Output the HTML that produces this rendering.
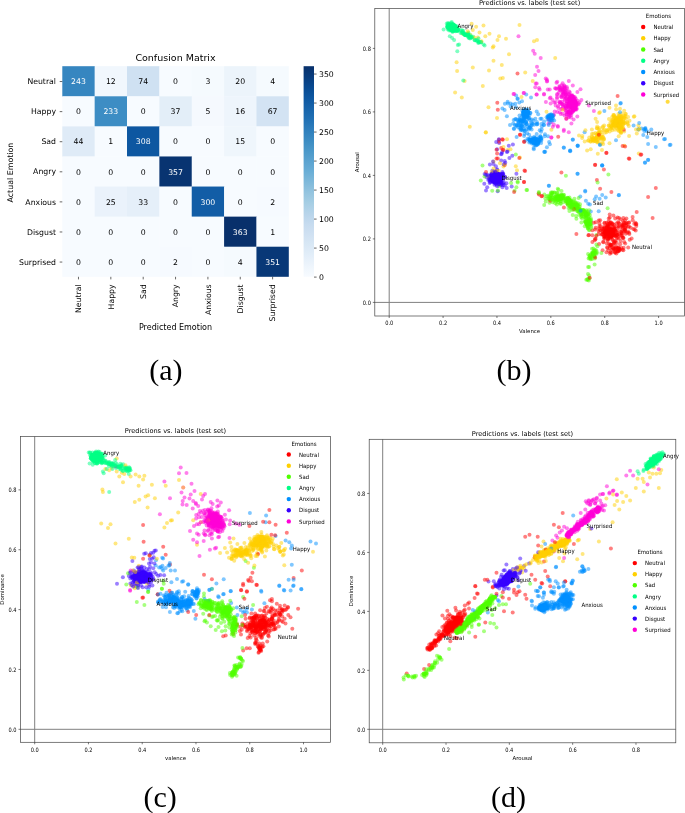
<!DOCTYPE html>
<html><head><meta charset="utf-8"><title>Figure</title>
<style>html,body{margin:0;padding:0;background:#fff}svg{display:block}text{font-family:"DejaVu Sans","Liberation Sans",sans-serif}.N{fill:#ff0000}.H{fill:#ffd000}.S{fill:#4fff00}.A{fill:#00ff86}.X{fill:#0090ff}.D{fill:#3700ff}.P{fill:#ff00d8}</style></head>
<body><svg width="685" height="813" viewBox="0 0 685 813">
<rect width="685" height="813" fill="#fff"/>
<rect x="62.30" y="66.20" width="32.66" height="30.39" fill="#3686c0"/>
<rect x="94.66" y="66.20" width="32.66" height="30.39" fill="#f1f7fd"/>
<rect x="127.01" y="66.20" width="32.66" height="30.39" fill="#cfe1f2"/>
<rect x="159.37" y="66.20" width="32.66" height="30.39" fill="#f7fbff"/>
<rect x="191.73" y="66.20" width="32.66" height="30.39" fill="#f5fafe"/>
<rect x="224.09" y="66.20" width="32.66" height="30.39" fill="#ecf4fb"/>
<rect x="256.44" y="66.20" width="32.36" height="30.39" fill="#f5fafe"/>
<rect x="62.30" y="96.29" width="32.66" height="30.39" fill="#f7fbff"/>
<rect x="94.66" y="96.29" width="32.66" height="30.39" fill="#3d8dc4"/>
<rect x="127.01" y="96.29" width="32.66" height="30.39" fill="#f7fbff"/>
<rect x="159.37" y="96.29" width="32.66" height="30.39" fill="#e3eef8"/>
<rect x="191.73" y="96.29" width="32.66" height="30.39" fill="#f5f9fe"/>
<rect x="224.09" y="96.29" width="32.66" height="30.39" fill="#eef5fc"/>
<rect x="256.44" y="96.29" width="32.36" height="30.39" fill="#d3e3f3"/>
<rect x="62.30" y="126.37" width="32.66" height="30.39" fill="#dfebf7"/>
<rect x="94.66" y="126.37" width="32.66" height="30.39" fill="#f7fbff"/>
<rect x="127.01" y="126.37" width="32.66" height="30.39" fill="#0d57a1"/>
<rect x="159.37" y="126.37" width="32.66" height="30.39" fill="#f7fbff"/>
<rect x="191.73" y="126.37" width="32.66" height="30.39" fill="#f7fbff"/>
<rect x="224.09" y="126.37" width="32.66" height="30.39" fill="#eff6fc"/>
<rect x="256.44" y="126.37" width="32.36" height="30.39" fill="#f7fbff"/>
<rect x="62.30" y="156.46" width="32.66" height="30.39" fill="#f7fbff"/>
<rect x="94.66" y="156.46" width="32.66" height="30.39" fill="#f7fbff"/>
<rect x="127.01" y="156.46" width="32.66" height="30.39" fill="#f7fbff"/>
<rect x="159.37" y="156.46" width="32.66" height="30.39" fill="#083471"/>
<rect x="191.73" y="156.46" width="32.66" height="30.39" fill="#f7fbff"/>
<rect x="224.09" y="156.46" width="32.66" height="30.39" fill="#f7fbff"/>
<rect x="256.44" y="156.46" width="32.36" height="30.39" fill="#f7fbff"/>
<rect x="62.30" y="186.54" width="32.66" height="30.39" fill="#f7fbff"/>
<rect x="94.66" y="186.54" width="32.66" height="30.39" fill="#eaf2fb"/>
<rect x="127.01" y="186.54" width="32.66" height="30.39" fill="#e5eff9"/>
<rect x="159.37" y="186.54" width="32.66" height="30.39" fill="#f7fbff"/>
<rect x="191.73" y="186.54" width="32.66" height="30.39" fill="#125da6"/>
<rect x="224.09" y="186.54" width="32.66" height="30.39" fill="#f7fbff"/>
<rect x="256.44" y="186.54" width="32.36" height="30.39" fill="#f6faff"/>
<rect x="62.30" y="216.63" width="32.66" height="30.39" fill="#f7fbff"/>
<rect x="94.66" y="216.63" width="32.66" height="30.39" fill="#f7fbff"/>
<rect x="127.01" y="216.63" width="32.66" height="30.39" fill="#f7fbff"/>
<rect x="159.37" y="216.63" width="32.66" height="30.39" fill="#f7fbff"/>
<rect x="191.73" y="216.63" width="32.66" height="30.39" fill="#f7fbff"/>
<rect x="224.09" y="216.63" width="32.66" height="30.39" fill="#08306b"/>
<rect x="256.44" y="216.63" width="32.36" height="30.39" fill="#f7fbff"/>
<rect x="62.30" y="246.71" width="32.66" height="30.09" fill="#f7fbff"/>
<rect x="94.66" y="246.71" width="32.66" height="30.09" fill="#f7fbff"/>
<rect x="127.01" y="246.71" width="32.66" height="30.09" fill="#f7fbff"/>
<rect x="159.37" y="246.71" width="32.66" height="30.09" fill="#f6faff"/>
<rect x="191.73" y="246.71" width="32.66" height="30.09" fill="#f7fbff"/>
<rect x="224.09" y="246.71" width="32.66" height="30.09" fill="#f5fafe"/>
<rect x="256.44" y="246.71" width="32.36" height="30.09" fill="#083877"/>
<text x="78.48" y="84.24" font-size="7.75" text-anchor="middle" fill="#fff">243</text>
<text x="110.84" y="84.24" font-size="7.75" text-anchor="middle" fill="#000">12</text>
<text x="143.19" y="84.24" font-size="7.75" text-anchor="middle" fill="#000">74</text>
<text x="175.55" y="84.24" font-size="7.75" text-anchor="middle" fill="#000">0</text>
<text x="207.91" y="84.24" font-size="7.75" text-anchor="middle" fill="#000">3</text>
<text x="240.26" y="84.24" font-size="7.75" text-anchor="middle" fill="#000">20</text>
<text x="272.62" y="84.24" font-size="7.75" text-anchor="middle" fill="#000">4</text>
<text x="78.48" y="114.33" font-size="7.75" text-anchor="middle" fill="#000">0</text>
<text x="110.84" y="114.33" font-size="7.75" text-anchor="middle" fill="#fff">233</text>
<text x="143.19" y="114.33" font-size="7.75" text-anchor="middle" fill="#000">0</text>
<text x="175.55" y="114.33" font-size="7.75" text-anchor="middle" fill="#000">37</text>
<text x="207.91" y="114.33" font-size="7.75" text-anchor="middle" fill="#000">5</text>
<text x="240.26" y="114.33" font-size="7.75" text-anchor="middle" fill="#000">16</text>
<text x="272.62" y="114.33" font-size="7.75" text-anchor="middle" fill="#000">67</text>
<text x="78.48" y="144.41" font-size="7.75" text-anchor="middle" fill="#000">44</text>
<text x="110.84" y="144.41" font-size="7.75" text-anchor="middle" fill="#000">1</text>
<text x="143.19" y="144.41" font-size="7.75" text-anchor="middle" fill="#fff">308</text>
<text x="175.55" y="144.41" font-size="7.75" text-anchor="middle" fill="#000">0</text>
<text x="207.91" y="144.41" font-size="7.75" text-anchor="middle" fill="#000">0</text>
<text x="240.26" y="144.41" font-size="7.75" text-anchor="middle" fill="#000">15</text>
<text x="272.62" y="144.41" font-size="7.75" text-anchor="middle" fill="#000">0</text>
<text x="78.48" y="174.50" font-size="7.75" text-anchor="middle" fill="#000">0</text>
<text x="110.84" y="174.50" font-size="7.75" text-anchor="middle" fill="#000">0</text>
<text x="143.19" y="174.50" font-size="7.75" text-anchor="middle" fill="#000">0</text>
<text x="175.55" y="174.50" font-size="7.75" text-anchor="middle" fill="#fff">357</text>
<text x="207.91" y="174.50" font-size="7.75" text-anchor="middle" fill="#000">0</text>
<text x="240.26" y="174.50" font-size="7.75" text-anchor="middle" fill="#000">0</text>
<text x="272.62" y="174.50" font-size="7.75" text-anchor="middle" fill="#000">0</text>
<text x="78.48" y="204.59" font-size="7.75" text-anchor="middle" fill="#000">0</text>
<text x="110.84" y="204.59" font-size="7.75" text-anchor="middle" fill="#000">25</text>
<text x="143.19" y="204.59" font-size="7.75" text-anchor="middle" fill="#000">33</text>
<text x="175.55" y="204.59" font-size="7.75" text-anchor="middle" fill="#000">0</text>
<text x="207.91" y="204.59" font-size="7.75" text-anchor="middle" fill="#fff">300</text>
<text x="240.26" y="204.59" font-size="7.75" text-anchor="middle" fill="#000">0</text>
<text x="272.62" y="204.59" font-size="7.75" text-anchor="middle" fill="#000">2</text>
<text x="78.48" y="234.67" font-size="7.75" text-anchor="middle" fill="#000">0</text>
<text x="110.84" y="234.67" font-size="7.75" text-anchor="middle" fill="#000">0</text>
<text x="143.19" y="234.67" font-size="7.75" text-anchor="middle" fill="#000">0</text>
<text x="175.55" y="234.67" font-size="7.75" text-anchor="middle" fill="#000">0</text>
<text x="207.91" y="234.67" font-size="7.75" text-anchor="middle" fill="#000">0</text>
<text x="240.26" y="234.67" font-size="7.75" text-anchor="middle" fill="#fff">363</text>
<text x="272.62" y="234.67" font-size="7.75" text-anchor="middle" fill="#000">1</text>
<text x="78.48" y="264.76" font-size="7.75" text-anchor="middle" fill="#000">0</text>
<text x="110.84" y="264.76" font-size="7.75" text-anchor="middle" fill="#000">0</text>
<text x="143.19" y="264.76" font-size="7.75" text-anchor="middle" fill="#000">0</text>
<text x="175.55" y="264.76" font-size="7.75" text-anchor="middle" fill="#000">2</text>
<text x="207.91" y="264.76" font-size="7.75" text-anchor="middle" fill="#000">0</text>
<text x="240.26" y="264.76" font-size="7.75" text-anchor="middle" fill="#000">4</text>
<text x="272.62" y="264.76" font-size="7.75" text-anchor="middle" fill="#fff">351</text>
<line x1="59.699999999999996" y1="81.54" x2="62.3" y2="81.54" stroke="#000" stroke-width="0.6"/>
<text x="56.0" y="84.19" font-size="7.75" text-anchor="end" fill="#000">Neutral</text>
<line x1="78.48" y1="276.8" x2="78.48" y2="279.40000000000003" stroke="#000" stroke-width="0.6"/>
<text x="81.28" y="284.40" font-size="7.75" text-anchor="end" fill="#000" transform="rotate(-90 81.28 284.40)">Neutral</text>
<line x1="59.699999999999996" y1="111.63" x2="62.3" y2="111.63" stroke="#000" stroke-width="0.6"/>
<text x="56.0" y="114.28" font-size="7.75" text-anchor="end" fill="#000">Happy</text>
<line x1="110.84" y1="276.8" x2="110.84" y2="279.40000000000003" stroke="#000" stroke-width="0.6"/>
<text x="113.64" y="284.40" font-size="7.75" text-anchor="end" fill="#000" transform="rotate(-90 113.64 284.40)">Happy</text>
<line x1="59.699999999999996" y1="141.71" x2="62.3" y2="141.71" stroke="#000" stroke-width="0.6"/>
<text x="56.0" y="144.36" font-size="7.75" text-anchor="end" fill="#000">Sad</text>
<line x1="143.19" y1="276.8" x2="143.19" y2="279.40000000000003" stroke="#000" stroke-width="0.6"/>
<text x="145.99" y="284.40" font-size="7.75" text-anchor="end" fill="#000" transform="rotate(-90 145.99 284.40)">Sad</text>
<line x1="59.699999999999996" y1="171.80" x2="62.3" y2="171.80" stroke="#000" stroke-width="0.6"/>
<text x="56.0" y="174.45" font-size="7.75" text-anchor="end" fill="#000">Angry</text>
<line x1="175.55" y1="276.8" x2="175.55" y2="279.40000000000003" stroke="#000" stroke-width="0.6"/>
<text x="178.35" y="284.40" font-size="7.75" text-anchor="end" fill="#000" transform="rotate(-90 178.35 284.40)">Angry</text>
<line x1="59.699999999999996" y1="201.89" x2="62.3" y2="201.89" stroke="#000" stroke-width="0.6"/>
<text x="56.0" y="204.54" font-size="7.75" text-anchor="end" fill="#000">Anxious</text>
<line x1="207.91" y1="276.8" x2="207.91" y2="279.40000000000003" stroke="#000" stroke-width="0.6"/>
<text x="210.71" y="284.40" font-size="7.75" text-anchor="end" fill="#000" transform="rotate(-90 210.71 284.40)">Anxious</text>
<line x1="59.699999999999996" y1="231.97" x2="62.3" y2="231.97" stroke="#000" stroke-width="0.6"/>
<text x="56.0" y="234.62" font-size="7.75" text-anchor="end" fill="#000">Disgust</text>
<line x1="240.26" y1="276.8" x2="240.26" y2="279.40000000000003" stroke="#000" stroke-width="0.6"/>
<text x="243.06" y="284.40" font-size="7.75" text-anchor="end" fill="#000" transform="rotate(-90 243.06 284.40)">Disgust</text>
<line x1="59.699999999999996" y1="262.06" x2="62.3" y2="262.06" stroke="#000" stroke-width="0.6"/>
<text x="56.0" y="264.71" font-size="7.75" text-anchor="end" fill="#000">Surprised</text>
<line x1="272.62" y1="276.8" x2="272.62" y2="279.40000000000003" stroke="#000" stroke-width="0.6"/>
<text x="275.42" y="284.40" font-size="7.75" text-anchor="end" fill="#000" transform="rotate(-90 275.42 284.40)">Surprised</text>
<text x="175.5" y="61" font-size="9.5" text-anchor="middle" fill="#000">Confusion Matrix</text>
<text x="175.5" y="330.2" font-size="8" text-anchor="middle" fill="#000">Predicted Emotion</text>
<text x="13.5" y="172.6" font-size="7.9" text-anchor="middle" fill="#000" transform="rotate(-90 13.5 172.6)">Actual Emotion</text>
<defs><linearGradient id="cb" x1="0" y1="1" x2="0" y2="0"><stop offset="0.0" stop-color="#f7fbff"/><stop offset="0.05" stop-color="#eef5fc"/><stop offset="0.1" stop-color="#e3eef9"/><stop offset="0.15" stop-color="#d9e8f5"/><stop offset="0.2" stop-color="#d0e1f2"/><stop offset="0.25" stop-color="#c6dbef"/><stop offset="0.3" stop-color="#b7d4ea"/><stop offset="0.35" stop-color="#a6cee4"/><stop offset="0.4" stop-color="#94c4df"/><stop offset="0.45" stop-color="#7fb9da"/><stop offset="0.5" stop-color="#6aaed6"/><stop offset="0.55" stop-color="#5ba3d0"/><stop offset="0.6" stop-color="#4a98c9"/><stop offset="0.65" stop-color="#3b8bc2"/><stop offset="0.7" stop-color="#2e7ebc"/><stop offset="0.75" stop-color="#2070b4"/><stop offset="0.8" stop-color="#1764ab"/><stop offset="0.85" stop-color="#0d57a1"/><stop offset="0.9" stop-color="#084a91"/><stop offset="0.95" stop-color="#083c7d"/><stop offset="1.0" stop-color="#08306b"/></linearGradient></defs>
<rect x="303.6" y="66.2" width="10.399999999999977" height="210.60000000000002" fill="url(#cb)"/>
<line x1="314.0" y1="277.10" x2="316.6" y2="277.10" stroke="#000" stroke-width="0.6"/>
<text x="319.0" y="280.30" font-size="7.75" text-anchor="start" fill="#000">0</text>
<line x1="314.0" y1="248.09" x2="316.6" y2="248.09" stroke="#000" stroke-width="0.6"/>
<text x="319.0" y="251.29" font-size="7.75" text-anchor="start" fill="#000">50</text>
<line x1="314.0" y1="219.08" x2="316.6" y2="219.08" stroke="#000" stroke-width="0.6"/>
<text x="319.0" y="222.28" font-size="7.75" text-anchor="start" fill="#000">100</text>
<line x1="314.0" y1="190.08" x2="316.6" y2="190.08" stroke="#000" stroke-width="0.6"/>
<text x="319.0" y="193.28" font-size="7.75" text-anchor="start" fill="#000">150</text>
<line x1="314.0" y1="161.07" x2="316.6" y2="161.07" stroke="#000" stroke-width="0.6"/>
<text x="319.0" y="164.27" font-size="7.75" text-anchor="start" fill="#000">200</text>
<line x1="314.0" y1="132.06" x2="316.6" y2="132.06" stroke="#000" stroke-width="0.6"/>
<text x="319.0" y="135.26" font-size="7.75" text-anchor="start" fill="#000">250</text>
<line x1="314.0" y1="103.05" x2="316.6" y2="103.05" stroke="#000" stroke-width="0.6"/>
<text x="319.0" y="106.25" font-size="7.75" text-anchor="start" fill="#000">300</text>
<line x1="314.0" y1="74.04" x2="316.6" y2="74.04" stroke="#000" stroke-width="0.6"/>
<text x="319.0" y="77.24" font-size="7.75" text-anchor="start" fill="#000">350</text>
<g fill-opacity=".5">
<circle class="A" cx="452.1" cy="27.4" r="2"/><circle class="A" cx="453.9" cy="25.3" r="2"/><circle class="P" cx="571.8" cy="104.9" r="2"/><circle class="S" cx="575.4" cy="209.2" r="2"/><circle class="N" cx="524.0" cy="182.0" r="2"/><circle class="N" cx="604.9" cy="233.3" r="2"/><circle class="P" cx="571.1" cy="96.6" r="2"/><circle class="A" cx="452.5" cy="27.8" r="2"/><circle class="D" cx="495.5" cy="178.6" r="2"/><circle class="P" cx="575.1" cy="101.1" r="2"/><circle class="H" cx="555.2" cy="57.9" r="2"/><circle class="H" cx="485.3" cy="36.2" r="2"/><circle class="H" cx="610.5" cy="122.2" r="2"/><circle class="H" cx="618.2" cy="123.1" r="2"/><circle class="S" cx="568.5" cy="202.4" r="2"/><circle class="H" cx="617.0" cy="126.4" r="2"/><circle class="A" cx="462.9" cy="32.7" r="2"/><circle class="D" cx="499.0" cy="174.9" r="2"/><circle class="P" cx="547.2" cy="81.1" r="2"/><circle class="H" cx="517.0" cy="170.3" r="2"/><circle class="P" cx="572.2" cy="99.0" r="2"/><circle class="H" cx="599.7" cy="137.7" r="2"/><circle class="X" cx="536.7" cy="111.4" r="2"/><circle class="S" cx="587.7" cy="225.1" r="2"/><circle class="S" cx="589.4" cy="257.7" r="2"/><circle class="S" cx="556.9" cy="197.6" r="2"/><circle class="A" cx="453.0" cy="25.5" r="2"/><circle class="X" cx="550.0" cy="116.4" r="2"/><circle class="X" cx="598.7" cy="211.2" r="2"/><circle class="H" cx="593.3" cy="138.5" r="2"/><circle class="N" cx="619.0" cy="218.0" r="2"/><circle class="N" cx="621.5" cy="232.0" r="2"/><circle class="A" cx="453.0" cy="24.6" r="2"/><circle class="A" cx="455.9" cy="27.9" r="2"/><circle class="H" cx="621.2" cy="118.2" r="2"/><circle class="N" cx="614.4" cy="243.3" r="2"/><circle class="N" cx="609.9" cy="237.9" r="2"/><circle class="X" cx="526.8" cy="114.5" r="2"/><circle class="D" cx="506.4" cy="183.3" r="2"/><circle class="X" cx="527.5" cy="109.5" r="2"/><circle class="D" cx="496.1" cy="177.7" r="2"/><circle class="S" cx="551.4" cy="198.0" r="2"/><circle class="A" cx="449.4" cy="27.0" r="2"/><circle class="D" cx="495.2" cy="179.3" r="2"/><circle class="D" cx="493.3" cy="175.5" r="2"/><circle class="P" cx="568.4" cy="93.9" r="2"/><circle class="P" cx="564.3" cy="97.2" r="2"/><circle class="A" cx="453.3" cy="26.6" r="2"/><circle class="A" cx="450.4" cy="27.4" r="2"/><circle class="X" cx="550.8" cy="118.2" r="2"/><circle class="P" cx="562.6" cy="92.6" r="2"/><circle class="D" cx="496.5" cy="175.0" r="2"/><circle class="A" cx="452.9" cy="29.4" r="2"/><circle class="H" cx="489.0" cy="70.4" r="2"/><circle class="H" cx="628.8" cy="126.1" r="2"/><circle class="N" cx="619.4" cy="248.7" r="2"/><circle class="S" cx="570.4" cy="202.7" r="2"/><circle class="S" cx="550.3" cy="197.6" r="2"/><circle class="X" cx="524.7" cy="123.0" r="2"/><circle class="D" cx="500.4" cy="182.2" r="2"/><circle class="S" cx="548.0" cy="195.7" r="2"/><circle class="N" cx="524.3" cy="141.7" r="2"/><circle class="A" cx="447.7" cy="25.1" r="2"/><circle class="D" cx="495.4" cy="175.7" r="2"/><circle class="A" cx="449.6" cy="27.6" r="2"/><circle class="A" cx="449.4" cy="27.7" r="2"/><circle class="S" cx="580.6" cy="209.4" r="2"/><circle class="N" cx="606.8" cy="243.5" r="2"/><circle class="N" cx="606.4" cy="152.8" r="2"/><circle class="H" cx="592.1" cy="139.9" r="2"/><circle class="D" cx="496.4" cy="179.9" r="2"/><circle class="X" cx="563.9" cy="147.8" r="2"/><circle class="A" cx="478.3" cy="43.1" r="2"/><circle class="S" cx="552.4" cy="192.3" r="2"/><circle class="N" cx="607.6" cy="240.8" r="2"/><circle class="P" cx="569.2" cy="98.4" r="2"/><circle class="X" cx="536.7" cy="123.8" r="2"/><circle class="S" cx="595.6" cy="253.8" r="2"/><circle class="H" cx="620.8" cy="132.0" r="2"/><circle class="A" cx="481.0" cy="42.5" r="2"/><circle class="S" cx="588.9" cy="226.9" r="2"/><circle class="A" cx="448.3" cy="26.2" r="2"/><circle class="S" cx="589.4" cy="224.1" r="2"/><circle class="H" cx="617.7" cy="125.7" r="2"/><circle class="N" cx="608.0" cy="239.5" r="2"/><circle class="S" cx="594.8" cy="256.8" r="2"/><circle class="N" cx="629.4" cy="234.1" r="2"/><circle class="D" cx="494.8" cy="177.7" r="2"/><circle class="S" cx="557.9" cy="199.9" r="2"/><circle class="D" cx="498.3" cy="179.2" r="2"/><circle class="D" cx="493.8" cy="174.5" r="2"/><circle class="N" cx="614.7" cy="248.8" r="2"/><circle class="P" cx="563.4" cy="94.1" r="2"/><circle class="D" cx="498.7" cy="175.4" r="2"/><circle class="X" cx="551.1" cy="116.8" r="2"/><circle class="S" cx="587.2" cy="279.4" r="2"/><circle class="P" cx="574.3" cy="104.5" r="2"/><circle class="D" cx="491.6" cy="175.0" r="2"/><circle class="D" cx="501.2" cy="160.4" r="2"/><circle class="D" cx="502.3" cy="176.3" r="2"/><circle class="S" cx="592.1" cy="252.8" r="2"/><circle class="X" cx="518.2" cy="121.9" r="2"/><circle class="S" cx="560.1" cy="203.6" r="2"/><circle class="N" cx="617.5" cy="217.5" r="2"/><circle class="P" cx="536.7" cy="83.6" r="2"/><circle class="D" cx="491.3" cy="175.2" r="2"/><circle class="D" cx="499.2" cy="183.9" r="2"/><circle class="H" cx="616.9" cy="121.9" r="2"/><circle class="A" cx="452.7" cy="27.6" r="2"/><circle class="H" cx="625.4" cy="116.1" r="2"/><circle class="A" cx="454.0" cy="26.8" r="2"/><circle class="S" cx="572.3" cy="204.2" r="2"/><circle class="P" cx="564.6" cy="89.2" r="2"/><circle class="X" cx="572.9" cy="139.6" r="2"/><circle class="A" cx="451.1" cy="30.6" r="2"/><circle class="D" cx="501.8" cy="178.7" r="2"/><circle class="A" cx="456.7" cy="29.0" r="2"/><circle class="S" cx="568.5" cy="207.9" r="2"/><circle class="N" cx="602.6" cy="250.2" r="2"/><circle class="S" cx="559.6" cy="197.1" r="2"/><circle class="X" cx="530.3" cy="128.3" r="2"/><circle class="D" cx="491.9" cy="174.3" r="2"/><circle class="A" cx="450.9" cy="26.8" r="2"/><circle class="P" cx="570.7" cy="104.5" r="2"/><circle class="X" cx="539.5" cy="141.5" r="2"/><circle class="D" cx="494.2" cy="171.2" r="2"/><circle class="A" cx="449.7" cy="26.2" r="2"/><circle class="H" cx="618.2" cy="117.2" r="2"/><circle class="N" cx="610.1" cy="233.3" r="2"/><circle class="P" cx="560.4" cy="102.3" r="2"/><circle class="X" cx="531.7" cy="140.2" r="2"/><circle class="P" cx="523.6" cy="93.1" r="2"/><circle class="P" cx="568.4" cy="112.0" r="2"/><circle class="H" cx="620.6" cy="121.6" r="2"/><circle class="P" cx="570.9" cy="104.9" r="2"/><circle class="X" cx="665.0" cy="139.0" r="2"/><circle class="N" cx="604.7" cy="236.8" r="2"/><circle class="S" cx="571.4" cy="201.7" r="2"/><circle class="S" cx="552.7" cy="193.1" r="2"/><circle class="X" cx="532.4" cy="142.5" r="2"/><circle class="S" cx="581.2" cy="217.2" r="2"/><circle class="H" cx="623.1" cy="124.4" r="2"/><circle class="D" cx="484.3" cy="183.7" r="2"/><circle class="X" cx="541.6" cy="118.7" r="2"/><circle class="A" cx="478.8" cy="42.6" r="2"/><circle class="P" cx="567.1" cy="112.6" r="2"/><circle class="X" cx="527.2" cy="112.4" r="2"/><circle class="N" cx="599.5" cy="226.2" r="2"/><circle class="P" cx="572.2" cy="112.5" r="2"/><circle class="S" cx="560.8" cy="195.8" r="2"/><circle class="H" cx="615.9" cy="127.9" r="2"/><circle class="H" cx="503.5" cy="166.6" r="2"/><circle class="P" cx="518.5" cy="36.2" r="2"/><circle class="H" cx="624.3" cy="145.8" r="2"/><circle class="N" cx="636.3" cy="226.1" r="2"/><circle class="A" cx="452.2" cy="26.0" r="2"/><circle class="X" cx="527.4" cy="126.5" r="2"/><circle class="P" cx="575.3" cy="109.1" r="2"/><circle class="N" cx="576.4" cy="234.1" r="2"/><circle class="X" cx="526.0" cy="117.3" r="2"/><circle class="D" cx="494.3" cy="175.9" r="2"/><circle class="N" cx="617.6" cy="96.1" r="2"/><circle class="X" cx="526.6" cy="114.4" r="2"/><circle class="X" cx="525.5" cy="112.9" r="2"/><circle class="N" cx="624.8" cy="230.2" r="2"/><circle class="A" cx="484.6" cy="45.4" r="2"/><circle class="H" cx="618.8" cy="118.9" r="2"/><circle class="H" cx="667.5" cy="101.8" r="2"/><circle class="S" cx="578.1" cy="205.8" r="2"/><circle class="N" cx="605.8" cy="236.1" r="2"/><circle class="X" cx="523.4" cy="120.8" r="2"/><circle class="S" cx="558.5" cy="196.5" r="2"/><circle class="S" cx="583.3" cy="210.3" r="2"/><circle class="N" cx="616.4" cy="253.4" r="2"/><circle class="P" cx="575.4" cy="108.6" r="2"/><circle class="D" cx="494.8" cy="175.3" r="2"/><circle class="S" cx="516.4" cy="187.2" r="2"/><circle class="N" cx="617.9" cy="230.5" r="2"/><circle class="D" cx="494.8" cy="173.9" r="2"/><circle class="N" cx="612.0" cy="246.7" r="2"/><circle class="H" cx="615.8" cy="119.4" r="2"/><circle class="P" cx="563.9" cy="129.8" r="2"/><circle class="A" cx="452.0" cy="25.7" r="2"/><circle class="A" cx="449.4" cy="26.9" r="2"/><circle class="S" cx="572.3" cy="210.0" r="2"/><circle class="X" cx="523.6" cy="119.1" r="2"/><circle class="A" cx="451.5" cy="28.6" r="2"/><circle class="X" cx="516.1" cy="118.9" r="2"/><circle class="H" cx="616.8" cy="124.6" r="2"/><circle class="A" cx="452.9" cy="26.1" r="2"/><circle class="A" cx="454.7" cy="26.6" r="2"/><circle class="N" cx="611.1" cy="228.9" r="2"/><circle class="H" cx="624.1" cy="131.6" r="2"/><circle class="X" cx="531.7" cy="139.9" r="2"/><circle class="D" cx="506.7" cy="188.1" r="2"/><circle class="X" cx="549.1" cy="142.0" r="2"/><circle class="P" cx="570.2" cy="98.4" r="2"/><circle class="S" cx="590.9" cy="220.6" r="2"/><circle class="D" cx="496.0" cy="180.6" r="2"/><circle class="S" cx="576.9" cy="207.8" r="2"/><circle class="H" cx="619.0" cy="115.7" r="2"/><circle class="H" cx="638.4" cy="125.5" r="2"/><circle class="X" cx="516.3" cy="125.9" r="2"/><circle class="H" cx="617.3" cy="122.3" r="2"/><circle class="H" cx="612.3" cy="128.1" r="2"/><circle class="D" cx="497.5" cy="173.9" r="2"/><circle class="S" cx="571.1" cy="200.4" r="2"/><circle class="A" cx="451.2" cy="25.2" r="2"/><circle class="X" cx="533.8" cy="149.3" r="2"/><circle class="D" cx="502.4" cy="187.2" r="2"/><circle class="N" cx="567.7" cy="203.7" r="2"/><circle class="N" cx="610.5" cy="244.6" r="2"/><circle class="S" cx="588.5" cy="213.9" r="2"/><circle class="N" cx="636.0" cy="224.2" r="2"/><circle class="A" cx="452.1" cy="27.6" r="2"/><circle class="D" cx="501.9" cy="178.2" r="2"/><circle class="D" cx="492.4" cy="176.5" r="2"/><circle class="X" cx="524.5" cy="112.3" r="2"/><circle class="A" cx="455.2" cy="27.3" r="2"/><circle class="D" cx="493.7" cy="179.3" r="2"/><circle class="P" cx="563.0" cy="106.8" r="2"/><circle class="P" cx="568.3" cy="112.0" r="2"/><circle class="S" cx="563.4" cy="202.2" r="2"/><circle class="X" cx="572.7" cy="139.8" r="2"/><circle class="S" cx="590.7" cy="218.3" r="2"/><circle class="H" cx="623.5" cy="122.1" r="2"/><circle class="A" cx="456.2" cy="30.4" r="2"/><circle class="P" cx="569.2" cy="112.1" r="2"/><circle class="A" cx="451.8" cy="27.4" r="2"/><circle class="S" cx="580.9" cy="214.2" r="2"/><circle class="P" cx="558.8" cy="88.8" r="2"/><circle class="X" cx="525.3" cy="113.2" r="2"/><circle class="N" cx="617.7" cy="251.6" r="2"/><circle class="P" cx="571.5" cy="112.3" r="2"/><circle class="D" cx="494.3" cy="177.5" r="2"/><circle class="X" cx="531.0" cy="122.8" r="2"/><circle class="X" cx="633.6" cy="125.5" r="2"/><circle class="A" cx="450.7" cy="28.8" r="2"/><circle class="P" cx="545.7" cy="78.6" r="2"/><circle class="A" cx="452.3" cy="30.3" r="2"/><circle class="S" cx="571.6" cy="207.1" r="2"/><circle class="S" cx="558.6" cy="195.5" r="2"/><circle class="A" cx="448.8" cy="27.8" r="2"/><circle class="H" cx="613.3" cy="115.1" r="2"/><circle class="A" cx="453.4" cy="27.9" r="2"/><circle class="P" cx="571.4" cy="95.5" r="2"/><circle class="D" cx="499.4" cy="178.6" r="2"/><circle class="X" cx="534.2" cy="136.8" r="2"/><circle class="N" cx="615.2" cy="218.6" r="2"/><circle class="P" cx="557.2" cy="81.8" r="2"/><circle class="S" cx="527.1" cy="190.1" r="2"/><circle class="A" cx="450.6" cy="28.0" r="2"/><circle class="X" cx="521.4" cy="128.6" r="2"/><circle class="H" cx="620.9" cy="127.5" r="2"/><circle class="P" cx="575.4" cy="102.6" r="2"/><circle class="A" cx="453.0" cy="29.7" r="2"/><circle class="D" cx="493.5" cy="164.0" r="2"/><circle class="D" cx="495.6" cy="176.1" r="2"/><circle class="D" cx="497.3" cy="176.2" r="2"/><circle class="D" cx="498.0" cy="179.0" r="2"/><circle class="A" cx="452.2" cy="27.2" r="2"/><circle class="S" cx="586.8" cy="213.8" r="2"/><circle class="N" cx="625.7" cy="233.7" r="2"/><circle class="P" cx="571.3" cy="105.3" r="2"/><circle class="P" cx="570.6" cy="113.6" r="2"/><circle class="S" cx="563.2" cy="198.6" r="2"/><circle class="N" cx="618.1" cy="247.7" r="2"/><circle class="A" cx="450.7" cy="25.9" r="2"/><circle class="S" cx="558.3" cy="202.2" r="2"/><circle class="D" cx="498.4" cy="180.9" r="2"/><circle class="N" cx="620.7" cy="219.2" r="2"/><circle class="D" cx="496.5" cy="181.5" r="2"/><circle class="X" cx="524.5" cy="134.0" r="2"/><circle class="S" cx="570.5" cy="202.8" r="2"/><circle class="S" cx="580.0" cy="209.7" r="2"/><circle class="N" cx="605.1" cy="233.8" r="2"/><circle class="S" cx="608.4" cy="174.5" r="2"/><circle class="H" cx="624.5" cy="118.2" r="2"/><circle class="N" cx="497.3" cy="102.8" r="2"/><circle class="P" cx="570.8" cy="102.9" r="2"/><circle class="S" cx="556.9" cy="193.0" r="2"/><circle class="P" cx="535.7" cy="83.6" r="2"/><circle class="S" cx="552.2" cy="196.9" r="2"/><circle class="X" cx="533.7" cy="141.6" r="2"/><circle class="N" cx="608.9" cy="234.5" r="2"/><circle class="H" cx="620.1" cy="125.6" r="2"/><circle class="D" cx="488.3" cy="180.0" r="2"/><circle class="P" cx="568.7" cy="104.6" r="2"/><circle class="D" cx="500.4" cy="175.9" r="2"/><circle class="H" cx="590.8" cy="141.5" r="2"/><circle class="N" cx="632.6" cy="217.0" r="2"/><circle class="X" cx="638.4" cy="129.3" r="2"/><circle class="D" cx="498.4" cy="182.7" r="2"/><circle class="A" cx="451.7" cy="21.9" r="2"/><circle class="D" cx="493.7" cy="179.0" r="2"/><circle class="S" cx="563.4" cy="198.0" r="2"/><circle class="S" cx="586.5" cy="210.2" r="2"/><circle class="S" cx="566.8" cy="199.9" r="2"/><circle class="D" cx="496.5" cy="176.3" r="2"/><circle class="P" cx="550.5" cy="97.6" r="2"/><circle class="A" cx="456.6" cy="28.0" r="2"/><circle class="N" cx="613.4" cy="215.5" r="2"/><circle class="D" cx="498.1" cy="176.6" r="2"/><circle class="H" cx="597.4" cy="136.0" r="2"/><circle class="A" cx="451.8" cy="30.0" r="2"/><circle class="P" cx="572.1" cy="104.3" r="2"/><circle class="D" cx="495.3" cy="180.7" r="2"/><circle class="X" cx="529.4" cy="139.4" r="2"/><circle class="N" cx="497.8" cy="158.5" r="2"/><circle class="S" cx="551.4" cy="195.2" r="2"/><circle class="S" cx="567.9" cy="201.2" r="2"/><circle class="N" cx="611.3" cy="230.6" r="2"/><circle class="A" cx="457.2" cy="30.1" r="2"/><circle class="N" cx="624.9" cy="220.2" r="2"/><circle class="S" cx="558.4" cy="189.7" r="2"/><circle class="A" cx="455.4" cy="30.1" r="2"/><circle class="S" cx="596.4" cy="234.9" r="2"/><circle class="S" cx="549.9" cy="199.2" r="2"/><circle class="P" cx="558.0" cy="106.3" r="2"/><circle class="N" cx="607.8" cy="233.6" r="2"/><circle class="D" cx="497.0" cy="169.2" r="2"/><circle class="D" cx="492.7" cy="180.9" r="2"/><circle class="S" cx="559.2" cy="198.8" r="2"/><circle class="D" cx="497.4" cy="180.4" r="2"/><circle class="D" cx="499.0" cy="176.4" r="2"/><circle class="D" cx="494.5" cy="181.3" r="2"/><circle class="P" cx="573.1" cy="98.2" r="2"/><circle class="D" cx="494.2" cy="178.3" r="2"/><circle class="S" cx="580.9" cy="210.5" r="2"/><circle class="S" cx="494.4" cy="178.3" r="2"/><circle class="D" cx="496.0" cy="175.1" r="2"/><circle class="P" cx="573.7" cy="105.9" r="2"/><circle class="P" cx="572.8" cy="106.2" r="2"/><circle class="N" cx="615.1" cy="252.4" r="2"/><circle class="H" cx="619.2" cy="127.4" r="2"/><circle class="D" cx="499.9" cy="180.3" r="2"/><circle class="P" cx="569.8" cy="92.5" r="2"/><circle class="P" cx="570.5" cy="105.1" r="2"/><circle class="X" cx="604.4" cy="111.1" r="2"/><circle class="P" cx="568.3" cy="99.9" r="2"/><circle class="X" cx="530.6" cy="137.4" r="2"/><circle class="A" cx="465.0" cy="34.7" r="2"/><circle class="X" cx="524.0" cy="115.4" r="2"/><circle class="S" cx="563.3" cy="194.7" r="2"/><circle class="S" cx="582.2" cy="218.5" r="2"/><circle class="N" cx="617.5" cy="248.9" r="2"/><circle class="N" cx="623.8" cy="129.8" r="2"/><circle class="D" cx="492.0" cy="179.7" r="2"/><circle class="N" cx="607.5" cy="231.0" r="2"/><circle class="D" cx="497.3" cy="178.6" r="2"/><circle class="H" cx="620.8" cy="120.8" r="2"/><circle class="A" cx="447.6" cy="26.4" r="2"/><circle class="X" cx="544.7" cy="136.2" r="2"/><circle class="X" cx="528.0" cy="112.1" r="2"/><circle class="H" cx="619.8" cy="120.0" r="2"/><circle class="A" cx="474.6" cy="40.2" r="2"/><circle class="H" cx="618.5" cy="120.6" r="2"/><circle class="X" cx="524.5" cy="117.3" r="2"/><circle class="P" cx="574.6" cy="103.9" r="2"/><circle class="P" cx="570.4" cy="105.5" r="2"/><circle class="P" cx="570.7" cy="105.6" r="2"/><circle class="N" cx="592.3" cy="235.2" r="2"/><circle class="N" cx="612.4" cy="238.9" r="2"/><circle class="X" cx="519.5" cy="115.5" r="2"/><circle class="N" cx="615.1" cy="241.5" r="2"/><circle class="S" cx="577.1" cy="206.9" r="2"/><circle class="X" cx="531.6" cy="129.4" r="2"/><circle class="D" cx="491.3" cy="174.8" r="2"/><circle class="D" cx="498.5" cy="177.8" r="2"/><circle class="A" cx="449.8" cy="25.5" r="2"/><circle class="P" cx="567.4" cy="97.1" r="2"/><circle class="D" cx="492.4" cy="170.8" r="2"/><circle class="H" cx="624.2" cy="110.8" r="2"/><circle class="X" cx="529.9" cy="140.0" r="2"/><circle class="S" cx="566.4" cy="199.3" r="2"/><circle class="A" cx="449.8" cy="25.0" r="2"/><circle class="S" cx="585.9" cy="217.1" r="2"/><circle class="X" cx="534.3" cy="144.7" r="2"/><circle class="X" cx="602.1" cy="165.5" r="2"/><circle class="H" cx="598.4" cy="133.5" r="2"/><circle class="P" cx="571.6" cy="96.1" r="2"/><circle class="N" cx="610.0" cy="228.7" r="2"/><circle class="P" cx="571.3" cy="97.0" r="2"/><circle class="H" cx="600.7" cy="136.2" r="2"/><circle class="D" cx="503.2" cy="185.3" r="2"/><circle class="A" cx="468.6" cy="37.8" r="2"/><circle class="S" cx="595.3" cy="252.7" r="2"/><circle class="S" cx="567.4" cy="197.8" r="2"/><circle class="D" cx="495.2" cy="175.2" r="2"/><circle class="X" cx="647.3" cy="137.1" r="2"/><circle class="X" cx="638.4" cy="129.5" r="2"/><circle class="H" cx="613.7" cy="123.8" r="2"/><circle class="A" cx="465.6" cy="35.1" r="2"/><circle class="N" cx="607.5" cy="225.4" r="2"/><circle class="X" cx="541.3" cy="140.4" r="2"/><circle class="N" cx="504.7" cy="165.0" r="2"/><circle class="A" cx="452.5" cy="31.9" r="2"/><circle class="H" cx="619.7" cy="129.1" r="2"/><circle class="A" cx="450.6" cy="25.2" r="2"/><circle class="X" cx="518.1" cy="127.6" r="2"/><circle class="X" cx="585.2" cy="191.4" r="2"/><circle class="D" cx="495.2" cy="180.5" r="2"/><circle class="P" cx="588.9" cy="105.6" r="2"/><circle class="P" cx="545.9" cy="101.9" r="2"/><circle class="X" cx="506.9" cy="116.3" r="2"/><circle class="P" cx="555.1" cy="88.2" r="2"/><circle class="X" cx="577.7" cy="145.9" r="2"/><circle class="D" cx="498.1" cy="176.7" r="2"/><circle class="S" cx="577.9" cy="203.2" r="2"/><circle class="P" cx="567.4" cy="99.3" r="2"/><circle class="P" cx="574.4" cy="101.3" r="2"/><circle class="P" cx="565.7" cy="94.8" r="2"/><circle class="X" cx="523.7" cy="117.8" r="2"/><circle class="N" cx="595.1" cy="164.8" r="2"/><circle class="D" cx="489.9" cy="176.7" r="2"/><circle class="X" cx="541.1" cy="131.8" r="2"/><circle class="X" cx="527.1" cy="115.7" r="2"/><circle class="P" cx="544.0" cy="93.9" r="2"/><circle class="A" cx="450.5" cy="27.2" r="2"/><circle class="P" cx="572.6" cy="96.4" r="2"/><circle class="H" cx="628.1" cy="117.0" r="2"/><circle class="D" cx="491.7" cy="176.3" r="2"/><circle class="A" cx="451.5" cy="28.3" r="2"/><circle class="N" cx="605.9" cy="232.8" r="2"/><circle class="N" cx="612.5" cy="223.6" r="2"/><circle class="P" cx="562.7" cy="92.7" r="2"/><circle class="A" cx="454.1" cy="25.3" r="2"/><circle class="S" cx="588.3" cy="227.1" r="2"/><circle class="H" cx="510.5" cy="149.3" r="2"/><circle class="N" cx="609.1" cy="244.1" r="2"/><circle class="N" cx="608.8" cy="234.5" r="2"/><circle class="D" cx="503.7" cy="182.4" r="2"/><circle class="X" cx="641.6" cy="128.6" r="2"/><circle class="H" cx="615.3" cy="116.7" r="2"/><circle class="X" cx="537.9" cy="139.5" r="2"/><circle class="P" cx="572.4" cy="95.3" r="2"/><circle class="N" cx="611.8" cy="224.8" r="2"/><circle class="D" cx="497.6" cy="179.6" r="2"/><circle class="H" cx="470.3" cy="34.9" r="2"/><circle class="D" cx="494.6" cy="179.1" r="2"/><circle class="P" cx="563.7" cy="93.5" r="2"/><circle class="S" cx="559.2" cy="198.8" r="2"/><circle class="P" cx="575.9" cy="102.2" r="2"/><circle class="H" cx="476.1" cy="26.7" r="2"/><circle class="H" cx="615.1" cy="120.0" r="2"/><circle class="X" cx="514.1" cy="128.7" r="2"/><circle class="A" cx="451.4" cy="30.0" r="2"/><circle class="N" cx="517.5" cy="73.6" r="2"/><circle class="D" cx="496.2" cy="180.5" r="2"/><circle class="N" cx="609.8" cy="217.5" r="2"/><circle class="P" cx="559.8" cy="87.8" r="2"/><circle class="H" cx="519.9" cy="157.4" r="2"/><circle class="X" cx="533.6" cy="140.4" r="2"/><circle class="X" cx="543.7" cy="124.7" r="2"/><circle class="P" cx="570.5" cy="112.7" r="2"/><circle class="H" cx="488.4" cy="176.7" r="2"/><circle class="S" cx="575.9" cy="202.8" r="2"/><circle class="S" cx="548.9" cy="199.0" r="2"/><circle class="S" cx="588.0" cy="222.0" r="2"/><circle class="P" cx="572.9" cy="103.5" r="2"/><circle class="X" cx="534.7" cy="139.8" r="2"/><circle class="D" cx="503.7" cy="164.3" r="2"/><circle class="H" cx="624.5" cy="123.3" r="2"/><circle class="S" cx="559.9" cy="197.6" r="2"/><circle class="D" cx="492.4" cy="178.6" r="2"/><circle class="X" cx="522.8" cy="114.5" r="2"/><circle class="N" cx="605.5" cy="230.7" r="2"/><circle class="D" cx="498.8" cy="178.3" r="2"/><circle class="X" cx="537.8" cy="142.1" r="2"/><circle class="N" cx="604.9" cy="237.0" r="2"/><circle class="H" cx="589.3" cy="137.4" r="2"/><circle class="X" cx="538.2" cy="142.6" r="2"/><circle class="H" cx="493.5" cy="60.7" r="2"/><circle class="D" cx="494.2" cy="178.1" r="2"/><circle class="H" cx="601.9" cy="134.7" r="2"/><circle class="P" cx="574.0" cy="99.8" r="2"/><circle class="N" cx="608.6" cy="231.0" r="2"/><circle class="N" cx="602.9" cy="234.2" r="2"/><circle class="D" cx="497.5" cy="177.3" r="2"/><circle class="S" cx="558.6" cy="198.7" r="2"/><circle class="D" cx="490.3" cy="181.6" r="2"/><circle class="N" cx="603.3" cy="241.8" r="2"/><circle class="S" cx="561.5" cy="191.0" r="2"/><circle class="P" cx="571.9" cy="108.2" r="2"/><circle class="S" cx="553.9" cy="199.7" r="2"/><circle class="N" cx="595.1" cy="165.0" r="2"/><circle class="P" cx="560.2" cy="89.9" r="2"/><circle class="S" cx="575.6" cy="208.1" r="2"/><circle class="H" cx="616.7" cy="123.0" r="2"/><circle class="D" cx="494.6" cy="182.1" r="2"/><circle class="X" cx="522.2" cy="119.4" r="2"/><circle class="A" cx="460.6" cy="33.0" r="2"/><circle class="N" cx="612.9" cy="234.9" r="2"/><circle class="A" cx="454.2" cy="29.3" r="2"/><circle class="D" cx="496.8" cy="180.7" r="2"/><circle class="H" cx="607.2" cy="130.8" r="2"/><circle class="S" cx="544.2" cy="205.0" r="2"/><circle class="N" cx="615.9" cy="248.4" r="2"/><circle class="N" cx="604.4" cy="236.2" r="2"/><circle class="S" cx="595.1" cy="250.1" r="2"/><circle class="S" cx="584.8" cy="226.3" r="2"/><circle class="X" cx="535.0" cy="141.0" r="2"/><circle class="X" cx="523.4" cy="112.2" r="2"/><circle class="X" cx="533.6" cy="140.0" r="2"/><circle class="D" cx="496.0" cy="175.3" r="2"/><circle class="A" cx="454.5" cy="29.8" r="2"/><circle class="N" cx="616.8" cy="235.2" r="2"/><circle class="N" cx="604.7" cy="232.5" r="2"/><circle class="D" cx="493.7" cy="177.6" r="2"/><circle class="A" cx="454.9" cy="27.4" r="2"/><circle class="X" cx="552.8" cy="118.6" r="2"/><circle class="A" cx="457.4" cy="30.4" r="2"/><circle class="X" cx="537.6" cy="140.9" r="2"/><circle class="X" cx="533.9" cy="141.9" r="2"/><circle class="P" cx="559.9" cy="104.1" r="2"/><circle class="P" cx="571.4" cy="109.0" r="2"/><circle class="S" cx="559.2" cy="199.6" r="2"/><circle class="S" cx="585.4" cy="212.3" r="2"/><circle class="S" cx="561.1" cy="195.8" r="2"/><circle class="D" cx="495.5" cy="178.4" r="2"/><circle class="X" cx="525.0" cy="113.8" r="2"/><circle class="D" cx="501.1" cy="184.7" r="2"/><circle class="A" cx="453.5" cy="25.7" r="2"/><circle class="D" cx="497.7" cy="176.7" r="2"/><circle class="D" cx="498.7" cy="181.7" r="2"/><circle class="P" cx="572.8" cy="104.0" r="2"/><circle class="N" cx="599.5" cy="229.9" r="2"/><circle class="A" cx="453.0" cy="24.1" r="2"/><circle class="A" cx="452.9" cy="27.9" r="2"/><circle class="P" cx="572.2" cy="105.6" r="2"/><circle class="P" cx="571.7" cy="102.7" r="2"/><circle class="H" cx="462.8" cy="33.7" r="2"/><circle class="A" cx="470.0" cy="38.5" r="2"/><circle class="H" cx="594.2" cy="137.7" r="2"/><circle class="A" cx="449.7" cy="24.6" r="2"/><circle class="X" cx="549.0" cy="185.7" r="2"/><circle class="N" cx="606.7" cy="232.5" r="2"/><circle class="X" cx="651.3" cy="129.5" r="2"/><circle class="H" cx="633.8" cy="116.8" r="2"/><circle class="X" cx="590.8" cy="211.5" r="2"/><circle class="H" cx="618.6" cy="118.4" r="2"/><circle class="P" cx="572.1" cy="97.7" r="2"/><circle class="X" cx="526.2" cy="124.1" r="2"/><circle class="S" cx="571.4" cy="206.2" r="2"/><circle class="X" cx="530.2" cy="141.3" r="2"/><circle class="P" cx="566.4" cy="103.3" r="2"/><circle class="S" cx="585.4" cy="215.6" r="2"/><circle class="S" cx="517.7" cy="182.5" r="2"/><circle class="X" cx="522.8" cy="121.6" r="2"/><circle class="D" cx="498.6" cy="175.8" r="2"/><circle class="P" cx="577.6" cy="100.7" r="2"/><circle class="P" cx="575.0" cy="103.7" r="2"/><circle class="S" cx="574.1" cy="205.2" r="2"/><circle class="A" cx="447.9" cy="29.4" r="2"/><circle class="P" cx="573.3" cy="96.8" r="2"/><circle class="D" cx="494.2" cy="178.4" r="2"/><circle class="X" cx="519.3" cy="125.3" r="2"/><circle class="S" cx="588.1" cy="224.0" r="2"/><circle class="D" cx="496.5" cy="182.2" r="2"/><circle class="N" cx="566.4" cy="118.6" r="2"/><circle class="S" cx="561.8" cy="198.1" r="2"/><circle class="H" cx="600.5" cy="138.6" r="2"/><circle class="D" cx="491.6" cy="180.6" r="2"/><circle class="P" cx="559.6" cy="86.1" r="2"/><circle class="H" cx="618.7" cy="136.3" r="2"/><circle class="X" cx="523.8" cy="111.4" r="2"/><circle class="A" cx="451.3" cy="27.4" r="2"/><circle class="D" cx="500.6" cy="175.5" r="2"/><circle class="N" cx="613.3" cy="248.2" r="2"/><circle class="S" cx="570.3" cy="206.7" r="2"/><circle class="D" cx="496.7" cy="184.8" r="2"/><circle class="S" cx="594.0" cy="256.1" r="2"/><circle class="X" cx="517.2" cy="119.9" r="2"/><circle class="P" cx="573.1" cy="110.3" r="2"/><circle class="X" cx="553.5" cy="115.6" r="2"/><circle class="D" cx="493.5" cy="179.8" r="2"/><circle class="S" cx="585.1" cy="221.0" r="2"/><circle class="P" cx="562.6" cy="83.3" r="2"/><circle class="A" cx="451.4" cy="22.9" r="2"/><circle class="H" cx="606.7" cy="130.3" r="2"/><circle class="S" cx="502.9" cy="176.7" r="2"/><circle class="H" cx="614.8" cy="117.4" r="2"/><circle class="D" cx="495.5" cy="177.9" r="2"/><circle class="A" cx="455.4" cy="29.2" r="2"/><circle class="X" cx="570.2" cy="151.2" r="2"/><circle class="A" cx="453.4" cy="27.1" r="2"/><circle class="A" cx="450.9" cy="25.6" r="2"/><circle class="X" cx="519.7" cy="120.3" r="2"/><circle class="X" cx="520.9" cy="130.2" r="2"/><circle class="N" cx="606.5" cy="233.2" r="2"/><circle class="H" cx="598.5" cy="141.8" r="2"/><circle class="N" cx="606.7" cy="227.6" r="2"/><circle class="D" cx="496.4" cy="179.6" r="2"/><circle class="X" cx="540.4" cy="118.7" r="2"/><circle class="D" cx="498.8" cy="174.0" r="2"/><circle class="X" cx="550.3" cy="118.1" r="2"/><circle class="N" cx="608.1" cy="238.7" r="2"/><circle class="S" cx="556.5" cy="197.5" r="2"/><circle class="A" cx="451.2" cy="28.1" r="2"/><circle class="X" cx="523.6" cy="114.2" r="2"/><circle class="S" cx="583.9" cy="211.1" r="2"/><circle class="D" cx="494.7" cy="179.5" r="2"/><circle class="N" cx="622.1" cy="233.5" r="2"/><circle class="X" cx="541.4" cy="138.6" r="2"/><circle class="D" cx="494.6" cy="180.3" r="2"/><circle class="D" cx="495.4" cy="176.6" r="2"/><circle class="S" cx="588.8" cy="230.0" r="2"/><circle class="P" cx="569.3" cy="112.9" r="2"/><circle class="H" cx="621.4" cy="118.6" r="2"/><circle class="X" cx="518.9" cy="121.7" r="2"/><circle class="N" cx="603.0" cy="232.2" r="2"/><circle class="A" cx="453.0" cy="26.9" r="2"/><circle class="D" cx="493.4" cy="180.2" r="2"/><circle class="X" cx="520.1" cy="128.0" r="2"/><circle class="P" cx="575.4" cy="108.3" r="2"/><circle class="A" cx="454.5" cy="28.7" r="2"/><circle class="H" cx="618.8" cy="122.9" r="2"/><circle class="P" cx="567.1" cy="103.9" r="2"/><circle class="H" cx="618.4" cy="120.3" r="2"/><circle class="A" cx="450.8" cy="27.5" r="2"/><circle class="P" cx="573.1" cy="100.7" r="2"/><circle class="P" cx="574.7" cy="107.5" r="2"/><circle class="S" cx="559.3" cy="199.0" r="2"/><circle class="D" cx="496.9" cy="179.0" r="2"/><circle class="X" cx="551.2" cy="114.3" r="2"/><circle class="P" cx="566.6" cy="93.9" r="2"/><circle class="A" cx="449.3" cy="26.2" r="2"/><circle class="S" cx="588.8" cy="216.8" r="2"/><circle class="P" cx="573.2" cy="105.5" r="2"/><circle class="N" cx="612.5" cy="230.9" r="2"/><circle class="N" cx="595.3" cy="238.5" r="2"/><circle class="S" cx="578.5" cy="206.2" r="2"/><circle class="A" cx="453.1" cy="26.9" r="2"/><circle class="S" cx="592.4" cy="255.8" r="2"/><circle class="H" cx="618.1" cy="126.1" r="2"/><circle class="H" cx="617.9" cy="121.8" r="2"/><circle class="H" cx="599.5" cy="128.0" r="2"/><circle class="P" cx="563.5" cy="92.1" r="2"/><circle class="D" cx="495.3" cy="183.5" r="2"/><circle class="A" cx="452.6" cy="28.4" r="2"/><circle class="S" cx="572.4" cy="206.9" r="2"/><circle class="N" cx="648.1" cy="196.9" r="2"/><circle class="D" cx="496.9" cy="175.0" r="2"/><circle class="X" cx="539.7" cy="130.3" r="2"/><circle class="P" cx="564.6" cy="98.9" r="2"/><circle class="X" cx="531.0" cy="97.4" r="2"/><circle class="H" cx="623.2" cy="119.5" r="2"/><circle class="N" cx="612.8" cy="233.6" r="2"/><circle class="H" cx="597.1" cy="137.0" r="2"/><circle class="H" cx="546.5" cy="111.8" r="2"/><circle class="H" cx="621.0" cy="116.7" r="2"/><circle class="D" cx="489.7" cy="179.9" r="2"/><circle class="A" cx="455.4" cy="28.5" r="2"/><circle class="X" cx="527.8" cy="112.7" r="2"/><circle class="A" cx="451.7" cy="27.8" r="2"/><circle class="D" cx="498.9" cy="176.1" r="2"/><circle class="A" cx="463.7" cy="33.8" r="2"/><circle class="H" cx="617.6" cy="124.1" r="2"/><circle class="A" cx="450.4" cy="29.9" r="2"/><circle class="P" cx="569.0" cy="110.9" r="2"/><circle class="D" cx="501.7" cy="153.8" r="2"/><circle class="N" cx="623.9" cy="224.5" r="2"/><circle class="S" cx="569.7" cy="202.6" r="2"/><circle class="P" cx="551.4" cy="122.3" r="2"/><circle class="P" cx="575.5" cy="108.7" r="2"/><circle class="N" cx="629.1" cy="232.7" r="2"/><circle class="H" cx="614.5" cy="121.0" r="2"/><circle class="X" cx="577.6" cy="145.7" r="2"/><circle class="A" cx="452.0" cy="26.2" r="2"/><circle class="S" cx="593.9" cy="256.3" r="2"/><circle class="D" cx="500.3" cy="174.3" r="2"/><circle class="S" cx="586.9" cy="214.9" r="2"/><circle class="A" cx="447.2" cy="25.9" r="2"/><circle class="N" cx="616.8" cy="237.8" r="2"/><circle class="D" cx="496.6" cy="176.9" r="2"/><circle class="A" cx="453.6" cy="30.6" r="2"/><circle class="A" cx="455.1" cy="28.6" r="2"/><circle class="H" cx="472.8" cy="30.0" r="2"/><circle class="D" cx="491.8" cy="179.6" r="2"/><circle class="X" cx="526.3" cy="123.3" r="2"/><circle class="X" cx="645.4" cy="128.1" r="2"/><circle class="D" cx="494.2" cy="173.6" r="2"/><circle class="X" cx="524.7" cy="131.1" r="2"/><circle class="N" cx="611.3" cy="236.7" r="2"/><circle class="P" cx="564.1" cy="85.6" r="2"/><circle class="S" cx="550.2" cy="195.2" r="2"/><circle class="A" cx="448.8" cy="28.3" r="2"/><circle class="A" cx="463.1" cy="30.8" r="2"/><circle class="D" cx="493.2" cy="176.1" r="2"/><circle class="N" cx="610.6" cy="236.0" r="2"/><circle class="X" cx="527.4" cy="111.0" r="2"/><circle class="H" cx="599.1" cy="113.1" r="2"/><circle class="N" cx="603.6" cy="228.5" r="2"/><circle class="A" cx="450.7" cy="26.5" r="2"/><circle class="X" cx="529.3" cy="140.4" r="2"/><circle class="P" cx="569.9" cy="103.3" r="2"/><circle class="X" cx="647.0" cy="131.3" r="2"/><circle class="H" cx="464.6" cy="81.1" r="2"/><circle class="N" cx="622.8" cy="226.4" r="2"/><circle class="N" cx="605.2" cy="231.9" r="2"/><circle class="N" cx="612.2" cy="223.9" r="2"/><circle class="S" cx="576.1" cy="204.4" r="2"/><circle class="A" cx="452.6" cy="27.6" r="2"/><circle class="X" cx="528.2" cy="111.7" r="2"/><circle class="A" cx="452.7" cy="27.6" r="2"/><circle class="S" cx="560.7" cy="197.1" r="2"/><circle class="P" cx="573.4" cy="111.2" r="2"/><circle class="A" cx="452.3" cy="27.9" r="2"/><circle class="A" cx="451.4" cy="27.6" r="2"/><circle class="H" cx="534.0" cy="41.2" r="2"/><circle class="N" cx="625.9" cy="223.5" r="2"/><circle class="P" cx="572.1" cy="99.5" r="2"/><circle class="P" cx="574.6" cy="101.4" r="2"/><circle class="D" cx="492.8" cy="177.9" r="2"/><circle class="S" cx="587.9" cy="228.5" r="2"/><circle class="N" cx="622.2" cy="225.2" r="2"/><circle class="A" cx="457.9" cy="31.0" r="2"/><circle class="S" cx="588.0" cy="219.8" r="2"/><circle class="A" cx="454.4" cy="28.3" r="2"/><circle class="X" cx="600.1" cy="144.8" r="2"/><circle class="H" cx="604.0" cy="139.4" r="2"/><circle class="N" cx="607.5" cy="247.9" r="2"/><circle class="X" cx="515.2" cy="119.3" r="2"/><circle class="S" cx="544.3" cy="194.5" r="2"/><circle class="A" cx="451.8" cy="27.6" r="2"/><circle class="N" cx="625.1" cy="146.5" r="2"/><circle class="P" cx="573.8" cy="109.1" r="2"/><circle class="S" cx="590.3" cy="257.0" r="2"/><circle class="A" cx="459.1" cy="44.4" r="2"/><circle class="S" cx="575.9" cy="205.7" r="2"/><circle class="X" cx="527.9" cy="113.4" r="2"/><circle class="N" cx="610.2" cy="230.1" r="2"/><circle class="D" cx="501.0" cy="181.0" r="2"/><circle class="P" cx="571.1" cy="99.9" r="2"/><circle class="P" cx="569.7" cy="105.3" r="2"/><circle class="X" cx="620.4" cy="103.4" r="2"/><circle class="A" cx="453.6" cy="27.8" r="2"/><circle class="N" cx="613.6" cy="249.4" r="2"/><circle class="N" cx="615.2" cy="230.3" r="2"/><circle class="X" cx="618.9" cy="194.9" r="2"/><circle class="N" cx="611.5" cy="237.1" r="2"/><circle class="D" cx="493.7" cy="180.7" r="2"/><circle class="D" cx="511.7" cy="186.6" r="2"/><circle class="H" cx="597.2" cy="128.2" r="2"/><circle class="D" cx="493.7" cy="176.0" r="2"/><circle class="S" cx="588.1" cy="267.1" r="2"/><circle class="H" cx="636.0" cy="129.5" r="2"/><circle class="P" cx="575.7" cy="106.7" r="2"/><circle class="X" cx="534.5" cy="140.4" r="2"/><circle class="S" cx="587.8" cy="228.0" r="2"/><circle class="N" cx="615.4" cy="235.9" r="2"/><circle class="X" cx="530.3" cy="113.1" r="2"/><circle class="H" cx="612.1" cy="117.1" r="2"/><circle class="N" cx="612.3" cy="230.6" r="2"/><circle class="A" cx="452.4" cy="24.3" r="2"/><circle class="D" cx="484.6" cy="174.0" r="2"/><circle class="N" cx="634.3" cy="223.7" r="2"/><circle class="S" cx="588.2" cy="220.9" r="2"/><circle class="X" cx="548.8" cy="116.6" r="2"/><circle class="P" cx="575.8" cy="98.8" r="2"/><circle class="N" cx="613.0" cy="229.7" r="2"/><circle class="D" cx="498.1" cy="176.3" r="2"/><circle class="A" cx="455.2" cy="26.9" r="2"/><circle class="P" cx="571.4" cy="123.6" r="2"/><circle class="A" cx="455.2" cy="26.7" r="2"/><circle class="A" cx="452.3" cy="28.2" r="2"/><circle class="H" cx="624.2" cy="117.4" r="2"/><circle class="X" cx="533.1" cy="139.1" r="2"/><circle class="S" cx="590.6" cy="222.1" r="2"/><circle class="N" cx="635.7" cy="230.5" r="2"/><circle class="P" cx="575.6" cy="104.1" r="2"/><circle class="X" cx="580.3" cy="196.6" r="2"/><circle class="S" cx="554.8" cy="197.0" r="2"/><circle class="X" cx="521.2" cy="125.9" r="2"/><circle class="D" cx="501.1" cy="183.4" r="2"/><circle class="X" cx="548.8" cy="117.2" r="2"/><circle class="H" cx="609.8" cy="127.9" r="2"/><circle class="P" cx="575.7" cy="106.1" r="2"/><circle class="H" cx="492.8" cy="47.4" r="2"/><circle class="H" cx="493.5" cy="46.2" r="2"/><circle class="X" cx="644.3" cy="130.9" r="2"/><circle class="D" cx="492.0" cy="175.9" r="2"/><circle class="N" cx="635.5" cy="222.8" r="2"/><circle class="X" cx="527.1" cy="117.1" r="2"/><circle class="H" cx="625.8" cy="114.0" r="2"/><circle class="P" cx="571.4" cy="99.5" r="2"/><circle class="S" cx="558.6" cy="196.6" r="2"/><circle class="D" cx="492.5" cy="180.1" r="2"/><circle class="S" cx="584.5" cy="217.1" r="2"/><circle class="N" cx="629.4" cy="158.7" r="2"/><circle class="N" cx="519.9" cy="134.7" r="2"/><circle class="A" cx="452.7" cy="27.4" r="2"/><circle class="D" cx="491.9" cy="180.8" r="2"/><circle class="H" cx="613.5" cy="124.0" r="2"/><circle class="A" cx="478.1" cy="41.0" r="2"/><circle class="S" cx="576.7" cy="207.2" r="2"/><circle class="N" cx="636.4" cy="223.9" r="2"/><circle class="P" cx="567.8" cy="105.4" r="2"/><circle class="X" cx="548.3" cy="117.3" r="2"/><circle class="P" cx="572.9" cy="103.8" r="2"/><circle class="P" cx="568.3" cy="103.0" r="2"/><circle class="P" cx="560.0" cy="90.3" r="2"/><circle class="X" cx="524.3" cy="116.2" r="2"/><circle class="A" cx="454.3" cy="26.7" r="2"/><circle class="D" cx="489.3" cy="179.3" r="2"/><circle class="P" cx="566.6" cy="101.2" r="2"/><circle class="X" cx="552.0" cy="116.1" r="2"/><circle class="A" cx="452.3" cy="27.9" r="2"/><circle class="N" cx="608.3" cy="250.6" r="2"/><circle class="P" cx="579.6" cy="102.3" r="2"/><circle class="P" cx="568.0" cy="106.4" r="2"/><circle class="A" cx="454.5" cy="29.8" r="2"/><circle class="X" cx="531.8" cy="119.5" r="2"/><circle class="D" cx="502.6" cy="173.6" r="2"/><circle class="X" cx="527.6" cy="138.7" r="2"/><circle class="D" cx="493.7" cy="176.6" r="2"/><circle class="X" cx="523.9" cy="111.1" r="2"/><circle class="N" cx="610.9" cy="222.6" r="2"/><circle class="X" cx="529.6" cy="127.6" r="2"/><circle class="H" cx="620.6" cy="121.4" r="2"/><circle class="P" cx="557.9" cy="126.7" r="2"/><circle class="S" cx="585.6" cy="221.2" r="2"/><circle class="D" cx="501.0" cy="174.3" r="2"/><circle class="S" cx="558.0" cy="198.4" r="2"/><circle class="P" cx="570.5" cy="112.7" r="2"/><circle class="A" cx="446.8" cy="23.6" r="2"/><circle class="X" cx="548.0" cy="117.2" r="2"/><circle class="N" cx="624.2" cy="231.6" r="2"/><circle class="H" cx="627.1" cy="122.1" r="2"/><circle class="S" cx="556.7" cy="194.9" r="2"/><circle class="X" cx="537.7" cy="123.9" r="2"/><circle class="S" cx="572.7" cy="214.9" r="2"/><circle class="A" cx="453.1" cy="27.6" r="2"/><circle class="D" cx="497.8" cy="178.6" r="2"/><circle class="N" cx="608.6" cy="221.6" r="2"/><circle class="H" cx="472.8" cy="67.4" r="2"/><circle class="D" cx="495.1" cy="175.9" r="2"/><circle class="H" cx="482.8" cy="85.9" r="2"/><circle class="X" cx="513.2" cy="123.6" r="2"/><circle class="P" cx="572.4" cy="99.8" r="2"/><circle class="A" cx="453.9" cy="26.6" r="2"/><circle class="P" cx="573.2" cy="102.5" r="2"/><circle class="H" cx="602.9" cy="136.9" r="2"/><circle class="N" cx="628.2" cy="247.4" r="2"/><circle class="H" cx="620.0" cy="108.7" r="2"/><circle class="H" cx="519.5" cy="25.0" r="2"/><circle class="N" cx="612.0" cy="235.9" r="2"/><circle class="A" cx="450.1" cy="25.8" r="2"/><circle class="A" cx="451.7" cy="27.7" r="2"/><circle class="S" cx="589.5" cy="278.3" r="2"/><circle class="H" cx="599.4" cy="132.6" r="2"/><circle class="A" cx="450.4" cy="25.7" r="2"/><circle class="N" cx="605.2" cy="230.0" r="2"/><circle class="P" cx="554.2" cy="102.6" r="2"/><circle class="P" cx="574.7" cy="102.9" r="2"/><circle class="A" cx="475.2" cy="39.9" r="2"/><circle class="A" cx="458.5" cy="29.4" r="2"/><circle class="N" cx="541.5" cy="196.2" r="2"/><circle class="S" cx="545.7" cy="201.4" r="2"/><circle class="N" cx="607.9" cy="235.7" r="2"/><circle class="A" cx="448.7" cy="25.2" r="2"/><circle class="H" cx="619.0" cy="127.1" r="2"/><circle class="X" cx="533.6" cy="141.8" r="2"/><circle class="N" cx="613.0" cy="230.8" r="2"/><circle class="S" cx="594.6" cy="250.4" r="2"/><circle class="H" cx="469.8" cy="126.8" r="2"/><circle class="N" cx="608.8" cy="238.1" r="2"/><circle class="H" cx="609.5" cy="107.8" r="2"/><circle class="S" cx="561.4" cy="198.8" r="2"/><circle class="X" cx="519.3" cy="102.5" r="2"/><circle class="A" cx="457.8" cy="44.9" r="2"/><circle class="S" cx="555.6" cy="196.3" r="2"/><circle class="A" cx="456.4" cy="28.6" r="2"/><circle class="H" cx="500.3" cy="78.6" r="2"/><circle class="A" cx="455.8" cy="26.3" r="2"/><circle class="H" cx="621.1" cy="125.1" r="2"/><circle class="X" cx="547.6" cy="119.7" r="2"/><circle class="S" cx="581.9" cy="215.9" r="2"/><circle class="S" cx="568.9" cy="199.1" r="2"/><circle class="X" cx="527.2" cy="113.0" r="2"/><circle class="P" cx="572.0" cy="99.1" r="2"/><circle class="N" cx="611.6" cy="230.4" r="2"/><circle class="X" cx="535.3" cy="142.0" r="2"/><circle class="X" cx="599.6" cy="198.7" r="2"/><circle class="A" cx="453.5" cy="25.1" r="2"/><circle class="N" cx="606.7" cy="226.9" r="2"/><circle class="H" cx="616.9" cy="120.8" r="2"/><circle class="N" cx="503.5" cy="149.9" r="2"/><circle class="P" cx="569.3" cy="104.3" r="2"/><circle class="N" cx="599.4" cy="223.4" r="2"/><circle class="X" cx="523.0" cy="115.8" r="2"/><circle class="A" cx="454.9" cy="28.4" r="2"/><circle class="H" cx="595.5" cy="138.5" r="2"/><circle class="P" cx="566.2" cy="103.5" r="2"/><circle class="S" cx="587.6" cy="215.4" r="2"/><circle class="H" cx="617.3" cy="119.8" r="2"/><circle class="P" cx="573.0" cy="109.4" r="2"/><circle class="P" cx="575.0" cy="106.3" r="2"/><circle class="X" cx="551.8" cy="116.3" r="2"/><circle class="S" cx="570.0" cy="207.2" r="2"/><circle class="D" cx="493.7" cy="176.4" r="2"/><circle class="H" cx="493.6" cy="161.5" r="2"/><circle class="A" cx="450.9" cy="29.7" r="2"/><circle class="D" cx="497.4" cy="176.5" r="2"/><circle class="H" cx="613.3" cy="124.9" r="2"/><circle class="P" cx="561.7" cy="103.6" r="2"/><circle class="A" cx="472.0" cy="37.6" r="2"/><circle class="H" cx="617.6" cy="123.4" r="2"/><circle class="S" cx="592.3" cy="252.7" r="2"/><circle class="P" cx="561.1" cy="108.9" r="2"/><circle class="X" cx="537.9" cy="144.6" r="2"/><circle class="H" cx="598.4" cy="132.7" r="2"/><circle class="P" cx="567.3" cy="100.9" r="2"/><circle class="S" cx="590.5" cy="254.8" r="2"/><circle class="A" cx="453.7" cy="30.2" r="2"/><circle class="H" cx="619.9" cy="119.3" r="2"/><circle class="A" cx="451.3" cy="27.0" r="2"/><circle class="N" cx="604.0" cy="238.2" r="2"/><circle class="P" cx="574.2" cy="100.5" r="2"/><circle class="S" cx="589.1" cy="210.3" r="2"/><circle class="H" cx="596.9" cy="128.3" r="2"/><circle class="S" cx="549.5" cy="202.7" r="2"/><circle class="X" cx="523.7" cy="129.0" r="2"/><circle class="X" cx="520.3" cy="125.0" r="2"/><circle class="P" cx="573.6" cy="110.3" r="2"/><circle class="H" cx="618.7" cy="124.2" r="2"/><circle class="H" cx="621.3" cy="117.2" r="2"/><circle class="A" cx="470.6" cy="35.3" r="2"/><circle class="P" cx="565.5" cy="94.4" r="2"/><circle class="S" cx="585.3" cy="214.2" r="2"/><circle class="P" cx="535.3" cy="87.3" r="2"/><circle class="D" cx="494.4" cy="182.6" r="2"/><circle class="P" cx="561.7" cy="89.0" r="2"/><circle class="A" cx="455.8" cy="28.7" r="2"/><circle class="X" cx="518.4" cy="123.4" r="2"/><circle class="N" cx="615.8" cy="247.5" r="2"/><circle class="S" cx="577.2" cy="209.3" r="2"/><circle class="D" cx="496.2" cy="174.8" r="2"/><circle class="H" cx="600.7" cy="137.5" r="2"/><circle class="A" cx="473.2" cy="36.7" r="2"/><circle class="N" cx="629.7" cy="239.7" r="2"/><circle class="A" cx="450.3" cy="29.2" r="2"/><circle class="A" cx="454.0" cy="26.5" r="2"/><circle class="H" cx="611.8" cy="126.6" r="2"/><circle class="D" cx="490.6" cy="176.1" r="2"/><circle class="A" cx="461.7" cy="32.9" r="2"/><circle class="S" cx="570.7" cy="201.5" r="2"/><circle class="D" cx="500.2" cy="176.3" r="2"/><circle class="X" cx="639.2" cy="123.1" r="2"/><circle class="P" cx="571.9" cy="98.4" r="2"/><circle class="D" cx="494.5" cy="182.0" r="2"/><circle class="H" cx="582.1" cy="138.0" r="2"/><circle class="D" cx="498.8" cy="174.9" r="2"/><circle class="N" cx="550.2" cy="200.7" r="2"/><circle class="S" cx="586.8" cy="214.8" r="2"/><circle class="A" cx="454.3" cy="28.7" r="2"/><circle class="X" cx="548.6" cy="115.2" r="2"/><circle class="X" cx="533.4" cy="120.5" r="2"/><circle class="H" cx="611.1" cy="128.7" r="2"/><circle class="D" cx="499.2" cy="143.1" r="2"/><circle class="P" cx="568.5" cy="117.2" r="2"/><circle class="X" cx="530.5" cy="141.7" r="2"/><circle class="N" cx="610.4" cy="230.0" r="2"/><circle class="D" cx="498.6" cy="179.1" r="2"/><circle class="D" cx="495.2" cy="176.3" r="2"/><circle class="S" cx="593.9" cy="251.0" r="2"/><circle class="P" cx="565.5" cy="110.5" r="2"/><circle class="A" cx="452.9" cy="27.3" r="2"/><circle class="D" cx="494.8" cy="179.3" r="2"/><circle class="H" cx="616.0" cy="105.4" r="2"/><circle class="D" cx="501.2" cy="176.4" r="2"/><circle class="N" cx="605.8" cy="234.1" r="2"/><circle class="N" cx="618.1" cy="222.1" r="2"/><circle class="S" cx="585.8" cy="214.7" r="2"/><circle class="A" cx="447.6" cy="26.9" r="2"/><circle class="S" cx="572.0" cy="206.2" r="2"/><circle class="H" cx="596.8" cy="139.8" r="2"/><circle class="X" cx="510.6" cy="106.4" r="2"/><circle class="D" cx="497.1" cy="175.8" r="2"/><circle class="P" cx="577.3" cy="116.5" r="2"/><circle class="X" cx="515.9" cy="107.2" r="2"/><circle class="H" cx="499.0" cy="36.2" r="2"/><circle class="A" cx="454.0" cy="27.8" r="2"/><circle class="H" cx="591.7" cy="136.5" r="2"/><circle class="S" cx="570.9" cy="200.3" r="2"/><circle class="X" cx="536.5" cy="139.1" r="2"/><circle class="N" cx="495.4" cy="172.6" r="2"/><circle class="D" cx="500.7" cy="181.8" r="2"/><circle class="P" cx="571.3" cy="100.4" r="2"/><circle class="S" cx="577.4" cy="211.2" r="2"/><circle class="H" cx="615.7" cy="126.4" r="2"/><circle class="A" cx="456.8" cy="28.1" r="2"/><circle class="P" cx="547.8" cy="89.6" r="2"/><circle class="A" cx="450.4" cy="26.9" r="2"/><circle class="H" cx="593.2" cy="141.4" r="2"/><circle class="X" cx="504.6" cy="109.9" r="2"/><circle class="N" cx="623.0" cy="237.9" r="2"/><circle class="H" cx="616.1" cy="109.2" r="2"/><circle class="X" cx="526.2" cy="121.9" r="2"/><circle class="A" cx="453.1" cy="26.0" r="2"/><circle class="S" cx="565.9" cy="175.7" r="2"/><circle class="S" cx="552.0" cy="193.6" r="2"/><circle class="S" cx="587.8" cy="222.8" r="2"/><circle class="A" cx="450.5" cy="25.0" r="2"/><circle class="H" cx="621.5" cy="128.5" r="2"/><circle class="H" cx="597.5" cy="142.1" r="2"/><circle class="X" cx="549.5" cy="117.4" r="2"/><circle class="P" cx="554.0" cy="114.7" r="2"/><circle class="X" cx="533.5" cy="143.2" r="2"/><circle class="X" cx="524.8" cy="116.1" r="2"/><circle class="A" cx="467.9" cy="36.4" r="2"/><circle class="P" cx="554.7" cy="111.6" r="2"/><circle class="S" cx="588.6" cy="220.8" r="2"/><circle class="X" cx="527.4" cy="114.3" r="2"/><circle class="N" cx="613.3" cy="233.2" r="2"/><circle class="X" cx="531.5" cy="125.4" r="2"/><circle class="A" cx="450.4" cy="25.8" r="2"/><circle class="S" cx="568.0" cy="201.3" r="2"/><circle class="H" cx="551.4" cy="129.8" r="2"/><circle class="N" cx="598.7" cy="220.5" r="2"/><circle class="A" cx="450.5" cy="28.6" r="2"/><circle class="S" cx="582.7" cy="212.6" r="2"/><circle class="X" cx="588.2" cy="203.7" r="2"/><circle class="H" cx="623.3" cy="121.7" r="2"/><circle class="S" cx="583.6" cy="210.1" r="2"/><circle class="X" cx="535.4" cy="143.1" r="2"/><circle class="S" cx="561.0" cy="199.5" r="2"/><circle class="H" cx="600.9" cy="144.1" r="2"/><circle class="N" cx="611.7" cy="233.8" r="2"/><circle class="D" cx="498.8" cy="182.1" r="2"/><circle class="H" cx="624.4" cy="116.1" r="2"/><circle class="N" cx="598.8" cy="231.5" r="2"/><circle class="A" cx="447.8" cy="27.1" r="2"/><circle class="N" cx="618.7" cy="247.6" r="2"/><circle class="X" cx="544.1" cy="124.9" r="2"/><circle class="P" cx="537.0" cy="66.7" r="2"/><circle class="X" cx="552.2" cy="116.6" r="2"/><circle class="S" cx="578.6" cy="198.1" r="2"/><circle class="H" cx="615.3" cy="123.1" r="2"/><circle class="S" cx="587.1" cy="224.7" r="2"/><circle class="P" cx="562.2" cy="108.6" r="2"/><circle class="X" cx="577.7" cy="145.5" r="2"/><circle class="H" cx="477.8" cy="37.4" r="2"/><circle class="P" cx="569.8" cy="101.2" r="2"/><circle class="D" cx="503.0" cy="183.2" r="2"/><circle class="P" cx="568.3" cy="112.6" r="2"/><circle class="N" cx="501.2" cy="148.1" r="2"/><circle class="D" cx="494.3" cy="176.9" r="2"/><circle class="N" cx="538.6" cy="193.6" r="2"/><circle class="N" cx="615.0" cy="252.4" r="2"/><circle class="P" cx="567.6" cy="106.4" r="2"/><circle class="P" cx="572.5" cy="108.6" r="2"/><circle class="P" cx="555.7" cy="105.5" r="2"/><circle class="A" cx="454.2" cy="28.4" r="2"/><circle class="X" cx="530.1" cy="139.5" r="2"/><circle class="N" cx="595.2" cy="229.5" r="2"/><circle class="A" cx="450.0" cy="26.8" r="2"/><circle class="S" cx="552.7" cy="202.3" r="2"/><circle class="A" cx="455.0" cy="28.0" r="2"/><circle class="N" cx="502.8" cy="139.8" r="2"/><circle class="H" cx="596.3" cy="138.6" r="2"/><circle class="D" cx="497.3" cy="175.2" r="2"/><circle class="A" cx="463.5" cy="34.0" r="2"/><circle class="S" cx="574.7" cy="201.4" r="2"/><circle class="H" cx="599.4" cy="131.5" r="2"/><circle class="D" cx="499.5" cy="181.9" r="2"/><circle class="D" cx="489.8" cy="178.6" r="2"/><circle class="H" cx="497.0" cy="118.1" r="2"/><circle class="S" cx="594.8" cy="258.5" r="2"/><circle class="D" cx="492.9" cy="176.3" r="2"/><circle class="N" cx="631.6" cy="238.4" r="2"/><circle class="N" cx="619.0" cy="226.3" r="2"/><circle class="P" cx="564.7" cy="87.2" r="2"/><circle class="N" cx="539.0" cy="194.4" r="2"/><circle class="X" cx="529.6" cy="125.4" r="2"/><circle class="N" cx="608.7" cy="233.0" r="2"/><circle class="D" cx="495.9" cy="166.2" r="2"/><circle class="X" cx="550.6" cy="119.7" r="2"/><circle class="A" cx="461.8" cy="31.7" r="2"/><circle class="A" cx="458.0" cy="28.9" r="2"/><circle class="H" cx="509.0" cy="54.2" r="2"/><circle class="H" cx="591.9" cy="129.5" r="2"/><circle class="N" cx="619.0" cy="250.5" r="2"/><circle class="D" cx="497.6" cy="178.1" r="2"/><circle class="P" cx="566.2" cy="108.2" r="2"/><circle class="D" cx="505.1" cy="177.3" r="2"/><circle class="A" cx="478.5" cy="38.4" r="2"/><circle class="X" cx="521.5" cy="129.4" r="2"/><circle class="N" cx="605.5" cy="231.4" r="2"/><circle class="A" cx="451.7" cy="29.4" r="2"/><circle class="P" cx="538.5" cy="71.1" r="2"/><circle class="P" cx="570.1" cy="104.2" r="2"/><circle class="N" cx="524.0" cy="182.0" r="2"/><circle class="S" cx="587.9" cy="279.8" r="2"/><circle class="N" cx="623.8" cy="222.7" r="2"/><circle class="N" cx="609.5" cy="235.1" r="2"/><circle class="N" cx="600.1" cy="188.7" r="2"/><circle class="P" cx="571.0" cy="101.2" r="2"/><circle class="X" cx="524.1" cy="114.5" r="2"/><circle class="S" cx="585.9" cy="222.5" r="2"/><circle class="D" cx="492.7" cy="180.5" r="2"/><circle class="A" cx="452.5" cy="27.8" r="2"/><circle class="N" cx="497.8" cy="109.8" r="2"/><circle class="N" cx="612.6" cy="233.6" r="2"/><circle class="N" cx="563.9" cy="207.4" r="2"/><circle class="X" cx="645.1" cy="162.5" r="2"/><circle class="H" cx="485.8" cy="132.6" r="2"/><circle class="S" cx="556.3" cy="201.4" r="2"/><circle class="P" cx="580.5" cy="89.2" r="2"/><circle class="H" cx="598.9" cy="138.5" r="2"/><circle class="S" cx="557.6" cy="193.0" r="2"/><circle class="H" cx="506.0" cy="38.7" r="2"/><circle class="D" cx="498.5" cy="176.1" r="2"/><circle class="D" cx="495.0" cy="175.0" r="2"/><circle class="N" cx="621.9" cy="226.3" r="2"/><circle class="S" cx="582.8" cy="210.0" r="2"/><circle class="D" cx="494.5" cy="179.3" r="2"/><circle class="H" cx="620.8" cy="121.9" r="2"/><circle class="X" cx="548.0" cy="136.2" r="2"/><circle class="S" cx="556.9" cy="204.6" r="2"/><circle class="P" cx="573.9" cy="106.0" r="2"/><circle class="X" cx="523.8" cy="119.3" r="2"/><circle class="P" cx="569.5" cy="104.1" r="2"/><circle class="S" cx="566.7" cy="203.0" r="2"/><circle class="X" cx="644.0" cy="129.2" r="2"/><circle class="P" cx="570.3" cy="98.2" r="2"/><circle class="N" cx="625.2" cy="231.2" r="2"/><circle class="H" cx="609.5" cy="143.2" r="2"/><circle class="X" cx="540.4" cy="136.2" r="2"/><circle class="D" cx="493.2" cy="176.2" r="2"/><circle class="X" cx="521.1" cy="120.3" r="2"/><circle class="P" cx="539.0" cy="87.9" r="2"/><circle class="S" cx="568.4" cy="199.4" r="2"/><circle class="D" cx="494.2" cy="178.3" r="2"/><circle class="X" cx="526.1" cy="112.5" r="2"/><circle class="S" cx="581.1" cy="214.3" r="2"/><circle class="P" cx="570.9" cy="100.4" r="2"/><circle class="X" cx="516.4" cy="125.0" r="2"/><circle class="S" cx="589.8" cy="230.0" r="2"/><circle class="P" cx="564.8" cy="100.5" r="2"/><circle class="D" cx="495.4" cy="177.3" r="2"/><circle class="H" cx="620.9" cy="133.2" r="2"/><circle class="S" cx="567.7" cy="204.4" r="2"/><circle class="D" cx="498.8" cy="174.5" r="2"/><circle class="S" cx="561.2" cy="198.3" r="2"/><circle class="P" cx="566.2" cy="94.1" r="2"/><circle class="D" cx="512.9" cy="144.6" r="2"/><circle class="N" cx="596.9" cy="180.0" r="2"/><circle class="N" cx="619.6" cy="223.8" r="2"/><circle class="S" cx="574.1" cy="205.5" r="2"/><circle class="S" cx="557.8" cy="200.3" r="2"/><circle class="A" cx="452.9" cy="25.2" r="2"/><circle class="X" cx="538.2" cy="141.5" r="2"/><circle class="A" cx="452.1" cy="27.5" r="2"/><circle class="H" cx="611.1" cy="125.9" r="2"/><circle class="X" cx="532.7" cy="140.6" r="2"/><circle class="A" cx="456.9" cy="26.3" r="2"/><circle class="A" cx="448.7" cy="29.0" r="2"/><circle class="N" cx="524.5" cy="170.5" r="2"/><circle class="H" cx="618.4" cy="113.9" r="2"/><circle class="S" cx="515.8" cy="154.5" r="2"/><circle class="D" cx="489.6" cy="182.9" r="2"/><circle class="H" cx="483.5" cy="25.5" r="2"/><circle class="X" cx="538.2" cy="114.3" r="2"/><circle class="P" cx="549.9" cy="98.2" r="2"/><circle class="S" cx="597.6" cy="182.5" r="2"/><circle class="H" cx="616.0" cy="122.2" r="2"/><circle class="A" cx="465.3" cy="35.3" r="2"/><circle class="X" cx="525.2" cy="115.3" r="2"/><circle class="P" cx="569.2" cy="107.5" r="2"/><circle class="N" cx="614.5" cy="230.4" r="2"/><circle class="P" cx="544.0" cy="94.4" r="2"/><circle class="D" cx="495.7" cy="179.9" r="2"/><circle class="A" cx="470.4" cy="37.0" r="2"/><circle class="S" cx="565.6" cy="200.5" r="2"/><circle class="S" cx="511.1" cy="183.1" r="2"/><circle class="H" cx="504.7" cy="164.5" r="2"/><circle class="H" cx="613.9" cy="115.4" r="2"/><circle class="N" cx="606.7" cy="222.8" r="2"/><circle class="N" cx="628.8" cy="158.5" r="2"/><circle class="A" cx="452.0" cy="24.2" r="2"/><circle class="P" cx="574.7" cy="100.4" r="2"/><circle class="H" cx="597.2" cy="142.5" r="2"/><circle class="P" cx="568.8" cy="132.3" r="2"/><circle class="H" cx="489.5" cy="33.7" r="2"/><circle class="X" cx="524.8" cy="130.5" r="2"/><circle class="X" cx="521.8" cy="125.5" r="2"/><circle class="X" cx="602.3" cy="165.3" r="2"/><circle class="N" cx="601.0" cy="230.4" r="2"/><circle class="N" cx="593.7" cy="222.7" r="2"/><circle class="A" cx="454.6" cy="29.0" r="2"/><circle class="X" cx="516.1" cy="95.5" r="2"/><circle class="P" cx="564.7" cy="86.3" r="2"/><circle class="D" cx="492.8" cy="176.3" r="2"/><circle class="A" cx="453.7" cy="28.6" r="2"/><circle class="S" cx="579.0" cy="209.3" r="2"/><circle class="A" cx="463.7" cy="32.8" r="2"/><circle class="S" cx="557.3" cy="196.4" r="2"/><circle class="N" cx="609.8" cy="235.6" r="2"/><circle class="H" cx="614.3" cy="125.2" r="2"/><circle class="A" cx="452.7" cy="26.9" r="2"/><circle class="D" cx="494.7" cy="176.2" r="2"/><circle class="P" cx="575.9" cy="102.5" r="2"/><circle class="D" cx="492.4" cy="174.8" r="2"/><circle class="S" cx="558.6" cy="196.4" r="2"/><circle class="N" cx="625.2" cy="243.4" r="2"/><circle class="A" cx="457.9" cy="30.4" r="2"/><circle class="S" cx="561.2" cy="194.7" r="2"/><circle class="N" cx="613.0" cy="227.1" r="2"/><circle class="H" cx="620.9" cy="131.0" r="2"/><circle class="D" cx="504.7" cy="185.3" r="2"/><circle class="S" cx="589.8" cy="224.8" r="2"/><circle class="D" cx="487.7" cy="175.6" r="2"/><circle class="X" cx="504.9" cy="103.7" r="2"/><circle class="S" cx="492.2" cy="190.7" r="2"/><circle class="A" cx="479.1" cy="41.9" r="2"/><circle class="N" cx="609.8" cy="223.1" r="2"/><circle class="P" cx="566.8" cy="87.0" r="2"/><circle class="H" cx="622.0" cy="113.6" r="2"/><circle class="D" cx="500.8" cy="185.0" r="2"/><circle class="N" cx="621.4" cy="248.1" r="2"/><circle class="D" cx="497.4" cy="180.6" r="2"/><circle class="D" cx="491.6" cy="175.9" r="2"/><circle class="S" cx="589.1" cy="275.5" r="2"/><circle class="S" cx="566.8" cy="198.4" r="2"/><circle class="X" cx="540.6" cy="138.1" r="2"/><circle class="P" cx="570.1" cy="104.4" r="2"/><circle class="H" cx="619.1" cy="128.6" r="2"/><circle class="S" cx="517.6" cy="181.4" r="2"/><circle class="A" cx="452.4" cy="28.7" r="2"/><circle class="A" cx="448.3" cy="27.6" r="2"/><circle class="H" cx="613.6" cy="116.4" r="2"/><circle class="H" cx="613.9" cy="122.1" r="2"/><circle class="S" cx="549.3" cy="196.8" r="2"/><circle class="D" cx="500.9" cy="179.4" r="2"/><circle class="N" cx="633.4" cy="229.0" r="2"/><circle class="P" cx="565.0" cy="109.6" r="2"/><circle class="N" cx="620.0" cy="249.7" r="2"/><circle class="P" cx="560.7" cy="114.0" r="2"/><circle class="D" cx="497.7" cy="191.3" r="2"/><circle class="H" cx="597.1" cy="121.9" r="2"/><circle class="A" cx="451.1" cy="27.0" r="2"/><circle class="A" cx="454.9" cy="30.2" r="2"/><circle class="X" cx="526.3" cy="120.2" r="2"/><circle class="S" cx="592.8" cy="254.0" r="2"/><circle class="X" cx="620.0" cy="112.3" r="2"/><circle class="P" cx="571.4" cy="103.1" r="2"/><circle class="A" cx="448.9" cy="26.9" r="2"/><circle class="X" cx="538.7" cy="140.5" r="2"/><circle class="N" cx="604.5" cy="228.8" r="2"/><circle class="A" cx="451.4" cy="25.9" r="2"/><circle class="S" cx="561.4" cy="194.9" r="2"/><circle class="S" cx="590.1" cy="224.0" r="2"/><circle class="H" cx="639.6" cy="128.5" r="2"/><circle class="N" cx="622.8" cy="237.4" r="2"/><circle class="D" cx="502.2" cy="152.1" r="2"/><circle class="H" cx="593.6" cy="139.7" r="2"/><circle class="X" cx="577.4" cy="173.7" r="2"/><circle class="H" cx="638.8" cy="129.8" r="2"/><circle class="A" cx="452.3" cy="26.5" r="2"/><circle class="X" cx="524.2" cy="119.8" r="2"/><circle class="S" cx="596.4" cy="244.4" r="2"/><circle class="N" cx="605.1" cy="238.6" r="2"/><circle class="P" cx="569.5" cy="116.5" r="2"/><circle class="X" cx="533.0" cy="141.4" r="2"/><circle class="D" cx="499.1" cy="183.2" r="2"/><circle class="N" cx="615.2" cy="249.6" r="2"/><circle class="A" cx="450.0" cy="26.7" r="2"/><circle class="X" cx="524.4" cy="109.2" r="2"/><circle class="S" cx="514.6" cy="190.7" r="2"/><circle class="D" cx="497.6" cy="175.1" r="2"/><circle class="S" cx="560.4" cy="197.1" r="2"/><circle class="X" cx="523.0" cy="112.3" r="2"/><circle class="N" cx="610.0" cy="246.1" r="2"/><circle class="S" cx="539.0" cy="192.9" r="2"/><circle class="N" cx="619.3" cy="249.2" r="2"/><circle class="D" cx="498.0" cy="179.3" r="2"/><circle class="N" cx="608.1" cy="224.2" r="2"/><circle class="X" cx="648.1" cy="159.7" r="2"/><circle class="S" cx="579.3" cy="208.4" r="2"/><circle class="H" cx="618.4" cy="129.5" r="2"/><circle class="D" cx="495.3" cy="178.4" r="2"/><circle class="X" cx="541.7" cy="129.5" r="2"/><circle class="D" cx="495.2" cy="178.9" r="2"/><circle class="P" cx="559.5" cy="101.8" r="2"/><circle class="X" cx="534.7" cy="141.0" r="2"/><circle class="S" cx="586.1" cy="212.2" r="2"/><circle class="H" cx="597.9" cy="134.4" r="2"/><circle class="A" cx="449.0" cy="27.5" r="2"/><circle class="N" cx="622.6" cy="249.8" r="2"/><circle class="N" cx="611.8" cy="249.7" r="2"/><circle class="P" cx="569.9" cy="102.5" r="2"/><circle class="D" cx="503.2" cy="173.7" r="2"/><circle class="N" cx="603.3" cy="242.2" r="2"/><circle class="D" cx="486.6" cy="177.3" r="2"/><circle class="N" cx="623.1" cy="221.3" r="2"/><circle class="A" cx="448.5" cy="25.2" r="2"/><circle class="N" cx="595.8" cy="222.3" r="2"/><circle class="P" cx="574.0" cy="100.7" r="2"/><circle class="P" cx="557.1" cy="97.3" r="2"/><circle class="N" cx="616.9" cy="234.4" r="2"/><circle class="D" cx="495.7" cy="181.1" r="2"/><circle class="X" cx="534.8" cy="139.4" r="2"/><circle class="A" cx="452.4" cy="26.9" r="2"/><circle class="A" cx="453.1" cy="25.8" r="2"/><circle class="P" cx="572.4" cy="107.6" r="2"/><circle class="H" cx="634.4" cy="116.2" r="2"/><circle class="P" cx="575.6" cy="101.3" r="2"/><circle class="H" cx="603.1" cy="130.5" r="2"/><circle class="X" cx="532.8" cy="141.2" r="2"/><circle class="S" cx="551.4" cy="195.6" r="2"/><circle class="S" cx="589.4" cy="255.8" r="2"/><circle class="D" cx="493.6" cy="179.5" r="2"/><circle class="N" cx="608.6" cy="236.7" r="2"/><circle class="X" cx="515.3" cy="103.8" r="2"/><circle class="S" cx="568.0" cy="205.1" r="2"/><circle class="X" cx="536.3" cy="145.2" r="2"/><circle class="H" cx="588.5" cy="140.2" r="2"/><circle class="P" cx="555.6" cy="102.2" r="2"/><circle class="D" cx="496.7" cy="176.8" r="2"/><circle class="S" cx="554.5" cy="192.5" r="2"/><circle class="D" cx="497.2" cy="182.6" r="2"/><circle class="P" cx="562.6" cy="104.7" r="2"/><circle class="X" cx="533.1" cy="142.4" r="2"/><circle class="H" cx="501.8" cy="64.9" r="2"/><circle class="N" cx="610.9" cy="235.4" r="2"/><circle class="X" cx="545.0" cy="134.3" r="2"/><circle class="H" cx="598.9" cy="135.7" r="2"/><circle class="H" cx="614.7" cy="123.0" r="2"/><circle class="D" cx="499.2" cy="180.3" r="2"/><circle class="N" cx="621.0" cy="232.0" r="2"/><circle class="H" cx="616.0" cy="122.2" r="2"/><circle class="P" cx="574.9" cy="97.9" r="2"/><circle class="S" cx="596.6" cy="253.8" r="2"/><circle class="H" cx="507.6" cy="149.9" r="2"/><circle class="X" cx="570.2" cy="150.5" r="2"/><circle class="H" cx="629.1" cy="136.0" r="2"/><circle class="H" cx="638.8" cy="153.6" r="2"/><circle class="S" cx="588.3" cy="278.7" r="2"/><circle class="H" cx="474.1" cy="37.4" r="2"/><circle class="A" cx="469.6" cy="36.2" r="2"/><circle class="P" cx="575.1" cy="101.9" r="2"/><circle class="D" cx="493.5" cy="179.7" r="2"/><circle class="P" cx="566.6" cy="114.6" r="2"/><circle class="S" cx="557.2" cy="197.3" r="2"/><circle class="D" cx="500.0" cy="178.6" r="2"/><circle class="D" cx="501.0" cy="175.4" r="2"/><circle class="D" cx="498.3" cy="174.1" r="2"/><circle class="S" cx="551.2" cy="199.0" r="2"/><circle class="S" cx="587.4" cy="221.3" r="2"/><circle class="N" cx="595.1" cy="257.4" r="2"/><circle class="X" cx="527.2" cy="133.2" r="2"/><circle class="D" cx="504.7" cy="160.9" r="2"/><circle class="S" cx="596.3" cy="250.5" r="2"/><circle class="A" cx="453.1" cy="27.1" r="2"/><circle class="H" cx="604.0" cy="138.5" r="2"/><circle class="H" cx="667.8" cy="101.7" r="2"/><circle class="A" cx="452.3" cy="30.1" r="2"/><circle class="A" cx="453.0" cy="25.9" r="2"/><circle class="S" cx="482.5" cy="165.6" r="2"/><circle class="P" cx="570.5" cy="99.6" r="2"/><circle class="D" cx="497.2" cy="174.8" r="2"/><circle class="X" cx="533.6" cy="148.0" r="2"/><circle class="S" cx="563.1" cy="198.1" r="2"/><circle class="N" cx="595.7" cy="227.8" r="2"/><circle class="H" cx="614.8" cy="123.1" r="2"/><circle class="H" cx="613.3" cy="124.3" r="2"/><circle class="P" cx="572.8" cy="99.2" r="2"/><circle class="H" cx="608.8" cy="125.4" r="2"/><circle class="P" cx="570.0" cy="97.5" r="2"/><circle class="X" cx="534.2" cy="141.3" r="2"/><circle class="P" cx="574.0" cy="105.6" r="2"/><circle class="S" cx="557.2" cy="197.4" r="2"/><circle class="D" cx="498.6" cy="174.1" r="2"/><circle class="A" cx="452.8" cy="27.7" r="2"/><circle class="H" cx="619.9" cy="122.5" r="2"/><circle class="X" cx="670.5" cy="144.8" r="2"/><circle class="H" cx="617.0" cy="117.7" r="2"/><circle class="H" cx="609.0" cy="119.1" r="2"/><circle class="X" cx="669.7" cy="145.1" r="2"/><circle class="A" cx="468.0" cy="34.1" r="2"/><circle class="S" cx="563.2" cy="195.9" r="2"/><circle class="S" cx="557.9" cy="197.4" r="2"/><circle class="P" cx="575.9" cy="106.3" r="2"/><circle class="X" cx="536.4" cy="143.0" r="2"/><circle class="X" cx="520.5" cy="120.2" r="2"/><circle class="H" cx="622.1" cy="127.5" r="2"/><circle class="D" cx="495.7" cy="182.5" r="2"/><circle class="P" cx="559.8" cy="112.2" r="2"/><circle class="A" cx="450.2" cy="27.0" r="2"/><circle class="S" cx="566.2" cy="201.2" r="2"/><circle class="N" cx="614.3" cy="229.2" r="2"/><circle class="D" cx="496.9" cy="176.9" r="2"/><circle class="P" cx="570.2" cy="99.4" r="2"/><circle class="N" cx="609.8" cy="234.6" r="2"/><circle class="D" cx="495.3" cy="175.2" r="2"/><circle class="S" cx="588.8" cy="280.5" r="2"/><circle class="A" cx="470.4" cy="37.7" r="2"/><circle class="S" cx="588.6" cy="258.5" r="2"/><circle class="N" cx="620.6" cy="241.0" r="2"/><circle class="S" cx="587.3" cy="224.3" r="2"/><circle class="N" cx="601.4" cy="234.6" r="2"/><circle class="X" cx="522.1" cy="122.1" r="2"/><circle class="A" cx="476.7" cy="40.1" r="2"/><circle class="N" cx="609.1" cy="234.1" r="2"/><circle class="H" cx="537.0" cy="39.9" r="2"/><circle class="N" cx="620.2" cy="235.2" r="2"/><circle class="P" cx="559.8" cy="102.5" r="2"/><circle class="H" cx="614.0" cy="114.9" r="2"/><circle class="N" cx="589.7" cy="277.8" r="2"/><circle class="N" cx="608.5" cy="226.8" r="2"/><circle class="X" cx="525.2" cy="140.8" r="2"/><circle class="H" cx="587.1" cy="150.4" r="2"/><circle class="S" cx="573.4" cy="204.4" r="2"/><circle class="N" cx="594.7" cy="240.2" r="2"/><circle class="P" cx="548.4" cy="123.8" r="2"/><circle class="H" cx="515.8" cy="166.2" r="2"/><circle class="N" cx="603.9" cy="169.5" r="2"/><circle class="D" cx="495.8" cy="179.4" r="2"/><circle class="N" cx="610.8" cy="245.1" r="2"/><circle class="P" cx="574.4" cy="104.7" r="2"/><circle class="D" cx="495.2" cy="178.7" r="2"/><circle class="N" cx="525.1" cy="170.9" r="2"/><circle class="A" cx="451.8" cy="29.9" r="2"/><circle class="A" cx="481.2" cy="42.1" r="2"/><circle class="H" cx="617.7" cy="123.4" r="2"/><circle class="P" cx="562.6" cy="88.9" r="2"/><circle class="N" cx="623.4" cy="250.2" r="2"/><circle class="H" cx="525.2" cy="72.4" r="2"/><circle class="D" cx="487.0" cy="174.5" r="2"/><circle class="P" cx="566.2" cy="112.1" r="2"/><circle class="D" cx="486.0" cy="190.5" r="2"/><circle class="D" cx="498.4" cy="179.2" r="2"/><circle class="S" cx="590.2" cy="222.0" r="2"/><circle class="D" cx="501.0" cy="154.2" r="2"/><circle class="S" cx="582.4" cy="214.6" r="2"/><circle class="X" cx="535.3" cy="143.5" r="2"/><circle class="H" cx="604.2" cy="125.4" r="2"/><circle class="X" cx="550.5" cy="117.9" r="2"/><circle class="D" cx="505.3" cy="162.7" r="2"/><circle class="X" cx="550.8" cy="114.9" r="2"/><circle class="P" cx="562.1" cy="101.8" r="2"/><circle class="N" cx="616.1" cy="246.5" r="2"/><circle class="A" cx="452.4" cy="29.3" r="2"/><circle class="S" cx="569.5" cy="197.5" r="2"/><circle class="A" cx="450.1" cy="27.6" r="2"/><circle class="P" cx="573.6" cy="119.5" r="2"/><circle class="N" cx="606.2" cy="231.6" r="2"/><circle class="D" cx="498.1" cy="174.1" r="2"/><circle class="A" cx="454.8" cy="30.2" r="2"/><circle class="P" cx="570.3" cy="106.8" r="2"/><circle class="X" cx="529.3" cy="115.2" r="2"/><circle class="H" cx="592.4" cy="139.5" r="2"/><circle class="X" cx="648.1" cy="144.0" r="2"/><circle class="H" cx="626.0" cy="118.7" r="2"/><circle class="N" cx="609.6" cy="223.9" r="2"/><circle class="A" cx="454.8" cy="27.1" r="2"/><circle class="S" cx="562.5" cy="196.1" r="2"/><circle class="X" cx="507.6" cy="101.7" r="2"/><circle class="X" cx="585.2" cy="190.7" r="2"/><circle class="H" cx="471.6" cy="23.7" r="2"/><circle class="A" cx="451.7" cy="25.5" r="2"/><circle class="N" cx="628.7" cy="222.7" r="2"/><circle class="N" cx="626.9" cy="223.1" r="2"/><circle class="X" cx="551.3" cy="116.1" r="2"/><circle class="H" cx="603.2" cy="144.1" r="2"/><circle class="S" cx="579.3" cy="209.6" r="2"/><circle class="X" cx="522.3" cy="110.7" r="2"/><circle class="X" cx="524.1" cy="136.0" r="2"/><circle class="H" cx="615.2" cy="123.8" r="2"/><circle class="N" cx="514.1" cy="191.9" r="2"/><circle class="P" cx="577.4" cy="92.0" r="2"/><circle class="N" cx="486.0" cy="172.0" r="2"/><circle class="D" cx="503.1" cy="175.1" r="2"/><circle class="X" cx="538.3" cy="143.3" r="2"/><circle class="X" cx="599.9" cy="144.8" r="2"/><circle class="S" cx="586.4" cy="214.4" r="2"/><circle class="D" cx="499.3" cy="177.4" r="2"/><circle class="H" cx="591.9" cy="134.1" r="2"/><circle class="S" cx="497.9" cy="190.5" r="2"/><circle class="A" cx="448.8" cy="24.9" r="2"/><circle class="N" cx="610.6" cy="233.0" r="2"/><circle class="P" cx="566.5" cy="90.6" r="2"/><circle class="D" cx="493.6" cy="176.1" r="2"/><circle class="S" cx="574.9" cy="207.2" r="2"/><circle class="S" cx="587.7" cy="224.6" r="2"/><circle class="A" cx="463.3" cy="80.4" r="2"/><circle class="H" cx="621.6" cy="125.6" r="2"/><circle class="S" cx="583.0" cy="210.4" r="2"/><circle class="N" cx="600.7" cy="226.3" r="2"/><circle class="S" cx="557.1" cy="199.3" r="2"/><circle class="D" cx="504.5" cy="176.4" r="2"/><circle class="S" cx="570.0" cy="202.9" r="2"/><circle class="H" cx="606.5" cy="132.3" r="2"/><circle class="X" cx="534.5" cy="139.2" r="2"/><circle class="D" cx="508.8" cy="145.8" r="2"/><circle class="D" cx="498.1" cy="182.1" r="2"/><circle class="A" cx="475.0" cy="40.0" r="2"/><circle class="P" cx="575.6" cy="105.1" r="2"/><circle class="P" cx="561.1" cy="95.8" r="2"/><circle class="S" cx="560.9" cy="203.7" r="2"/><circle class="S" cx="498.9" cy="186.1" r="2"/><circle class="A" cx="452.8" cy="25.6" r="2"/><circle class="X" cx="530.4" cy="113.1" r="2"/><circle class="S" cx="574.7" cy="207.2" r="2"/><circle class="N" cx="611.1" cy="228.5" r="2"/><circle class="P" cx="566.4" cy="97.7" r="2"/><circle class="H" cx="603.2" cy="139.8" r="2"/><circle class="X" cx="522.7" cy="113.3" r="2"/><circle class="P" cx="578.4" cy="104.5" r="2"/><circle class="S" cx="569.3" cy="199.6" r="2"/><circle class="H" cx="612.3" cy="119.7" r="2"/><circle class="X" cx="537.7" cy="141.7" r="2"/><circle class="S" cx="569.2" cy="203.6" r="2"/><circle class="D" cx="497.1" cy="169.9" r="2"/><circle class="S" cx="586.1" cy="213.6" r="2"/><circle class="D" cx="496.1" cy="179.2" r="2"/><circle class="D" cx="499.8" cy="178.9" r="2"/><circle class="P" cx="552.8" cy="126.7" r="2"/><circle class="A" cx="452.8" cy="26.3" r="2"/><circle class="H" cx="612.0" cy="121.9" r="2"/><circle class="X" cx="549.6" cy="116.6" r="2"/><circle class="H" cx="619.3" cy="117.5" r="2"/><circle class="N" cx="609.9" cy="253.8" r="2"/><circle class="N" cx="609.9" cy="225.5" r="2"/><circle class="S" cx="593.7" cy="253.6" r="2"/><circle class="S" cx="572.1" cy="204.8" r="2"/><circle class="N" cx="608.0" cy="229.3" r="2"/><circle class="H" cx="582.3" cy="135.9" r="2"/><circle class="S" cx="585.2" cy="217.2" r="2"/><circle class="X" cx="536.7" cy="134.0" r="2"/><circle class="S" cx="585.1" cy="222.1" r="2"/><circle class="N" cx="592.4" cy="230.3" r="2"/><circle class="N" cx="602.8" cy="231.2" r="2"/><circle class="N" cx="652.6" cy="217.9" r="2"/><circle class="X" cx="541.1" cy="143.0" r="2"/><circle class="H" cx="584.7" cy="141.4" r="2"/><circle class="N" cx="617.1" cy="232.5" r="2"/><circle class="D" cx="492.5" cy="172.4" r="2"/><circle class="X" cx="539.9" cy="139.6" r="2"/><circle class="H" cx="498.7" cy="170.8" r="2"/><circle class="S" cx="607.6" cy="208.2" r="2"/><circle class="X" cx="536.8" cy="142.3" r="2"/><circle class="A" cx="455.8" cy="30.1" r="2"/><circle class="N" cx="558.2" cy="136.8" r="2"/><circle class="A" cx="453.8" cy="30.4" r="2"/><circle class="H" cx="618.2" cy="130.6" r="2"/><circle class="H" cx="612.8" cy="125.3" r="2"/><circle class="S" cx="596.9" cy="252.3" r="2"/><circle class="H" cx="604.8" cy="132.7" r="2"/><circle class="S" cx="484.5" cy="176.6" r="2"/><circle class="H" cx="602.2" cy="142.6" r="2"/><circle class="A" cx="467.9" cy="33.4" r="2"/><circle class="D" cx="496.3" cy="175.4" r="2"/><circle class="A" cx="456.0" cy="28.2" r="2"/><circle class="N" cx="606.4" cy="153.0" r="2"/><circle class="D" cx="498.4" cy="177.4" r="2"/><circle class="D" cx="497.8" cy="178.1" r="2"/><circle class="X" cx="520.4" cy="129.1" r="2"/><circle class="S" cx="555.5" cy="200.1" r="2"/><circle class="A" cx="448.4" cy="26.0" r="2"/><circle class="X" cx="522.5" cy="126.3" r="2"/><circle class="N" cx="561.4" cy="172.5" r="2"/><circle class="H" cx="616.4" cy="125.3" r="2"/><circle class="P" cx="571.0" cy="105.9" r="2"/><circle class="N" cx="618.7" cy="227.3" r="2"/><circle class="A" cx="454.0" cy="30.8" r="2"/><circle class="D" cx="496.8" cy="177.4" r="2"/><circle class="P" cx="572.0" cy="96.6" r="2"/><circle class="N" cx="598.5" cy="234.2" r="2"/><circle class="S" cx="554.3" cy="192.7" r="2"/><circle class="S" cx="569.7" cy="200.7" r="2"/><circle class="X" cx="549.9" cy="144.2" r="2"/><circle class="A" cx="457.3" cy="51.2" r="2"/><circle class="S" cx="571.2" cy="204.0" r="2"/><circle class="S" cx="574.7" cy="205.4" r="2"/><circle class="N" cx="604.6" cy="222.7" r="2"/><circle class="N" cx="617.3" cy="234.7" r="2"/><circle class="X" cx="552.7" cy="114.9" r="2"/><circle class="P" cx="576.9" cy="104.4" r="2"/><circle class="P" cx="573.2" cy="99.1" r="2"/><circle class="H" cx="596.1" cy="137.8" r="2"/><circle class="X" cx="533.1" cy="123.8" r="2"/><circle class="H" cx="461.8" cy="97.6" r="2"/><circle class="X" cx="516.6" cy="137.0" r="2"/><circle class="S" cx="583.2" cy="214.2" r="2"/><circle class="X" cx="524.1" cy="116.6" r="2"/><circle class="S" cx="562.3" cy="195.6" r="2"/><circle class="S" cx="572.9" cy="204.4" r="2"/><circle class="A" cx="464.8" cy="35.0" r="2"/><circle class="P" cx="574.0" cy="103.5" r="2"/><circle class="A" cx="454.9" cy="26.3" r="2"/><circle class="X" cx="535.1" cy="141.0" r="2"/><circle class="D" cx="494.2" cy="179.8" r="2"/><circle class="X" cx="529.3" cy="142.6" r="2"/><circle class="H" cx="616.8" cy="119.0" r="2"/><circle class="N" cx="602.1" cy="234.2" r="2"/><circle class="H" cx="618.9" cy="126.3" r="2"/><circle class="N" cx="630.7" cy="227.7" r="2"/><circle class="X" cx="548.8" cy="185.8" r="2"/><circle class="N" cx="626.4" cy="218.5" r="2"/><circle class="N" cx="604.8" cy="227.5" r="2"/><circle class="S" cx="590.7" cy="259.2" r="2"/><circle class="A" cx="450.7" cy="28.9" r="2"/><circle class="N" cx="613.3" cy="234.7" r="2"/><circle class="N" cx="607.7" cy="229.6" r="2"/><circle class="S" cx="579.7" cy="206.6" r="2"/><circle class="X" cx="526.2" cy="94.5" r="2"/><circle class="N" cx="614.5" cy="235.5" r="2"/><circle class="X" cx="530.6" cy="126.4" r="2"/><circle class="X" cx="526.4" cy="114.9" r="2"/><circle class="A" cx="462.4" cy="30.4" r="2"/><circle class="P" cx="539.6" cy="89.5" r="2"/><circle class="H" cx="613.3" cy="121.6" r="2"/><circle class="A" cx="451.5" cy="27.0" r="2"/><circle class="N" cx="499.0" cy="139.8" r="2"/><circle class="D" cx="496.3" cy="179.2" r="2"/><circle class="H" cx="608.2" cy="129.4" r="2"/><circle class="D" cx="516.4" cy="173.8" r="2"/><circle class="N" cx="619.0" cy="250.8" r="2"/><circle class="S" cx="585.9" cy="214.5" r="2"/><circle class="S" cx="557.9" cy="195.8" r="2"/><circle class="P" cx="574.0" cy="107.8" r="2"/><circle class="N" cx="610.9" cy="229.3" r="2"/><circle class="X" cx="535.3" cy="118.7" r="2"/><circle class="D" cx="500.9" cy="180.8" r="2"/><circle class="A" cx="467.3" cy="34.0" r="2"/><circle class="P" cx="575.8" cy="103.5" r="2"/><circle class="H" cx="618.1" cy="125.2" r="2"/><circle class="S" cx="548.4" cy="198.8" r="2"/><circle class="P" cx="552.5" cy="100.1" r="2"/><circle class="P" cx="572.7" cy="107.5" r="2"/><circle class="N" cx="617.7" cy="226.2" r="2"/><circle class="A" cx="452.9" cy="27.4" r="2"/><circle class="N" cx="634.6" cy="229.6" r="2"/><circle class="H" cx="485.8" cy="132.3" r="2"/><circle class="D" cx="496.7" cy="173.3" r="2"/><circle class="H" cx="507.0" cy="139.3" r="2"/><circle class="A" cx="454.6" cy="29.8" r="2"/><circle class="P" cx="561.8" cy="85.2" r="2"/><circle class="A" cx="451.5" cy="26.7" r="2"/><circle class="A" cx="468.8" cy="36.0" r="2"/><circle class="H" cx="588.1" cy="140.7" r="2"/><circle class="X" cx="535.4" cy="138.3" r="2"/><circle class="A" cx="449.8" cy="36.2" r="2"/><circle class="S" cx="586.5" cy="216.3" r="2"/><circle class="D" cx="495.1" cy="177.6" r="2"/><circle class="N" cx="629.1" cy="226.5" r="2"/><circle class="D" cx="497.1" cy="173.3" r="2"/><circle class="N" cx="542.1" cy="196.0" r="2"/><circle class="H" cx="596.5" cy="134.6" r="2"/><circle class="P" cx="548.9" cy="119.8" r="2"/><circle class="D" cx="503.4" cy="179.4" r="2"/><circle class="D" cx="501.6" cy="182.9" r="2"/><circle class="H" cx="590.4" cy="141.5" r="2"/><circle class="X" cx="521.5" cy="125.6" r="2"/><circle class="A" cx="472.0" cy="37.4" r="2"/><circle class="D" cx="499.5" cy="179.0" r="2"/><circle class="N" cx="607.5" cy="224.2" r="2"/><circle class="D" cx="499.9" cy="177.9" r="2"/><circle class="H" cx="615.0" cy="129.7" r="2"/><circle class="P" cx="572.1" cy="101.7" r="2"/><circle class="A" cx="448.6" cy="27.2" r="2"/><circle class="S" cx="593.5" cy="248.5" r="2"/><circle class="D" cx="497.6" cy="176.9" r="2"/><circle class="N" cx="622.2" cy="235.8" r="2"/><circle class="H" cx="620.8" cy="121.4" r="2"/><circle class="X" cx="541.8" cy="123.8" r="2"/><circle class="P" cx="570.5" cy="98.1" r="2"/><circle class="N" cx="612.3" cy="239.9" r="2"/><circle class="S" cx="582.9" cy="211.6" r="2"/><circle class="N" cx="624.7" cy="229.8" r="2"/><circle class="P" cx="567.1" cy="88.5" r="2"/><circle class="S" cx="578.4" cy="211.7" r="2"/><circle class="A" cx="452.7" cy="28.3" r="2"/><circle class="H" cx="619.7" cy="115.6" r="2"/><circle class="X" cx="536.7" cy="144.4" r="2"/><circle class="P" cx="565.9" cy="92.5" r="2"/><circle class="A" cx="455.0" cy="27.8" r="2"/><circle class="H" cx="602.8" cy="127.6" r="2"/><circle class="X" cx="596.1" cy="196.6" r="2"/><circle class="S" cx="588.9" cy="222.3" r="2"/><circle class="H" cx="615.4" cy="121.1" r="2"/><circle class="A" cx="468.5" cy="32.8" r="2"/><circle class="S" cx="575.9" cy="204.1" r="2"/><circle class="A" cx="454.8" cy="27.0" r="2"/><circle class="H" cx="602.9" cy="136.9" r="2"/><circle class="N" cx="625.6" cy="228.1" r="2"/><circle class="P" cx="572.1" cy="102.6" r="2"/><circle class="X" cx="524.3" cy="111.8" r="2"/><circle class="S" cx="588.1" cy="213.4" r="2"/><circle class="N" cx="618.1" cy="251.0" r="2"/><circle class="X" cx="536.8" cy="124.4" r="2"/><circle class="N" cx="592.4" cy="242.0" r="2"/><circle class="X" cx="528.6" cy="111.4" r="2"/><circle class="P" cx="572.9" cy="110.0" r="2"/><circle class="D" cx="496.1" cy="175.3" r="2"/><circle class="S" cx="587.7" cy="224.2" r="2"/><circle class="S" cx="577.2" cy="204.4" r="2"/><circle class="S" cx="589.4" cy="220.3" r="2"/><circle class="H" cx="596.7" cy="137.2" r="2"/><circle class="N" cx="626.0" cy="226.1" r="2"/><circle class="N" cx="614.8" cy="231.7" r="2"/><circle class="P" cx="572.2" cy="104.2" r="2"/><circle class="A" cx="465.7" cy="34.2" r="2"/><circle class="P" cx="570.4" cy="103.0" r="2"/><circle class="X" cx="519.9" cy="118.5" r="2"/><circle class="X" cx="584.6" cy="132.3" r="2"/><circle class="H" cx="456.6" cy="62.2" r="2"/><circle class="X" cx="549.3" cy="119.8" r="2"/><circle class="H" cx="616.3" cy="119.1" r="2"/><circle class="H" cx="562.7" cy="109.8" r="2"/><circle class="X" cx="605.7" cy="197.5" r="2"/><circle class="P" cx="569.5" cy="95.4" r="2"/><circle class="A" cx="448.0" cy="23.3" r="2"/><circle class="N" cx="613.0" cy="233.6" r="2"/><circle class="P" cx="570.9" cy="100.6" r="2"/><circle class="X" cx="533.0" cy="139.3" r="2"/><circle class="P" cx="513.5" cy="94.1" r="2"/><circle class="X" cx="664.1" cy="139.2" r="2"/><circle class="X" cx="528.7" cy="129.6" r="2"/><circle class="X" cx="528.9" cy="118.5" r="2"/><circle class="A" cx="452.6" cy="30.8" r="2"/><circle class="N" cx="611.3" cy="252.7" r="2"/><circle class="H" cx="602.9" cy="126.4" r="2"/><circle class="A" cx="451.9" cy="25.7" r="2"/><circle class="S" cx="594.6" cy="264.5" r="2"/><circle class="S" cx="561.6" cy="196.5" r="2"/><circle class="D" cx="495.9" cy="171.7" r="2"/><circle class="X" cx="522.7" cy="121.2" r="2"/><circle class="S" cx="576.7" cy="205.5" r="2"/><circle class="P" cx="572.9" cy="104.1" r="2"/><circle class="X" cx="520.7" cy="122.0" r="2"/><circle class="A" cx="471.3" cy="37.5" r="2"/><circle class="P" cx="540.7" cy="57.9" r="2"/><circle class="P" cx="536.7" cy="94.6" r="2"/><circle class="A" cx="457.1" cy="30.2" r="2"/><circle class="X" cx="548.7" cy="125.0" r="2"/><circle class="N" cx="498.9" cy="141.7" r="2"/><circle class="N" cx="623.0" cy="225.8" r="2"/><circle class="N" cx="609.8" cy="248.1" r="2"/><circle class="X" cx="526.5" cy="115.3" r="2"/><circle class="A" cx="454.3" cy="29.9" r="2"/><circle class="H" cx="612.2" cy="130.2" r="2"/><circle class="S" cx="567.8" cy="202.3" r="2"/><circle class="X" cx="510.5" cy="103.6" r="2"/><circle class="H" cx="455.1" cy="92.4" r="2"/><circle class="S" cx="580.2" cy="210.6" r="2"/><circle class="P" cx="569.2" cy="110.9" r="2"/><circle class="X" cx="589.9" cy="204.5" r="2"/><circle class="N" cx="614.0" cy="241.4" r="2"/><circle class="D" cx="497.7" cy="179.0" r="2"/><circle class="N" cx="599.0" cy="228.6" r="2"/><circle class="S" cx="574.4" cy="198.7" r="2"/><circle class="A" cx="454.3" cy="28.2" r="2"/><circle class="S" cx="572.4" cy="205.1" r="2"/><circle class="S" cx="564.2" cy="195.1" r="2"/><circle class="S" cx="585.4" cy="221.9" r="2"/><circle class="S" cx="569.4" cy="202.6" r="2"/><circle class="S" cx="586.5" cy="224.1" r="2"/><circle class="P" cx="569.2" cy="91.5" r="2"/><circle class="D" cx="497.1" cy="186.2" r="2"/><circle class="D" cx="496.2" cy="141.9" r="2"/><circle class="P" cx="568.8" cy="108.7" r="2"/><circle class="S" cx="569.4" cy="211.1" r="2"/><circle class="D" cx="499.6" cy="177.1" r="2"/><circle class="A" cx="449.9" cy="26.4" r="2"/><circle class="N" cx="617.6" cy="250.9" r="2"/><circle class="X" cx="526.0" cy="109.7" r="2"/><circle class="D" cx="497.2" cy="177.2" r="2"/><circle class="D" cx="495.3" cy="174.5" r="2"/><circle class="X" cx="544.5" cy="152.0" r="2"/><circle class="S" cx="574.7" cy="205.9" r="2"/><circle class="D" cx="493.4" cy="181.5" r="2"/><circle class="P" cx="570.1" cy="100.0" r="2"/><circle class="H" cx="601.0" cy="139.1" r="2"/><circle class="H" cx="617.8" cy="124.2" r="2"/><circle class="D" cx="495.8" cy="179.5" r="2"/><circle class="A" cx="467.2" cy="35.6" r="2"/><circle class="N" cx="519.3" cy="158.0" r="2"/><circle class="D" cx="494.8" cy="176.9" r="2"/><circle class="D" cx="494.8" cy="178.1" r="2"/><circle class="P" cx="574.7" cy="96.9" r="2"/><circle class="P" cx="570.1" cy="101.8" r="2"/><circle class="X" cx="618.8" cy="195.2" r="2"/><circle class="X" cx="526.3" cy="129.4" r="2"/><circle class="P" cx="557.7" cy="126.1" r="2"/><circle class="D" cx="494.8" cy="175.8" r="2"/><circle class="D" cx="491.0" cy="178.4" r="2"/><circle class="S" cx="592.7" cy="253.5" r="2"/><circle class="D" cx="499.3" cy="179.1" r="2"/><circle class="A" cx="452.0" cy="29.5" r="2"/><circle class="P" cx="534.7" cy="53.7" r="2"/><circle class="D" cx="491.8" cy="178.7" r="2"/><circle class="H" cx="617.3" cy="118.5" r="2"/><circle class="H" cx="615.9" cy="124.5" r="2"/><circle class="D" cx="499.5" cy="174.2" r="2"/><circle class="H" cx="609.0" cy="125.5" r="2"/><circle class="S" cx="555.7" cy="196.7" r="2"/><circle class="P" cx="571.9" cy="99.9" r="2"/><circle class="D" cx="499.9" cy="174.9" r="2"/><circle class="X" cx="538.8" cy="137.6" r="2"/><circle class="A" cx="451.6" cy="25.4" r="2"/><circle class="X" cx="551.0" cy="118.0" r="2"/><circle class="A" cx="452.3" cy="30.8" r="2"/><circle class="P" cx="569.1" cy="99.6" r="2"/><circle class="X" cx="528.1" cy="112.9" r="2"/><circle class="A" cx="451.2" cy="28.2" r="2"/><circle class="P" cx="571.8" cy="99.4" r="2"/><circle class="X" cx="512.7" cy="104.6" r="2"/><circle class="N" cx="520.2" cy="134.8" r="2"/><circle class="H" cx="627.8" cy="124.3" r="2"/><circle class="D" cx="497.0" cy="180.1" r="2"/><circle class="S" cx="593.3" cy="255.4" r="2"/><circle class="D" cx="496.7" cy="176.1" r="2"/><circle class="D" cx="496.2" cy="182.4" r="2"/><circle class="D" cx="498.2" cy="179.0" r="2"/><circle class="N" cx="609.7" cy="214.5" r="2"/><circle class="D" cx="497.6" cy="175.9" r="2"/><circle class="P" cx="557.3" cy="112.1" r="2"/><circle class="P" cx="572.3" cy="102.0" r="2"/><circle class="A" cx="452.5" cy="25.4" r="2"/><circle class="P" cx="572.2" cy="96.6" r="2"/><circle class="P" cx="556.5" cy="82.7" r="2"/><circle class="X" cx="534.0" cy="124.8" r="2"/><circle class="H" cx="616.4" cy="121.7" r="2"/><circle class="A" cx="451.2" cy="27.9" r="2"/><circle class="N" cx="621.7" cy="229.8" r="2"/><circle class="S" cx="560.1" cy="200.7" r="2"/><circle class="H" cx="623.0" cy="127.9" r="2"/><circle class="D" cx="493.9" cy="175.7" r="2"/><circle class="A" cx="454.0" cy="28.2" r="2"/><circle class="S" cx="557.8" cy="188.7" r="2"/><circle class="P" cx="563.5" cy="105.0" r="2"/><circle class="S" cx="557.6" cy="199.6" r="2"/><circle class="P" cx="557.0" cy="98.7" r="2"/><circle class="X" cx="535.4" cy="138.3" r="2"/><circle class="A" cx="454.5" cy="28.5" r="2"/><circle class="N" cx="613.4" cy="229.6" r="2"/><circle class="S" cx="526.5" cy="190.0" r="2"/><circle class="P" cx="566.5" cy="114.7" r="2"/><circle class="N" cx="610.7" cy="222.4" r="2"/><circle class="P" cx="574.0" cy="98.8" r="2"/><circle class="X" cx="524.6" cy="111.5" r="2"/><circle class="X" cx="525.8" cy="122.0" r="2"/><circle class="P" cx="570.7" cy="101.0" r="2"/><circle class="S" cx="563.1" cy="199.0" r="2"/><circle class="D" cx="487.2" cy="187.2" r="2"/><circle class="H" cx="503.5" cy="146.9" r="2"/><circle class="N" cx="497.1" cy="153.4" r="2"/><circle class="S" cx="576.3" cy="207.5" r="2"/><circle class="A" cx="461.0" cy="30.0" r="2"/><circle class="H" cx="619.9" cy="124.1" r="2"/><circle class="N" cx="604.0" cy="236.3" r="2"/><circle class="H" cx="491.8" cy="172.0" r="2"/><circle class="S" cx="568.0" cy="197.9" r="2"/><circle class="H" cx="629.5" cy="120.8" r="2"/><circle class="P" cx="568.4" cy="114.9" r="2"/><circle class="S" cx="593.1" cy="253.9" r="2"/><circle class="A" cx="450.1" cy="27.9" r="2"/><circle class="H" cx="622.8" cy="127.5" r="2"/><circle class="N" cx="607.1" cy="247.2" r="2"/><circle class="N" cx="608.1" cy="234.7" r="2"/><circle class="A" cx="465.5" cy="35.0" r="2"/><circle class="N" cx="496.5" cy="158.6" r="2"/><circle class="A" cx="449.3" cy="27.8" r="2"/><circle class="S" cx="551.0" cy="192.4" r="2"/><circle class="P" cx="569.4" cy="94.4" r="2"/><circle class="S" cx="583.5" cy="211.6" r="2"/><circle class="A" cx="453.9" cy="26.0" r="2"/><circle class="D" cx="495.5" cy="177.6" r="2"/><circle class="N" cx="655.8" cy="188.0" r="2"/><circle class="N" cx="524.0" cy="141.8" r="2"/><circle class="P" cx="572.4" cy="107.9" r="2"/><circle class="N" cx="626.4" cy="224.4" r="2"/><circle class="P" cx="576.1" cy="109.8" r="2"/><circle class="X" cx="533.3" cy="139.6" r="2"/><circle class="N" cx="615.5" cy="228.8" r="2"/><circle class="A" cx="452.8" cy="25.8" r="2"/><circle class="H" cx="597.0" cy="134.0" r="2"/><circle class="P" cx="549.7" cy="89.4" r="2"/><circle class="S" cx="590.8" cy="257.9" r="2"/><circle class="P" cx="563.7" cy="131.1" r="2"/><circle class="D" cx="496.9" cy="181.2" r="2"/><circle class="H" cx="620.7" cy="121.1" r="2"/><circle class="N" cx="607.5" cy="227.9" r="2"/><circle class="X" cx="538.0" cy="143.3" r="2"/><circle class="P" cx="561.3" cy="96.7" r="2"/><circle class="D" cx="496.2" cy="179.6" r="2"/><circle class="D" cx="495.0" cy="173.0" r="2"/><circle class="D" cx="497.6" cy="174.1" r="2"/><circle class="N" cx="606.5" cy="252.2" r="2"/><circle class="X" cx="552.8" cy="115.9" r="2"/><circle class="S" cx="576.3" cy="207.2" r="2"/><circle class="P" cx="573.9" cy="101.7" r="2"/><circle class="X" cx="594.7" cy="199.3" r="2"/><circle class="A" cx="452.1" cy="28.3" r="2"/><circle class="H" cx="597.1" cy="139.9" r="2"/><circle class="P" cx="572.0" cy="104.9" r="2"/><circle class="S" cx="580.0" cy="204.3" r="2"/><circle class="P" cx="565.5" cy="90.4" r="2"/><circle class="N" cx="599.1" cy="243.9" r="2"/><circle class="N" cx="611.4" cy="191.9" r="2"/><circle class="D" cx="498.6" cy="176.8" r="2"/><circle class="N" cx="604.0" cy="232.7" r="2"/><circle class="N" cx="502.4" cy="139.3" r="2"/><circle class="S" cx="593.8" cy="253.1" r="2"/><circle class="X" cx="602.2" cy="194.9" r="2"/><circle class="X" cx="522.0" cy="101.3" r="2"/><circle class="D" cx="496.5" cy="174.2" r="2"/><circle class="S" cx="577.2" cy="205.1" r="2"/><circle class="N" cx="608.1" cy="238.4" r="2"/><circle class="P" cx="573.6" cy="99.6" r="2"/><circle class="H" cx="592.8" cy="138.3" r="2"/><circle class="H" cx="611.5" cy="127.6" r="2"/><circle class="P" cx="569.9" cy="112.5" r="2"/><circle class="S" cx="550.6" cy="198.7" r="2"/><circle class="A" cx="470.1" cy="37.3" r="2"/><circle class="P" cx="553.9" cy="124.8" r="2"/><circle class="X" cx="529.1" cy="134.7" r="2"/><circle class="D" cx="495.1" cy="178.8" r="2"/><circle class="A" cx="464.5" cy="34.4" r="2"/><circle class="X" cx="526.8" cy="116.5" r="2"/><circle class="S" cx="560.6" cy="199.6" r="2"/><circle class="H" cx="622.7" cy="124.0" r="2"/><circle class="H" cx="500.0" cy="163.3" r="2"/><circle class="D" cx="493.0" cy="161.5" r="2"/><circle class="N" cx="611.1" cy="236.4" r="2"/><circle class="H" cx="496.6" cy="176.3" r="2"/><circle class="S" cx="586.9" cy="211.5" r="2"/><circle class="N" cx="613.9" cy="224.8" r="2"/><circle class="X" cx="524.5" cy="125.9" r="2"/><circle class="P" cx="571.4" cy="105.9" r="2"/><circle class="H" cx="599.9" cy="112.2" r="2"/><circle class="N" cx="611.3" cy="245.3" r="2"/><circle class="X" cx="537.3" cy="139.8" r="2"/><circle class="P" cx="551.4" cy="137.3" r="2"/><circle class="X" cx="533.7" cy="141.8" r="2"/><circle class="X" cx="643.3" cy="135.1" r="2"/><circle class="X" cx="529.8" cy="120.1" r="2"/><circle class="D" cx="493.5" cy="182.3" r="2"/><circle class="N" cx="627.3" cy="232.7" r="2"/><circle class="N" cx="618.0" cy="237.7" r="2"/><circle class="N" cx="622.6" cy="146.0" r="2"/><circle class="P" cx="562.9" cy="89.5" r="2"/><circle class="D" cx="496.5" cy="179.2" r="2"/><circle class="P" cx="565.5" cy="108.0" r="2"/><circle class="A" cx="451.2" cy="26.9" r="2"/><circle class="N" cx="624.8" cy="229.4" r="2"/><circle class="X" cx="648.1" cy="160.0" r="2"/><circle class="N" cx="612.7" cy="232.2" r="2"/><circle class="X" cx="510.0" cy="124.9" r="2"/><circle class="D" cx="496.3" cy="177.8" r="2"/><circle class="S" cx="586.2" cy="223.9" r="2"/><circle class="A" cx="453.6" cy="26.4" r="2"/><circle class="X" cx="507.9" cy="103.6" r="2"/><circle class="X" cx="528.9" cy="128.1" r="2"/><circle class="D" cx="502.8" cy="174.0" r="2"/><circle class="S" cx="591.4" cy="225.9" r="2"/><circle class="N" cx="614.6" cy="228.9" r="2"/><circle class="S" cx="573.0" cy="201.4" r="2"/><circle class="P" cx="562.3" cy="104.1" r="2"/><circle class="P" cx="536.5" cy="94.4" r="2"/><circle class="N" cx="609.8" cy="236.8" r="2"/><circle class="A" cx="451.2" cy="26.2" r="2"/><circle class="H" cx="616.5" cy="123.8" r="2"/><circle class="A" cx="455.3" cy="26.0" r="2"/><circle class="A" cx="452.2" cy="28.5" r="2"/><circle class="S" cx="545.4" cy="198.5" r="2"/><circle class="D" cx="495.9" cy="179.4" r="2"/><circle class="H" cx="502.8" cy="78.1" r="2"/><circle class="A" cx="454.1" cy="27.7" r="2"/><circle class="S" cx="597.4" cy="246.3" r="2"/><circle class="D" cx="498.9" cy="139.3" r="2"/><circle class="X" cx="620.8" cy="103.1" r="2"/><circle class="S" cx="592.0" cy="248.7" r="2"/><circle class="D" cx="491.1" cy="174.0" r="2"/><circle class="D" cx="494.6" cy="177.3" r="2"/><circle class="N" cx="613.5" cy="230.2" r="2"/><circle class="A" cx="464.4" cy="33.4" r="2"/><circle class="X" cx="547.8" cy="115.9" r="2"/><circle class="N" cx="607.3" cy="226.0" r="2"/><circle class="S" cx="573.8" cy="205.0" r="2"/><circle class="P" cx="575.3" cy="109.1" r="2"/><circle class="X" cx="533.0" cy="138.0" r="2"/><circle class="S" cx="590.5" cy="258.4" r="2"/><circle class="H" cx="467.8" cy="31.2" r="2"/><circle class="H" cx="481.5" cy="41.2" r="2"/><circle class="P" cx="572.0" cy="103.1" r="2"/><circle class="P" cx="574.3" cy="108.5" r="2"/><circle class="P" cx="571.0" cy="106.5" r="2"/><circle class="N" cx="588.4" cy="235.3" r="2"/><circle class="D" cx="496.6" cy="173.1" r="2"/><circle class="P" cx="569.6" cy="96.7" r="2"/><circle class="P" cx="571.3" cy="103.9" r="2"/><circle class="A" cx="457.6" cy="30.6" r="2"/><circle class="P" cx="571.3" cy="101.3" r="2"/><circle class="H" cx="532.7" cy="81.1" r="2"/><circle class="H" cx="636.8" cy="133.5" r="2"/><circle class="S" cx="579.2" cy="212.1" r="2"/><circle class="H" cx="616.9" cy="125.0" r="2"/><circle class="H" cx="613.5" cy="119.3" r="2"/><circle class="D" cx="495.0" cy="180.1" r="2"/><circle class="H" cx="615.9" cy="118.1" r="2"/><circle class="N" cx="613.1" cy="235.1" r="2"/><circle class="D" cx="498.1" cy="180.7" r="2"/><circle class="N" cx="624.2" cy="242.1" r="2"/><circle class="A" cx="448.2" cy="28.1" r="2"/><circle class="X" cx="521.4" cy="121.5" r="2"/><circle class="N" cx="605.6" cy="230.9" r="2"/><circle class="N" cx="613.3" cy="248.2" r="2"/><circle class="X" cx="540.5" cy="136.5" r="2"/><circle class="S" cx="555.1" cy="199.0" r="2"/><circle class="S" cx="579.3" cy="215.1" r="2"/><circle class="P" cx="558.8" cy="92.7" r="2"/><circle class="A" cx="456.3" cy="30.6" r="2"/><circle class="A" cx="451.2" cy="25.4" r="2"/><circle class="X" cx="529.4" cy="118.3" r="2"/><circle class="H" cx="623.5" cy="123.8" r="2"/><circle class="X" cx="536.9" cy="121.9" r="2"/><circle class="D" cx="507.5" cy="151.5" r="2"/><circle class="A" cx="455.1" cy="28.4" r="2"/><circle class="A" cx="452.5" cy="25.8" r="2"/><circle class="S" cx="589.0" cy="219.1" r="2"/><circle class="S" cx="569.6" cy="200.4" r="2"/><circle class="S" cx="576.1" cy="216.0" r="2"/><circle class="H" cx="594.9" cy="141.1" r="2"/><circle class="X" cx="513.7" cy="119.9" r="2"/><circle class="S" cx="592.4" cy="254.0" r="2"/><circle class="X" cx="513.8" cy="128.8" r="2"/><circle class="P" cx="575.4" cy="108.8" r="2"/><circle class="X" cx="524.5" cy="114.4" r="2"/><circle class="D" cx="489.9" cy="164.6" r="2"/><circle class="P" cx="524.0" cy="92.9" r="2"/><circle class="X" cx="645.2" cy="128.7" r="2"/><circle class="N" cx="621.5" cy="233.1" r="2"/><circle class="X" cx="524.7" cy="112.5" r="2"/><circle class="S" cx="554.1" cy="200.8" r="2"/><circle class="D" cx="498.9" cy="175.1" r="2"/><circle class="S" cx="555.2" cy="203.2" r="2"/><circle class="H" cx="625.5" cy="113.9" r="2"/><circle class="N" cx="641.3" cy="154.5" r="2"/><circle class="H" cx="619.0" cy="120.1" r="2"/><circle class="N" cx="613.8" cy="242.7" r="2"/><circle class="P" cx="571.8" cy="107.0" r="2"/><circle class="A" cx="451.1" cy="27.8" r="2"/><circle class="H" cx="615.5" cy="121.5" r="2"/><circle class="H" cx="590.7" cy="149.2" r="2"/><circle class="H" cx="620.2" cy="120.1" r="2"/><circle class="H" cx="609.7" cy="131.6" r="2"/><circle class="P" cx="569.9" cy="112.2" r="2"/><circle class="P" cx="557.3" cy="93.9" r="2"/><circle class="N" cx="596.3" cy="235.9" r="2"/><circle class="H" cx="585.4" cy="130.3" r="2"/><circle class="N" cx="614.2" cy="234.4" r="2"/><circle class="D" cx="499.4" cy="177.1" r="2"/><circle class="P" cx="514.1" cy="93.9" r="2"/><circle class="N" cx="611.1" cy="229.6" r="2"/><circle class="N" cx="623.4" cy="218.0" r="2"/><circle class="X" cx="522.4" cy="122.3" r="2"/><circle class="X" cx="644.9" cy="162.8" r="2"/><circle class="D" cx="491.5" cy="174.4" r="2"/><circle class="D" cx="497.2" cy="179.3" r="2"/><circle class="N" cx="602.2" cy="228.8" r="2"/><circle class="D" cx="506.9" cy="151.9" r="2"/><circle class="A" cx="452.1" cy="27.0" r="2"/><circle class="P" cx="570.5" cy="100.9" r="2"/><circle class="X" cx="570.0" cy="150.8" r="2"/><circle class="D" cx="497.1" cy="149.3" r="2"/><circle class="P" cx="565.1" cy="106.1" r="2"/><circle class="S" cx="590.9" cy="220.0" r="2"/><circle class="A" cx="452.7" cy="27.1" r="2"/><circle class="X" cx="548.7" cy="118.7" r="2"/><circle class="X" cx="550.9" cy="115.5" r="2"/><circle class="D" cx="494.5" cy="184.8" r="2"/><circle class="X" cx="577.7" cy="173.7" r="2"/><circle class="D" cx="492.8" cy="181.8" r="2"/><circle class="X" cx="527.8" cy="116.0" r="2"/><circle class="S" cx="565.6" cy="198.5" r="2"/><circle class="H" cx="613.0" cy="123.7" r="2"/><circle class="H" cx="601.1" cy="132.1" r="2"/><circle class="X" cx="538.9" cy="140.3" r="2"/><circle class="S" cx="570.2" cy="205.9" r="2"/><circle class="P" cx="551.3" cy="137.7" r="2"/><circle class="X" cx="546.6" cy="117.2" r="2"/><circle class="S" cx="590.6" cy="224.0" r="2"/><circle class="P" cx="572.8" cy="85.4" r="2"/><circle class="S" cx="585.1" cy="212.7" r="2"/><circle class="P" cx="593.9" cy="111.1" r="2"/><circle class="D" cx="496.1" cy="177.1" r="2"/><circle class="X" cx="540.6" cy="138.3" r="2"/><circle class="S" cx="589.1" cy="267.0" r="2"/><circle class="P" cx="565.1" cy="96.3" r="2"/><circle class="S" cx="577.9" cy="210.7" r="2"/><circle class="N" cx="623.5" cy="238.1" r="2"/><circle class="N" cx="610.3" cy="244.9" r="2"/><circle class="P" cx="571.0" cy="117.6" r="2"/><circle class="D" cx="500.1" cy="175.7" r="2"/><circle class="N" cx="618.9" cy="233.9" r="2"/><circle class="D" cx="495.1" cy="177.5" r="2"/><circle class="X" cx="528.1" cy="117.5" r="2"/><circle class="H" cx="614.6" cy="125.6" r="2"/><circle class="P" cx="550.6" cy="103.4" r="2"/><circle class="H" cx="619.4" cy="131.2" r="2"/><circle class="X" cx="537.7" cy="139.7" r="2"/><circle class="X" cx="602.1" cy="165.5" r="2"/><circle class="N" cx="613.5" cy="232.5" r="2"/><circle class="X" cx="549.9" cy="122.7" r="2"/><circle class="P" cx="571.5" cy="107.0" r="2"/><circle class="X" cx="645.5" cy="129.5" r="2"/><circle class="H" cx="602.4" cy="138.0" r="2"/><circle class="N" cx="608.8" cy="218.6" r="2"/><circle class="A" cx="456.5" cy="28.7" r="2"/><circle class="A" cx="454.0" cy="28.6" r="2"/><circle class="H" cx="627.6" cy="123.1" r="2"/><circle class="H" cx="497.5" cy="39.9" r="2"/><circle class="D" cx="497.3" cy="178.3" r="2"/><circle class="X" cx="585.9" cy="200.7" r="2"/><circle class="D" cx="494.2" cy="179.0" r="2"/><circle class="H" cx="621.1" cy="132.3" r="2"/><circle class="X" cx="552.3" cy="120.4" r="2"/><circle class="D" cx="490.3" cy="182.2" r="2"/><circle class="P" cx="569.5" cy="104.2" r="2"/><circle class="P" cx="564.3" cy="87.9" r="2"/><circle class="S" cx="538.8" cy="191.9" r="2"/><circle class="H" cx="479.5" cy="32.5" r="2"/><circle class="N" cx="604.5" cy="223.2" r="2"/><circle class="D" cx="509.4" cy="158.0" r="2"/><circle class="S" cx="580.1" cy="210.3" r="2"/><circle class="P" cx="574.6" cy="105.4" r="2"/><circle class="A" cx="450.7" cy="26.7" r="2"/><circle class="S" cx="588.1" cy="254.1" r="2"/><circle class="S" cx="577.9" cy="209.6" r="2"/><circle class="X" cx="530.5" cy="140.6" r="2"/><circle class="X" cx="531.1" cy="140.5" r="2"/><circle class="X" cx="544.1" cy="121.6" r="2"/><circle class="D" cx="499.2" cy="184.3" r="2"/><circle class="S" cx="572.6" cy="202.4" r="2"/><circle class="H" cx="621.3" cy="118.6" r="2"/><circle class="N" cx="620.2" cy="244.3" r="2"/><circle class="H" cx="592.1" cy="137.4" r="2"/><circle class="H" cx="595.4" cy="133.1" r="2"/><circle class="P" cx="562.8" cy="87.2" r="2"/><circle class="N" cx="615.7" cy="240.4" r="2"/><circle class="S" cx="587.6" cy="225.7" r="2"/><circle class="H" cx="616.7" cy="120.2" r="2"/><circle class="H" cx="621.4" cy="116.3" r="2"/><circle class="P" cx="568.5" cy="106.7" r="2"/><circle class="N" cx="629.1" cy="222.5" r="2"/><circle class="A" cx="448.9" cy="27.1" r="2"/><circle class="X" cx="545.2" cy="151.8" r="2"/><circle class="P" cx="570.4" cy="99.0" r="2"/><circle class="D" cx="492.4" cy="176.1" r="2"/><circle class="N" cx="607.2" cy="234.1" r="2"/><circle class="A" cx="451.7" cy="25.7" r="2"/><circle class="N" cx="609.2" cy="229.8" r="2"/><circle class="A" cx="455.7" cy="28.1" r="2"/><circle class="X" cx="525.9" cy="117.6" r="2"/><circle class="P" cx="571.6" cy="104.5" r="2"/><circle class="P" cx="565.9" cy="106.5" r="2"/><circle class="P" cx="571.0" cy="108.7" r="2"/><circle class="N" cx="614.8" cy="251.2" r="2"/><circle class="S" cx="550.9" cy="193.3" r="2"/><circle class="N" cx="616.4" cy="223.6" r="2"/><circle class="N" cx="613.9" cy="235.6" r="2"/><circle class="D" cx="497.3" cy="179.6" r="2"/><circle class="P" cx="562.6" cy="113.7" r="2"/><circle class="S" cx="570.3" cy="203.8" r="2"/><circle class="N" cx="502.8" cy="149.8" r="2"/><circle class="A" cx="477.0" cy="41.3" r="2"/><circle class="H" cx="610.5" cy="125.4" r="2"/><circle class="S" cx="591.3" cy="228.1" r="2"/><circle class="H" cx="599.5" cy="133.2" r="2"/><circle class="X" cx="517.5" cy="99.0" r="2"/><circle class="D" cx="495.6" cy="181.1" r="2"/><circle class="N" cx="607.4" cy="235.2" r="2"/><circle class="N" cx="625.0" cy="227.7" r="2"/><circle class="D" cx="495.0" cy="175.3" r="2"/><circle class="P" cx="578.7" cy="103.4" r="2"/><circle class="S" cx="574.6" cy="203.0" r="2"/><circle class="H" cx="496.4" cy="170.9" r="2"/><circle class="N" cx="616.0" cy="233.9" r="2"/><circle class="N" cx="573.9" cy="209.2" r="2"/><circle class="H" cx="457.1" cy="71.1" r="2"/><circle class="X" cx="536.8" cy="142.0" r="2"/><circle class="S" cx="592.2" cy="259.0" r="2"/><circle class="A" cx="483.6" cy="44.5" r="2"/><circle class="N" cx="605.7" cy="231.0" r="2"/><circle class="D" cx="497.6" cy="180.1" r="2"/><circle class="P" cx="564.6" cy="115.6" r="2"/><circle class="N" cx="614.4" cy="226.6" r="2"/><circle class="P" cx="568.8" cy="81.1" r="2"/><circle class="N" cx="496.5" cy="149.8" r="2"/><circle class="H" cx="621.1" cy="122.4" r="2"/><circle class="X" cx="528.1" cy="114.2" r="2"/><circle class="S" cx="584.6" cy="211.0" r="2"/><circle class="X" cx="532.1" cy="140.4" r="2"/><circle class="S" cx="581.5" cy="212.2" r="2"/><circle class="S" cx="564.1" cy="197.2" r="2"/><circle class="N" cx="615.8" cy="231.2" r="2"/><circle class="A" cx="453.6" cy="25.0" r="2"/><circle class="S" cx="593.4" cy="252.0" r="2"/><circle class="P" cx="571.1" cy="102.7" r="2"/><circle class="P" cx="561.6" cy="97.3" r="2"/><circle class="N" cx="606.4" cy="230.5" r="2"/><circle class="P" cx="562.5" cy="95.6" r="2"/><circle class="N" cx="598.9" cy="134.8" r="2"/><circle class="N" cx="600.1" cy="220.3" r="2"/><circle class="D" cx="498.1" cy="177.5" r="2"/><circle class="X" cx="522.1" cy="115.9" r="2"/><circle class="X" cx="546.9" cy="147.2" r="2"/><circle class="D" cx="495.9" cy="180.1" r="2"/><circle class="H" cx="622.5" cy="116.3" r="2"/><circle class="A" cx="448.3" cy="23.6" r="2"/><circle class="S" cx="588.4" cy="218.6" r="2"/><circle class="A" cx="451.7" cy="26.5" r="2"/><circle class="P" cx="560.8" cy="89.4" r="2"/><circle class="X" cx="524.5" cy="111.7" r="2"/><circle class="N" cx="602.7" cy="229.2" r="2"/><circle class="N" cx="608.4" cy="226.5" r="2"/><circle class="X" cx="535.5" cy="145.4" r="2"/><circle class="X" cx="524.4" cy="113.7" r="2"/><circle class="N" cx="610.5" cy="252.3" r="2"/><circle class="D" cx="497.0" cy="173.8" r="2"/><circle class="A" cx="454.1" cy="39.9" r="2"/><circle class="D" cx="494.0" cy="178.2" r="2"/><circle class="A" cx="449.3" cy="30.4" r="2"/><circle class="D" cx="502.1" cy="175.3" r="2"/><circle class="X" cx="541.8" cy="126.6" r="2"/><circle class="N" cx="608.2" cy="230.8" r="2"/><circle class="N" cx="621.2" cy="235.8" r="2"/><circle class="A" cx="458.4" cy="29.8" r="2"/><circle class="P" cx="572.9" cy="108.3" r="2"/><circle class="H" cx="621.2" cy="128.2" r="2"/><circle class="A" cx="449.5" cy="23.6" r="2"/><circle class="X" cx="616.0" cy="140.3" r="2"/><circle class="D" cx="497.1" cy="175.0" r="2"/><circle class="S" cx="593.4" cy="254.2" r="2"/><circle class="S" cx="588.0" cy="274.0" r="2"/><circle class="A" cx="449.5" cy="26.0" r="2"/><circle class="H" cx="612.3" cy="120.7" r="2"/><circle class="P" cx="563.5" cy="90.6" r="2"/><circle class="N" cx="613.0" cy="244.5" r="2"/><circle class="H" cx="596.0" cy="141.0" r="2"/><circle class="N" cx="618.8" cy="238.4" r="2"/><circle class="S" cx="569.5" cy="203.1" r="2"/><circle class="N" cx="610.4" cy="232.3" r="2"/><circle class="N" cx="628.1" cy="226.7" r="2"/><circle class="P" cx="570.0" cy="101.5" r="2"/><circle class="H" cx="614.4" cy="125.9" r="2"/><circle class="A" cx="450.3" cy="27.0" r="2"/><circle class="H" cx="591.3" cy="139.7" r="2"/><circle class="X" cx="533.6" cy="141.2" r="2"/><circle class="S" cx="581.4" cy="222.4" r="2"/><circle class="S" cx="590.0" cy="255.9" r="2"/><circle class="P" cx="576.5" cy="104.8" r="2"/><circle class="P" cx="572.7" cy="98.5" r="2"/><circle class="A" cx="455.7" cy="31.2" r="2"/><circle class="S" cx="601.4" cy="252.9" r="2"/><circle class="H" cx="615.1" cy="124.6" r="2"/><circle class="A" cx="453.7" cy="27.6" r="2"/><circle class="S" cx="554.7" cy="199.0" r="2"/><circle class="X" cx="534.4" cy="143.1" r="2"/><circle class="P" cx="573.2" cy="107.1" r="2"/><circle class="X" cx="535.5" cy="143.0" r="2"/><circle class="X" cx="532.8" cy="141.0" r="2"/><circle class="D" cx="495.2" cy="171.9" r="2"/><circle class="D" cx="499.0" cy="184.0" r="2"/><circle class="P" cx="546.9" cy="81.5" r="2"/><circle class="S" cx="588.5" cy="219.1" r="2"/><circle class="S" cx="581.7" cy="215.8" r="2"/><circle class="N" cx="628.0" cy="231.5" r="2"/><circle class="H" cx="614.3" cy="125.5" r="2"/><circle class="D" cx="493.7" cy="174.7" r="2"/><circle class="N" cx="618.6" cy="223.0" r="2"/><circle class="A" cx="447.0" cy="27.3" r="2"/><circle class="D" cx="494.0" cy="180.7" r="2"/><circle class="D" cx="492.9" cy="178.3" r="2"/><circle class="H" cx="620.3" cy="122.4" r="2"/><circle class="A" cx="452.0" cy="27.9" r="2"/><circle class="D" cx="495.9" cy="183.7" r="2"/><circle class="D" cx="495.1" cy="177.2" r="2"/><circle class="P" cx="555.9" cy="88.5" r="2"/><circle class="P" cx="573.4" cy="108.8" r="2"/><circle class="D" cx="495.1" cy="175.4" r="2"/><circle class="H" cx="597.8" cy="153.7" r="2"/><circle class="H" cx="604.3" cy="129.4" r="2"/><circle class="S" cx="551.4" cy="199.7" r="2"/><circle class="N" cx="618.3" cy="248.5" r="2"/><circle class="X" cx="519.5" cy="119.2" r="2"/><circle class="P" cx="573.6" cy="106.0" r="2"/><circle class="P" cx="566.3" cy="118.9" r="2"/><circle class="H" cx="593.1" cy="140.1" r="2"/><circle class="D" cx="502.4" cy="171.9" r="2"/><circle class="S" cx="557.2" cy="199.4" r="2"/><circle class="N" cx="588.9" cy="234.9" r="2"/><circle class="S" cx="573.6" cy="205.5" r="2"/><circle class="N" cx="614.3" cy="227.8" r="2"/><circle class="D" cx="485.6" cy="174.8" r="2"/><circle class="S" cx="554.2" cy="197.8" r="2"/><circle class="D" cx="498.5" cy="180.4" r="2"/><circle class="A" cx="452.1" cy="26.7" r="2"/><circle class="P" cx="569.8" cy="114.6" r="2"/><circle class="A" cx="449.5" cy="28.6" r="2"/><circle class="X" cx="551.0" cy="120.0" r="2"/><circle class="D" cx="493.6" cy="180.2" r="2"/><circle class="H" cx="618.7" cy="120.3" r="2"/><circle class="X" cx="580.6" cy="210.7" r="2"/><circle class="A" cx="455.4" cy="30.8" r="2"/><circle class="D" cx="491.0" cy="178.7" r="2"/><circle class="N" cx="609.4" cy="228.2" r="2"/><circle class="H" cx="488.5" cy="107.3" r="2"/><circle class="S" cx="480.8" cy="180.5" r="2"/><circle class="D" cx="498.2" cy="175.0" r="2"/><circle class="A" cx="462.4" cy="32.0" r="2"/><circle class="A" cx="453.0" cy="26.0" r="2"/><circle class="A" cx="452.8" cy="28.0" r="2"/><circle class="D" cx="512.3" cy="155.7" r="2"/><circle class="X" cx="541.4" cy="139.1" r="2"/><circle class="X" cx="537.3" cy="144.3" r="2"/><circle class="N" cx="615.8" cy="236.0" r="2"/><circle class="N" cx="623.6" cy="247.8" r="2"/><circle class="P" cx="569.7" cy="99.4" r="2"/><circle class="N" cx="625.3" cy="223.2" r="2"/><circle class="P" cx="572.3" cy="104.2" r="2"/><circle class="A" cx="480.8" cy="42.1" r="2"/><circle class="P" cx="573.2" cy="110.6" r="2"/><circle class="A" cx="468.1" cy="34.7" r="2"/><circle class="S" cx="558.8" cy="197.7" r="2"/><circle class="H" cx="620.7" cy="127.3" r="2"/><circle class="X" cx="531.9" cy="143.5" r="2"/><circle class="S" cx="567.2" cy="201.2" r="2"/><circle class="P" cx="556.7" cy="88.7" r="2"/><circle class="X" cx="655.8" cy="146.9" r="2"/><circle class="P" cx="581.4" cy="100.1" r="2"/><circle class="D" cx="496.2" cy="177.4" r="2"/><circle class="S" cx="555.0" cy="199.2" r="2"/><circle class="S" cx="572.0" cy="208.8" r="2"/><circle class="P" cx="571.3" cy="115.1" r="2"/><circle class="P" cx="533.2" cy="50.7" r="2"/><circle class="X" cx="534.8" cy="138.3" r="2"/><circle class="X" cx="526.7" cy="115.0" r="2"/><circle class="A" cx="452.1" cy="37.9" r="2"/><circle class="A" cx="454.5" cy="26.4" r="2"/><circle class="A" cx="450.9" cy="29.0" r="2"/><circle class="X" cx="527.6" cy="111.3" r="2"/><circle class="X" cx="517.3" cy="125.2" r="2"/><circle class="N" cx="640.6" cy="154.8" r="2"/><circle class="A" cx="454.2" cy="27.9" r="2"/><circle class="A" cx="456.3" cy="28.2" r="2"/><circle class="P" cx="565.7" cy="106.8" r="2"/><circle class="D" cx="492.5" cy="179.3" r="2"/><circle class="N" cx="636.7" cy="212.1" r="2"/><circle class="P" cx="557.0" cy="95.1" r="2"/><circle class="X" cx="514.7" cy="124.9" r="2"/><circle class="A" cx="479.0" cy="41.8" r="2"/><circle class="S" cx="590.7" cy="224.3" r="2"/><circle class="X" cx="527.4" cy="114.0" r="2"/><circle class="D" cx="497.8" cy="176.1" r="2"/><circle class="D" cx="499.1" cy="179.7" r="2"/><circle class="H" cx="521.5" cy="96.9" r="2"/><circle class="X" cx="549.8" cy="114.8" r="2"/><circle class="D" cx="496.4" cy="177.4" r="2"/><circle class="N" cx="595.4" cy="239.2" r="2"/><circle class="N" cx="622.4" cy="224.7" r="2"/><circle class="P" cx="559.2" cy="87.1" r="2"/><circle class="A" cx="452.2" cy="28.9" r="2"/><circle class="N" cx="606.1" cy="236.5" r="2"/><circle class="S" cx="588.6" cy="213.5" r="2"/><circle class="A" cx="454.4" cy="25.2" r="2"/><circle class="S" cx="546.5" cy="196.2" r="2"/><circle class="S" cx="568.0" cy="198.3" r="2"/><circle class="D" cx="495.8" cy="175.4" r="2"/><circle class="X" cx="544.3" cy="151.8" r="2"/><circle class="D" cx="500.5" cy="177.9" r="2"/><circle class="N" cx="616.7" cy="242.9" r="2"/><circle class="H" cx="602.0" cy="149.9" r="2"/><circle class="A" cx="453.0" cy="25.3" r="2"/><circle class="A" cx="449.2" cy="24.6" r="2"/><circle class="H" cx="594.4" cy="141.0" r="2"/><circle class="P" cx="565.8" cy="98.1" r="2"/><circle class="P" cx="546.8" cy="79.6" r="2"/><circle class="S" cx="587.6" cy="223.8" r="2"/><circle class="H" cx="597.2" cy="126.5" r="2"/><circle class="X" cx="554.2" cy="120.4" r="2"/><circle class="X" cx="522.8" cy="130.4" r="2"/><circle class="S" cx="574.7" cy="209.8" r="2"/><circle class="A" cx="469.1" cy="37.8" r="2"/><circle class="S" cx="589.9" cy="214.9" r="2"/><circle class="S" cx="585.8" cy="218.6" r="2"/><circle class="X" cx="526.9" cy="124.1" r="2"/><circle class="S" cx="565.5" cy="201.2" r="2"/><circle class="N" cx="622.9" cy="228.2" r="2"/><circle class="X" cx="502.4" cy="108.5" r="2"/><circle class="S" cx="586.3" cy="279.7" r="2"/><circle class="X" cx="531.9" cy="123.4" r="2"/><circle class="S" cx="587.3" cy="226.2" r="2"/><circle class="P" cx="565.0" cy="91.9" r="2"/><circle class="A" cx="443.6" cy="29.5" r="2"/><circle class="S" cx="576.4" cy="218.7" r="2"/><circle class="H" cx="579.0" cy="135.6" r="2"/><circle class="P" cx="535.2" cy="74.9" r="2"/><circle class="P" cx="576.9" cy="108.7" r="2"/><circle class="X" cx="563.7" cy="147.6" r="2"/><circle class="H" cx="493.6" cy="168.5" r="2"/><circle class="H" cx="595.6" cy="118.8" r="2"/><circle class="P" cx="573.4" cy="109.4" r="2"/><circle class="D" cx="496.5" cy="179.6" r="2"/><circle class="N" cx="610.6" cy="236.6" r="2"/><circle class="N" cx="604.3" cy="226.8" r="2"/><circle class="D" cx="498.7" cy="180.9" r="2"/><circle class="X" cx="538.6" cy="139.0" r="2"/><circle class="H" cx="593.3" cy="133.7" r="2"/><circle class="N" cx="606.9" cy="231.2" r="2"/><circle class="D" cx="493.7" cy="174.9" r="2"/><circle class="D" cx="496.7" cy="177.1" r="2"/><circle class="X" cx="552.5" cy="118.1" r="2"/><circle class="H" cx="619.7" cy="125.4" r="2"/><circle class="X" cx="533.1" cy="141.8" r="2"/><circle class="P" cx="569.3" cy="104.9" r="2"/><circle class="P" cx="571.0" cy="102.9" r="2"/><circle class="D" cx="497.0" cy="180.8" r="2"/><circle class="D" cx="501.0" cy="174.5" r="2"/><circle class="D" cx="501.8" cy="178.3" r="2"/><circle class="S" cx="586.7" cy="220.5" r="2"/><circle class="D" cx="494.7" cy="179.9" r="2"/><circle class="S" cx="560.8" cy="201.3" r="2"/><circle class="X" cx="523.9" cy="111.1" r="2"/><circle class="S" cx="568.5" cy="202.8" r="2"/><circle class="N" cx="611.3" cy="233.8" r="2"/><circle class="H" cx="615.5" cy="122.5" r="2"/><circle class="H" cx="622.8" cy="121.3" r="2"/><circle class="N" cx="609.0" cy="233.2" r="2"/><circle class="N" cx="632.7" cy="220.2" r="2"/><circle class="A" cx="450.3" cy="27.8" r="2"/><circle class="X" cx="528.6" cy="139.2" r="2"/><circle class="S" cx="571.4" cy="207.6" r="2"/><circle class="H" cx="598.8" cy="129.2" r="2"/><circle class="D" cx="497.8" cy="177.4" r="2"/><circle class="X" cx="517.7" cy="98.4" r="2"/><circle class="P" cx="558.3" cy="108.0" r="2"/><circle class="H" cx="624.9" cy="122.6" r="2"/><circle class="A" cx="452.5" cy="31.0" r="2"/>
</g>
<line x1="389.2" y1="8.5" x2="389.2" y2="316" stroke="#707070" stroke-width="0.9"/>
<line x1="374.8" y1="302.4" x2="684.5" y2="302.4" stroke="#808080" stroke-width="1.0"/>
<rect x="374.8" y="8.5" width="309.7" height="307.5" fill="none" stroke="#444" stroke-width="0.7"/>
<line x1="389.2" y1="316" x2="389.2" y2="318" stroke="#222" stroke-width="0.6"/>
<text font-size="5.1" text-anchor="middle" fill="#000" transform="translate(389.2 325.2) scale(1 1.18)">0.0</text>
<line x1="443.08" y1="316" x2="443.08" y2="318" stroke="#222" stroke-width="0.6"/>
<text font-size="5.1" text-anchor="middle" fill="#000" transform="translate(443.1 325.2) scale(1 1.18)">0.2</text>
<line x1="496.96" y1="316" x2="496.96" y2="318" stroke="#222" stroke-width="0.6"/>
<text font-size="5.1" text-anchor="middle" fill="#000" transform="translate(497.0 325.2) scale(1 1.18)">0.4</text>
<line x1="550.8399999999999" y1="316" x2="550.8399999999999" y2="318" stroke="#222" stroke-width="0.6"/>
<text font-size="5.1" text-anchor="middle" fill="#000" transform="translate(550.8 325.2) scale(1 1.18)">0.6</text>
<line x1="604.72" y1="316" x2="604.72" y2="318" stroke="#222" stroke-width="0.6"/>
<text font-size="5.1" text-anchor="middle" fill="#000" transform="translate(604.7 325.2) scale(1 1.18)">0.8</text>
<line x1="658.5999999999999" y1="316" x2="658.5999999999999" y2="318" stroke="#222" stroke-width="0.6"/>
<text font-size="5.1" text-anchor="middle" fill="#000" transform="translate(658.6 325.2) scale(1 1.18)">1.0</text>
<line x1="372.8" y1="302.4" x2="374.8" y2="302.4" stroke="#222" stroke-width="0.6"/>
<text font-size="5.1" text-anchor="end" fill="#000" transform="translate(370.9 304.6) scale(1 1.18)">0.0</text>
<line x1="372.8" y1="238.89999999999998" x2="374.8" y2="238.89999999999998" stroke="#222" stroke-width="0.6"/>
<text font-size="5.1" text-anchor="end" fill="#000" transform="translate(370.9 241.1) scale(1 1.18)">0.2</text>
<line x1="372.8" y1="175.39999999999998" x2="374.8" y2="175.39999999999998" stroke="#222" stroke-width="0.6"/>
<text font-size="5.1" text-anchor="end" fill="#000" transform="translate(370.9 177.6) scale(1 1.18)">0.4</text>
<line x1="372.8" y1="111.89999999999998" x2="374.8" y2="111.89999999999998" stroke="#222" stroke-width="0.6"/>
<text font-size="5.1" text-anchor="end" fill="#000" transform="translate(370.9 114.1) scale(1 1.18)">0.6</text>
<line x1="372.8" y1="48.39999999999998" x2="374.8" y2="48.39999999999998" stroke="#222" stroke-width="0.6"/>
<text font-size="5.1" text-anchor="end" fill="#000" transform="translate(370.9 50.6) scale(1 1.18)">0.8</text>
<text x="529.6" y="5.2" font-size="6.6" text-anchor="middle" fill="#000">Predictions vs. labels (test set)</text>
<text x="529.6" y="332.6" font-size="5.4" text-anchor="middle" fill="#000">Valence</text>
<text x="359.0" y="162.2" font-size="5.4" text-anchor="middle" fill="#000" transform="rotate(-90 359.0 162.2)">Arousal</text>
<text font-size="5.4" text-anchor="start" fill="#000" transform="translate(457.5 27.5) scale(1 1.07)">Angry</text>
<text font-size="5.4" text-anchor="start" fill="#000" transform="translate(510 109.5) scale(1 1.07)">Anxious</text>
<text font-size="5.4" text-anchor="start" fill="#000" transform="translate(585.2 105) scale(1 1.07)">Surprised</text>
<text font-size="5.4" text-anchor="start" fill="#000" transform="translate(646.8 134.7) scale(1 1.07)">Happy</text>
<text font-size="5.4" text-anchor="start" fill="#000" transform="translate(501.4 179.9) scale(1 1.07)">Disgust</text>
<text font-size="5.4" text-anchor="start" fill="#000" transform="translate(593 205.3) scale(1 1.07)">Sad</text>
<text font-size="5.4" text-anchor="start" fill="#000" transform="translate(632 248.6) scale(1 1.07)">Neutral</text>
<text font-size="5.4" text-anchor="middle" fill="#000" transform="translate(658.4000000000001 17.9) scale(1 1.07)">Emotions</text>
<circle cx="643.2" cy="27.0" r="2.2" fill="#ff0000"/>
<text font-size="5.4" text-anchor="start" fill="#000" transform="translate(653.4000000000001 29.1) scale(1 1.07)">Neutral</text>
<circle cx="643.2" cy="38.3" r="2.2" fill="#ffd000"/>
<text font-size="5.4" text-anchor="start" fill="#000" transform="translate(653.4000000000001 40.4) scale(1 1.07)">Happy</text>
<circle cx="643.2" cy="49.5" r="2.2" fill="#4fff00"/>
<text font-size="5.4" text-anchor="start" fill="#000" transform="translate(653.4000000000001 51.7) scale(1 1.07)">Sad</text>
<circle cx="643.2" cy="60.8" r="2.2" fill="#00ff86"/>
<text font-size="5.4" text-anchor="start" fill="#000" transform="translate(653.4000000000001 62.9) scale(1 1.07)">Angry</text>
<circle cx="643.2" cy="72.0" r="2.2" fill="#0090ff"/>
<text font-size="5.4" text-anchor="start" fill="#000" transform="translate(653.4000000000001 74.2) scale(1 1.07)">Anxious</text>
<circle cx="643.2" cy="83.3" r="2.2" fill="#3700ff"/>
<text font-size="5.4" text-anchor="start" fill="#000" transform="translate(653.4000000000001 85.4) scale(1 1.07)">Disgust</text>
<circle cx="643.2" cy="94.5" r="2.2" fill="#ff00d8"/>
<text font-size="5.4" text-anchor="start" fill="#000" transform="translate(653.4000000000001 96.7) scale(1 1.07)">Surprised</text>
<g fill-opacity=".5">
<circle class="D" cx="138.9" cy="577.4" r="2"/><circle class="A" cx="93.4" cy="459.4" r="2"/><circle class="P" cx="214.1" cy="521.1" r="2"/><circle class="D" cx="145.6" cy="579.0" r="2"/><circle class="P" cx="196.0" cy="504.0" r="2"/><circle class="A" cx="100.1" cy="454.5" r="2"/><circle class="X" cx="178.6" cy="600.8" r="2"/><circle class="X" cx="175.4" cy="605.5" r="2"/><circle class="P" cx="211.8" cy="514.2" r="2"/><circle class="S" cx="226.5" cy="613.5" r="2"/><circle class="N" cx="255.1" cy="613.4" r="2"/><circle class="S" cx="231.8" cy="618.5" r="2"/><circle class="A" cx="129.1" cy="470.4" r="2"/><circle class="N" cx="246.9" cy="591.2" r="2"/><circle class="D" cx="144.5" cy="576.2" r="2"/><circle class="N" cx="263.3" cy="627.0" r="2"/><circle class="A" cx="129.5" cy="467.4" r="2"/><circle class="P" cx="220.5" cy="526.0" r="2"/><circle class="P" cx="217.5" cy="514.8" r="2"/><circle class="H" cx="239.1" cy="551.8" r="2"/><circle class="S" cx="209.8" cy="606.0" r="2"/><circle class="H" cx="121.8" cy="472.7" r="2"/><circle class="H" cx="229.0" cy="557.8" r="2"/><circle class="P" cx="223.6" cy="523.5" r="2"/><circle class="A" cx="96.0" cy="452.7" r="2"/><circle class="A" cx="101.7" cy="459.4" r="2"/><circle class="D" cx="140.8" cy="578.2" r="2"/><circle class="P" cx="216.3" cy="522.2" r="2"/><circle class="P" cx="186.7" cy="505.1" r="2"/><circle class="X" cx="195.8" cy="592.6" r="2"/><circle class="H" cx="260.7" cy="542.0" r="2"/><circle class="A" cx="120.5" cy="466.7" r="2"/><circle class="X" cx="172.3" cy="600.9" r="2"/><circle class="A" cx="110.8" cy="465.1" r="2"/><circle class="S" cx="207.1" cy="604.7" r="2"/><circle class="P" cx="224.5" cy="526.2" r="2"/><circle class="X" cx="179.8" cy="606.4" r="2"/><circle class="H" cx="251.2" cy="558.2" r="2"/><circle class="A" cx="126.3" cy="468.5" r="2"/><circle class="H" cx="239.4" cy="554.4" r="2"/><circle class="A" cx="102.6" cy="457.7" r="2"/><circle class="D" cx="136.5" cy="585.9" r="2"/><circle class="H" cx="264.8" cy="541.1" r="2"/><circle class="H" cx="241.1" cy="550.3" r="2"/><circle class="N" cx="254.0" cy="618.3" r="2"/><circle class="A" cx="96.0" cy="458.3" r="2"/><circle class="A" cx="100.8" cy="456.7" r="2"/><circle class="H" cx="236.0" cy="557.6" r="2"/><circle class="H" cx="233.5" cy="538.6" r="2"/><circle class="X" cx="173.0" cy="607.2" r="2"/><circle class="H" cx="267.0" cy="535.2" r="2"/><circle class="N" cx="157.7" cy="594.5" r="2"/><circle class="N" cx="261.9" cy="636.9" r="2"/><circle class="S" cx="226.5" cy="609.9" r="2"/><circle class="A" cx="99.7" cy="452.1" r="2"/><circle class="H" cx="136.7" cy="580.7" r="2"/><circle class="A" cx="123.1" cy="464.2" r="2"/><circle class="S" cx="253.9" cy="567.8" r="2"/><circle class="D" cx="142.4" cy="577.2" r="2"/><circle class="X" cx="184.1" cy="596.2" r="2"/><circle class="A" cx="93.1" cy="458.7" r="2"/><circle class="A" cx="120.4" cy="463.7" r="2"/><circle class="X" cx="243.1" cy="612.5" r="2"/><circle class="P" cx="212.4" cy="514.5" r="2"/><circle class="D" cx="144.3" cy="574.9" r="2"/><circle class="P" cx="211.4" cy="508.3" r="2"/><circle class="X" cx="190.0" cy="602.7" r="2"/><circle class="N" cx="246.6" cy="648.3" r="2"/><circle class="A" cx="97.6" cy="458.8" r="2"/><circle class="N" cx="264.4" cy="622.0" r="2"/><circle class="A" cx="95.1" cy="456.3" r="2"/><circle class="P" cx="212.8" cy="520.3" r="2"/><circle class="P" cx="218.8" cy="522.4" r="2"/><circle class="D" cx="151.0" cy="575.4" r="2"/><circle class="N" cx="260.4" cy="634.0" r="2"/><circle class="N" cx="248.4" cy="628.9" r="2"/><circle class="D" cx="144.2" cy="553.7" r="2"/><circle class="D" cx="143.8" cy="581.9" r="2"/><circle class="P" cx="219.9" cy="527.8" r="2"/><circle class="N" cx="248.9" cy="581.0" r="2"/><circle class="H" cx="266.7" cy="543.8" r="2"/><circle class="D" cx="130.3" cy="578.6" r="2"/><circle class="P" cx="198.7" cy="534.8" r="2"/><circle class="N" cx="252.4" cy="572.8" r="2"/><circle class="H" cx="257.0" cy="552.9" r="2"/><circle class="A" cx="126.8" cy="468.8" r="2"/><circle class="H" cx="249.8" cy="538.4" r="2"/><circle class="D" cx="145.2" cy="573.5" r="2"/><circle class="S" cx="243.0" cy="661.0" r="2"/><circle class="D" cx="133.9" cy="570.5" r="2"/><circle class="H" cx="144.4" cy="475.7" r="2"/><circle class="P" cx="216.9" cy="522.4" r="2"/><circle class="H" cx="262.2" cy="540.5" r="2"/><circle class="A" cx="93.7" cy="457.2" r="2"/><circle class="H" cx="142.8" cy="576.7" r="2"/><circle class="N" cx="170.7" cy="593.2" r="2"/><circle class="S" cx="222.3" cy="612.5" r="2"/><circle class="N" cx="260.3" cy="621.0" r="2"/><circle class="N" cx="268.3" cy="624.9" r="2"/><circle class="S" cx="206.2" cy="602.1" r="2"/><circle class="A" cx="89.6" cy="463.4" r="2"/><circle class="X" cx="279.3" cy="585.5" r="2"/><circle class="D" cx="139.1" cy="572.1" r="2"/><circle class="H" cx="231.5" cy="558.8" r="2"/><circle class="S" cx="222.9" cy="604.2" r="2"/><circle class="S" cx="235.1" cy="628.5" r="2"/><circle class="H" cx="111.7" cy="467.7" r="2"/><circle class="P" cx="217.0" cy="522.9" r="2"/><circle class="P" cx="184.5" cy="497.4" r="2"/><circle class="A" cx="90.9" cy="458.3" r="2"/><circle class="A" cx="90.8" cy="458.2" r="2"/><circle class="A" cx="98.9" cy="456.6" r="2"/><circle class="S" cx="239.0" cy="666.3" r="2"/><circle class="H" cx="134.8" cy="588.3" r="2"/><circle class="H" cx="249.7" cy="545.3" r="2"/><circle class="N" cx="265.6" cy="624.2" r="2"/><circle class="N" cx="264.6" cy="627.1" r="2"/><circle class="S" cx="224.9" cy="610.3" r="2"/><circle class="X" cx="209.4" cy="589.7" r="2"/><circle class="H" cx="244.7" cy="553.8" r="2"/><circle class="P" cx="224.9" cy="514.7" r="2"/><circle class="H" cx="246.3" cy="550.1" r="2"/><circle class="D" cx="145.8" cy="553.2" r="2"/><circle class="H" cx="257.4" cy="545.4" r="2"/><circle class="P" cx="213.6" cy="516.7" r="2"/><circle class="X" cx="165.6" cy="603.9" r="2"/><circle class="N" cx="241.0" cy="634.4" r="2"/><circle class="A" cx="126.9" cy="469.0" r="2"/><circle class="H" cx="262.2" cy="540.2" r="2"/><circle class="S" cx="222.2" cy="601.2" r="2"/><circle class="S" cx="241.3" cy="665.9" r="2"/><circle class="A" cx="100.1" cy="456.4" r="2"/><circle class="D" cx="142.5" cy="575.3" r="2"/><circle class="D" cx="143.8" cy="575.3" r="2"/><circle class="D" cx="134.6" cy="576.1" r="2"/><circle class="N" cx="247.2" cy="630.0" r="2"/><circle class="X" cx="183.7" cy="601.6" r="2"/><circle class="N" cx="255.9" cy="626.7" r="2"/><circle class="H" cx="263.2" cy="536.9" r="2"/><circle class="H" cx="260.4" cy="539.7" r="2"/><circle class="D" cx="131.1" cy="576.6" r="2"/><circle class="N" cx="259.9" cy="635.1" r="2"/><circle class="N" cx="262.3" cy="618.6" r="2"/><circle class="S" cx="220.0" cy="608.2" r="2"/><circle class="N" cx="247.7" cy="638.1" r="2"/><circle class="S" cx="222.2" cy="615.9" r="2"/><circle class="S" cx="227.0" cy="614.2" r="2"/><circle class="X" cx="170.0" cy="598.9" r="2"/><circle class="P" cx="201.6" cy="517.0" r="2"/><circle class="X" cx="170.7" cy="598.7" r="2"/><circle class="A" cx="126.1" cy="467.3" r="2"/><circle class="N" cx="279.2" cy="612.8" r="2"/><circle class="H" cx="124.3" cy="474.0" r="2"/><circle class="S" cx="210.1" cy="602.7" r="2"/><circle class="N" cx="169.5" cy="590.8" r="2"/><circle class="D" cx="140.3" cy="580.0" r="2"/><circle class="D" cx="141.2" cy="576.8" r="2"/><circle class="N" cx="279.2" cy="620.2" r="2"/><circle class="N" cx="255.2" cy="644.0" r="2"/><circle class="H" cx="255.5" cy="541.0" r="2"/><circle class="S" cx="208.4" cy="606.9" r="2"/><circle class="P" cx="205.4" cy="513.6" r="2"/><circle class="S" cx="233.1" cy="674.8" r="2"/><circle class="S" cx="233.1" cy="632.1" r="2"/><circle class="H" cx="256.1" cy="538.5" r="2"/><circle class="N" cx="279.9" cy="608.3" r="2"/><circle class="N" cx="268.1" cy="635.5" r="2"/><circle class="H" cx="224.9" cy="548.1" r="2"/><circle class="X" cx="158.4" cy="602.2" r="2"/><circle class="S" cx="144.4" cy="605.1" r="2"/><circle class="D" cx="129.7" cy="573.1" r="2"/><circle class="S" cx="212.4" cy="601.8" r="2"/><circle class="S" cx="217.9" cy="612.0" r="2"/><circle class="D" cx="144.9" cy="575.5" r="2"/><circle class="D" cx="137.6" cy="584.9" r="2"/><circle class="X" cx="181.4" cy="605.6" r="2"/><circle class="X" cx="180.2" cy="607.1" r="2"/><circle class="D" cx="140.0" cy="580.6" r="2"/><circle class="P" cx="220.4" cy="526.3" r="2"/><circle class="H" cx="262.3" cy="546.9" r="2"/><circle class="S" cx="235.3" cy="626.7" r="2"/><circle class="H" cx="253.5" cy="550.1" r="2"/><circle class="N" cx="264.3" cy="611.0" r="2"/><circle class="S" cx="203.2" cy="613.7" r="2"/><circle class="N" cx="254.1" cy="635.6" r="2"/><circle class="N" cx="267.1" cy="629.2" r="2"/><circle class="S" cx="227.6" cy="614.3" r="2"/><circle class="D" cx="150.0" cy="574.6" r="2"/><circle class="N" cx="266.5" cy="630.1" r="2"/><circle class="S" cx="205.2" cy="620.4" r="2"/><circle class="S" cx="226.8" cy="616.7" r="2"/><circle class="D" cx="144.4" cy="572.6" r="2"/><circle class="D" cx="139.1" cy="575.1" r="2"/><circle class="H" cx="134.8" cy="579.1" r="2"/><circle class="P" cx="215.1" cy="513.8" r="2"/><circle class="P" cx="216.0" cy="518.0" r="2"/><circle class="S" cx="233.3" cy="608.2" r="2"/><circle class="D" cx="136.3" cy="575.7" r="2"/><circle class="H" cx="262.0" cy="551.6" r="2"/><circle class="X" cx="194.7" cy="596.2" r="2"/><circle class="A" cx="96.8" cy="458.9" r="2"/><circle class="N" cx="278.8" cy="626.4" r="2"/><circle class="A" cx="96.5" cy="461.9" r="2"/><circle class="D" cx="149.1" cy="584.7" r="2"/><circle class="D" cx="142.2" cy="579.7" r="2"/><circle class="X" cx="168.7" cy="601.6" r="2"/><circle class="A" cx="96.3" cy="458.7" r="2"/><circle class="P" cx="205.5" cy="521.2" r="2"/><circle class="X" cx="195.9" cy="595.7" r="2"/><circle class="S" cx="233.4" cy="629.8" r="2"/><circle class="D" cx="141.5" cy="573.2" r="2"/><circle class="X" cx="181.6" cy="604.5" r="2"/><circle class="S" cx="229.1" cy="608.3" r="2"/><circle class="N" cx="264.9" cy="607.9" r="2"/><circle class="D" cx="143.0" cy="579.1" r="2"/><circle class="P" cx="209.8" cy="512.0" r="2"/><circle class="N" cx="256.6" cy="632.0" r="2"/><circle class="X" cx="174.2" cy="599.3" r="2"/><circle class="P" cx="217.3" cy="526.5" r="2"/><circle class="H" cx="258.8" cy="543.7" r="2"/><circle class="H" cx="259.1" cy="538.7" r="2"/><circle class="N" cx="253.6" cy="622.1" r="2"/><circle class="P" cx="214.2" cy="528.6" r="2"/><circle class="D" cx="141.8" cy="566.5" r="2"/><circle class="P" cx="206.7" cy="525.4" r="2"/><circle class="S" cx="204.3" cy="606.0" r="2"/><circle class="P" cx="214.7" cy="516.3" r="2"/><circle class="D" cx="145.1" cy="577.3" r="2"/><circle class="N" cx="258.6" cy="628.7" r="2"/><circle class="P" cx="203.7" cy="533.6" r="2"/><circle class="A" cx="93.1" cy="457.6" r="2"/><circle class="P" cx="211.2" cy="519.9" r="2"/><circle class="S" cx="211.9" cy="606.9" r="2"/><circle class="N" cx="243.2" cy="650.5" r="2"/><circle class="H" cx="236.1" cy="556.4" r="2"/><circle class="D" cx="138.6" cy="577.0" r="2"/><circle class="N" cx="274.5" cy="629.2" r="2"/><circle class="H" cx="245.4" cy="553.0" r="2"/><circle class="P" cx="219.2" cy="522.7" r="2"/><circle class="A" cx="96.5" cy="453.3" r="2"/><circle class="X" cx="176.4" cy="606.9" r="2"/><circle class="S" cx="235.7" cy="626.2" r="2"/><circle class="D" cx="136.2" cy="577.8" r="2"/><circle class="D" cx="140.0" cy="575.8" r="2"/><circle class="N" cx="288.3" cy="615.0" r="2"/><circle class="S" cx="217.3" cy="609.0" r="2"/><circle class="D" cx="149.1" cy="569.2" r="2"/><circle class="A" cx="96.5" cy="454.5" r="2"/><circle class="N" cx="276.3" cy="614.3" r="2"/><circle class="A" cx="91.0" cy="455.9" r="2"/><circle class="D" cx="139.9" cy="576.8" r="2"/><circle class="S" cx="234.4" cy="665.5" r="2"/><circle class="A" cx="97.4" cy="458.5" r="2"/><circle class="A" cx="98.2" cy="456.0" r="2"/><circle class="H" cx="242.0" cy="552.9" r="2"/><circle class="X" cx="172.5" cy="601.1" r="2"/><circle class="A" cx="101.1" cy="456.6" r="2"/><circle class="H" cx="237.4" cy="544.1" r="2"/><circle class="S" cx="225.4" cy="607.6" r="2"/><circle class="X" cx="181.3" cy="598.7" r="2"/><circle class="H" cx="242.8" cy="555.1" r="2"/><circle class="H" cx="255.9" cy="546.4" r="2"/><circle class="N" cx="250.0" cy="627.6" r="2"/><circle class="D" cx="146.9" cy="576.0" r="2"/><circle class="N" cx="286.8" cy="532.8" r="2"/><circle class="S" cx="216.8" cy="620.2" r="2"/><circle class="A" cx="100.8" cy="454.8" r="2"/><circle class="P" cx="191.5" cy="483.7" r="2"/><circle class="X" cx="175.0" cy="601.0" r="2"/><circle class="H" cx="256.9" cy="545.4" r="2"/><circle class="X" cx="173.1" cy="598.4" r="2"/><circle class="P" cx="219.8" cy="523.8" r="2"/><circle class="X" cx="196.8" cy="593.3" r="2"/><circle class="S" cx="215.7" cy="629.9" r="2"/><circle class="H" cx="264.9" cy="556.5" r="2"/><circle class="D" cx="133.8" cy="581.2" r="2"/><circle class="N" cx="233.2" cy="633.7" r="2"/><circle class="P" cx="214.0" cy="524.6" r="2"/><circle class="A" cx="100.9" cy="460.0" r="2"/><circle class="X" cx="196.1" cy="591.7" r="2"/><circle class="D" cx="146.1" cy="576.5" r="2"/><circle class="D" cx="138.3" cy="577.7" r="2"/><circle class="N" cx="249.5" cy="626.0" r="2"/><circle class="D" cx="150.0" cy="580.8" r="2"/><circle class="A" cx="99.5" cy="455.1" r="2"/><circle class="S" cx="212.2" cy="602.2" r="2"/><circle class="S" cx="223.3" cy="610.9" r="2"/><circle class="N" cx="262.6" cy="626.0" r="2"/><circle class="S" cx="201.1" cy="600.5" r="2"/><circle class="N" cx="260.4" cy="645.4" r="2"/><circle class="A" cx="96.1" cy="460.9" r="2"/><circle class="X" cx="193.8" cy="611.1" r="2"/><circle class="D" cx="131.8" cy="575.6" r="2"/><circle class="X" cx="175.0" cy="570.5" r="2"/><circle class="H" cx="263.9" cy="539.1" r="2"/><circle class="N" cx="261.2" cy="628.5" r="2"/><circle class="H" cx="236.9" cy="549.9" r="2"/><circle class="D" cx="132.1" cy="578.1" r="2"/><circle class="N" cx="259.8" cy="648.6" r="2"/><circle class="N" cx="266.4" cy="622.8" r="2"/><circle class="A" cx="130.5" cy="470.3" r="2"/><circle class="N" cx="259.4" cy="622.0" r="2"/><circle class="H" cx="241.5" cy="554.5" r="2"/><circle class="X" cx="185.9" cy="600.3" r="2"/><circle class="A" cx="95.1" cy="460.0" r="2"/><circle class="X" cx="181.4" cy="603.4" r="2"/><circle class="P" cx="170.0" cy="498.3" r="2"/><circle class="X" cx="197.3" cy="591.2" r="2"/><circle class="S" cx="223.3" cy="613.2" r="2"/><circle class="A" cx="102.0" cy="458.5" r="2"/><circle class="H" cx="265.3" cy="542.4" r="2"/><circle class="D" cx="138.3" cy="582.0" r="2"/><circle class="S" cx="235.4" cy="630.3" r="2"/><circle class="H" cx="261.7" cy="544.9" r="2"/><circle class="D" cx="140.2" cy="581.9" r="2"/><circle class="D" cx="144.2" cy="577.8" r="2"/><circle class="X" cx="196.8" cy="592.4" r="2"/><circle class="X" cx="194.8" cy="594.4" r="2"/><circle class="X" cx="209.4" cy="590.0" r="2"/><circle class="A" cx="95.9" cy="455.2" r="2"/><circle class="X" cx="169.2" cy="597.9" r="2"/><circle class="N" cx="256.4" cy="584.8" r="2"/><circle class="P" cx="215.4" cy="517.4" r="2"/><circle class="X" cx="180.5" cy="604.1" r="2"/><circle class="P" cx="220.8" cy="502.5" r="2"/><circle class="X" cx="173.2" cy="594.7" r="2"/><circle class="H" cx="268.8" cy="543.6" r="2"/><circle class="N" cx="270.7" cy="630.6" r="2"/><circle class="H" cx="272.7" cy="538.7" r="2"/><circle class="X" cx="179.6" cy="607.1" r="2"/><circle class="N" cx="245.7" cy="626.6" r="2"/><circle class="S" cx="207.3" cy="603.5" r="2"/><circle class="S" cx="229.2" cy="605.8" r="2"/><circle class="H" cx="261.4" cy="532.0" r="2"/><circle class="P" cx="214.4" cy="519.9" r="2"/><circle class="N" cx="249.4" cy="526.1" r="2"/><circle class="H" cx="263.6" cy="542.2" r="2"/><circle class="S" cx="234.2" cy="625.4" r="2"/><circle class="D" cx="144.1" cy="576.3" r="2"/><circle class="S" cx="236.4" cy="665.0" r="2"/><circle class="S" cx="228.2" cy="604.8" r="2"/><circle class="D" cx="144.7" cy="581.4" r="2"/><circle class="H" cx="116.7" cy="471.5" r="2"/><circle class="N" cx="266.8" cy="624.4" r="2"/><circle class="H" cx="260.9" cy="540.5" r="2"/><circle class="P" cx="216.6" cy="522.1" r="2"/><circle class="S" cx="225.9" cy="616.2" r="2"/><circle class="A" cx="100.0" cy="458.4" r="2"/><circle class="X" cx="188.6" cy="604.3" r="2"/><circle class="N" cx="262.4" cy="626.8" r="2"/><circle class="N" cx="261.0" cy="620.7" r="2"/><circle class="S" cx="225.3" cy="616.3" r="2"/><circle class="H" cx="247.3" cy="553.0" r="2"/><circle class="N" cx="259.7" cy="631.5" r="2"/><circle class="H" cx="256.4" cy="544.4" r="2"/><circle class="X" cx="223.2" cy="594.2" r="2"/><circle class="P" cx="221.2" cy="516.9" r="2"/><circle class="N" cx="263.7" cy="611.0" r="2"/><circle class="X" cx="182.4" cy="602.7" r="2"/><circle class="D" cx="135.1" cy="575.7" r="2"/><circle class="H" cx="279.3" cy="547.1" r="2"/><circle class="S" cx="228.5" cy="611.7" r="2"/><circle class="P" cx="190.0" cy="531.1" r="2"/><circle class="S" cx="234.9" cy="673.5" r="2"/><circle class="P" cx="222.4" cy="530.9" r="2"/><circle class="S" cx="235.8" cy="619.9" r="2"/><circle class="P" cx="209.4" cy="515.3" r="2"/><circle class="S" cx="231.2" cy="609.5" r="2"/><circle class="A" cx="97.6" cy="455.2" r="2"/><circle class="X" cx="170.5" cy="602.1" r="2"/><circle class="A" cx="94.4" cy="458.2" r="2"/><circle class="H" cx="135.6" cy="474.5" r="2"/><circle class="P" cx="214.0" cy="518.4" r="2"/><circle class="S" cx="201.0" cy="605.8" r="2"/><circle class="D" cx="134.5" cy="584.4" r="2"/><circle class="S" cx="232.0" cy="676.8" r="2"/><circle class="S" cx="235.4" cy="632.6" r="2"/><circle class="P" cx="217.8" cy="511.5" r="2"/><circle class="S" cx="221.8" cy="602.8" r="2"/><circle class="X" cx="187.5" cy="604.0" r="2"/><circle class="X" cx="170.0" cy="599.8" r="2"/><circle class="N" cx="266.2" cy="631.0" r="2"/><circle class="D" cx="132.4" cy="561.1" r="2"/><circle class="S" cx="227.6" cy="611.8" r="2"/><circle class="A" cx="102.0" cy="454.3" r="2"/><circle class="H" cx="245.8" cy="546.9" r="2"/><circle class="S" cx="226.6" cy="612.0" r="2"/><circle class="H" cx="247.8" cy="551.1" r="2"/><circle class="N" cx="271.9" cy="601.2" r="2"/><circle class="D" cx="143.0" cy="579.7" r="2"/><circle class="N" cx="243.1" cy="583.7" r="2"/><circle class="S" cx="223.4" cy="613.2" r="2"/><circle class="P" cx="195.7" cy="503.1" r="2"/><circle class="S" cx="240.0" cy="657.5" r="2"/><circle class="N" cx="252.7" cy="632.5" r="2"/><circle class="D" cx="139.8" cy="575.8" r="2"/><circle class="A" cx="98.5" cy="462.2" r="2"/><circle class="H" cx="256.8" cy="544.5" r="2"/><circle class="A" cx="96.1" cy="457.2" r="2"/><circle class="N" cx="270.0" cy="600.2" r="2"/><circle class="P" cx="211.8" cy="516.2" r="2"/><circle class="S" cx="234.1" cy="669.0" r="2"/><circle class="D" cx="144.8" cy="576.1" r="2"/><circle class="S" cx="219.6" cy="611.1" r="2"/><circle class="D" cx="142.2" cy="576.3" r="2"/><circle class="N" cx="256.2" cy="628.2" r="2"/><circle class="N" cx="259.4" cy="624.4" r="2"/><circle class="N" cx="264.1" cy="626.4" r="2"/><circle class="N" cx="290.5" cy="617.2" r="2"/><circle class="N" cx="273.1" cy="623.4" r="2"/><circle class="P" cx="220.8" cy="519.4" r="2"/><circle class="H" cx="265.7" cy="544.8" r="2"/><circle class="X" cx="187.2" cy="602.5" r="2"/><circle class="A" cx="97.4" cy="460.6" r="2"/><circle class="H" cx="268.8" cy="546.6" r="2"/><circle class="N" cx="264.2" cy="624.1" r="2"/><circle class="P" cx="130.1" cy="590.0" r="2"/><circle class="A" cx="115.7" cy="466.1" r="2"/><circle class="X" cx="148.3" cy="589.6" r="2"/><circle class="S" cx="233.4" cy="620.5" r="2"/><circle class="H" cx="256.3" cy="545.1" r="2"/><circle class="N" cx="277.8" cy="621.4" r="2"/><circle class="D" cx="149.8" cy="559.0" r="2"/><circle class="A" cx="96.5" cy="460.6" r="2"/><circle class="A" cx="103.7" cy="473.2" r="2"/><circle class="A" cx="126.1" cy="469.2" r="2"/><circle class="H" cx="200.7" cy="494.1" r="2"/><circle class="N" cx="249.5" cy="624.8" r="2"/><circle class="D" cx="143.3" cy="577.0" r="2"/><circle class="D" cx="142.4" cy="578.2" r="2"/><circle class="H" cx="252.8" cy="544.6" r="2"/><circle class="P" cx="212.4" cy="522.3" r="2"/><circle class="D" cx="138.9" cy="574.9" r="2"/><circle class="H" cx="256.4" cy="538.5" r="2"/><circle class="X" cx="176.0" cy="594.7" r="2"/><circle class="H" cx="279.3" cy="550.1" r="2"/><circle class="P" cx="222.1" cy="526.8" r="2"/><circle class="P" cx="212.6" cy="504.1" r="2"/><circle class="H" cx="245.3" cy="550.9" r="2"/><circle class="A" cx="110.6" cy="464.2" r="2"/><circle class="A" cx="128.3" cy="468.8" r="2"/><circle class="A" cx="97.9" cy="454.9" r="2"/><circle class="S" cx="200.7" cy="608.3" r="2"/><circle class="D" cx="140.7" cy="578.5" r="2"/><circle class="D" cx="143.6" cy="572.2" r="2"/><circle class="P" cx="211.7" cy="519.0" r="2"/><circle class="X" cx="183.5" cy="601.5" r="2"/><circle class="D" cx="141.0" cy="574.5" r="2"/><circle class="P" cx="211.6" cy="520.3" r="2"/><circle class="N" cx="254.9" cy="630.9" r="2"/><circle class="S" cx="204.1" cy="602.4" r="2"/><circle class="S" cx="214.4" cy="602.9" r="2"/><circle class="N" cx="259.3" cy="625.3" r="2"/><circle class="X" cx="187.6" cy="600.8" r="2"/><circle class="A" cx="104.3" cy="462.6" r="2"/><circle class="N" cx="272.6" cy="621.9" r="2"/><circle class="S" cx="224.1" cy="611.9" r="2"/><circle class="S" cx="206.1" cy="609.5" r="2"/><circle class="P" cx="213.9" cy="514.8" r="2"/><circle class="A" cx="94.7" cy="454.1" r="2"/><circle class="P" cx="208.9" cy="520.4" r="2"/><circle class="D" cx="139.7" cy="578.5" r="2"/><circle class="A" cx="97.3" cy="460.9" r="2"/><circle class="D" cx="135.3" cy="572.4" r="2"/><circle class="H" cx="255.9" cy="543.5" r="2"/><circle class="X" cx="180.4" cy="603.3" r="2"/><circle class="D" cx="142.4" cy="570.0" r="2"/><circle class="S" cx="226.7" cy="607.3" r="2"/><circle class="P" cx="217.5" cy="516.7" r="2"/><circle class="X" cx="176.8" cy="599.6" r="2"/><circle class="X" cx="301.3" cy="589.0" r="2"/><circle class="A" cx="100.8" cy="456.6" r="2"/><circle class="P" cx="215.8" cy="519.3" r="2"/><circle class="H" cx="134.3" cy="557.8" r="2"/><circle class="N" cx="257.0" cy="627.4" r="2"/><circle class="X" cx="189.0" cy="606.2" r="2"/><circle class="S" cx="201.1" cy="604.4" r="2"/><circle class="X" cx="174.6" cy="597.8" r="2"/><circle class="S" cx="229.6" cy="611.3" r="2"/><circle class="D" cx="143.7" cy="571.2" r="2"/><circle class="X" cx="156.0" cy="560.2" r="2"/><circle class="N" cx="258.2" cy="622.3" r="2"/><circle class="D" cx="139.0" cy="577.3" r="2"/><circle class="X" cx="177.3" cy="600.6" r="2"/><circle class="X" cx="162.4" cy="565.7" r="2"/><circle class="D" cx="136.6" cy="580.8" r="2"/><circle class="X" cx="179.2" cy="603.0" r="2"/><circle class="A" cx="95.6" cy="461.5" r="2"/><circle class="H" cx="248.1" cy="562.8" r="2"/><circle class="D" cx="141.4" cy="576.9" r="2"/><circle class="D" cx="144.4" cy="567.6" r="2"/><circle class="H" cx="234.5" cy="550.8" r="2"/><circle class="N" cx="283.8" cy="609.9" r="2"/><circle class="A" cx="99.2" cy="457.3" r="2"/><circle class="H" cx="252.1" cy="541.6" r="2"/><circle class="D" cx="140.8" cy="578.3" r="2"/><circle class="S" cx="234.4" cy="669.8" r="2"/><circle class="D" cx="149.0" cy="563.5" r="2"/><circle class="P" cx="216.1" cy="515.9" r="2"/><circle class="P" cx="214.2" cy="520.0" r="2"/><circle class="P" cx="219.6" cy="516.3" r="2"/><circle class="X" cx="175.6" cy="606.3" r="2"/><circle class="D" cx="139.7" cy="579.2" r="2"/><circle class="X" cx="194.7" cy="594.7" r="2"/><circle class="A" cx="98.1" cy="455.7" r="2"/><circle class="P" cx="214.2" cy="521.9" r="2"/><circle class="P" cx="215.1" cy="521.9" r="2"/><circle class="D" cx="117.0" cy="583.7" r="2"/><circle class="P" cx="209.7" cy="511.5" r="2"/><circle class="D" cx="138.1" cy="577.2" r="2"/><circle class="S" cx="208.7" cy="606.0" r="2"/><circle class="X" cx="188.3" cy="602.7" r="2"/><circle class="P" cx="215.6" cy="523.9" r="2"/><circle class="N" cx="288.0" cy="607.6" r="2"/><circle class="X" cx="190.7" cy="602.2" r="2"/><circle class="D" cx="140.0" cy="579.1" r="2"/><circle class="X" cx="184.7" cy="605.0" r="2"/><circle class="S" cx="210.1" cy="600.6" r="2"/><circle class="H" cx="269.7" cy="542.2" r="2"/><circle class="N" cx="204.0" cy="574.8" r="2"/><circle class="S" cx="229.3" cy="609.2" r="2"/><circle class="P" cx="222.0" cy="522.6" r="2"/><circle class="S" cx="222.2" cy="611.9" r="2"/><circle class="X" cx="159.7" cy="600.8" r="2"/><circle class="D" cx="140.5" cy="572.2" r="2"/><circle class="S" cx="232.8" cy="671.8" r="2"/><circle class="H" cx="266.9" cy="546.6" r="2"/><circle class="X" cx="166.4" cy="601.3" r="2"/><circle class="D" cx="142.8" cy="579.3" r="2"/><circle class="A" cx="96.1" cy="451.4" r="2"/><circle class="X" cx="166.5" cy="592.7" r="2"/><circle class="S" cx="211.6" cy="603.6" r="2"/><circle class="S" cx="226.9" cy="612.0" r="2"/><circle class="A" cx="119.7" cy="466.8" r="2"/><circle class="A" cx="95.4" cy="453.2" r="2"/><circle class="H" cx="253.2" cy="549.4" r="2"/><circle class="A" cx="112.4" cy="469.1" r="2"/><circle class="A" cx="107.8" cy="463.7" r="2"/><circle class="N" cx="258.0" cy="626.3" r="2"/><circle class="D" cx="138.1" cy="582.4" r="2"/><circle class="N" cx="257.3" cy="631.5" r="2"/><circle class="X" cx="180.2" cy="607.0" r="2"/><circle class="X" cx="261.1" cy="590.7" r="2"/><circle class="X" cx="168.6" cy="599.6" r="2"/><circle class="H" cx="241.7" cy="553.2" r="2"/><circle class="X" cx="186.6" cy="604.4" r="2"/><circle class="N" cx="286.5" cy="609.0" r="2"/><circle class="P" cx="222.3" cy="518.8" r="2"/><circle class="N" cx="255.0" cy="633.3" r="2"/><circle class="P" cx="212.6" cy="522.0" r="2"/><circle class="X" cx="174.7" cy="601.3" r="2"/><circle class="S" cx="237.3" cy="668.4" r="2"/><circle class="H" cx="231.8" cy="556.1" r="2"/><circle class="A" cx="101.2" cy="461.3" r="2"/><circle class="S" cx="229.1" cy="619.8" r="2"/><circle class="D" cx="139.4" cy="573.7" r="2"/><circle class="H" cx="258.5" cy="539.9" r="2"/><circle class="H" cx="139.1" cy="582.6" r="2"/><circle class="S" cx="236.3" cy="625.7" r="2"/><circle class="S" cx="207.1" cy="601.1" r="2"/><circle class="S" cx="199.7" cy="603.2" r="2"/><circle class="N" cx="265.5" cy="622.4" r="2"/><circle class="N" cx="275.7" cy="628.8" r="2"/><circle class="A" cx="98.0" cy="456.6" r="2"/><circle class="D" cx="152.1" cy="558.7" r="2"/><circle class="D" cx="144.3" cy="571.3" r="2"/><circle class="N" cx="262.1" cy="615.6" r="2"/><circle class="H" cx="164.4" cy="527.5" r="2"/><circle class="X" cx="187.5" cy="599.5" r="2"/><circle class="P" cx="209.9" cy="517.9" r="2"/><circle class="N" cx="268.8" cy="636.5" r="2"/><circle class="X" cx="186.1" cy="607.8" r="2"/><circle class="P" cx="180.7" cy="467.4" r="2"/><circle class="D" cx="137.6" cy="580.4" r="2"/><circle class="H" cx="244.9" cy="550.2" r="2"/><circle class="D" cx="144.6" cy="579.0" r="2"/><circle class="H" cx="260.7" cy="540.5" r="2"/><circle class="N" cx="241.1" cy="590.0" r="2"/><circle class="H" cx="239.5" cy="553.3" r="2"/><circle class="D" cx="149.8" cy="554.7" r="2"/><circle class="D" cx="130.4" cy="583.5" r="2"/><circle class="P" cx="220.9" cy="529.7" r="2"/><circle class="P" cx="239.4" cy="524.8" r="2"/><circle class="P" cx="229.1" cy="510.2" r="2"/><circle class="X" cx="178.2" cy="598.3" r="2"/><circle class="A" cx="92.7" cy="454.8" r="2"/><circle class="H" cx="231.5" cy="559.1" r="2"/><circle class="X" cx="197.7" cy="596.2" r="2"/><circle class="S" cx="227.1" cy="615.3" r="2"/><circle class="H" cx="149.9" cy="555.6" r="2"/><circle class="X" cx="177.0" cy="579.0" r="2"/><circle class="X" cx="179.1" cy="604.2" r="2"/><circle class="N" cx="280.0" cy="605.7" r="2"/><circle class="D" cx="137.6" cy="567.6" r="2"/><circle class="H" cx="268.6" cy="541.6" r="2"/><circle class="H" cx="115.5" cy="543.5" r="2"/><circle class="P" cx="220.4" cy="526.4" r="2"/><circle class="P" cx="209.7" cy="510.4" r="2"/><circle class="X" cx="198.8" cy="590.1" r="2"/><circle class="X" cx="178.3" cy="602.0" r="2"/><circle class="D" cx="146.0" cy="577.3" r="2"/><circle class="X" cx="191.0" cy="603.9" r="2"/><circle class="S" cx="209.7" cy="600.3" r="2"/><circle class="P" cx="207.7" cy="520.5" r="2"/><circle class="A" cx="100.4" cy="456.4" r="2"/><circle class="H" cx="108.0" cy="528.0" r="2"/><circle class="X" cx="181.2" cy="603.1" r="2"/><circle class="N" cx="262.3" cy="620.1" r="2"/><circle class="D" cx="142.5" cy="578.5" r="2"/><circle class="A" cx="93.9" cy="457.2" r="2"/><circle class="S" cx="225.9" cy="613.3" r="2"/><circle class="X" cx="249.9" cy="513.1" r="2"/><circle class="H" cx="272.0" cy="540.9" r="2"/><circle class="P" cx="217.3" cy="530.7" r="2"/><circle class="S" cx="234.8" cy="621.0" r="2"/><circle class="N" cx="255.6" cy="627.1" r="2"/><circle class="S" cx="203.7" cy="607.2" r="2"/><circle class="D" cx="137.7" cy="578.2" r="2"/><circle class="D" cx="150.6" cy="580.0" r="2"/><circle class="P" cx="213.9" cy="523.7" r="2"/><circle class="H" cx="249.8" cy="544.2" r="2"/><circle class="H" cx="261.5" cy="546.2" r="2"/><circle class="N" cx="273.0" cy="609.0" r="2"/><circle class="N" cx="259.5" cy="624.5" r="2"/><circle class="X" cx="198.1" cy="592.0" r="2"/><circle class="H" cx="246.9" cy="553.7" r="2"/><circle class="H" cx="258.4" cy="544.9" r="2"/><circle class="D" cx="141.1" cy="573.9" r="2"/><circle class="S" cx="225.6" cy="607.3" r="2"/><circle class="S" cx="210.0" cy="606.9" r="2"/><circle class="P" cx="212.3" cy="515.2" r="2"/><circle class="X" cx="170.4" cy="600.0" r="2"/><circle class="S" cx="235.3" cy="627.5" r="2"/><circle class="A" cx="97.4" cy="459.0" r="2"/><circle class="D" cx="137.1" cy="572.4" r="2"/><circle class="X" cx="218.7" cy="597.2" r="2"/><circle class="X" cx="266.1" cy="515.6" r="2"/><circle class="D" cx="141.4" cy="581.3" r="2"/><circle class="A" cx="92.6" cy="456.0" r="2"/><circle class="N" cx="285.5" cy="610.0" r="2"/><circle class="P" cx="217.7" cy="517.8" r="2"/><circle class="N" cx="251.7" cy="618.1" r="2"/><circle class="X" cx="168.5" cy="595.6" r="2"/><circle class="A" cx="95.7" cy="455.5" r="2"/><circle class="D" cx="150.7" cy="573.9" r="2"/><circle class="X" cx="170.1" cy="599.2" r="2"/><circle class="D" cx="153.7" cy="557.3" r="2"/><circle class="A" cx="96.8" cy="456.7" r="2"/><circle class="P" cx="216.5" cy="520.1" r="2"/><circle class="N" cx="269.4" cy="509.9" r="2"/><circle class="D" cx="154.5" cy="550.7" r="2"/><circle class="N" cx="263.5" cy="623.2" r="2"/><circle class="S" cx="204.5" cy="621.2" r="2"/><circle class="S" cx="230.1" cy="616.6" r="2"/><circle class="P" cx="220.7" cy="523.2" r="2"/><circle class="S" cx="229.9" cy="673.0" r="2"/><circle class="P" cx="213.6" cy="524.7" r="2"/><circle class="X" cx="178.1" cy="612.9" r="2"/><circle class="P" cx="205.1" cy="534.6" r="2"/><circle class="A" cx="94.4" cy="460.8" r="2"/><circle class="N" cx="251.4" cy="613.4" r="2"/><circle class="S" cx="232.2" cy="673.0" r="2"/><circle class="A" cx="128.6" cy="470.5" r="2"/><circle class="S" cx="236.6" cy="675.8" r="2"/><circle class="H" cx="235.6" cy="554.7" r="2"/><circle class="N" cx="258.9" cy="625.4" r="2"/><circle class="D" cx="151.7" cy="575.3" r="2"/><circle class="H" cx="241.8" cy="556.5" r="2"/><circle class="D" cx="145.7" cy="580.7" r="2"/><circle class="X" cx="170.9" cy="602.4" r="2"/><circle class="H" cx="138.9" cy="565.7" r="2"/><circle class="A" cx="96.7" cy="459.4" r="2"/><circle class="S" cx="233.0" cy="671.9" r="2"/><circle class="S" cx="241.7" cy="616.3" r="2"/><circle class="X" cx="181.4" cy="604.5" r="2"/><circle class="X" cx="180.4" cy="601.4" r="2"/><circle class="N" cx="272.3" cy="615.4" r="2"/><circle class="X" cx="188.9" cy="603.9" r="2"/><circle class="N" cx="272.2" cy="617.5" r="2"/><circle class="X" cx="175.5" cy="600.8" r="2"/><circle class="H" cx="236.5" cy="550.5" r="2"/><circle class="H" cx="231.4" cy="547.1" r="2"/><circle class="N" cx="253.5" cy="622.6" r="2"/><circle class="H" cx="244.1" cy="551.8" r="2"/><circle class="P" cx="208.7" cy="523.0" r="2"/><circle class="H" cx="262.0" cy="539.4" r="2"/><circle class="N" cx="264.0" cy="620.5" r="2"/><circle class="A" cx="128.8" cy="473.9" r="2"/><circle class="A" cx="95.8" cy="456.5" r="2"/><circle class="N" cx="275.1" cy="610.4" r="2"/><circle class="D" cx="140.7" cy="579.5" r="2"/><circle class="S" cx="236.2" cy="624.5" r="2"/><circle class="D" cx="140.6" cy="574.6" r="2"/><circle class="D" cx="144.4" cy="580.8" r="2"/><circle class="S" cx="234.2" cy="629.2" r="2"/><circle class="A" cx="96.3" cy="459.9" r="2"/><circle class="X" cx="181.9" cy="601.8" r="2"/><circle class="A" cx="94.5" cy="456.5" r="2"/><circle class="D" cx="141.3" cy="571.2" r="2"/><circle class="N" cx="251.7" cy="631.8" r="2"/><circle class="A" cx="96.6" cy="456.2" r="2"/><circle class="H" cx="245.6" cy="555.0" r="2"/><circle class="P" cx="199.0" cy="517.3" r="2"/><circle class="S" cx="241.7" cy="664.1" r="2"/><circle class="H" cx="102.9" cy="492.1" r="2"/><circle class="H" cx="264.6" cy="543.7" r="2"/><circle class="N" cx="260.5" cy="627.0" r="2"/><circle class="H" cx="247.6" cy="547.4" r="2"/><circle class="X" cx="261.4" cy="591.7" r="2"/><circle class="H" cx="241.6" cy="547.4" r="2"/><circle class="S" cx="229.7" cy="608.9" r="2"/><circle class="A" cx="124.6" cy="467.5" r="2"/><circle class="H" cx="258.8" cy="536.6" r="2"/><circle class="S" cx="241.1" cy="659.0" r="2"/><circle class="N" cx="254.9" cy="620.7" r="2"/><circle class="D" cx="142.6" cy="573.8" r="2"/><circle class="H" cx="262.0" cy="541.7" r="2"/><circle class="A" cx="111.8" cy="465.8" r="2"/><circle class="H" cx="259.8" cy="540.7" r="2"/><circle class="N" cx="270.5" cy="624.4" r="2"/><circle class="S" cx="198.5" cy="604.3" r="2"/><circle class="H" cx="138.5" cy="570.5" r="2"/><circle class="N" cx="249.5" cy="636.0" r="2"/><circle class="A" cx="99.8" cy="458.4" r="2"/><circle class="A" cx="116.0" cy="467.9" r="2"/><circle class="H" cx="251.4" cy="544.2" r="2"/><circle class="S" cx="223.6" cy="611.1" r="2"/><circle class="N" cx="249.9" cy="624.3" r="2"/><circle class="A" cx="98.4" cy="455.7" r="2"/><circle class="A" cx="98.8" cy="456.1" r="2"/><circle class="P" cx="215.2" cy="519.5" r="2"/><circle class="N" cx="261.7" cy="637.9" r="2"/><circle class="A" cx="102.5" cy="453.8" r="2"/><circle class="S" cx="224.9" cy="611.9" r="2"/><circle class="H" cx="260.8" cy="536.4" r="2"/><circle class="D" cx="145.2" cy="573.3" r="2"/><circle class="D" cx="142.6" cy="580.2" r="2"/><circle class="H" cx="246.0" cy="553.9" r="2"/><circle class="D" cx="147.1" cy="577.6" r="2"/><circle class="X" cx="180.2" cy="605.7" r="2"/><circle class="S" cx="212.6" cy="607.6" r="2"/><circle class="P" cx="213.5" cy="522.7" r="2"/><circle class="S" cx="206.7" cy="603.4" r="2"/><circle class="S" cx="216.6" cy="610.8" r="2"/><circle class="H" cx="262.0" cy="540.1" r="2"/><circle class="N" cx="255.7" cy="618.0" r="2"/><circle class="A" cx="128.8" cy="467.4" r="2"/><circle class="N" cx="247.1" cy="627.1" r="2"/><circle class="N" cx="157.7" cy="594.3" r="2"/><circle class="P" cx="210.4" cy="519.8" r="2"/><circle class="H" cx="148.1" cy="495.3" r="2"/><circle class="X" cx="172.6" cy="597.0" r="2"/><circle class="X" cx="187.1" cy="608.2" r="2"/><circle class="A" cx="91.8" cy="454.7" r="2"/><circle class="S" cx="221.9" cy="613.6" r="2"/><circle class="D" cx="149.2" cy="574.3" r="2"/><circle class="S" cx="226.3" cy="607.5" r="2"/><circle class="S" cx="225.0" cy="607.8" r="2"/><circle class="X" cx="188.7" cy="604.8" r="2"/><circle class="N" cx="247.1" cy="631.2" r="2"/><circle class="X" cx="190.8" cy="601.3" r="2"/><circle class="H" cx="138.6" cy="485.8" r="2"/><circle class="P" cx="202.0" cy="499.4" r="2"/><circle class="P" cx="216.3" cy="523.0" r="2"/><circle class="N" cx="251.5" cy="630.2" r="2"/><circle class="D" cx="128.8" cy="576.0" r="2"/><circle class="N" cx="253.4" cy="625.9" r="2"/><circle class="S" cx="235.3" cy="621.6" r="2"/><circle class="N" cx="241.7" cy="629.8" r="2"/><circle class="P" cx="217.1" cy="524.2" r="2"/><circle class="P" cx="159.9" cy="514.2" r="2"/><circle class="S" cx="215.1" cy="610.0" r="2"/><circle class="X" cx="186.2" cy="602.6" r="2"/><circle class="H" cx="234.4" cy="549.6" r="2"/><circle class="S" cx="229.6" cy="607.3" r="2"/><circle class="N" cx="272.7" cy="623.5" r="2"/><circle class="H" cx="250.8" cy="541.8" r="2"/><circle class="D" cx="133.1" cy="578.5" r="2"/><circle class="P" cx="217.8" cy="531.2" r="2"/><circle class="D" cx="144.7" cy="578.7" r="2"/><circle class="S" cx="240.3" cy="657.2" r="2"/><circle class="H" cx="242.3" cy="553.7" r="2"/><circle class="H" cx="240.2" cy="555.7" r="2"/><circle class="P" cx="209.8" cy="513.6" r="2"/><circle class="X" cx="251.9" cy="609.5" r="2"/><circle class="N" cx="274.7" cy="614.9" r="2"/><circle class="N" cx="266.5" cy="622.6" r="2"/><circle class="H" cx="313.0" cy="551.8" r="2"/><circle class="S" cx="229.8" cy="624.2" r="2"/><circle class="X" cx="174.2" cy="608.1" r="2"/><circle class="D" cx="141.7" cy="580.6" r="2"/><circle class="P" cx="218.9" cy="525.4" r="2"/><circle class="N" cx="262.7" cy="643.6" r="2"/><circle class="H" cx="247.3" cy="555.1" r="2"/><circle class="X" cx="188.8" cy="606.8" r="2"/><circle class="N" cx="249.8" cy="617.4" r="2"/><circle class="A" cx="123.0" cy="468.3" r="2"/><circle class="X" cx="289.3" cy="542.3" r="2"/><circle class="P" cx="225.9" cy="519.5" r="2"/><circle class="H" cx="260.3" cy="549.5" r="2"/><circle class="H" cx="279.3" cy="546.8" r="2"/><circle class="X" cx="190.6" cy="603.4" r="2"/><circle class="X" cx="194.4" cy="592.5" r="2"/><circle class="D" cx="141.3" cy="581.0" r="2"/><circle class="N" cx="261.2" cy="624.7" r="2"/><circle class="S" cx="200.9" cy="600.0" r="2"/><circle class="X" cx="188.0" cy="601.6" r="2"/><circle class="D" cx="139.7" cy="578.8" r="2"/><circle class="N" cx="143.6" cy="541.8" r="2"/><circle class="N" cx="259.9" cy="646.9" r="2"/><circle class="A" cx="106.2" cy="462.9" r="2"/><circle class="N" cx="287.8" cy="606.9" r="2"/><circle class="H" cx="253.3" cy="544.8" r="2"/><circle class="X" cx="190.3" cy="601.5" r="2"/><circle class="S" cx="204.1" cy="603.8" r="2"/><circle class="S" cx="205.9" cy="600.7" r="2"/><circle class="N" cx="258.9" cy="648.8" r="2"/><circle class="X" cx="166.3" cy="602.1" r="2"/><circle class="H" cx="116.7" cy="458.4" r="2"/><circle class="N" cx="253.7" cy="624.8" r="2"/><circle class="H" cx="261.9" cy="544.2" r="2"/><circle class="D" cx="136.3" cy="573.1" r="2"/><circle class="S" cx="231.5" cy="609.8" r="2"/><circle class="H" cx="285.1" cy="548.8" r="2"/><circle class="H" cx="266.8" cy="545.6" r="2"/><circle class="D" cx="140.2" cy="579.2" r="2"/><circle class="H" cx="268.1" cy="539.3" r="2"/><circle class="H" cx="261.7" cy="549.8" r="2"/><circle class="N" cx="265.5" cy="627.1" r="2"/><circle class="S" cx="225.5" cy="611.7" r="2"/><circle class="N" cx="255.6" cy="622.6" r="2"/><circle class="D" cx="133.9" cy="580.9" r="2"/><circle class="S" cx="243.1" cy="597.0" r="2"/><circle class="X" cx="171.2" cy="601.1" r="2"/><circle class="H" cx="259.9" cy="537.1" r="2"/><circle class="N" cx="282.0" cy="609.1" r="2"/><circle class="H" cx="233.1" cy="551.7" r="2"/><circle class="A" cx="94.5" cy="454.9" r="2"/><circle class="P" cx="216.7" cy="524.1" r="2"/><circle class="P" cx="213.2" cy="524.1" r="2"/><circle class="N" cx="257.5" cy="633.9" r="2"/><circle class="S" cx="220.1" cy="609.7" r="2"/><circle class="A" cx="99.5" cy="455.6" r="2"/><circle class="D" cx="145.4" cy="577.8" r="2"/><circle class="N" cx="264.4" cy="620.4" r="2"/><circle class="S" cx="229.5" cy="606.8" r="2"/><circle class="P" cx="214.8" cy="512.4" r="2"/><circle class="S" cx="218.9" cy="603.5" r="2"/><circle class="S" cx="217.6" cy="604.2" r="2"/><circle class="A" cx="117.7" cy="466.7" r="2"/><circle class="X" cx="231.2" cy="603.0" r="2"/><circle class="S" cx="213.5" cy="604.9" r="2"/><circle class="S" cx="228.0" cy="613.2" r="2"/><circle class="D" cx="142.0" cy="573.1" r="2"/><circle class="X" cx="162.7" cy="607.1" r="2"/><circle class="X" cx="179.0" cy="593.8" r="2"/><circle class="X" cx="179.4" cy="608.6" r="2"/><circle class="H" cx="167.0" cy="522.9" r="2"/><circle class="D" cx="135.3" cy="575.5" r="2"/><circle class="N" cx="262.4" cy="628.7" r="2"/><circle class="D" cx="151.0" cy="582.2" r="2"/><circle class="P" cx="224.1" cy="525.1" r="2"/><circle class="H" cx="271.2" cy="543.3" r="2"/><circle class="N" cx="257.8" cy="625.9" r="2"/><circle class="X" cx="170.3" cy="600.7" r="2"/><circle class="N" cx="264.9" cy="632.3" r="2"/><circle class="A" cx="109.1" cy="464.2" r="2"/><circle class="S" cx="203.9" cy="596.4" r="2"/><circle class="A" cx="128.8" cy="469.5" r="2"/><circle class="N" cx="265.4" cy="623.1" r="2"/><circle class="A" cx="96.3" cy="460.0" r="2"/><circle class="X" cx="191.9" cy="600.3" r="2"/><circle class="N" cx="271.4" cy="610.6" r="2"/><circle class="A" cx="97.4" cy="455.8" r="2"/><circle class="S" cx="242.1" cy="660.3" r="2"/><circle class="H" cx="260.7" cy="548.6" r="2"/><circle class="S" cx="207.9" cy="602.9" r="2"/><circle class="P" cx="205.0" cy="494.1" r="2"/><circle class="D" cx="143.3" cy="580.4" r="2"/><circle class="A" cx="97.0" cy="456.7" r="2"/><circle class="P" cx="203.2" cy="522.0" r="2"/><circle class="H" cx="253.0" cy="547.7" r="2"/><circle class="A" cx="97.7" cy="459.8" r="2"/><circle class="N" cx="264.0" cy="626.5" r="2"/><circle class="N" cx="253.7" cy="617.4" r="2"/><circle class="H" cx="261.0" cy="545.3" r="2"/><circle class="H" cx="259.9" cy="536.8" r="2"/><circle class="S" cx="161.9" cy="588.7" r="2"/><circle class="S" cx="161.9" cy="588.8" r="2"/><circle class="P" cx="208.4" cy="523.7" r="2"/><circle class="D" cx="147.3" cy="576.7" r="2"/><circle class="P" cx="213.5" cy="513.2" r="2"/><circle class="N" cx="170.0" cy="564.4" r="2"/><circle class="N" cx="282.2" cy="616.6" r="2"/><circle class="D" cx="133.0" cy="575.8" r="2"/><circle class="H" cx="242.9" cy="551.4" r="2"/><circle class="N" cx="258.5" cy="631.8" r="2"/><circle class="A" cx="98.3" cy="454.5" r="2"/><circle class="S" cx="233.5" cy="622.7" r="2"/><circle class="X" cx="195.5" cy="592.1" r="2"/><circle class="N" cx="293.6" cy="578.0" r="2"/><circle class="X" cx="160.5" cy="593.7" r="2"/><circle class="N" cx="253.2" cy="631.1" r="2"/><circle class="S" cx="227.2" cy="608.0" r="2"/><circle class="P" cx="217.4" cy="500.6" r="2"/><circle class="X" cx="197.4" cy="593.9" r="2"/><circle class="S" cx="205.8" cy="603.6" r="2"/><circle class="H" cx="151.9" cy="484.8" r="2"/><circle class="H" cx="248.9" cy="550.7" r="2"/><circle class="S" cx="233.7" cy="617.7" r="2"/><circle class="H" cx="265.4" cy="540.2" r="2"/><circle class="S" cx="234.4" cy="673.5" r="2"/><circle class="X" cx="172.3" cy="592.7" r="2"/><circle class="S" cx="211.9" cy="589.0" r="2"/><circle class="A" cx="96.8" cy="452.4" r="2"/><circle class="P" cx="218.2" cy="514.1" r="2"/><circle class="H" cx="254.4" cy="565.5" r="2"/><circle class="P" cx="215.7" cy="524.8" r="2"/><circle class="D" cx="141.6" cy="579.3" r="2"/><circle class="N" cx="241.1" cy="590.2" r="2"/><circle class="N" cx="260.9" cy="649.9" r="2"/><circle class="N" cx="268.7" cy="621.1" r="2"/><circle class="N" cx="251.4" cy="626.8" r="2"/><circle class="P" cx="207.1" cy="520.6" r="2"/><circle class="X" cx="192.0" cy="594.0" r="2"/><circle class="N" cx="254.9" cy="630.5" r="2"/><circle class="X" cx="275.6" cy="536.1" r="2"/><circle class="X" cx="176.0" cy="600.2" r="2"/><circle class="P" cx="221.3" cy="525.0" r="2"/><circle class="N" cx="271.7" cy="623.8" r="2"/><circle class="H" cx="237.1" cy="550.3" r="2"/><circle class="H" cx="253.3" cy="545.8" r="2"/><circle class="D" cx="142.1" cy="578.5" r="2"/><circle class="X" cx="181.7" cy="609.7" r="2"/><circle class="A" cx="101.7" cy="463.3" r="2"/><circle class="X" cx="169.4" cy="595.4" r="2"/><circle class="A" cx="125.7" cy="470.3" r="2"/><circle class="D" cx="147.9" cy="581.5" r="2"/><circle class="X" cx="177.7" cy="599.8" r="2"/><circle class="X" cx="182.1" cy="606.1" r="2"/><circle class="X" cx="173.6" cy="598.9" r="2"/><circle class="X" cx="293.6" cy="579.8" r="2"/><circle class="X" cx="183.0" cy="605.0" r="2"/><circle class="N" cx="261.2" cy="650.9" r="2"/><circle class="S" cx="227.2" cy="615.0" r="2"/><circle class="A" cx="97.2" cy="458.4" r="2"/><circle class="S" cx="225.5" cy="612.7" r="2"/><circle class="H" cx="258.7" cy="539.6" r="2"/><circle class="N" cx="259.0" cy="616.1" r="2"/><circle class="P" cx="217.0" cy="519.9" r="2"/><circle class="N" cx="266.5" cy="626.8" r="2"/><circle class="H" cx="273.6" cy="546.6" r="2"/><circle class="N" cx="254.7" cy="625.1" r="2"/><circle class="P" cx="203.7" cy="541.1" r="2"/><circle class="P" cx="216.3" cy="513.4" r="2"/><circle class="H" cx="261.4" cy="541.6" r="2"/><circle class="D" cx="144.7" cy="576.7" r="2"/><circle class="S" cx="238.1" cy="657.5" r="2"/><circle class="D" cx="140.6" cy="576.3" r="2"/><circle class="X" cx="167.6" cy="601.0" r="2"/><circle class="P" cx="212.0" cy="532.1" r="2"/><circle class="D" cx="122.9" cy="577.2" r="2"/><circle class="H" cx="109.2" cy="470.2" r="2"/><circle class="H" cx="236.2" cy="551.3" r="2"/><circle class="N" cx="244.4" cy="598.7" r="2"/><circle class="D" cx="146.0" cy="572.8" r="2"/><circle class="N" cx="260.6" cy="624.6" r="2"/><circle class="X" cx="181.2" cy="603.9" r="2"/><circle class="H" cx="252.1" cy="550.9" r="2"/><circle class="S" cx="213.4" cy="608.7" r="2"/><circle class="D" cx="146.4" cy="580.0" r="2"/><circle class="A" cx="91.9" cy="454.7" r="2"/><circle class="S" cx="235.6" cy="667.1" r="2"/><circle class="N" cx="254.0" cy="617.2" r="2"/><circle class="A" cx="117.9" cy="466.7" r="2"/><circle class="X" cx="189.4" cy="604.2" r="2"/><circle class="A" cx="96.5" cy="457.6" r="2"/><circle class="X" cx="187.9" cy="601.0" r="2"/><circle class="H" cx="259.0" cy="540.6" r="2"/><circle class="N" cx="260.7" cy="625.2" r="2"/><circle class="D" cx="144.7" cy="581.5" r="2"/><circle class="D" cx="140.0" cy="576.6" r="2"/><circle class="X" cx="163.2" cy="570.6" r="2"/><circle class="N" cx="255.6" cy="627.3" r="2"/><circle class="N" cx="261.7" cy="647.6" r="2"/><circle class="X" cx="168.0" cy="598.6" r="2"/><circle class="H" cx="261.5" cy="534.6" r="2"/><circle class="N" cx="250.6" cy="637.4" r="2"/><circle class="X" cx="197.1" cy="590.1" r="2"/><circle class="S" cx="228.0" cy="611.9" r="2"/><circle class="H" cx="145.6" cy="496.6" r="2"/><circle class="N" cx="267.1" cy="618.9" r="2"/><circle class="A" cx="95.0" cy="452.6" r="2"/><circle class="A" cx="96.4" cy="454.4" r="2"/><circle class="D" cx="135.3" cy="574.0" r="2"/><circle class="N" cx="275.1" cy="535.3" r="2"/><circle class="A" cx="96.9" cy="458.1" r="2"/><circle class="X" cx="179.5" cy="605.8" r="2"/><circle class="X" cx="173.0" cy="597.1" r="2"/><circle class="S" cx="229.9" cy="621.6" r="2"/><circle class="X" cx="184.3" cy="601.7" r="2"/><circle class="N" cx="246.9" cy="591.7" r="2"/><circle class="S" cx="217.5" cy="620.7" r="2"/><circle class="D" cx="142.3" cy="574.3" r="2"/><circle class="S" cx="227.4" cy="610.5" r="2"/><circle class="H" cx="258.4" cy="545.3" r="2"/><circle class="H" cx="197.0" cy="544.8" r="2"/><circle class="S" cx="228.6" cy="612.3" r="2"/><circle class="A" cx="96.5" cy="459.5" r="2"/><circle class="A" cx="93.9" cy="458.6" r="2"/><circle class="A" cx="100.6" cy="455.2" r="2"/><circle class="D" cx="133.6" cy="572.3" r="2"/><circle class="X" cx="179.7" cy="604.6" r="2"/><circle class="A" cx="102.4" cy="456.6" r="2"/><circle class="D" cx="141.1" cy="568.6" r="2"/><circle class="S" cx="216.7" cy="607.0" r="2"/><circle class="H" cx="134.8" cy="502.1" r="2"/><circle class="N" cx="256.1" cy="629.4" r="2"/><circle class="A" cx="93.4" cy="457.0" r="2"/><circle class="S" cx="222.6" cy="612.7" r="2"/><circle class="P" cx="209.8" cy="517.4" r="2"/><circle class="H" cx="258.4" cy="541.4" r="2"/><circle class="N" cx="258.1" cy="624.7" r="2"/><circle class="H" cx="266.2" cy="539.0" r="2"/><circle class="H" cx="239.5" cy="550.4" r="2"/><circle class="S" cx="232.9" cy="631.4" r="2"/><circle class="X" cx="168.0" cy="602.0" r="2"/><circle class="S" cx="233.6" cy="625.9" r="2"/><circle class="N" cx="143.1" cy="558.8" r="2"/><circle class="P" cx="217.0" cy="522.8" r="2"/><circle class="A" cx="96.9" cy="458.0" r="2"/><circle class="H" cx="259.4" cy="541.2" r="2"/><circle class="S" cx="206.0" cy="605.2" r="2"/><circle class="D" cx="143.9" cy="577.2" r="2"/><circle class="X" cx="181.5" cy="603.6" r="2"/><circle class="S" cx="229.1" cy="620.8" r="2"/><circle class="D" cx="143.5" cy="579.8" r="2"/><circle class="A" cx="97.1" cy="463.4" r="2"/><circle class="A" cx="92.3" cy="459.4" r="2"/><circle class="A" cx="93.3" cy="456.4" r="2"/><circle class="H" cx="102.4" cy="489.5" r="2"/><circle class="A" cx="98.2" cy="457.4" r="2"/><circle class="A" cx="94.9" cy="459.0" r="2"/><circle class="D" cx="151.0" cy="562.6" r="2"/><circle class="N" cx="243.1" cy="585.3" r="2"/><circle class="N" cx="255.4" cy="619.4" r="2"/><circle class="D" cx="134.5" cy="572.6" r="2"/><circle class="A" cx="111.4" cy="464.1" r="2"/><circle class="P" cx="204.1" cy="513.4" r="2"/><circle class="H" cx="274.3" cy="549.2" r="2"/><circle class="P" cx="219.9" cy="532.2" r="2"/><circle class="H" cx="255.6" cy="544.3" r="2"/><circle class="D" cx="151.0" cy="553.1" r="2"/><circle class="P" cx="130.1" cy="590.7" r="2"/><circle class="H" cx="134.1" cy="586.6" r="2"/><circle class="P" cx="218.3" cy="524.3" r="2"/><circle class="P" cx="217.5" cy="523.5" r="2"/><circle class="H" cx="259.3" cy="540.8" r="2"/><circle class="N" cx="259.3" cy="618.8" r="2"/><circle class="S" cx="207.6" cy="604.5" r="2"/><circle class="D" cx="150.8" cy="572.6" r="2"/><circle class="S" cx="148.1" cy="591.8" r="2"/><circle class="H" cx="260.1" cy="546.1" r="2"/><circle class="N" cx="262.3" cy="619.9" r="2"/><circle class="A" cx="91.9" cy="456.7" r="2"/><circle class="N" cx="246.6" cy="626.4" r="2"/><circle class="S" cx="212.1" cy="617.0" r="2"/><circle class="X" cx="195.2" cy="595.2" r="2"/><circle class="X" cx="288.6" cy="579.8" r="2"/><circle class="D" cx="137.2" cy="577.6" r="2"/><circle class="X" cx="174.8" cy="601.8" r="2"/><circle class="P" cx="217.6" cy="520.0" r="2"/><circle class="S" cx="237.1" cy="668.2" r="2"/><circle class="X" cx="165.9" cy="601.3" r="2"/><circle class="X" cx="170.0" cy="599.9" r="2"/><circle class="H" cx="261.8" cy="543.0" r="2"/><circle class="S" cx="234.2" cy="623.4" r="2"/><circle class="N" cx="163.2" cy="546.8" r="2"/><circle class="D" cx="141.2" cy="576.1" r="2"/><circle class="D" cx="138.5" cy="575.3" r="2"/><circle class="S" cx="221.9" cy="631.2" r="2"/><circle class="S" cx="220.7" cy="608.4" r="2"/><circle class="X" cx="189.2" cy="600.7" r="2"/><circle class="H" cx="258.1" cy="548.4" r="2"/><circle class="N" cx="256.0" cy="624.5" r="2"/><circle class="A" cx="105.2" cy="455.4" r="2"/><circle class="N" cx="252.4" cy="618.8" r="2"/><circle class="P" cx="202.9" cy="510.7" r="2"/><circle class="X" cx="174.5" cy="600.8" r="2"/><circle class="N" cx="251.5" cy="627.5" r="2"/><circle class="X" cx="173.5" cy="601.6" r="2"/><circle class="D" cx="139.0" cy="579.5" r="2"/><circle class="N" cx="266.1" cy="630.6" r="2"/><circle class="P" cx="235.7" cy="523.6" r="2"/><circle class="P" cx="215.7" cy="521.2" r="2"/><circle class="H" cx="119.3" cy="476.5" r="2"/><circle class="P" cx="214.6" cy="529.8" r="2"/><circle class="P" cx="208.1" cy="509.9" r="2"/><circle class="X" cx="181.1" cy="604.5" r="2"/><circle class="S" cx="226.5" cy="608.8" r="2"/><circle class="P" cx="209.5" cy="515.3" r="2"/><circle class="X" cx="158.0" cy="594.6" r="2"/><circle class="X" cx="181.5" cy="599.3" r="2"/><circle class="D" cx="142.7" cy="572.7" r="2"/><circle class="X" cx="158.0" cy="601.4" r="2"/><circle class="D" cx="141.9" cy="581.7" r="2"/><circle class="P" cx="214.2" cy="516.8" r="2"/><circle class="D" cx="140.0" cy="582.1" r="2"/><circle class="X" cx="182.1" cy="604.6" r="2"/><circle class="D" cx="142.5" cy="579.2" r="2"/><circle class="S" cx="206.9" cy="622.4" r="2"/><circle class="X" cx="196.9" cy="591.4" r="2"/><circle class="N" cx="301.8" cy="570.5" r="2"/><circle class="P" cx="210.8" cy="533.6" r="2"/><circle class="A" cx="95.8" cy="455.0" r="2"/><circle class="S" cx="205.8" cy="604.8" r="2"/><circle class="X" cx="165.5" cy="598.4" r="2"/><circle class="S" cx="201.7" cy="605.9" r="2"/><circle class="A" cx="109.1" cy="466.2" r="2"/><circle class="N" cx="263.4" cy="646.2" r="2"/><circle class="H" cx="237.1" cy="550.7" r="2"/><circle class="A" cx="99.1" cy="459.1" r="2"/><circle class="P" cx="220.2" cy="527.5" r="2"/><circle class="X" cx="188.7" cy="605.9" r="2"/><circle class="D" cx="146.6" cy="581.9" r="2"/><circle class="A" cx="96.9" cy="458.8" r="2"/><circle class="S" cx="227.9" cy="613.7" r="2"/><circle class="S" cx="219.8" cy="616.7" r="2"/><circle class="P" cx="211.3" cy="515.8" r="2"/><circle class="X" cx="183.2" cy="581.2" r="2"/><circle class="H" cx="267.0" cy="537.8" r="2"/><circle class="X" cx="187.8" cy="603.1" r="2"/><circle class="X" cx="191.1" cy="604.6" r="2"/><circle class="H" cx="266.8" cy="536.6" r="2"/><circle class="P" cx="208.8" cy="521.7" r="2"/><circle class="P" cx="217.5" cy="515.2" r="2"/><circle class="D" cx="139.4" cy="570.2" r="2"/><circle class="X" cx="155.7" cy="565.6" r="2"/><circle class="A" cx="92.7" cy="461.6" r="2"/><circle class="N" cx="271.6" cy="607.4" r="2"/><circle class="X" cx="182.3" cy="611.3" r="2"/><circle class="A" cx="121.0" cy="469.7" r="2"/><circle class="S" cx="245.6" cy="561.0" r="2"/><circle class="H" cx="269.7" cy="537.4" r="2"/><circle class="X" cx="179.3" cy="605.3" r="2"/><circle class="A" cx="97.3" cy="456.5" r="2"/><circle class="S" cx="233.9" cy="623.7" r="2"/><circle class="P" cx="222.6" cy="521.2" r="2"/><circle class="P" cx="213.8" cy="519.1" r="2"/><circle class="H" cx="269.2" cy="540.4" r="2"/><circle class="D" cx="142.1" cy="576.0" r="2"/><circle class="P" cx="213.8" cy="526.4" r="2"/><circle class="A" cx="95.8" cy="459.6" r="2"/><circle class="N" cx="143.1" cy="597.6" r="2"/><circle class="X" cx="164.9" cy="599.9" r="2"/><circle class="H" cx="230.2" cy="542.4" r="2"/><circle class="P" cx="209.4" cy="519.7" r="2"/><circle class="X" cx="171.9" cy="599.3" r="2"/><circle class="A" cx="97.3" cy="455.5" r="2"/><circle class="X" cx="165.1" cy="603.9" r="2"/><circle class="D" cx="140.1" cy="577.2" r="2"/><circle class="H" cx="254.8" cy="543.1" r="2"/><circle class="X" cx="182.1" cy="597.1" r="2"/><circle class="X" cx="173.3" cy="597.1" r="2"/><circle class="P" cx="219.1" cy="522.8" r="2"/><circle class="D" cx="140.1" cy="579.8" r="2"/><circle class="X" cx="162.2" cy="557.8" r="2"/><circle class="S" cx="220.8" cy="614.4" r="2"/><circle class="A" cx="97.1" cy="460.7" r="2"/><circle class="X" cx="218.2" cy="596.2" r="2"/><circle class="D" cx="136.8" cy="576.4" r="2"/><circle class="H" cx="261.4" cy="536.5" r="2"/><circle class="P" cx="217.6" cy="527.8" r="2"/><circle class="P" cx="216.1" cy="519.8" r="2"/><circle class="S" cx="215.5" cy="602.9" r="2"/><circle class="D" cx="135.9" cy="573.3" r="2"/><circle class="X" cx="187.9" cy="600.0" r="2"/><circle class="P" cx="115.5" cy="466.4" r="2"/><circle class="A" cx="97.2" cy="459.4" r="2"/><circle class="P" cx="217.8" cy="530.9" r="2"/><circle class="S" cx="234.9" cy="665.8" r="2"/><circle class="D" cx="138.3" cy="585.4" r="2"/><circle class="D" cx="140.5" cy="576.0" r="2"/><circle class="A" cx="93.6" cy="460.9" r="2"/><circle class="N" cx="252.6" cy="621.6" r="2"/><circle class="A" cx="113.5" cy="464.3" r="2"/><circle class="A" cx="112.4" cy="464.3" r="2"/><circle class="H" cx="258.3" cy="536.5" r="2"/><circle class="P" cx="211.9" cy="538.6" r="2"/><circle class="N" cx="250.6" cy="622.1" r="2"/><circle class="D" cx="155.8" cy="550.4" r="2"/><circle class="D" cx="143.0" cy="575.4" r="2"/><circle class="S" cx="209.6" cy="602.1" r="2"/><circle class="P" cx="205.2" cy="535.2" r="2"/><circle class="S" cx="163.2" cy="580.7" r="2"/><circle class="S" cx="236.9" cy="625.6" r="2"/><circle class="D" cx="142.5" cy="576.0" r="2"/><circle class="H" cx="125.5" cy="465.2" r="2"/><circle class="A" cx="93.8" cy="457.5" r="2"/><circle class="S" cx="215.2" cy="615.9" r="2"/><circle class="X" cx="183.9" cy="599.6" r="2"/><circle class="H" cx="282.8" cy="555.6" r="2"/><circle class="N" cx="265.6" cy="620.7" r="2"/><circle class="A" cx="105.4" cy="460.4" r="2"/><circle class="P" cx="215.0" cy="524.0" r="2"/><circle class="N" cx="261.0" cy="628.2" r="2"/><circle class="D" cx="158.1" cy="575.7" r="2"/><circle class="P" cx="213.8" cy="521.1" r="2"/><circle class="S" cx="234.8" cy="667.2" r="2"/><circle class="D" cx="144.2" cy="579.3" r="2"/><circle class="P" cx="217.3" cy="517.0" r="2"/><circle class="S" cx="211.1" cy="608.4" r="2"/><circle class="S" cx="234.0" cy="626.2" r="2"/><circle class="P" cx="216.5" cy="518.2" r="2"/><circle class="D" cx="141.1" cy="580.6" r="2"/><circle class="S" cx="232.2" cy="627.0" r="2"/><circle class="N" cx="264.7" cy="633.3" r="2"/><circle class="A" cx="100.2" cy="456.3" r="2"/><circle class="P" cx="214.5" cy="518.3" r="2"/><circle class="S" cx="235.3" cy="630.3" r="2"/><circle class="H" cx="257.5" cy="534.9" r="2"/><circle class="N" cx="263.0" cy="622.1" r="2"/><circle class="N" cx="278.9" cy="616.3" r="2"/><circle class="P" cx="221.2" cy="517.0" r="2"/><circle class="N" cx="270.8" cy="612.2" r="2"/><circle class="H" cx="250.7" cy="548.9" r="2"/><circle class="A" cx="88.7" cy="452.5" r="2"/><circle class="H" cx="253.5" cy="545.1" r="2"/><circle class="H" cx="268.5" cy="538.0" r="2"/><circle class="H" cx="254.4" cy="544.8" r="2"/><circle class="A" cx="93.7" cy="458.6" r="2"/><circle class="X" cx="170.3" cy="601.2" r="2"/><circle class="A" cx="98.2" cy="452.5" r="2"/><circle class="N" cx="256.2" cy="637.7" r="2"/><circle class="N" cx="269.5" cy="611.7" r="2"/><circle class="X" cx="171.2" cy="599.8" r="2"/><circle class="P" cx="211.3" cy="517.4" r="2"/><circle class="A" cx="94.3" cy="454.5" r="2"/><circle class="D" cx="156.2" cy="574.0" r="2"/><circle class="N" cx="277.1" cy="622.7" r="2"/><circle class="N" cx="262.7" cy="621.9" r="2"/><circle class="N" cx="256.7" cy="618.3" r="2"/><circle class="S" cx="216.7" cy="611.7" r="2"/><circle class="P" cx="214.3" cy="519.5" r="2"/><circle class="D" cx="143.4" cy="580.6" r="2"/><circle class="H" cx="253.9" cy="545.3" r="2"/><circle class="X" cx="165.4" cy="596.8" r="2"/><circle class="S" cx="235.5" cy="619.6" r="2"/><circle class="P" cx="218.5" cy="526.0" r="2"/><circle class="X" cx="190.2" cy="603.8" r="2"/><circle class="H" cx="143.1" cy="479.5" r="2"/><circle class="S" cx="211.8" cy="611.0" r="2"/><circle class="H" cx="257.2" cy="541.1" r="2"/><circle class="P" cx="213.2" cy="521.4" r="2"/><circle class="N" cx="282.9" cy="621.9" r="2"/><circle class="D" cx="142.5" cy="579.1" r="2"/><circle class="A" cx="102.7" cy="458.5" r="2"/><circle class="H" cx="172.0" cy="520.3" r="2"/><circle class="H" cx="263.6" cy="537.1" r="2"/><circle class="N" cx="271.8" cy="618.8" r="2"/><circle class="P" cx="193.2" cy="501.1" r="2"/><circle class="X" cx="291.8" cy="545.6" r="2"/><circle class="H" cx="241.2" cy="555.9" r="2"/><circle class="A" cx="130.0" cy="468.7" r="2"/><circle class="D" cx="141.4" cy="576.1" r="2"/><circle class="D" cx="146.6" cy="574.6" r="2"/><circle class="A" cx="100.3" cy="460.1" r="2"/><circle class="D" cx="143.0" cy="571.3" r="2"/><circle class="P" cx="216.7" cy="526.3" r="2"/><circle class="X" cx="192.6" cy="591.0" r="2"/><circle class="N" cx="273.9" cy="625.1" r="2"/><circle class="A" cx="95.2" cy="460.0" r="2"/><circle class="S" cx="207.0" cy="606.8" r="2"/><circle class="D" cx="145.9" cy="573.3" r="2"/><circle class="S" cx="235.0" cy="619.2" r="2"/><circle class="A" cx="100.8" cy="455.8" r="2"/><circle class="A" cx="102.0" cy="462.3" r="2"/><circle class="A" cx="100.1" cy="454.7" r="2"/><circle class="P" cx="179.0" cy="473.2" r="2"/><circle class="X" cx="187.2" cy="610.3" r="2"/><circle class="P" cx="204.5" cy="530.6" r="2"/><circle class="X" cx="204.5" cy="599.0" r="2"/><circle class="D" cx="149.7" cy="573.9" r="2"/><circle class="A" cx="100.4" cy="459.8" r="2"/><circle class="A" cx="102.9" cy="471.5" r="2"/><circle class="N" cx="260.2" cy="636.7" r="2"/><circle class="S" cx="225.2" cy="608.9" r="2"/><circle class="D" cx="134.6" cy="578.4" r="2"/><circle class="N" cx="251.9" cy="621.3" r="2"/><circle class="D" cx="149.3" cy="578.5" r="2"/><circle class="A" cx="108.5" cy="463.8" r="2"/><circle class="A" cx="96.4" cy="456.4" r="2"/><circle class="H" cx="200.7" cy="522.3" r="2"/><circle class="P" cx="217.5" cy="522.8" r="2"/><circle class="N" cx="269.2" cy="630.9" r="2"/><circle class="S" cx="233.5" cy="619.0" r="2"/><circle class="P" cx="212.9" cy="519.3" r="2"/><circle class="X" cx="179.8" cy="605.0" r="2"/><circle class="X" cx="175.2" cy="600.5" r="2"/><circle class="X" cx="176.5" cy="604.9" r="2"/><circle class="D" cx="144.5" cy="575.7" r="2"/><circle class="S" cx="229.8" cy="613.1" r="2"/><circle class="A" cx="126.5" cy="470.8" r="2"/><circle class="X" cx="172.4" cy="596.7" r="2"/><circle class="S" cx="239.7" cy="663.4" r="2"/><circle class="X" cx="173.4" cy="598.2" r="2"/><circle class="H" cx="232.0" cy="558.3" r="2"/><circle class="P" cx="209.0" cy="526.6" r="2"/><circle class="H" cx="132.6" cy="570.5" r="2"/><circle class="N" cx="264.7" cy="622.0" r="2"/><circle class="N" cx="249.7" cy="618.2" r="2"/><circle class="H" cx="253.8" cy="543.1" r="2"/><circle class="H" cx="262.9" cy="546.2" r="2"/><circle class="N" cx="262.0" cy="621.9" r="2"/><circle class="S" cx="128.0" cy="573.2" r="2"/><circle class="H" cx="147.1" cy="583.5" r="2"/><circle class="D" cx="135.3" cy="575.3" r="2"/><circle class="H" cx="259.8" cy="544.9" r="2"/><circle class="D" cx="144.9" cy="576.3" r="2"/><circle class="H" cx="130.9" cy="585.4" r="2"/><circle class="A" cx="99.6" cy="458.0" r="2"/><circle class="H" cx="251.5" cy="545.8" r="2"/><circle class="X" cx="168.9" cy="603.4" r="2"/><circle class="P" cx="216.0" cy="522.2" r="2"/><circle class="H" cx="260.8" cy="544.4" r="2"/><circle class="S" cx="223.0" cy="605.1" r="2"/><circle class="X" cx="188.5" cy="601.9" r="2"/><circle class="X" cx="165.7" cy="568.1" r="2"/><circle class="S" cx="230.8" cy="614.3" r="2"/><circle class="S" cx="221.0" cy="608.6" r="2"/><circle class="P" cx="183.2" cy="487.4" r="2"/><circle class="H" cx="240.4" cy="554.6" r="2"/><circle class="S" cx="223.4" cy="611.5" r="2"/><circle class="X" cx="181.5" cy="607.2" r="2"/><circle class="A" cx="120.6" cy="468.2" r="2"/><circle class="D" cx="145.7" cy="580.4" r="2"/><circle class="S" cx="236.9" cy="623.3" r="2"/><circle class="X" cx="176.6" cy="596.8" r="2"/><circle class="A" cx="108.4" cy="462.8" r="2"/><circle class="N" cx="261.3" cy="615.9" r="2"/><circle class="D" cx="139.7" cy="580.8" r="2"/><circle class="S" cx="212.3" cy="604.1" r="2"/><circle class="P" cx="197.0" cy="542.3" r="2"/><circle class="H" cx="128.8" cy="538.8" r="2"/><circle class="N" cx="256.7" cy="640.5" r="2"/><circle class="A" cx="90.0" cy="452.6" r="2"/><circle class="P" cx="220.3" cy="525.6" r="2"/><circle class="N" cx="261.4" cy="625.2" r="2"/><circle class="S" cx="209.7" cy="608.9" r="2"/><circle class="N" cx="269.2" cy="623.6" r="2"/><circle class="A" cx="93.7" cy="460.5" r="2"/><circle class="D" cx="143.0" cy="578.3" r="2"/><circle class="D" cx="142.0" cy="575.8" r="2"/><circle class="H" cx="244.1" cy="558.9" r="2"/><circle class="P" cx="216.2" cy="520.5" r="2"/><circle class="N" cx="273.6" cy="624.5" r="2"/><circle class="X" cx="290.6" cy="590.5" r="2"/><circle class="N" cx="268.6" cy="611.0" r="2"/><circle class="P" cx="217.0" cy="520.1" r="2"/><circle class="H" cx="280.2" cy="552.0" r="2"/><circle class="X" cx="185.1" cy="604.7" r="2"/><circle class="P" cx="213.6" cy="515.8" r="2"/><circle class="D" cx="136.4" cy="578.7" r="2"/><circle class="H" cx="262.6" cy="540.5" r="2"/><circle class="D" cx="143.5" cy="574.2" r="2"/><circle class="S" cx="209.3" cy="605.4" r="2"/><circle class="P" cx="214.3" cy="526.1" r="2"/><circle class="P" cx="216.3" cy="521.9" r="2"/><circle class="A" cx="91.6" cy="457.5" r="2"/><circle class="H" cx="246.8" cy="550.2" r="2"/><circle class="X" cx="171.5" cy="592.8" r="2"/><circle class="S" cx="217.8" cy="604.5" r="2"/><circle class="X" cx="186.6" cy="602.2" r="2"/><circle class="A" cx="119.6" cy="468.9" r="2"/><circle class="H" cx="257.9" cy="549.3" r="2"/><circle class="P" cx="209.7" cy="520.0" r="2"/><circle class="D" cx="136.3" cy="573.8" r="2"/><circle class="H" cx="250.2" cy="554.6" r="2"/><circle class="N" cx="263.7" cy="616.2" r="2"/><circle class="H" cx="139.3" cy="476.5" r="2"/><circle class="N" cx="259.4" cy="643.6" r="2"/><circle class="D" cx="142.6" cy="573.2" r="2"/><circle class="A" cx="121.5" cy="465.0" r="2"/><circle class="H" cx="273.4" cy="544.2" r="2"/><circle class="N" cx="250.6" cy="577.8" r="2"/><circle class="N" cx="223.2" cy="636.2" r="2"/><circle class="P" cx="210.7" cy="514.9" r="2"/><circle class="A" cx="92.9" cy="454.9" r="2"/><circle class="P" cx="212.1" cy="524.1" r="2"/><circle class="N" cx="253.6" cy="627.6" r="2"/><circle class="S" cx="205.3" cy="605.8" r="2"/><circle class="N" cx="275.6" cy="524.8" r="2"/><circle class="S" cx="240.6" cy="666.8" r="2"/><circle class="N" cx="237.0" cy="624.4" r="2"/><circle class="X" cx="293.1" cy="586.0" r="2"/><circle class="D" cx="134.8" cy="578.4" r="2"/><circle class="A" cx="97.6" cy="459.9" r="2"/><circle class="A" cx="94.9" cy="462.9" r="2"/><circle class="S" cx="220.3" cy="607.0" r="2"/><circle class="X" cx="223.7" cy="579.3" r="2"/><circle class="P" cx="208.0" cy="509.4" r="2"/><circle class="D" cx="132.5" cy="582.3" r="2"/><circle class="A" cx="93.2" cy="458.4" r="2"/><circle class="N" cx="275.4" cy="615.1" r="2"/><circle class="X" cx="187.9" cy="603.4" r="2"/><circle class="P" cx="210.7" cy="518.5" r="2"/><circle class="S" cx="210.6" cy="609.5" r="2"/><circle class="X" cx="169.9" cy="612.0" r="2"/><circle class="A" cx="93.0" cy="457.0" r="2"/><circle class="S" cx="232.6" cy="675.6" r="2"/><circle class="A" cx="93.1" cy="458.6" r="2"/><circle class="N" cx="259.2" cy="626.1" r="2"/><circle class="N" cx="260.0" cy="649.4" r="2"/><circle class="H" cx="262.3" cy="538.7" r="2"/><circle class="X" cx="162.6" cy="602.2" r="2"/><circle class="D" cx="146.4" cy="575.0" r="2"/><circle class="P" cx="199.5" cy="556.0" r="2"/><circle class="S" cx="206.1" cy="605.4" r="2"/><circle class="H" cx="261.9" cy="538.5" r="2"/><circle class="A" cx="95.1" cy="459.1" r="2"/><circle class="A" cx="97.6" cy="455.4" r="2"/><circle class="N" cx="263.8" cy="629.2" r="2"/><circle class="H" cx="257.4" cy="539.3" r="2"/><circle class="D" cx="150.6" cy="576.0" r="2"/><circle class="H" cx="269.2" cy="546.2" r="2"/><circle class="D" cx="139.1" cy="576.7" r="2"/><circle class="S" cx="163.7" cy="583.8" r="2"/><circle class="H" cx="264.6" cy="537.1" r="2"/><circle class="D" cx="136.4" cy="579.4" r="2"/><circle class="X" cx="180.7" cy="601.6" r="2"/><circle class="X" cx="264.4" cy="603.2" r="2"/><circle class="H" cx="237.9" cy="550.3" r="2"/><circle class="P" cx="218.0" cy="529.4" r="2"/><circle class="N" cx="261.1" cy="635.0" r="2"/><circle class="P" cx="213.7" cy="514.7" r="2"/><circle class="N" cx="270.8" cy="608.8" r="2"/><circle class="N" cx="265.4" cy="617.6" r="2"/><circle class="P" cx="211.4" cy="522.7" r="2"/><circle class="S" cx="238.2" cy="667.0" r="2"/><circle class="H" cx="141.2" cy="577.7" r="2"/><circle class="P" cx="222.4" cy="520.4" r="2"/><circle class="D" cx="140.2" cy="580.1" r="2"/><circle class="A" cx="95.7" cy="457.5" r="2"/><circle class="H" cx="237.3" cy="555.4" r="2"/><circle class="A" cx="98.3" cy="458.0" r="2"/><circle class="H" cx="264.2" cy="539.1" r="2"/><circle class="N" cx="255.1" cy="642.9" r="2"/><circle class="S" cx="210.9" cy="607.7" r="2"/><circle class="A" cx="100.8" cy="456.4" r="2"/><circle class="S" cx="218.8" cy="608.5" r="2"/><circle class="A" cx="91.0" cy="458.0" r="2"/><circle class="D" cx="136.5" cy="576.6" r="2"/><circle class="H" cx="240.1" cy="552.2" r="2"/><circle class="H" cx="264.4" cy="542.4" r="2"/><circle class="D" cx="141.3" cy="582.1" r="2"/><circle class="D" cx="138.6" cy="567.3" r="2"/><circle class="P" cx="204.9" cy="509.9" r="2"/><circle class="S" cx="136.8" cy="602.1" r="2"/><circle class="H" cx="269.9" cy="539.3" r="2"/><circle class="H" cx="263.2" cy="541.6" r="2"/><circle class="H" cx="264.8" cy="546.8" r="2"/><circle class="N" cx="264.5" cy="623.7" r="2"/><circle class="D" cx="150.0" cy="566.8" r="2"/><circle class="P" cx="214.6" cy="525.2" r="2"/><circle class="S" cx="231.7" cy="634.5" r="2"/><circle class="D" cx="135.5" cy="581.3" r="2"/><circle class="D" cx="149.7" cy="575.1" r="2"/><circle class="H" cx="257.3" cy="554.6" r="2"/><circle class="D" cx="135.9" cy="579.6" r="2"/><circle class="A" cx="99.8" cy="458.5" r="2"/><circle class="D" cx="142.9" cy="579.8" r="2"/><circle class="P" cx="215.0" cy="521.4" r="2"/><circle class="P" cx="220.2" cy="521.1" r="2"/><circle class="P" cx="214.7" cy="516.4" r="2"/><circle class="N" cx="277.2" cy="610.6" r="2"/><circle class="H" cx="245.4" cy="552.8" r="2"/><circle class="P" cx="213.3" cy="522.0" r="2"/><circle class="S" cx="216.5" cy="605.7" r="2"/><circle class="H" cx="251.0" cy="555.7" r="2"/><circle class="S" cx="209.4" cy="608.3" r="2"/><circle class="H" cx="131.8" cy="557.6" r="2"/><circle class="D" cx="142.0" cy="577.4" r="2"/><circle class="N" cx="275.3" cy="627.6" r="2"/><circle class="P" cx="209.4" cy="535.3" r="2"/><circle class="H" cx="263.4" cy="545.4" r="2"/><circle class="A" cx="96.1" cy="456.5" r="2"/><circle class="X" cx="190.1" cy="607.0" r="2"/><circle class="H" cx="261.5" cy="548.4" r="2"/><circle class="N" cx="267.8" cy="621.8" r="2"/><circle class="X" cx="158.4" cy="602.7" r="2"/><circle class="N" cx="196.2" cy="614.9" r="2"/><circle class="A" cx="92.1" cy="459.4" r="2"/><circle class="X" cx="196.5" cy="597.9" r="2"/><circle class="D" cx="140.4" cy="574.8" r="2"/><circle class="S" cx="210.7" cy="626.2" r="2"/><circle class="P" cx="215.0" cy="518.7" r="2"/><circle class="P" cx="215.4" cy="522.0" r="2"/><circle class="H" cx="264.1" cy="540.1" r="2"/><circle class="A" cx="94.9" cy="456.3" r="2"/><circle class="S" cx="234.0" cy="635.9" r="2"/><circle class="N" cx="225.7" cy="635.4" r="2"/><circle class="S" cx="235.3" cy="670.8" r="2"/><circle class="X" cx="178.8" cy="591.2" r="2"/><circle class="D" cx="144.7" cy="579.4" r="2"/><circle class="P" cx="208.6" cy="525.0" r="2"/><circle class="H" cx="258.8" cy="542.2" r="2"/><circle class="A" cx="129.7" cy="470.1" r="2"/><circle class="S" cx="223.3" cy="608.4" r="2"/><circle class="H" cx="249.3" cy="553.2" r="2"/><circle class="D" cx="148.0" cy="574.1" r="2"/><circle class="P" cx="215.7" cy="530.0" r="2"/><circle class="N" cx="258.1" cy="554.0" r="2"/><circle class="H" cx="280.6" cy="551.5" r="2"/><circle class="A" cx="98.8" cy="453.6" r="2"/><circle class="X" cx="182.0" cy="603.6" r="2"/><circle class="N" cx="260.1" cy="621.4" r="2"/><circle class="X" cx="179.5" cy="604.7" r="2"/><circle class="D" cx="143.2" cy="581.6" r="2"/><circle class="H" cx="254.9" cy="542.5" r="2"/><circle class="A" cx="96.7" cy="460.7" r="2"/><circle class="D" cx="146.9" cy="568.9" r="2"/><circle class="S" cx="234.8" cy="672.6" r="2"/><circle class="A" cx="96.3" cy="455.2" r="2"/><circle class="S" cx="232.1" cy="673.0" r="2"/><circle class="D" cx="133.1" cy="576.5" r="2"/><circle class="D" cx="145.4" cy="575.0" r="2"/><circle class="N" cx="254.3" cy="625.5" r="2"/><circle class="A" cx="98.5" cy="451.4" r="2"/><circle class="H" cx="267.5" cy="543.4" r="2"/><circle class="N" cx="267.7" cy="625.6" r="2"/><circle class="P" cx="212.0" cy="516.2" r="2"/><circle class="X" cx="181.4" cy="603.8" r="2"/><circle class="P" cx="212.3" cy="512.0" r="2"/><circle class="P" cx="222.6" cy="524.2" r="2"/><circle class="P" cx="212.2" cy="513.0" r="2"/><circle class="X" cx="173.4" cy="600.2" r="2"/><circle class="P" cx="164.4" cy="481.5" r="2"/><circle class="A" cx="99.1" cy="457.6" r="2"/><circle class="X" cx="197.0" cy="594.1" r="2"/><circle class="S" cx="226.2" cy="607.0" r="2"/><circle class="X" cx="196.5" cy="598.4" r="2"/><circle class="S" cx="220.9" cy="610.4" r="2"/><circle class="A" cx="114.9" cy="465.4" r="2"/><circle class="N" cx="267.2" cy="641.4" r="2"/><circle class="P" cx="186.5" cy="472.9" r="2"/><circle class="N" cx="258.0" cy="628.0" r="2"/><circle class="P" cx="216.2" cy="515.9" r="2"/><circle class="P" cx="203.2" cy="496.1" r="2"/><circle class="X" cx="169.2" cy="597.1" r="2"/><circle class="D" cx="135.7" cy="575.5" r="2"/><circle class="D" cx="140.0" cy="574.2" r="2"/><circle class="A" cx="94.6" cy="458.0" r="2"/><circle class="H" cx="183.2" cy="487.4" r="2"/><circle class="S" cx="206.4" cy="606.5" r="2"/><circle class="S" cx="222.7" cy="618.8" r="2"/><circle class="X" cx="178.0" cy="603.6" r="2"/><circle class="H" cx="271.0" cy="542.2" r="2"/><circle class="P" cx="216.6" cy="520.4" r="2"/><circle class="X" cx="176.8" cy="601.0" r="2"/><circle class="D" cx="137.7" cy="575.7" r="2"/><circle class="H" cx="238.7" cy="555.5" r="2"/><circle class="A" cx="121.1" cy="465.9" r="2"/><circle class="X" cx="169.5" cy="565.6" r="2"/><circle class="X" cx="179.6" cy="606.3" r="2"/><circle class="P" cx="206.9" cy="517.2" r="2"/><circle class="S" cx="231.7" cy="629.4" r="2"/><circle class="S" cx="232.6" cy="626.1" r="2"/><circle class="H" cx="264.2" cy="545.0" r="2"/><circle class="P" cx="215.5" cy="515.1" r="2"/><circle class="N" cx="262.9" cy="634.7" r="2"/><circle class="X" cx="240.6" cy="610.0" r="2"/><circle class="P" cx="196.1" cy="518.5" r="2"/><circle class="A" cx="94.9" cy="459.9" r="2"/><circle class="X" cx="177.1" cy="601.5" r="2"/><circle class="S" cx="230.0" cy="608.0" r="2"/><circle class="H" cx="266.7" cy="544.9" r="2"/><circle class="H" cx="263.1" cy="545.6" r="2"/><circle class="H" cx="257.1" cy="556.1" r="2"/><circle class="A" cx="99.0" cy="455.2" r="2"/><circle class="H" cx="263.0" cy="538.2" r="2"/><circle class="N" cx="262.9" cy="633.7" r="2"/><circle class="P" cx="208.9" cy="515.0" r="2"/><circle class="S" cx="226.2" cy="610.5" r="2"/><circle class="X" cx="284.3" cy="590.5" r="2"/><circle class="N" cx="254.6" cy="616.2" r="2"/><circle class="P" cx="207.7" cy="518.3" r="2"/><circle class="S" cx="221.1" cy="605.6" r="2"/><circle class="X" cx="179.8" cy="606.9" r="2"/><circle class="P" cx="194.5" cy="491.1" r="2"/><circle class="H" cx="110.5" cy="524.2" r="2"/><circle class="H" cx="262.5" cy="537.4" r="2"/><circle class="P" cx="215.7" cy="513.7" r="2"/><circle class="P" cx="192.7" cy="508.5" r="2"/><circle class="A" cx="97.3" cy="453.9" r="2"/><circle class="D" cx="154.7" cy="572.2" r="2"/><circle class="P" cx="200.7" cy="522.3" r="2"/><circle class="X" cx="196.9" cy="596.1" r="2"/><circle class="S" cx="230.1" cy="675.0" r="2"/><circle class="D" cx="138.0" cy="579.8" r="2"/><circle class="S" cx="234.5" cy="623.9" r="2"/><circle class="A" cx="97.2" cy="456.3" r="2"/><circle class="D" cx="141.1" cy="579.6" r="2"/><circle class="H" cx="261.0" cy="548.0" r="2"/><circle class="P" cx="206.4" cy="511.7" r="2"/><circle class="A" cx="112.8" cy="466.1" r="2"/><circle class="X" cx="189.6" cy="603.1" r="2"/><circle class="S" cx="240.3" cy="666.7" r="2"/><circle class="N" cx="256.2" cy="626.0" r="2"/><circle class="S" cx="218.5" cy="626.9" r="2"/><circle class="S" cx="241.0" cy="658.5" r="2"/><circle class="N" cx="257.1" cy="630.2" r="2"/><circle class="N" cx="285.5" cy="623.6" r="2"/><circle class="S" cx="207.9" cy="602.3" r="2"/><circle class="N" cx="267.8" cy="625.3" r="2"/><circle class="H" cx="123.0" cy="482.3" r="2"/><circle class="P" cx="222.8" cy="526.7" r="2"/><circle class="A" cx="97.6" cy="459.9" r="2"/><circle class="D" cx="132.9" cy="576.5" r="2"/><circle class="S" cx="230.6" cy="611.1" r="2"/><circle class="S" cx="236.6" cy="666.9" r="2"/><circle class="D" cx="146.8" cy="575.3" r="2"/><circle class="X" cx="223.7" cy="594.0" r="2"/><circle class="N" cx="271.4" cy="534.8" r="2"/><circle class="X" cx="162.7" cy="601.8" r="2"/><circle class="N" cx="258.5" cy="652.8" r="2"/><circle class="D" cx="135.8" cy="572.4" r="2"/><circle class="P" cx="221.9" cy="527.5" r="2"/><circle class="X" cx="167.3" cy="604.0" r="2"/><circle class="X" cx="176.4" cy="600.4" r="2"/><circle class="D" cx="137.7" cy="578.8" r="2"/><circle class="A" cx="97.9" cy="453.7" r="2"/><circle class="S" cx="232.2" cy="632.9" r="2"/><circle class="H" cx="250.1" cy="556.1" r="2"/><circle class="P" cx="190.7" cy="494.4" r="2"/><circle class="N" cx="260.1" cy="650.2" r="2"/><circle class="P" cx="130.6" cy="570.6" r="2"/><circle class="P" cx="201.2" cy="512.4" r="2"/><circle class="A" cx="90.0" cy="452.8" r="2"/><circle class="P" cx="211.8" cy="519.2" r="2"/><circle class="D" cx="139.2" cy="571.9" r="2"/><circle class="H" cx="244.4" cy="543.0" r="2"/><circle class="A" cx="94.5" cy="455.6" r="2"/><circle class="P" cx="214.4" cy="520.8" r="2"/><circle class="A" cx="99.3" cy="459.7" r="2"/><circle class="X" cx="246.9" cy="608.7" r="2"/><circle class="H" cx="254.6" cy="541.1" r="2"/><circle class="D" cx="138.5" cy="577.9" r="2"/><circle class="A" cx="100.4" cy="462.2" r="2"/><circle class="S" cx="232.1" cy="630.7" r="2"/><circle class="A" cx="96.7" cy="461.3" r="2"/><circle class="A" cx="98.5" cy="453.7" r="2"/><circle class="H" cx="233.8" cy="555.8" r="2"/><circle class="A" cx="95.2" cy="455.3" r="2"/><circle class="D" cx="152.9" cy="577.2" r="2"/><circle class="A" cx="93.2" cy="455.3" r="2"/><circle class="P" cx="211.0" cy="510.4" r="2"/><circle class="X" cx="171.8" cy="595.9" r="2"/><circle class="P" cx="209.5" cy="513.1" r="2"/><circle class="X" cx="244.4" cy="611.2" r="2"/><circle class="P" cx="210.6" cy="522.5" r="2"/><circle class="N" cx="273.8" cy="620.4" r="2"/><circle class="S" cx="231.9" cy="623.8" r="2"/><circle class="N" cx="249.9" cy="626.0" r="2"/><circle class="N" cx="273.5" cy="629.5" r="2"/><circle class="N" cx="165.7" cy="554.8" r="2"/><circle class="S" cx="208.0" cy="603.5" r="2"/><circle class="X" cx="211.9" cy="588.7" r="2"/><circle class="N" cx="260.2" cy="649.5" r="2"/><circle class="N" cx="251.3" cy="629.5" r="2"/><circle class="S" cx="226.6" cy="612.3" r="2"/><circle class="X" cx="171.4" cy="582.2" r="2"/><circle class="N" cx="279.0" cy="612.8" r="2"/><circle class="X" cx="173.8" cy="602.4" r="2"/><circle class="S" cx="236.8" cy="669.8" r="2"/><circle class="N" cx="258.9" cy="651.9" r="2"/><circle class="S" cx="206.7" cy="604.4" r="2"/><circle class="H" cx="236.8" cy="550.7" r="2"/><circle class="S" cx="202.9" cy="607.3" r="2"/><circle class="N" cx="269.8" cy="627.8" r="2"/><circle class="A" cx="92.2" cy="455.3" r="2"/><circle class="N" cx="259.8" cy="631.3" r="2"/><circle class="N" cx="264.8" cy="616.0" r="2"/><circle class="H" cx="262.5" cy="537.4" r="2"/><circle class="X" cx="185.9" cy="608.1" r="2"/><circle class="S" cx="232.9" cy="625.8" r="2"/><circle class="X" cx="160.7" cy="566.9" r="2"/><circle class="D" cx="144.3" cy="573.0" r="2"/><circle class="P" cx="219.2" cy="522.5" r="2"/><circle class="H" cx="237.8" cy="553.6" r="2"/><circle class="A" cx="96.1" cy="452.9" r="2"/><circle class="A" cx="95.1" cy="452.9" r="2"/><circle class="A" cx="95.6" cy="454.7" r="2"/><circle class="N" cx="284.6" cy="605.5" r="2"/><circle class="H" cx="247.0" cy="549.6" r="2"/><circle class="P" cx="212.7" cy="521.8" r="2"/><circle class="N" cx="261.2" cy="625.0" r="2"/><circle class="S" cx="218.6" cy="603.0" r="2"/><circle class="N" cx="278.8" cy="619.2" r="2"/><circle class="X" cx="169.0" cy="595.5" r="2"/><circle class="D" cx="142.9" cy="577.4" r="2"/><circle class="H" cx="276.4" cy="545.6" r="2"/><circle class="N" cx="259.9" cy="647.4" r="2"/><circle class="X" cx="187.5" cy="602.8" r="2"/><circle class="P" cx="211.4" cy="521.9" r="2"/><circle class="A" cx="123.0" cy="471.0" r="2"/><circle class="H" cx="233.1" cy="556.4" r="2"/><circle class="X" cx="283.8" cy="590.0" r="2"/><circle class="A" cx="116.6" cy="466.6" r="2"/><circle class="P" cx="218.0" cy="531.8" r="2"/><circle class="D" cx="146.1" cy="573.9" r="2"/><circle class="X" cx="193.9" cy="604.1" r="2"/><circle class="P" cx="216.1" cy="520.1" r="2"/><circle class="A" cx="119.6" cy="466.3" r="2"/><circle class="X" cx="178.7" cy="605.3" r="2"/><circle class="S" cx="209.3" cy="606.1" r="2"/><circle class="X" cx="179.2" cy="604.3" r="2"/><circle class="A" cx="93.5" cy="455.2" r="2"/><circle class="D" cx="141.4" cy="575.1" r="2"/><circle class="P" cx="216.9" cy="519.4" r="2"/><circle class="P" cx="215.4" cy="517.3" r="2"/><circle class="P" cx="204.4" cy="520.3" r="2"/><circle class="A" cx="97.4" cy="455.7" r="2"/><circle class="S" cx="208.7" cy="605.1" r="2"/><circle class="S" cx="224.3" cy="621.7" r="2"/><circle class="N" cx="258.6" cy="647.3" r="2"/><circle class="H" cx="101.2" cy="523.4" r="2"/><circle class="D" cx="141.1" cy="573.8" r="2"/><circle class="D" cx="141.1" cy="567.0" r="2"/><circle class="P" cx="224.0" cy="525.0" r="2"/><circle class="N" cx="211.9" cy="579.3" r="2"/><circle class="D" cx="143.6" cy="577.3" r="2"/><circle class="S" cx="225.1" cy="609.8" r="2"/><circle class="D" cx="131.9" cy="577.3" r="2"/><circle class="X" cx="182.2" cy="607.3" r="2"/><circle class="H" cx="247.6" cy="554.4" r="2"/><circle class="S" cx="232.6" cy="628.3" r="2"/><circle class="S" cx="235.7" cy="671.7" r="2"/><circle class="X" cx="177.1" cy="591.9" r="2"/><circle class="X" cx="191.3" cy="599.3" r="2"/><circle class="X" cx="180.1" cy="601.9" r="2"/><circle class="P" cx="218.8" cy="518.7" r="2"/><circle class="S" cx="236.8" cy="627.4" r="2"/><circle class="X" cx="182.6" cy="602.7" r="2"/><circle class="X" cx="175.2" cy="604.9" r="2"/><circle class="P" cx="197.0" cy="533.6" r="2"/><circle class="S" cx="208.8" cy="603.7" r="2"/><circle class="X" cx="170.7" cy="570.6" r="2"/><circle class="A" cx="97.6" cy="455.6" r="2"/><circle class="N" cx="240.3" cy="626.7" r="2"/><circle class="A" cx="100.4" cy="453.7" r="2"/><circle class="X" cx="182.8" cy="605.2" r="2"/><circle class="N" cx="143.1" cy="524.9" r="2"/><circle class="A" cx="114.1" cy="465.9" r="2"/><circle class="H" cx="261.4" cy="536.9" r="2"/><circle class="N" cx="251.9" cy="581.2" r="2"/><circle class="P" cx="213.2" cy="516.3" r="2"/><circle class="X" cx="246.9" cy="612.5" r="2"/><circle class="N" cx="242.8" cy="625.0" r="2"/><circle class="X" cx="169.8" cy="563.1" r="2"/><circle class="N" cx="257.8" cy="646.4" r="2"/><circle class="H" cx="257.5" cy="541.4" r="2"/><circle class="H" cx="265.7" cy="543.9" r="2"/><circle class="S" cx="209.3" cy="604.7" r="2"/><circle class="A" cx="118.3" cy="466.2" r="2"/><circle class="A" cx="98.9" cy="457.7" r="2"/><circle class="N" cx="271.3" cy="621.8" r="2"/><circle class="N" cx="255.5" cy="623.9" r="2"/><circle class="H" cx="262.4" cy="538.8" r="2"/><circle class="N" cx="269.4" cy="620.1" r="2"/><circle class="P" cx="215.1" cy="517.2" r="2"/><circle class="N" cx="252.4" cy="618.1" r="2"/><circle class="H" cx="245.9" cy="550.5" r="2"/><circle class="N" cx="282.7" cy="611.0" r="2"/><circle class="P" cx="215.3" cy="514.3" r="2"/><circle class="P" cx="210.7" cy="501.9" r="2"/><circle class="X" cx="184.4" cy="604.3" r="2"/><circle class="X" cx="195.4" cy="618.7" r="2"/><circle class="P" cx="198.6" cy="514.1" r="2"/><circle class="P" cx="199.9" cy="510.9" r="2"/><circle class="S" cx="209.7" cy="602.0" r="2"/><circle class="S" cx="217.7" cy="607.5" r="2"/><circle class="P" cx="205.2" cy="517.9" r="2"/><circle class="S" cx="203.8" cy="601.2" r="2"/><circle class="H" cx="220.1" cy="553.0" r="2"/><circle class="S" cx="204.7" cy="605.3" r="2"/><circle class="N" cx="281.8" cy="621.1" r="2"/><circle class="S" cx="225.3" cy="630.5" r="2"/><circle class="P" cx="214.9" cy="548.6" r="2"/><circle class="A" cx="122.8" cy="470.8" r="2"/><circle class="X" cx="185.2" cy="591.8" r="2"/><circle class="X" cx="169.2" cy="594.8" r="2"/><circle class="S" cx="241.0" cy="658.8" r="2"/><circle class="H" cx="255.4" cy="556.0" r="2"/><circle class="H" cx="156.9" cy="558.8" r="2"/><circle class="D" cx="142.5" cy="579.0" r="2"/><circle class="P" cx="215.4" cy="525.9" r="2"/><circle class="N" cx="256.9" cy="585.0" r="2"/><circle class="H" cx="258.9" cy="544.2" r="2"/><circle class="P" cx="223.1" cy="522.6" r="2"/><circle class="P" cx="219.7" cy="523.1" r="2"/><circle class="N" cx="271.7" cy="619.1" r="2"/><circle class="X" cx="187.8" cy="603.8" r="2"/><circle class="X" cx="285.6" cy="540.6" r="2"/><circle class="X" cx="291.8" cy="564.8" r="2"/><circle class="D" cx="137.4" cy="574.1" r="2"/><circle class="S" cx="233.8" cy="618.5" r="2"/><circle class="S" cx="230.2" cy="600.8" r="2"/><circle class="S" cx="232.7" cy="625.4" r="2"/><circle class="D" cx="149.6" cy="579.0" r="2"/><circle class="P" cx="215.1" cy="517.2" r="2"/><circle class="A" cx="115.1" cy="459.9" r="2"/><circle class="X" cx="175.2" cy="598.2" r="2"/><circle class="N" cx="258.5" cy="623.5" r="2"/><circle class="X" cx="172.2" cy="600.2" r="2"/><circle class="A" cx="93.7" cy="458.2" r="2"/><circle class="H" cx="256.4" cy="541.9" r="2"/><circle class="D" cx="138.4" cy="575.0" r="2"/><circle class="A" cx="95.9" cy="459.4" r="2"/><circle class="N" cx="269.5" cy="619.5" r="2"/><circle class="S" cx="206.0" cy="604.0" r="2"/><circle class="N" cx="281.8" cy="612.7" r="2"/><circle class="P" cx="205.3" cy="522.8" r="2"/><circle class="X" cx="165.4" cy="595.1" r="2"/><circle class="H" cx="281.3" cy="543.1" r="2"/><circle class="D" cx="140.4" cy="578.2" r="2"/><circle class="H" cx="261.8" cy="537.0" r="2"/><circle class="X" cx="185.2" cy="605.0" r="2"/><circle class="A" cx="94.8" cy="454.9" r="2"/><circle class="X" cx="191.3" cy="601.5" r="2"/><circle class="N" cx="250.7" cy="627.6" r="2"/><circle class="D" cx="141.7" cy="574.2" r="2"/><circle class="H" cx="278.0" cy="548.0" r="2"/><circle class="X" cx="182.0" cy="604.9" r="2"/><circle class="P" cx="219.5" cy="520.5" r="2"/><circle class="P" cx="182.7" cy="501.1" r="2"/><circle class="P" cx="214.9" cy="516.3" r="2"/><circle class="X" cx="174.9" cy="606.1" r="2"/><circle class="H" cx="251.4" cy="542.9" r="2"/><circle class="D" cx="142.6" cy="575.5" r="2"/><circle class="X" cx="196.2" cy="595.5" r="2"/><circle class="X" cx="181.0" cy="603.6" r="2"/><circle class="S" cx="239.4" cy="664.4" r="2"/><circle class="S" cx="218.7" cy="605.1" r="2"/><circle class="A" cx="93.7" cy="455.3" r="2"/><circle class="D" cx="138.9" cy="580.5" r="2"/><circle class="N" cx="250.1" cy="624.9" r="2"/><circle class="H" cx="240.1" cy="547.8" r="2"/><circle class="A" cx="93.8" cy="456.0" r="2"/><circle class="P" cx="210.6" cy="529.1" r="2"/><circle class="D" cx="138.3" cy="581.0" r="2"/><circle class="X" cx="310.5" cy="541.6" r="2"/><circle class="P" cx="208.6" cy="511.3" r="2"/><circle class="S" cx="202.1" cy="603.5" r="2"/><circle class="P" cx="212.2" cy="517.1" r="2"/><circle class="P" cx="216.3" cy="520.4" r="2"/><circle class="N" cx="243.5" cy="625.7" r="2"/><circle class="P" cx="213.1" cy="513.8" r="2"/><circle class="X" cx="175.2" cy="601.8" r="2"/><circle class="D" cx="143.0" cy="575.8" r="2"/><circle class="N" cx="253.1" cy="621.7" r="2"/><circle class="X" cx="193.0" cy="603.7" r="2"/><circle class="D" cx="147.4" cy="572.0" r="2"/><circle class="P" cx="214.2" cy="517.5" r="2"/><circle class="N" cx="280.0" cy="614.5" r="2"/><circle class="N" cx="250.5" cy="633.2" r="2"/><circle class="X" cx="198.3" cy="593.4" r="2"/><circle class="P" cx="209.6" cy="525.5" r="2"/><circle class="P" cx="209.1" cy="525.4" r="2"/><circle class="D" cx="140.3" cy="576.3" r="2"/><circle class="N" cx="259.4" cy="625.0" r="2"/><circle class="S" cx="219.4" cy="607.5" r="2"/><circle class="H" cx="283.5" cy="550.3" r="2"/><circle class="N" cx="239.9" cy="631.0" r="2"/><circle class="N" cx="247.5" cy="623.3" r="2"/><circle class="X" cx="279.3" cy="586.0" r="2"/><circle class="S" cx="223.5" cy="606.5" r="2"/><circle class="D" cx="148.4" cy="582.4" r="2"/><circle class="D" cx="134.5" cy="578.7" r="2"/><circle class="H" cx="258.0" cy="538.7" r="2"/><circle class="N" cx="263.3" cy="629.0" r="2"/><circle class="P" cx="196.9" cy="524.2" r="2"/><circle class="D" cx="143.2" cy="578.3" r="2"/><circle class="S" cx="227.5" cy="609.2" r="2"/><circle class="D" cx="153.2" cy="568.2" r="2"/><circle class="D" cx="145.5" cy="576.8" r="2"/><circle class="D" cx="133.5" cy="577.1" r="2"/><circle class="N" cx="262.8" cy="620.2" r="2"/><circle class="P" cx="212.9" cy="524.0" r="2"/><circle class="S" cx="228.9" cy="616.6" r="2"/><circle class="P" cx="213.5" cy="515.7" r="2"/><circle class="N" cx="256.4" cy="615.6" r="2"/><circle class="P" cx="207.6" cy="522.2" r="2"/><circle class="D" cx="134.9" cy="577.6" r="2"/><circle class="P" cx="216.2" cy="522.2" r="2"/><circle class="S" cx="232.5" cy="630.9" r="2"/><circle class="A" cx="91.9" cy="455.8" r="2"/><circle class="N" cx="188.2" cy="612.0" r="2"/><circle class="N" cx="260.6" cy="629.8" r="2"/><circle class="X" cx="197.0" cy="588.3" r="2"/><circle class="P" cx="214.9" cy="519.5" r="2"/><circle class="A" cx="109.0" cy="462.4" r="2"/><circle class="S" cx="233.2" cy="623.6" r="2"/><circle class="D" cx="148.2" cy="578.3" r="2"/><circle class="X" cx="180.1" cy="611.2" r="2"/><circle class="D" cx="141.3" cy="578.7" r="2"/><circle class="X" cx="163.5" cy="600.3" r="2"/><circle class="H" cx="240.9" cy="548.2" r="2"/><circle class="P" cx="210.5" cy="523.5" r="2"/><circle class="N" cx="275.5" cy="623.3" r="2"/><circle class="X" cx="186.5" cy="604.8" r="2"/><circle class="X" cx="175.2" cy="600.5" r="2"/><circle class="N" cx="260.2" cy="628.8" r="2"/><circle class="N" cx="268.5" cy="633.2" r="2"/><circle class="A" cx="91.0" cy="457.2" r="2"/><circle class="D" cx="135.1" cy="576.5" r="2"/><circle class="N" cx="244.4" cy="624.7" r="2"/><circle class="S" cx="206.4" cy="606.7" r="2"/><circle class="H" cx="266.3" cy="550.6" r="2"/><circle class="S" cx="216.5" cy="608.7" r="2"/><circle class="P" cx="212.5" cy="523.8" r="2"/><circle class="H" cx="264.4" cy="541.5" r="2"/><circle class="N" cx="274.6" cy="613.5" r="2"/><circle class="P" cx="223.5" cy="528.5" r="2"/><circle class="D" cx="133.2" cy="586.6" r="2"/><circle class="N" cx="255.6" cy="642.6" r="2"/><circle class="H" cx="147.6" cy="507.4" r="2"/><circle class="D" cx="148.1" cy="576.7" r="2"/><circle class="X" cx="236.9" cy="607.5" r="2"/><circle class="X" cx="165.0" cy="596.9" r="2"/><circle class="S" cx="229.3" cy="627.5" r="2"/><circle class="N" cx="258.5" cy="646.1" r="2"/><circle class="D" cx="144.0" cy="577.6" r="2"/><circle class="A" cx="98.7" cy="459.8" r="2"/><circle class="A" cx="111.5" cy="463.4" r="2"/><circle class="A" cx="91.7" cy="459.2" r="2"/><circle class="A" cx="96.9" cy="460.7" r="2"/><circle class="S" cx="233.4" cy="625.6" r="2"/><circle class="D" cx="136.1" cy="576.7" r="2"/><circle class="P" cx="215.5" cy="524.3" r="2"/><circle class="X" cx="208.2" cy="600.7" r="2"/><circle class="X" cx="163.7" cy="595.4" r="2"/><circle class="X" cx="167.1" cy="596.2" r="2"/><circle class="A" cx="100.8" cy="459.1" r="2"/><circle class="X" cx="178.6" cy="604.1" r="2"/><circle class="D" cx="139.0" cy="569.0" r="2"/><circle class="S" cx="228.9" cy="623.8" r="2"/><circle class="A" cx="97.3" cy="458.2" r="2"/><circle class="X" cx="187.3" cy="603.3" r="2"/><circle class="N" cx="258.0" cy="615.4" r="2"/><circle class="A" cx="96.7" cy="463.6" r="2"/><circle class="X" cx="182.0" cy="581.8" r="2"/><circle class="A" cx="93.5" cy="461.1" r="2"/><circle class="A" cx="97.7" cy="456.4" r="2"/><circle class="S" cx="208.7" cy="600.8" r="2"/><circle class="N" cx="266.4" cy="613.4" r="2"/><circle class="P" cx="229.7" cy="524.2" r="2"/><circle class="S" cx="224.1" cy="608.4" r="2"/><circle class="X" cx="265.6" cy="522.3" r="2"/><circle class="D" cx="140.1" cy="578.0" r="2"/><circle class="D" cx="140.5" cy="572.0" r="2"/><circle class="H" cx="231.6" cy="550.6" r="2"/><circle class="P" cx="207.6" cy="517.9" r="2"/><circle class="D" cx="136.0" cy="577.8" r="2"/><circle class="A" cx="94.2" cy="455.7" r="2"/><circle class="N" cx="244.9" cy="627.3" r="2"/><circle class="S" cx="253.1" cy="605.0" r="2"/><circle class="P" cx="193.2" cy="539.8" r="2"/><circle class="A" cx="96.1" cy="459.1" r="2"/><circle class="N" cx="262.3" cy="646.6" r="2"/><circle class="A" cx="96.9" cy="460.1" r="2"/><circle class="P" cx="213.3" cy="526.6" r="2"/><circle class="H" cx="254.4" cy="536.9" r="2"/><circle class="H" cx="165.7" cy="485.8" r="2"/><circle class="D" cx="146.2" cy="587.3" r="2"/><circle class="P" cx="216.0" cy="524.5" r="2"/><circle class="D" cx="141.1" cy="577.5" r="2"/><circle class="S" cx="223.6" cy="607.2" r="2"/><circle class="N" cx="255.4" cy="631.1" r="2"/><circle class="A" cx="115.8" cy="463.1" r="2"/><circle class="S" cx="207.0" cy="603.6" r="2"/><circle class="S" cx="235.9" cy="617.8" r="2"/><circle class="A" cx="113.3" cy="463.5" r="2"/><circle class="D" cx="144.8" cy="577.3" r="2"/><circle class="A" cx="104.5" cy="460.7" r="2"/><circle class="X" cx="174.8" cy="598.0" r="2"/><circle class="X" cx="184.8" cy="601.2" r="2"/><circle class="X" cx="160.6" cy="599.2" r="2"/><circle class="P" cx="219.9" cy="518.0" r="2"/><circle class="N" cx="255.6" cy="628.3" r="2"/><circle class="N" cx="245.1" cy="615.0" r="2"/><circle class="D" cx="148.4" cy="576.9" r="2"/><circle class="D" cx="143.7" cy="577.0" r="2"/><circle class="A" cx="93.5" cy="459.9" r="2"/><circle class="P" cx="208.8" cy="519.0" r="2"/><circle class="X" cx="176.5" cy="603.9" r="2"/><circle class="H" cx="259.5" cy="545.0" r="2"/><circle class="A" cx="112.1" cy="463.1" r="2"/><circle class="S" cx="203.7" cy="605.5" r="2"/><circle class="N" cx="271.0" cy="623.9" r="2"/><circle class="A" cx="98.2" cy="454.9" r="2"/><circle class="P" cx="219.7" cy="518.2" r="2"/><circle class="H" cx="234.4" cy="555.5" r="2"/><circle class="S" cx="236.6" cy="625.6" r="2"/><circle class="X" cx="183.2" cy="604.9" r="2"/><circle class="X" cx="159.9" cy="599.4" r="2"/><circle class="P" cx="199.0" cy="524.3" r="2"/><circle class="S" cx="227.3" cy="617.8" r="2"/><circle class="D" cx="139.5" cy="578.0" r="2"/><circle class="N" cx="245.6" cy="618.7" r="2"/><circle class="D" cx="146.5" cy="579.6" r="2"/><circle class="X" cx="165.9" cy="600.2" r="2"/><circle class="H" cx="263.0" cy="541.9" r="2"/><circle class="S" cx="232.8" cy="620.5" r="2"/><circle class="D" cx="145.3" cy="579.5" r="2"/><circle class="H" cx="179.0" cy="479.9" r="2"/><circle class="X" cx="178.2" cy="601.4" r="2"/><circle class="X" cx="162.2" cy="568.8" r="2"/><circle class="D" cx="135.4" cy="583.4" r="2"/><circle class="A" cx="97.5" cy="460.5" r="2"/><circle class="A" cx="95.1" cy="453.9" r="2"/><circle class="A" cx="109.3" cy="462.1" r="2"/><circle class="P" cx="216.5" cy="521.9" r="2"/><circle class="H" cx="253.1" cy="545.4" r="2"/><circle class="P" cx="189.5" cy="498.6" r="2"/><circle class="A" cx="100.0" cy="455.5" r="2"/><circle class="A" cx="93.2" cy="458.4" r="2"/><circle class="H" cx="154.9" cy="498.3" r="2"/><circle class="D" cx="145.1" cy="579.9" r="2"/><circle class="P" cx="214.6" cy="522.3" r="2"/><circle class="N" cx="254.1" cy="617.3" r="2"/><circle class="P" cx="218.3" cy="516.4" r="2"/><circle class="P" cx="220.9" cy="525.4" r="2"/><circle class="N" cx="260.1" cy="610.3" r="2"/><circle class="D" cx="140.2" cy="577.7" r="2"/><circle class="A" cx="95.3" cy="457.2" r="2"/><circle class="X" cx="169.7" cy="601.5" r="2"/><circle class="S" cx="216.4" cy="608.8" r="2"/><circle class="H" cx="236.3" cy="553.9" r="2"/><circle class="H" cx="261.4" cy="543.5" r="2"/><circle class="A" cx="97.7" cy="463.0" r="2"/><circle class="X" cx="184.1" cy="605.9" r="2"/><circle class="N" cx="273.8" cy="625.7" r="2"/><circle class="S" cx="137.3" cy="587.5" r="2"/><circle class="A" cx="97.5" cy="458.4" r="2"/><circle class="H" cx="235.8" cy="555.3" r="2"/><circle class="H" cx="243.2" cy="551.6" r="2"/><circle class="X" cx="237.4" cy="614.9" r="2"/><circle class="X" cx="301.3" cy="589.2" r="2"/><circle class="H" cx="262.1" cy="546.5" r="2"/><circle class="N" cx="252.6" cy="626.1" r="2"/><circle class="N" cx="257.9" cy="621.2" r="2"/><circle class="D" cx="149.3" cy="586.8" r="2"/><circle class="P" cx="214.2" cy="518.9" r="2"/><circle class="S" cx="225.9" cy="608.0" r="2"/><circle class="X" cx="176.7" cy="593.3" r="2"/><circle class="D" cx="135.9" cy="577.2" r="2"/><circle class="S" cx="203.6" cy="600.8" r="2"/><circle class="A" cx="127.3" cy="471.3" r="2"/><circle class="X" cx="187.8" cy="604.1" r="2"/><circle class="H" cx="283.8" cy="554.4" r="2"/><circle class="S" cx="234.5" cy="674.4" r="2"/><circle class="D" cx="143.0" cy="576.7" r="2"/><circle class="S" cx="225.6" cy="611.3" r="2"/><circle class="P" cx="204.6" cy="514.9" r="2"/><circle class="H" cx="236.0" cy="552.3" r="2"/><circle class="D" cx="164.1" cy="575.3" r="2"/><circle class="P" cx="216.1" cy="547.7" r="2"/><circle class="S" cx="211.3" cy="608.8" r="2"/><circle class="P" cx="215.5" cy="521.6" r="2"/><circle class="A" cx="92.7" cy="464.7" r="2"/><circle class="P" cx="194.0" cy="526.1" r="2"/><circle class="A" cx="102.4" cy="462.7" r="2"/><circle class="S" cx="207.2" cy="605.4" r="2"/><circle class="A" cx="96.3" cy="454.6" r="2"/><circle class="H" cx="254.6" cy="539.8" r="2"/><circle class="S" cx="242.4" cy="648.1" r="2"/><circle class="S" cx="208.7" cy="602.8" r="2"/><circle class="X" cx="196.7" cy="595.0" r="2"/><circle class="N" cx="260.1" cy="629.0" r="2"/><circle class="H" cx="240.7" cy="552.2" r="2"/><circle class="S" cx="232.9" cy="673.2" r="2"/><circle class="S" cx="232.1" cy="627.8" r="2"/><circle class="D" cx="144.5" cy="578.4" r="2"/><circle class="D" cx="136.2" cy="578.1" r="2"/><circle class="X" cx="193.0" cy="591.5" r="2"/><circle class="P" cx="213.5" cy="526.2" r="2"/><circle class="H" cx="260.8" cy="550.3" r="2"/><circle class="S" cx="233.7" cy="671.1" r="2"/><circle class="X" cx="188.9" cy="598.0" r="2"/><circle class="P" cx="210.2" cy="518.8" r="2"/><circle class="S" cx="204.0" cy="593.5" r="2"/><circle class="X" cx="291.1" cy="548.6" r="2"/><circle class="N" cx="242.4" cy="623.6" r="2"/><circle class="X" cx="188.6" cy="596.0" r="2"/><circle class="N" cx="271.9" cy="599.0" r="2"/><circle class="D" cx="151.1" cy="577.7" r="2"/><circle class="S" cx="218.2" cy="619.9" r="2"/><circle class="P" cx="214.0" cy="518.5" r="2"/><circle class="D" cx="142.8" cy="576.5" r="2"/><circle class="D" cx="153.1" cy="579.2" r="2"/><circle class="P" cx="211.3" cy="516.9" r="2"/><circle class="P" cx="211.3" cy="516.0" r="2"/><circle class="S" cx="126.3" cy="584.4" r="2"/><circle class="N" cx="264.6" cy="622.8" r="2"/><circle class="P" cx="196.2" cy="514.9" r="2"/><circle class="D" cx="146.8" cy="579.5" r="2"/><circle class="A" cx="95.5" cy="457.4" r="2"/><circle class="H" cx="234.2" cy="560.8" r="2"/><circle class="H" cx="130.6" cy="476.5" r="2"/><circle class="X" cx="173.4" cy="600.8" r="2"/><circle class="H" cx="238.4" cy="553.5" r="2"/><circle class="A" cx="126.6" cy="468.1" r="2"/><circle class="P" cx="212.9" cy="520.2" r="2"/><circle class="D" cx="145.2" cy="580.8" r="2"/><circle class="X" cx="194.9" cy="595.5" r="2"/><circle class="P" cx="209.9" cy="549.8" r="2"/><circle class="S" cx="235.3" cy="620.6" r="2"/><circle class="X" cx="166.0" cy="607.2" r="2"/><circle class="H" cx="178.2" cy="512.4" r="2"/><circle class="S" cx="229.1" cy="611.6" r="2"/><circle class="P" cx="218.2" cy="519.9" r="2"/><circle class="D" cx="147.2" cy="574.9" r="2"/><circle class="D" cx="141.4" cy="575.1" r="2"/><circle class="X" cx="316.0" cy="543.6" r="2"/><circle class="P" cx="182.5" cy="504.4" r="2"/><circle class="P" cx="198.2" cy="506.1" r="2"/><circle class="P" cx="219.1" cy="522.2" r="2"/><circle class="X" cx="184.4" cy="604.1" r="2"/><circle class="N" cx="265.3" cy="632.0" r="2"/><circle class="N" cx="272.1" cy="618.7" r="2"/><circle class="A" cx="103.3" cy="460.0" r="2"/><circle class="N" cx="266.9" cy="606.8" r="2"/><circle class="X" cx="216.4" cy="583.5" r="2"/><circle class="S" cx="235.1" cy="623.0" r="2"/><circle class="N" cx="269.4" cy="522.3" r="2"/><circle class="P" cx="212.0" cy="527.4" r="2"/><circle class="S" cx="237.0" cy="624.5" r="2"/><circle class="N" cx="281.2" cy="610.3" r="2"/><circle class="N" cx="250.9" cy="624.7" r="2"/><circle class="S" cx="231.6" cy="674.6" r="2"/><circle class="S" cx="233.4" cy="634.5" r="2"/><circle class="H" cx="264.5" cy="543.1" r="2"/><circle class="N" cx="276.8" cy="603.7" r="2"/><circle class="D" cx="144.0" cy="575.4" r="2"/><circle class="H" cx="284.0" cy="550.4" r="2"/><circle class="X" cx="177.3" cy="603.0" r="2"/><circle class="A" cx="95.3" cy="463.2" r="2"/><circle class="P" cx="211.1" cy="526.1" r="2"/><circle class="A" cx="93.8" cy="454.2" r="2"/><circle class="D" cx="138.9" cy="574.1" r="2"/><circle class="S" cx="238.0" cy="666.9" r="2"/><circle class="X" cx="182.0" cy="597.2" r="2"/><circle class="D" cx="149.2" cy="579.3" r="2"/><circle class="D" cx="152.4" cy="585.6" r="2"/><circle class="H" cx="256.4" cy="546.7" r="2"/><circle class="H" cx="258.0" cy="539.6" r="2"/><circle class="S" cx="203.7" cy="605.3" r="2"/><circle class="H" cx="280.2" cy="551.6" r="2"/><circle class="P" cx="181.5" cy="492.4" r="2"/><circle class="A" cx="99.2" cy="455.7" r="2"/><circle class="H" cx="254.3" cy="539.2" r="2"/><circle class="A" cx="127.6" cy="469.4" r="2"/><circle class="N" cx="272.9" cy="616.3" r="2"/><circle class="S" cx="207.7" cy="607.4" r="2"/><circle class="S" cx="223.3" cy="616.5" r="2"/><circle class="P" cx="212.8" cy="527.7" r="2"/><circle class="S" cx="233.1" cy="625.1" r="2"/><circle class="P" cx="218.8" cy="505.5" r="2"/><circle class="H" cx="253.9" cy="539.2" r="2"/><circle class="S" cx="209.1" cy="615.6" r="2"/><circle class="N" cx="142.4" cy="597.8" r="2"/><circle class="D" cx="142.4" cy="579.4" r="2"/><circle class="S" cx="206.9" cy="603.4" r="2"/><circle class="P" cx="217.1" cy="528.0" r="2"/><circle class="H" cx="246.0" cy="551.3" r="2"/><circle class="H" cx="284.3" cy="565.3" r="2"/><circle class="D" cx="142.8" cy="573.6" r="2"/><circle class="X" cx="174.0" cy="596.0" r="2"/><circle class="X" cx="186.6" cy="604.0" r="2"/><circle class="S" cx="233.9" cy="626.9" r="2"/><circle class="A" cx="96.8" cy="456.3" r="2"/><circle class="D" cx="138.9" cy="575.3" r="2"/><circle class="A" cx="92.3" cy="459.5" r="2"/><circle class="X" cx="178.9" cy="603.3" r="2"/><circle class="D" cx="143.2" cy="577.4" r="2"/><circle class="N" cx="252.2" cy="624.9" r="2"/><circle class="N" cx="280.4" cy="614.7" r="2"/><circle class="S" cx="234.1" cy="627.0" r="2"/><circle class="D" cx="160.3" cy="575.0" r="2"/><circle class="X" cx="177.3" cy="613.3" r="2"/><circle class="S" cx="210.1" cy="605.4" r="2"/><circle class="P" cx="206.1" cy="521.3" r="2"/><circle class="H" cx="170.7" cy="520.4" r="2"/><circle class="N" cx="253.8" cy="619.6" r="2"/><circle class="D" cx="143.7" cy="577.8" r="2"/><circle class="S" cx="204.6" cy="605.4" r="2"/><circle class="P" cx="207.6" cy="516.8" r="2"/><circle class="N" cx="256.4" cy="616.9" r="2"/><circle class="D" cx="154.4" cy="563.5" r="2"/><circle class="P" cx="209.6" cy="520.7" r="2"/><circle class="D" cx="140.4" cy="581.1" r="2"/><circle class="H" cx="238.8" cy="550.9" r="2"/><circle class="N" cx="256.1" cy="615.7" r="2"/><circle class="H" cx="105.4" cy="469.0" r="2"/><circle class="P" cx="230.1" cy="520.6" r="2"/><circle class="H" cx="256.4" cy="536.7" r="2"/><circle class="A" cx="95.1" cy="457.0" r="2"/><circle class="S" cx="230.6" cy="618.2" r="2"/><circle class="X" cx="177.1" cy="597.5" r="2"/><circle class="S" cx="222.2" cy="618.4" r="2"/><circle class="N" cx="255.7" cy="624.0" r="2"/><circle class="P" cx="210.6" cy="518.1" r="2"/><circle class="D" cx="135.4" cy="580.5" r="2"/><circle class="S" cx="213.2" cy="616.2" r="2"/><circle class="D" cx="136.8" cy="573.7" r="2"/><circle class="A" cx="99.3" cy="459.9" r="2"/><circle class="S" cx="234.7" cy="616.8" r="2"/><circle class="X" cx="230.7" cy="591.2" r="2"/><circle class="N" cx="149.4" cy="555.6" r="2"/><circle class="A" cx="105.5" cy="463.0" r="2"/><circle class="P" cx="217.2" cy="506.6" r="2"/><circle class="P" cx="219.1" cy="536.7" r="2"/><circle class="H" cx="259.6" cy="545.9" r="2"/><circle class="P" cx="212.5" cy="518.1" r="2"/><circle class="S" cx="204.2" cy="608.5" r="2"/><circle class="N" cx="280.0" cy="613.7" r="2"/><circle class="S" cx="224.7" cy="615.0" r="2"/><circle class="D" cx="143.8" cy="578.5" r="2"/><circle class="H" cx="266.2" cy="542.8" r="2"/><circle class="H" cx="274.0" cy="549.0" r="2"/><circle class="N" cx="256.6" cy="643.6" r="2"/><circle class="N" cx="271.0" cy="626.3" r="2"/><circle class="N" cx="248.5" cy="629.0" r="2"/><circle class="X" cx="197.7" cy="593.0" r="2"/><circle class="X" cx="190.0" cy="598.7" r="2"/><circle class="N" cx="256.3" cy="632.6" r="2"/><circle class="D" cx="131.7" cy="585.1" r="2"/><circle class="S" cx="212.1" cy="609.8" r="2"/><circle class="X" cx="175.2" cy="603.1" r="2"/><circle class="P" cx="217.0" cy="513.2" r="2"/><circle class="S" cx="223.0" cy="611.1" r="2"/><circle class="P" cx="218.7" cy="521.8" r="2"/><circle class="S" cx="222.8" cy="614.9" r="2"/><circle class="D" cx="135.0" cy="577.1" r="2"/><circle class="A" cx="116.9" cy="464.3" r="2"/><circle class="P" cx="213.5" cy="522.1" r="2"/><circle class="X" cx="173.7" cy="605.4" r="2"/><circle class="S" cx="229.4" cy="616.6" r="2"/><circle class="N" cx="263.5" cy="617.9" r="2"/><circle class="P" cx="217.9" cy="525.4" r="2"/><circle class="S" cx="228.6" cy="609.0" r="2"/><circle class="P" cx="211.8" cy="522.6" r="2"/><circle class="P" cx="207.8" cy="531.1" r="2"/><circle class="N" cx="249.8" cy="628.2" r="2"/><circle class="A" cx="92.5" cy="452.5" r="2"/><circle class="H" cx="253.9" cy="548.5" r="2"/><circle class="S" cx="233.0" cy="622.9" r="2"/><circle class="N" cx="261.0" cy="626.2" r="2"/><circle class="A" cx="128.9" cy="469.1" r="2"/><circle class="D" cx="139.8" cy="576.9" r="2"/><circle class="S" cx="205.3" cy="602.7" r="2"/><circle class="S" cx="211.8" cy="604.9" r="2"/><circle class="P" cx="213.0" cy="519.6" r="2"/><circle class="A" cx="106.3" cy="461.8" r="2"/><circle class="P" cx="208.3" cy="530.0" r="2"/><circle class="S" cx="233.2" cy="626.5" r="2"/><circle class="P" cx="216.7" cy="520.4" r="2"/><circle class="D" cx="143.3" cy="579.2" r="2"/><circle class="D" cx="140.0" cy="577.6" r="2"/><circle class="D" cx="142.2" cy="576.6" r="2"/><circle class="N" cx="252.8" cy="624.2" r="2"/><circle class="A" cx="97.7" cy="454.0" r="2"/><circle class="X" cx="176.8" cy="602.5" r="2"/><circle class="A" cx="95.6" cy="457.1" r="2"/><circle class="S" cx="208.6" cy="607.9" r="2"/><circle class="D" cx="153.2" cy="552.8" r="2"/><circle class="X" cx="180.4" cy="605.6" r="2"/><circle class="N" cx="263.1" cy="521.8" r="2"/><circle class="A" cx="121.5" cy="465.9" r="2"/><circle class="A" cx="106.7" cy="469.0" r="2"/><circle class="H" cx="250.2" cy="547.4" r="2"/><circle class="A" cx="95.1" cy="456.7" r="2"/><circle class="N" cx="263.5" cy="620.4" r="2"/><circle class="X" cx="159.1" cy="567.6" r="2"/><circle class="H" cx="242.7" cy="555.6" r="2"/><circle class="H" cx="243.2" cy="549.7" r="2"/><circle class="P" cx="217.8" cy="525.2" r="2"/><circle class="H" cx="136.9" cy="582.5" r="2"/><circle class="P" cx="211.8" cy="534.2" r="2"/><circle class="D" cx="152.5" cy="579.4" r="2"/><circle class="H" cx="265.2" cy="541.6" r="2"/><circle class="S" cx="228.2" cy="619.3" r="2"/><circle class="N" cx="255.9" cy="639.5" r="2"/><circle class="H" cx="261.1" cy="537.8" r="2"/><circle class="D" cx="140.2" cy="581.5" r="2"/><circle class="S" cx="225.7" cy="626.2" r="2"/><circle class="P" cx="208.8" cy="517.7" r="2"/><circle class="P" cx="209.5" cy="514.3" r="2"/><circle class="S" cx="209.5" cy="605.5" r="2"/><circle class="H" cx="262.2" cy="552.4" r="2"/><circle class="N" cx="260.0" cy="621.0" r="2"/><circle class="D" cx="130.6" cy="572.2" r="2"/><circle class="X" cx="166.4" cy="600.6" r="2"/><circle class="A" cx="98.6" cy="459.3" r="2"/><circle class="A" cx="118.8" cy="466.9" r="2"/><circle class="D" cx="141.5" cy="579.0" r="2"/><circle class="H" cx="252.2" cy="543.7" r="2"/><circle class="H" cx="256.2" cy="542.9" r="2"/><circle class="D" cx="138.6" cy="580.5" r="2"/><circle class="X" cx="174.9" cy="599.1" r="2"/><circle class="D" cx="148.4" cy="576.2" r="2"/><circle class="N" cx="261.7" cy="622.1" r="2"/><circle class="A" cx="96.5" cy="457.0" r="2"/><circle class="D" cx="146.1" cy="581.0" r="2"/><circle class="S" cx="232.3" cy="672.3" r="2"/><circle class="A" cx="96.6" cy="458.6" r="2"/><circle class="X" cx="179.3" cy="602.8" r="2"/><circle class="S" cx="242.1" cy="625.0" r="2"/><circle class="A" cx="93.5" cy="460.1" r="2"/><circle class="X" cx="192.5" cy="594.3" r="2"/><circle class="D" cx="141.0" cy="585.6" r="2"/><circle class="S" cx="199.2" cy="602.7" r="2"/><circle class="A" cx="93.3" cy="455.6" r="2"/><circle class="X" cx="163.1" cy="558.6" r="2"/><circle class="P" cx="220.3" cy="517.4" r="2"/><circle class="P" cx="215.2" cy="523.6" r="2"/><circle class="N" cx="282.3" cy="609.9" r="2"/><circle class="P" cx="208.4" cy="521.4" r="2"/><circle class="N" cx="252.9" cy="630.6" r="2"/><circle class="X" cx="188.2" cy="584.8" r="2"/><circle class="H" cx="246.0" cy="552.4" r="2"/><circle class="H" cx="261.8" cy="537.4" r="2"/><circle class="A" cx="97.9" cy="456.7" r="2"/><circle class="X" cx="293.6" cy="585.5" r="2"/><circle class="H" cx="235.6" cy="549.5" r="2"/><circle class="H" cx="139.3" cy="499.8" r="2"/><circle class="S" cx="232.4" cy="674.9" r="2"/><circle class="N" cx="252.6" cy="624.7" r="2"/><circle class="N" cx="292.3" cy="628.7" r="2"/><circle class="N" cx="255.0" cy="628.1" r="2"/><circle class="P" cx="229.5" cy="538.1" r="2"/><circle class="P" cx="216.2" cy="519.3" r="2"/><circle class="A" cx="100.0" cy="459.3" r="2"/><circle class="N" cx="248.1" cy="580.0" r="2"/><circle class="A" cx="124.9" cy="468.1" r="2"/><circle class="S" cx="206.9" cy="610.0" r="2"/><circle class="D" cx="139.9" cy="579.5" r="2"/><circle class="S" cx="229.2" cy="616.4" r="2"/><circle class="X" cx="188.2" cy="584.2" r="2"/><circle class="S" cx="220.4" cy="611.2" r="2"/><circle class="N" cx="265.2" cy="626.5" r="2"/><circle class="D" cx="142.6" cy="587.2" r="2"/><circle class="H" cx="262.3" cy="542.7" r="2"/><circle class="P" cx="220.0" cy="517.0" r="2"/><circle class="N" cx="284.6" cy="618.7" r="2"/><circle class="H" cx="208.2" cy="520.6" r="2"/><circle class="H" cx="265.9" cy="538.6" r="2"/><circle class="X" cx="186.4" cy="606.0" r="2"/><circle class="D" cx="141.4" cy="576.8" r="2"/><circle class="A" cx="96.8" cy="456.4" r="2"/><circle class="A" cx="101.8" cy="462.3" r="2"/><circle class="S" cx="221.0" cy="622.9" r="2"/><circle class="X" cx="198.8" cy="591.2" r="2"/><circle class="S" cx="205.0" cy="606.4" r="2"/><circle class="D" cx="138.1" cy="588.0" r="2"/><circle class="P" cx="209.2" cy="523.3" r="2"/><circle class="X" cx="169.9" cy="601.6" r="2"/><circle class="A" cx="92.6" cy="457.4" r="2"/><circle class="P" cx="212.8" cy="526.2" r="2"/><circle class="H" cx="268.3" cy="540.2" r="2"/><circle class="H" cx="227.1" cy="552.4" r="2"/><circle class="N" cx="298.1" cy="608.7" r="2"/><circle class="X" cx="188.1" cy="602.5" r="2"/><circle class="X" cx="168.5" cy="565.4" r="2"/><circle class="S" cx="227.6" cy="612.7" r="2"/><circle class="P" cx="215.0" cy="517.4" r="2"/><circle class="H" cx="259.7" cy="539.9" r="2"/><circle class="X" cx="176.2" cy="598.7" r="2"/><circle class="A" cx="96.0" cy="460.2" r="2"/><circle class="S" cx="148.1" cy="592.0" r="2"/><circle class="A" cx="101.0" cy="453.8" r="2"/><circle class="N" cx="249.8" cy="648.3" r="2"/><circle class="H" cx="232.7" cy="554.3" r="2"/><circle class="D" cx="144.5" cy="581.8" r="2"/><circle class="D" cx="140.0" cy="577.8" r="2"/><circle class="N" cx="259.7" cy="618.2" r="2"/><circle class="S" cx="239.5" cy="658.1" r="2"/><circle class="H" cx="193.2" cy="520.3" r="2"/><circle class="X" cx="163.6" cy="603.3" r="2"/><circle class="N" cx="265.1" cy="627.7" r="2"/><circle class="H" cx="262.7" cy="538.9" r="2"/><circle class="H" cx="262.9" cy="542.7" r="2"/><circle class="P" cx="218.2" cy="537.3" r="2"/><circle class="N" cx="209.4" cy="614.9" r="2"/><circle class="A" cx="97.0" cy="458.7" r="2"/><circle class="S" cx="206.9" cy="601.0" r="2"/><circle class="X" cx="175.2" cy="599.9" r="2"/><circle class="A" cx="109.2" cy="492.1" r="2"/><circle class="P" cx="206.7" cy="520.6" r="2"/><circle class="P" cx="208.5" cy="520.5" r="2"/><circle class="H" cx="135.3" cy="571.9" r="2"/><circle class="N" cx="263.7" cy="619.4" r="2"/><circle class="A" cx="112.2" cy="464.4" r="2"/><circle class="A" cx="98.0" cy="461.4" r="2"/><circle class="H" cx="249.2" cy="550.8" r="2"/><circle class="X" cx="196.6" cy="590.5" r="2"/><circle class="A" cx="90.2" cy="455.2" r="2"/><circle class="X" cx="161.8" cy="601.2" r="2"/><circle class="X" cx="192.4" cy="591.3" r="2"/><circle class="X" cx="230.7" cy="591.0" r="2"/><circle class="D" cx="140.7" cy="581.9" r="2"/><circle class="A" cx="102.3" cy="456.8" r="2"/><circle class="A" cx="94.7" cy="456.4" r="2"/><circle class="D" cx="142.3" cy="578.2" r="2"/><circle class="H" cx="267.6" cy="547.0" r="2"/><circle class="S" cx="235.1" cy="623.3" r="2"/><circle class="D" cx="146.5" cy="578.6" r="2"/><circle class="S" cx="233.8" cy="617.2" r="2"/><circle class="N" cx="269.7" cy="625.7" r="2"/>
</g>
<line x1="34.7" y1="436.5" x2="34.7" y2="742.3" stroke="#707070" stroke-width="0.9"/>
<line x1="20.5" y1="729.3" x2="330.5" y2="729.3" stroke="#808080" stroke-width="1.0"/>
<rect x="20.5" y="436.5" width="310.0" height="305.79999999999995" fill="none" stroke="#444" stroke-width="0.7"/>
<line x1="34.7" y1="742.3" x2="34.7" y2="744.3" stroke="#222" stroke-width="0.6"/>
<text font-size="5.1" text-anchor="middle" fill="#000" transform="translate(34.7 751.5) scale(1 1.18)">0.0</text>
<line x1="88.46000000000001" y1="742.3" x2="88.46000000000001" y2="744.3" stroke="#222" stroke-width="0.6"/>
<text font-size="5.1" text-anchor="middle" fill="#000" transform="translate(88.5 751.5) scale(1 1.18)">0.2</text>
<line x1="142.22000000000003" y1="742.3" x2="142.22000000000003" y2="744.3" stroke="#222" stroke-width="0.6"/>
<text font-size="5.1" text-anchor="middle" fill="#000" transform="translate(142.2 751.5) scale(1 1.18)">0.4</text>
<line x1="195.98000000000002" y1="742.3" x2="195.98000000000002" y2="744.3" stroke="#222" stroke-width="0.6"/>
<text font-size="5.1" text-anchor="middle" fill="#000" transform="translate(196.0 751.5) scale(1 1.18)">0.6</text>
<line x1="249.74" y1="742.3" x2="249.74" y2="744.3" stroke="#222" stroke-width="0.6"/>
<text font-size="5.1" text-anchor="middle" fill="#000" transform="translate(249.7 751.5) scale(1 1.18)">0.8</text>
<line x1="303.5" y1="742.3" x2="303.5" y2="744.3" stroke="#222" stroke-width="0.6"/>
<text font-size="5.1" text-anchor="middle" fill="#000" transform="translate(303.5 751.5) scale(1 1.18)">1.0</text>
<line x1="18.5" y1="729.3" x2="20.5" y2="729.3" stroke="#222" stroke-width="0.6"/>
<text font-size="5.1" text-anchor="end" fill="#000" transform="translate(16.6 731.5) scale(1 1.18)">0.0</text>
<line x1="18.5" y1="669.4399999999999" x2="20.5" y2="669.4399999999999" stroke="#222" stroke-width="0.6"/>
<text font-size="5.1" text-anchor="end" fill="#000" transform="translate(16.6 671.6) scale(1 1.18)">0.2</text>
<line x1="18.5" y1="609.5799999999999" x2="20.5" y2="609.5799999999999" stroke="#222" stroke-width="0.6"/>
<text font-size="5.1" text-anchor="end" fill="#000" transform="translate(16.6 611.7) scale(1 1.18)">0.4</text>
<line x1="18.5" y1="549.7199999999999" x2="20.5" y2="549.7199999999999" stroke="#222" stroke-width="0.6"/>
<text font-size="5.1" text-anchor="end" fill="#000" transform="translate(16.6 551.9) scale(1 1.18)">0.6</text>
<line x1="18.5" y1="489.8599999999999" x2="20.5" y2="489.8599999999999" stroke="#222" stroke-width="0.6"/>
<text font-size="5.1" text-anchor="end" fill="#000" transform="translate(16.6 492.0) scale(1 1.18)">0.8</text>
<text x="175.5" y="433.2" font-size="6.6" text-anchor="middle" fill="#000">Predictions vs. labels (test set)</text>
<text x="175.5" y="759.6" font-size="5.4" text-anchor="middle" fill="#000">valence</text>
<text x="4.5" y="589.4" font-size="5.4" text-anchor="middle" fill="#000" transform="rotate(-90 4.5 589.4)">Dominance</text>
<text font-size="5.4" text-anchor="start" fill="#000" transform="translate(103.3 455.2) scale(1 1.07)">Angry</text>
<text font-size="5.4" text-anchor="start" fill="#000" transform="translate(147.8 582) scale(1 1.07)">Disgust</text>
<text font-size="5.4" text-anchor="start" fill="#000" transform="translate(156.6 605.6) scale(1 1.07)">Anxious</text>
<text font-size="5.4" text-anchor="start" fill="#000" transform="translate(231.9 525.3) scale(1 1.07)">Surprised</text>
<text font-size="5.4" text-anchor="start" fill="#000" transform="translate(292.8 550.9) scale(1 1.07)">Happy</text>
<text font-size="5.4" text-anchor="start" fill="#000" transform="translate(238.7 608.9) scale(1 1.07)">Sad</text>
<text font-size="5.4" text-anchor="start" fill="#000" transform="translate(277.7 638.5) scale(1 1.07)">Neutral</text>
<text font-size="5.4" text-anchor="middle" fill="#000" transform="translate(304.0 445.5) scale(1 1.07)">Emotions</text>
<circle cx="288.8" cy="454.5" r="2.2" fill="#ff0000"/>
<text font-size="5.4" text-anchor="start" fill="#000" transform="translate(299.0 456.6) scale(1 1.07)">Neutral</text>
<circle cx="288.8" cy="465.7" r="2.2" fill="#ffd000"/>
<text font-size="5.4" text-anchor="start" fill="#000" transform="translate(299.0 467.8) scale(1 1.07)">Happy</text>
<circle cx="288.8" cy="476.8" r="2.2" fill="#4fff00"/>
<text font-size="5.4" text-anchor="start" fill="#000" transform="translate(299.0 478.9) scale(1 1.07)">Sad</text>
<circle cx="288.8" cy="488.0" r="2.2" fill="#00ff86"/>
<text font-size="5.4" text-anchor="start" fill="#000" transform="translate(299.0 490.1) scale(1 1.07)">Angry</text>
<circle cx="288.8" cy="499.1" r="2.2" fill="#0090ff"/>
<text font-size="5.4" text-anchor="start" fill="#000" transform="translate(299.0 501.2) scale(1 1.07)">Anxious</text>
<circle cx="288.8" cy="510.3" r="2.2" fill="#3700ff"/>
<text font-size="5.4" text-anchor="start" fill="#000" transform="translate(299.0 512.4) scale(1 1.07)">Disgust</text>
<circle cx="288.8" cy="521.4" r="2.2" fill="#ff00d8"/>
<text font-size="5.4" text-anchor="start" fill="#000" transform="translate(299.0 523.6) scale(1 1.07)">Surprised</text>
<g fill-opacity=".5">
<circle class="D" cx="496.5" cy="595.6" r="2"/><circle class="N" cx="457.2" cy="623.0" r="2"/><circle class="P" cx="577.4" cy="524.6" r="2"/><circle class="S" cx="495.2" cy="608.3" r="2"/><circle class="X" cx="553.5" cy="607.4" r="2"/><circle class="N" cx="457.2" cy="631.1" r="2"/><circle class="A" cx="657.3" cy="457.0" r="2"/><circle class="A" cx="648.1" cy="467.1" r="2"/><circle class="N" cx="448.5" cy="628.3" r="2"/><circle class="P" cx="595.1" cy="503.6" r="2"/><circle class="S" cx="476.1" cy="613.4" r="2"/><circle class="N" cx="544.0" cy="561.5" r="2"/><circle class="X" cx="573.4" cy="595.0" r="2"/><circle class="N" cx="449.0" cy="625.8" r="2"/><circle class="N" cx="450.4" cy="636.0" r="2"/><circle class="X" cx="545.3" cy="605.5" r="2"/><circle class="H" cx="561.4" cy="542.9" r="2"/><circle class="A" cx="655.2" cy="458.8" r="2"/><circle class="H" cx="537.6" cy="560.5" r="2"/><circle class="H" cx="555.8" cy="545.6" r="2"/><circle class="D" cx="510.2" cy="577.3" r="2"/><circle class="D" cx="509.2" cy="578.5" r="2"/><circle class="D" cx="501.7" cy="574.8" r="2"/><circle class="D" cx="509.9" cy="579.0" r="2"/><circle class="D" cx="501.3" cy="583.6" r="2"/><circle class="P" cx="588.9" cy="515.3" r="2"/><circle class="N" cx="445.6" cy="631.2" r="2"/><circle class="P" cx="569.9" cy="534.2" r="2"/><circle class="S" cx="469.1" cy="620.3" r="2"/><circle class="N" cx="457.4" cy="623.4" r="2"/><circle class="S" cx="425.9" cy="672.9" r="2"/><circle class="A" cx="659.2" cy="456.5" r="2"/><circle class="N" cx="443.5" cy="631.8" r="2"/><circle class="S" cx="478.3" cy="611.9" r="2"/><circle class="D" cx="493.8" cy="581.2" r="2"/><circle class="D" cx="508.8" cy="572.8" r="2"/><circle class="A" cx="663.9" cy="454.0" r="2"/><circle class="N" cx="455.8" cy="617.2" r="2"/><circle class="H" cx="563.7" cy="541.7" r="2"/><circle class="D" cx="507.7" cy="577.3" r="2"/><circle class="N" cx="451.1" cy="625.0" r="2"/><circle class="S" cx="437.0" cy="655.7" r="2"/><circle class="X" cx="567.6" cy="599.1" r="2"/><circle class="H" cx="569.8" cy="540.8" r="2"/><circle class="X" cx="543.7" cy="610.4" r="2"/><circle class="N" cx="434.2" cy="641.1" r="2"/><circle class="X" cx="487.8" cy="612.5" r="2"/><circle class="P" cx="590.9" cy="502.3" r="2"/><circle class="S" cx="490.0" cy="605.5" r="2"/><circle class="S" cx="490.1" cy="599.4" r="2"/><circle class="S" cx="471.6" cy="614.8" r="2"/><circle class="H" cx="561.7" cy="543.1" r="2"/><circle class="S" cx="424.4" cy="673.6" r="2"/><circle class="D" cx="503.2" cy="583.4" r="2"/><circle class="D" cx="502.0" cy="584.3" r="2"/><circle class="D" cx="507.0" cy="583.9" r="2"/><circle class="A" cx="656.0" cy="458.0" r="2"/><circle class="P" cx="571.5" cy="532.5" r="2"/><circle class="X" cx="566.5" cy="603.7" r="2"/><circle class="N" cx="450.8" cy="616.0" r="2"/><circle class="H" cx="560.3" cy="542.1" r="2"/><circle class="D" cx="508.6" cy="576.4" r="2"/><circle class="A" cx="653.8" cy="460.8" r="2"/><circle class="S" cx="458.5" cy="632.1" r="2"/><circle class="X" cx="564.6" cy="604.1" r="2"/><circle class="D" cx="506.2" cy="580.5" r="2"/><circle class="A" cx="659.9" cy="454.5" r="2"/><circle class="P" cx="584.9" cy="518.6" r="2"/><circle class="S" cx="478.5" cy="612.5" r="2"/><circle class="A" cx="650.7" cy="462.0" r="2"/><circle class="N" cx="447.9" cy="625.2" r="2"/><circle class="N" cx="445.9" cy="626.7" r="2"/><circle class="N" cx="459.9" cy="617.3" r="2"/><circle class="H" cx="554.4" cy="549.2" r="2"/><circle class="P" cx="587.9" cy="520.5" r="2"/><circle class="S" cx="488.8" cy="604.3" r="2"/><circle class="N" cx="441.8" cy="635.1" r="2"/><circle class="D" cx="511.6" cy="581.0" r="2"/><circle class="A" cx="649.3" cy="466.0" r="2"/><circle class="N" cx="455.4" cy="617.9" r="2"/><circle class="N" cx="464.0" cy="615.0" r="2"/><circle class="N" cx="526.5" cy="598.7" r="2"/><circle class="N" cx="458.5" cy="618.6" r="2"/><circle class="P" cx="597.9" cy="510.1" r="2"/><circle class="D" cx="504.0" cy="578.7" r="2"/><circle class="D" cx="505.8" cy="577.6" r="2"/><circle class="D" cx="510.0" cy="577.5" r="2"/><circle class="P" cx="591.3" cy="511.6" r="2"/><circle class="N" cx="445.2" cy="624.8" r="2"/><circle class="S" cx="477.3" cy="616.8" r="2"/><circle class="A" cx="654.2" cy="458.1" r="2"/><circle class="X" cx="549.7" cy="579.8" r="2"/><circle class="A" cx="650.8" cy="460.6" r="2"/><circle class="H" cx="565.7" cy="539.5" r="2"/><circle class="A" cx="655.9" cy="461.2" r="2"/><circle class="S" cx="483.3" cy="605.5" r="2"/><circle class="P" cx="579.0" cy="526.0" r="2"/><circle class="P" cx="582.8" cy="523.3" r="2"/><circle class="D" cx="502.3" cy="581.7" r="2"/><circle class="H" cx="542.9" cy="552.8" r="2"/><circle class="P" cx="578.9" cy="526.1" r="2"/><circle class="S" cx="423.9" cy="676.0" r="2"/><circle class="D" cx="495.8" cy="584.6" r="2"/><circle class="N" cx="447.2" cy="630.2" r="2"/><circle class="X" cx="541.6" cy="608.5" r="2"/><circle class="A" cx="654.3" cy="458.6" r="2"/><circle class="X" cx="555.7" cy="581.2" r="2"/><circle class="H" cx="565.9" cy="541.8" r="2"/><circle class="H" cx="630.1" cy="500.4" r="2"/><circle class="X" cx="565.0" cy="599.3" r="2"/><circle class="P" cx="584.9" cy="522.5" r="2"/><circle class="X" cx="568.0" cy="594.1" r="2"/><circle class="D" cx="509.6" cy="581.7" r="2"/><circle class="S" cx="465.7" cy="623.9" r="2"/><circle class="P" cx="595.6" cy="510.4" r="2"/><circle class="S" cx="466.9" cy="622.1" r="2"/><circle class="D" cx="506.5" cy="574.5" r="2"/><circle class="H" cx="637.6" cy="478.7" r="2"/><circle class="P" cx="587.9" cy="516.7" r="2"/><circle class="A" cx="647.8" cy="466.2" r="2"/><circle class="X" cx="544.1" cy="607.7" r="2"/><circle class="P" cx="572.7" cy="531.9" r="2"/><circle class="N" cx="451.3" cy="625.3" r="2"/><circle class="S" cx="479.7" cy="612.4" r="2"/><circle class="H" cx="560.9" cy="540.6" r="2"/><circle class="N" cx="450.6" cy="622.8" r="2"/><circle class="D" cx="507.1" cy="579.3" r="2"/><circle class="S" cx="485.8" cy="604.8" r="2"/><circle class="H" cx="565.8" cy="542.1" r="2"/><circle class="N" cx="450.4" cy="630.2" r="2"/><circle class="A" cx="658.8" cy="461.3" r="2"/><circle class="D" cx="508.4" cy="578.1" r="2"/><circle class="D" cx="505.1" cy="577.1" r="2"/><circle class="S" cx="485.4" cy="607.0" r="2"/><circle class="D" cx="504.3" cy="579.4" r="2"/><circle class="X" cx="559.8" cy="604.2" r="2"/><circle class="X" cx="497.8" cy="600.0" r="2"/><circle class="P" cx="596.0" cy="501.2" r="2"/><circle class="A" cx="656.2" cy="459.1" r="2"/><circle class="S" cx="414.6" cy="677.6" r="2"/><circle class="X" cx="573.2" cy="515.6" r="2"/><circle class="H" cx="537.8" cy="554.5" r="2"/><circle class="X" cx="569.0" cy="601.4" r="2"/><circle class="D" cx="512.8" cy="568.9" r="2"/><circle class="S" cx="470.0" cy="616.6" r="2"/><circle class="P" cx="597.8" cy="510.2" r="2"/><circle class="X" cx="549.9" cy="581.2" r="2"/><circle class="H" cx="536.0" cy="557.4" r="2"/><circle class="S" cx="491.8" cy="599.0" r="2"/><circle class="P" cx="586.7" cy="520.6" r="2"/><circle class="H" cx="548.8" cy="550.9" r="2"/><circle class="A" cx="660.6" cy="456.1" r="2"/><circle class="X" cx="566.8" cy="598.2" r="2"/><circle class="S" cx="476.2" cy="619.3" r="2"/><circle class="H" cx="540.8" cy="551.8" r="2"/><circle class="N" cx="458.7" cy="618.3" r="2"/><circle class="S" cx="438.0" cy="659.5" r="2"/><circle class="D" cx="507.7" cy="577.4" r="2"/><circle class="N" cx="442.8" cy="635.6" r="2"/><circle class="S" cx="462.0" cy="628.9" r="2"/><circle class="D" cx="514.5" cy="574.9" r="2"/><circle class="H" cx="542.3" cy="555.3" r="2"/><circle class="P" cx="597.5" cy="507.5" r="2"/><circle class="H" cx="543.3" cy="553.5" r="2"/><circle class="X" cx="563.9" cy="594.8" r="2"/><circle class="P" cx="579.6" cy="525.1" r="2"/><circle class="D" cx="507.0" cy="578.6" r="2"/><circle class="H" cx="514.2" cy="573.1" r="2"/><circle class="X" cx="566.6" cy="593.2" r="2"/><circle class="A" cx="646.5" cy="468.9" r="2"/><circle class="D" cx="506.4" cy="576.5" r="2"/><circle class="A" cx="652.0" cy="466.6" r="2"/><circle class="A" cx="653.4" cy="459.9" r="2"/><circle class="A" cx="652.0" cy="462.1" r="2"/><circle class="D" cx="514.6" cy="573.1" r="2"/><circle class="X" cx="561.8" cy="607.6" r="2"/><circle class="D" cx="504.6" cy="577.5" r="2"/><circle class="D" cx="506.5" cy="579.0" r="2"/><circle class="A" cx="654.0" cy="457.4" r="2"/><circle class="D" cx="505.7" cy="577.0" r="2"/><circle class="X" cx="541.3" cy="608.4" r="2"/><circle class="P" cx="587.9" cy="514.9" r="2"/><circle class="S" cx="488.9" cy="603.3" r="2"/><circle class="H" cx="557.4" cy="547.3" r="2"/><circle class="P" cx="571.3" cy="531.4" r="2"/><circle class="A" cx="647.5" cy="466.2" r="2"/><circle class="X" cx="566.4" cy="594.5" r="2"/><circle class="N" cx="459.9" cy="611.7" r="2"/><circle class="N" cx="429.8" cy="649.8" r="2"/><circle class="A" cx="651.0" cy="460.3" r="2"/><circle class="D" cx="504.2" cy="581.3" r="2"/><circle class="X" cx="543.5" cy="605.4" r="2"/><circle class="S" cx="426.1" cy="673.2" r="2"/><circle class="A" cx="657.8" cy="460.0" r="2"/><circle class="S" cx="474.2" cy="620.5" r="2"/><circle class="N" cx="436.2" cy="645.4" r="2"/><circle class="S" cx="486.2" cy="607.6" r="2"/><circle class="A" cx="648.5" cy="465.6" r="2"/><circle class="A" cx="650.3" cy="462.8" r="2"/><circle class="P" cx="583.2" cy="522.4" r="2"/><circle class="H" cx="561.9" cy="540.4" r="2"/><circle class="A" cx="649.5" cy="461.8" r="2"/><circle class="X" cx="543.2" cy="608.0" r="2"/><circle class="H" cx="563.6" cy="546.2" r="2"/><circle class="H" cx="564.0" cy="544.4" r="2"/><circle class="H" cx="661.3" cy="469.9" r="2"/><circle class="N" cx="439.2" cy="631.2" r="2"/><circle class="S" cx="484.2" cy="606.3" r="2"/><circle class="S" cx="489.9" cy="599.3" r="2"/><circle class="N" cx="465.2" cy="613.7" r="2"/><circle class="A" cx="650.0" cy="465.8" r="2"/><circle class="D" cx="505.7" cy="581.8" r="2"/><circle class="H" cx="555.5" cy="545.6" r="2"/><circle class="H" cx="544.8" cy="553.0" r="2"/><circle class="A" cx="655.7" cy="458.6" r="2"/><circle class="A" cx="659.9" cy="457.7" r="2"/><circle class="D" cx="499.3" cy="581.2" r="2"/><circle class="D" cx="503.6" cy="580.2" r="2"/><circle class="S" cx="432.2" cy="667.7" r="2"/><circle class="D" cx="514.8" cy="575.5" r="2"/><circle class="P" cx="573.3" cy="531.0" r="2"/><circle class="D" cx="511.7" cy="578.9" r="2"/><circle class="X" cx="570.2" cy="601.0" r="2"/><circle class="P" cx="602.3" cy="510.1" r="2"/><circle class="A" cx="647.7" cy="468.6" r="2"/><circle class="X" cx="542.6" cy="606.9" r="2"/><circle class="H" cx="545.8" cy="561.1" r="2"/><circle class="H" cx="564.4" cy="542.9" r="2"/><circle class="X" cx="543.2" cy="608.1" r="2"/><circle class="D" cx="504.4" cy="579.8" r="2"/><circle class="P" cx="553.9" cy="551.5" r="2"/><circle class="H" cx="538.5" cy="557.5" r="2"/><circle class="N" cx="453.4" cy="627.3" r="2"/><circle class="P" cx="570.6" cy="531.5" r="2"/><circle class="S" cx="476.5" cy="614.3" r="2"/><circle class="X" cx="557.9" cy="604.4" r="2"/><circle class="H" cx="590.1" cy="529.1" r="2"/><circle class="P" cx="592.6" cy="499.9" r="2"/><circle class="P" cx="603.1" cy="494.1" r="2"/><circle class="D" cx="515.7" cy="568.4" r="2"/><circle class="D" cx="507.2" cy="580.8" r="2"/><circle class="X" cx="566.5" cy="601.1" r="2"/><circle class="X" cx="544.9" cy="604.5" r="2"/><circle class="S" cx="428.6" cy="669.0" r="2"/><circle class="X" cx="569.5" cy="602.6" r="2"/><circle class="S" cx="456.5" cy="631.2" r="2"/><circle class="N" cx="446.2" cy="634.8" r="2"/><circle class="P" cx="605.2" cy="505.3" r="2"/><circle class="N" cx="446.6" cy="623.1" r="2"/><circle class="X" cx="547.8" cy="605.9" r="2"/><circle class="D" cx="504.7" cy="582.5" r="2"/><circle class="S" cx="478.0" cy="609.6" r="2"/><circle class="A" cx="651.9" cy="463.2" r="2"/><circle class="S" cx="457.7" cy="628.8" r="2"/><circle class="H" cx="543.5" cy="541.4" r="2"/><circle class="P" cx="591.2" cy="512.6" r="2"/><circle class="D" cx="503.8" cy="589.6" r="2"/><circle class="P" cx="585.1" cy="523.3" r="2"/><circle class="S" cx="487.5" cy="602.8" r="2"/><circle class="N" cx="452.8" cy="617.7" r="2"/><circle class="H" cx="545.5" cy="552.8" r="2"/><circle class="N" cx="565.2" cy="581.5" r="2"/><circle class="A" cx="649.6" cy="462.1" r="2"/><circle class="D" cx="509.3" cy="576.7" r="2"/><circle class="H" cx="563.1" cy="542.6" r="2"/><circle class="A" cx="659.3" cy="458.1" r="2"/><circle class="N" cx="438.3" cy="639.4" r="2"/><circle class="H" cx="563.0" cy="541.9" r="2"/><circle class="N" cx="458.3" cy="624.2" r="2"/><circle class="H" cx="561.1" cy="542.2" r="2"/><circle class="D" cx="507.5" cy="582.1" r="2"/><circle class="A" cx="663.3" cy="454.7" r="2"/><circle class="H" cx="545.2" cy="553.0" r="2"/><circle class="N" cx="502.8" cy="592.2" r="2"/><circle class="A" cx="655.5" cy="461.1" r="2"/><circle class="P" cx="584.9" cy="521.1" r="2"/><circle class="H" cx="616.8" cy="479.2" r="2"/><circle class="P" cx="595.6" cy="509.4" r="2"/><circle class="H" cx="549.3" cy="554.6" r="2"/><circle class="X" cx="543.1" cy="605.9" r="2"/><circle class="X" cx="563.9" cy="600.9" r="2"/><circle class="P" cx="574.6" cy="532.2" r="2"/><circle class="N" cx="434.0" cy="642.5" r="2"/><circle class="A" cx="648.2" cy="466.2" r="2"/><circle class="X" cx="560.9" cy="600.9" r="2"/><circle class="D" cx="514.3" cy="575.0" r="2"/><circle class="P" cx="571.9" cy="529.5" r="2"/><circle class="D" cx="513.1" cy="574.9" r="2"/><circle class="N" cx="442.0" cy="634.4" r="2"/><circle class="H" cx="546.0" cy="551.5" r="2"/><circle class="N" cx="448.1" cy="625.1" r="2"/><circle class="S" cx="482.5" cy="607.6" r="2"/><circle class="N" cx="469.0" cy="608.5" r="2"/><circle class="S" cx="424.5" cy="674.2" r="2"/><circle class="N" cx="436.2" cy="641.3" r="2"/><circle class="S" cx="458.9" cy="631.9" r="2"/><circle class="X" cx="558.4" cy="601.2" r="2"/><circle class="A" cx="654.0" cy="462.5" r="2"/><circle class="D" cx="508.2" cy="575.8" r="2"/><circle class="P" cx="578.1" cy="524.6" r="2"/><circle class="N" cx="447.3" cy="622.5" r="2"/><circle class="H" cx="553.5" cy="549.3" r="2"/><circle class="A" cx="651.9" cy="463.7" r="2"/><circle class="P" cx="567.2" cy="535.0" r="2"/><circle class="S" cx="485.0" cy="607.8" r="2"/><circle class="N" cx="427.2" cy="648.1" r="2"/><circle class="X" cx="552.4" cy="604.8" r="2"/><circle class="N" cx="453.3" cy="627.1" r="2"/><circle class="N" cx="461.8" cy="630.8" r="2"/><circle class="S" cx="471.6" cy="618.2" r="2"/><circle class="D" cx="510.6" cy="577.9" r="2"/><circle class="P" cx="569.5" cy="531.7" r="2"/><circle class="H" cx="552.4" cy="550.7" r="2"/><circle class="A" cx="654.6" cy="459.0" r="2"/><circle class="A" cx="655.3" cy="461.7" r="2"/><circle class="A" cx="652.6" cy="464.2" r="2"/><circle class="N" cx="453.3" cy="627.3" r="2"/><circle class="A" cx="650.3" cy="463.4" r="2"/><circle class="A" cx="652.5" cy="460.5" r="2"/><circle class="S" cx="468.3" cy="616.5" r="2"/><circle class="H" cx="557.0" cy="548.4" r="2"/><circle class="D" cx="509.8" cy="581.0" r="2"/><circle class="X" cx="557.6" cy="602.7" r="2"/><circle class="X" cx="537.7" cy="591.0" r="2"/><circle class="H" cx="539.5" cy="555.7" r="2"/><circle class="A" cx="657.0" cy="457.7" r="2"/><circle class="A" cx="649.0" cy="462.4" r="2"/><circle class="X" cx="547.0" cy="608.0" r="2"/><circle class="X" cx="545.2" cy="606.8" r="2"/><circle class="X" cx="544.3" cy="604.8" r="2"/><circle class="X" cx="555.9" cy="605.0" r="2"/><circle class="D" cx="503.0" cy="584.6" r="2"/><circle class="S" cx="482.9" cy="606.2" r="2"/><circle class="N" cx="406.7" cy="673.6" r="2"/><circle class="S" cx="473.3" cy="615.4" r="2"/><circle class="N" cx="463.0" cy="622.7" r="2"/><circle class="H" cx="562.1" cy="543.6" r="2"/><circle class="S" cx="424.6" cy="676.9" r="2"/><circle class="H" cx="558.9" cy="544.0" r="2"/><circle class="A" cx="654.1" cy="459.2" r="2"/><circle class="N" cx="452.6" cy="624.5" r="2"/><circle class="H" cx="565.5" cy="540.8" r="2"/><circle class="S" cx="482.7" cy="608.1" r="2"/><circle class="N" cx="458.0" cy="626.4" r="2"/><circle class="X" cx="571.0" cy="603.4" r="2"/><circle class="N" cx="455.2" cy="625.3" r="2"/><circle class="P" cx="598.0" cy="506.6" r="2"/><circle class="N" cx="451.3" cy="628.5" r="2"/><circle class="S" cx="479.7" cy="613.2" r="2"/><circle class="N" cx="455.3" cy="620.5" r="2"/><circle class="A" cx="653.1" cy="461.4" r="2"/><circle class="H" cx="564.6" cy="541.2" r="2"/><circle class="S" cx="473.4" cy="614.5" r="2"/><circle class="D" cx="501.6" cy="581.9" r="2"/><circle class="X" cx="564.3" cy="600.0" r="2"/><circle class="X" cx="552.7" cy="551.1" r="2"/><circle class="P" cx="570.3" cy="533.7" r="2"/><circle class="X" cx="566.0" cy="598.9" r="2"/><circle class="P" cx="570.8" cy="531.4" r="2"/><circle class="D" cx="508.0" cy="575.9" r="2"/><circle class="D" cx="517.6" cy="578.0" r="2"/><circle class="H" cx="606.4" cy="498.6" r="2"/><circle class="P" cx="600.1" cy="500.4" r="2"/><circle class="D" cx="508.1" cy="580.0" r="2"/><circle class="N" cx="454.8" cy="637.8" r="2"/><circle class="P" cx="616.9" cy="494.6" r="2"/><circle class="D" cx="503.1" cy="580.7" r="2"/><circle class="H" cx="567.3" cy="543.7" r="2"/><circle class="A" cx="653.3" cy="462.4" r="2"/><circle class="P" cx="597.6" cy="509.0" r="2"/><circle class="S" cx="484.6" cy="607.8" r="2"/><circle class="S" cx="496.5" cy="627.4" r="2"/><circle class="S" cx="477.9" cy="617.2" r="2"/><circle class="D" cx="509.4" cy="576.1" r="2"/><circle class="S" cx="475.4" cy="615.6" r="2"/><circle class="H" cx="660.0" cy="473.2" r="2"/><circle class="N" cx="442.4" cy="615.6" r="2"/><circle class="P" cx="587.8" cy="512.7" r="2"/><circle class="P" cx="596.4" cy="498.6" r="2"/><circle class="N" cx="461.6" cy="619.8" r="2"/><circle class="X" cx="562.7" cy="594.3" r="2"/><circle class="A" cx="653.3" cy="459.4" r="2"/><circle class="D" cx="507.7" cy="579.4" r="2"/><circle class="N" cx="429.1" cy="649.6" r="2"/><circle class="D" cx="510.8" cy="576.7" r="2"/><circle class="P" cx="588.9" cy="501.1" r="2"/><circle class="D" cx="506.1" cy="580.6" r="2"/><circle class="H" cx="561.0" cy="545.2" r="2"/><circle class="A" cx="650.7" cy="462.2" r="2"/><circle class="P" cx="593.0" cy="513.5" r="2"/><circle class="X" cx="546.0" cy="607.0" r="2"/><circle class="N" cx="450.5" cy="630.3" r="2"/><circle class="P" cx="577.2" cy="525.1" r="2"/><circle class="N" cx="445.2" cy="631.2" r="2"/><circle class="X" cx="541.5" cy="608.7" r="2"/><circle class="A" cx="654.5" cy="458.2" r="2"/><circle class="X" cx="541.1" cy="609.6" r="2"/><circle class="N" cx="525.2" cy="536.8" r="2"/><circle class="A" cx="655.1" cy="458.2" r="2"/><circle class="H" cx="541.1" cy="555.8" r="2"/><circle class="H" cx="577.7" cy="540.6" r="2"/><circle class="X" cx="564.2" cy="600.9" r="2"/><circle class="N" cx="446.9" cy="631.5" r="2"/><circle class="S" cx="467.3" cy="619.4" r="2"/><circle class="S" cx="433.9" cy="667.5" r="2"/><circle class="H" cx="560.2" cy="544.7" r="2"/><circle class="N" cx="449.8" cy="626.8" r="2"/><circle class="N" cx="457.8" cy="622.5" r="2"/><circle class="S" cx="414.5" cy="676.1" r="2"/><circle class="D" cx="510.2" cy="581.2" r="2"/><circle class="N" cx="456.9" cy="621.9" r="2"/><circle class="S" cx="474.0" cy="617.9" r="2"/><circle class="P" cx="591.8" cy="514.3" r="2"/><circle class="S" cx="490.0" cy="601.9" r="2"/><circle class="H" cx="564.9" cy="540.4" r="2"/><circle class="S" cx="469.8" cy="620.9" r="2"/><circle class="P" cx="590.1" cy="504.9" r="2"/><circle class="X" cx="532.0" cy="601.2" r="2"/><circle class="N" cx="454.3" cy="626.1" r="2"/><circle class="X" cx="583.9" cy="569.0" r="2"/><circle class="S" cx="486.2" cy="603.5" r="2"/><circle class="N" cx="453.7" cy="626.1" r="2"/><circle class="A" cx="650.2" cy="461.9" r="2"/><circle class="S" cx="467.4" cy="621.9" r="2"/><circle class="N" cx="456.4" cy="617.8" r="2"/><circle class="N" cx="435.3" cy="641.4" r="2"/><circle class="S" cx="489.4" cy="600.2" r="2"/><circle class="N" cx="457.6" cy="622.1" r="2"/><circle class="S" cx="494.5" cy="597.1" r="2"/><circle class="S" cx="479.5" cy="607.6" r="2"/><circle class="X" cx="544.0" cy="592.5" r="2"/><circle class="N" cx="455.0" cy="628.1" r="2"/><circle class="X" cx="542.2" cy="606.2" r="2"/><circle class="N" cx="450.3" cy="622.7" r="2"/><circle class="N" cx="467.8" cy="603.7" r="2"/><circle class="D" cx="508.6" cy="579.7" r="2"/><circle class="X" cx="571.9" cy="595.2" r="2"/><circle class="A" cx="657.5" cy="456.1" r="2"/><circle class="P" cx="593.9" cy="499.2" r="2"/><circle class="P" cx="582.2" cy="523.0" r="2"/><circle class="S" cx="487.2" cy="606.2" r="2"/><circle class="D" cx="508.5" cy="577.6" r="2"/><circle class="S" cx="484.4" cy="603.7" r="2"/><circle class="S" cx="437.1" cy="662.8" r="2"/><circle class="A" cx="652.9" cy="461.7" r="2"/><circle class="D" cx="507.9" cy="575.0" r="2"/><circle class="P" cx="585.8" cy="501.2" r="2"/><circle class="X" cx="564.1" cy="598.7" r="2"/><circle class="S" cx="491.6" cy="595.3" r="2"/><circle class="H" cx="551.1" cy="553.5" r="2"/><circle class="A" cx="651.3" cy="465.3" r="2"/><circle class="X" cx="561.7" cy="601.3" r="2"/><circle class="N" cx="457.2" cy="620.6" r="2"/><circle class="N" cx="439.7" cy="637.9" r="2"/><circle class="D" cx="512.6" cy="577.6" r="2"/><circle class="A" cx="649.4" cy="464.7" r="2"/><circle class="H" cx="564.5" cy="553.5" r="2"/><circle class="H" cx="558.0" cy="544.7" r="2"/><circle class="H" cx="545.6" cy="549.3" r="2"/><circle class="H" cx="547.4" cy="551.8" r="2"/><circle class="H" cx="544.4" cy="554.0" r="2"/><circle class="H" cx="564.4" cy="543.1" r="2"/><circle class="H" cx="547.0" cy="552.4" r="2"/><circle class="N" cx="457.4" cy="620.1" r="2"/><circle class="D" cx="524.0" cy="566.0" r="2"/><circle class="A" cx="652.1" cy="461.3" r="2"/><circle class="H" cx="635.8" cy="488.1" r="2"/><circle class="N" cx="454.8" cy="621.3" r="2"/><circle class="N" cx="464.8" cy="609.8" r="2"/><circle class="H" cx="548.8" cy="551.9" r="2"/><circle class="X" cx="544.0" cy="607.1" r="2"/><circle class="S" cx="473.6" cy="617.8" r="2"/><circle class="S" cx="411.9" cy="676.5" r="2"/><circle class="X" cx="541.7" cy="606.9" r="2"/><circle class="A" cx="653.2" cy="459.2" r="2"/><circle class="S" cx="457.1" cy="632.1" r="2"/><circle class="X" cx="567.4" cy="602.5" r="2"/><circle class="S" cx="489.8" cy="598.6" r="2"/><circle class="X" cx="539.6" cy="604.9" r="2"/><circle class="A" cx="655.4" cy="462.7" r="2"/><circle class="A" cx="652.2" cy="462.1" r="2"/><circle class="H" cx="538.3" cy="555.1" r="2"/><circle class="A" cx="656.0" cy="459.4" r="2"/><circle class="A" cx="660.5" cy="459.2" r="2"/><circle class="H" cx="551.4" cy="548.6" r="2"/><circle class="S" cx="488.1" cy="602.6" r="2"/><circle class="D" cx="510.1" cy="571.2" r="2"/><circle class="S" cx="424.3" cy="674.0" r="2"/><circle class="H" cx="544.7" cy="553.3" r="2"/><circle class="A" cx="649.6" cy="463.1" r="2"/><circle class="P" cx="587.3" cy="518.0" r="2"/><circle class="X" cx="540.1" cy="607.2" r="2"/><circle class="D" cx="505.2" cy="579.8" r="2"/><circle class="N" cx="447.6" cy="632.8" r="2"/><circle class="X" cx="565.0" cy="609.7" r="2"/><circle class="X" cx="571.6" cy="599.8" r="2"/><circle class="P" cx="583.4" cy="520.1" r="2"/><circle class="D" cx="509.4" cy="573.6" r="2"/><circle class="D" cx="503.7" cy="580.3" r="2"/><circle class="S" cx="461.9" cy="626.3" r="2"/><circle class="H" cx="539.2" cy="560.7" r="2"/><circle class="H" cx="545.0" cy="551.0" r="2"/><circle class="H" cx="557.0" cy="543.6" r="2"/><circle class="H" cx="564.1" cy="545.0" r="2"/><circle class="P" cx="600.4" cy="509.0" r="2"/><circle class="X" cx="542.7" cy="608.2" r="2"/><circle class="H" cx="568.2" cy="541.4" r="2"/><circle class="H" cx="548.7" cy="552.6" r="2"/><circle class="N" cx="431.9" cy="647.4" r="2"/><circle class="X" cx="544.8" cy="611.0" r="2"/><circle class="N" cx="444.9" cy="633.9" r="2"/><circle class="X" cx="566.4" cy="599.1" r="2"/><circle class="H" cx="539.9" cy="555.5" r="2"/><circle class="N" cx="453.7" cy="618.1" r="2"/><circle class="H" cx="535.1" cy="556.4" r="2"/><circle class="S" cx="501.4" cy="595.9" r="2"/><circle class="S" cx="464.9" cy="626.5" r="2"/><circle class="H" cx="621.8" cy="492.4" r="2"/><circle class="N" cx="456.6" cy="627.9" r="2"/><circle class="S" cx="490.9" cy="599.0" r="2"/><circle class="H" cx="582.6" cy="554.0" r="2"/><circle class="N" cx="458.0" cy="627.2" r="2"/><circle class="N" cx="427.6" cy="648.0" r="2"/><circle class="S" cx="480.1" cy="608.5" r="2"/><circle class="D" cx="505.1" cy="586.8" r="2"/><circle class="X" cx="568.1" cy="608.5" r="2"/><circle class="N" cx="461.3" cy="617.6" r="2"/><circle class="N" cx="455.5" cy="629.4" r="2"/><circle class="D" cx="507.5" cy="581.8" r="2"/><circle class="N" cx="450.2" cy="626.7" r="2"/><circle class="X" cx="539.6" cy="607.7" r="2"/><circle class="N" cx="438.1" cy="633.3" r="2"/><circle class="N" cx="430.3" cy="646.9" r="2"/><circle class="X" cx="542.1" cy="607.7" r="2"/><circle class="A" cx="655.2" cy="457.7" r="2"/><circle class="S" cx="461.9" cy="630.9" r="2"/><circle class="X" cx="564.9" cy="605.5" r="2"/><circle class="P" cx="567.2" cy="535.6" r="2"/><circle class="N" cx="450.1" cy="627.1" r="2"/><circle class="P" cx="579.7" cy="524.8" r="2"/><circle class="H" cx="554.6" cy="542.4" r="2"/><circle class="H" cx="578.9" cy="539.8" r="2"/><circle class="X" cx="568.3" cy="602.0" r="2"/><circle class="D" cx="504.7" cy="577.8" r="2"/><circle class="X" cx="543.1" cy="608.8" r="2"/><circle class="S" cx="408.1" cy="675.7" r="2"/><circle class="P" cx="593.9" cy="509.5" r="2"/><circle class="N" cx="431.9" cy="648.6" r="2"/><circle class="X" cx="545.6" cy="605.3" r="2"/><circle class="A" cx="655.2" cy="457.4" r="2"/><circle class="N" cx="455.0" cy="623.4" r="2"/><circle class="S" cx="456.9" cy="633.0" r="2"/><circle class="P" cx="626.3" cy="475.4" r="2"/><circle class="S" cx="480.4" cy="607.6" r="2"/><circle class="S" cx="492.9" cy="597.2" r="2"/><circle class="S" cx="474.4" cy="618.8" r="2"/><circle class="X" cx="543.7" cy="608.1" r="2"/><circle class="N" cx="448.0" cy="626.4" r="2"/><circle class="D" cx="488.5" cy="581.5" r="2"/><circle class="P" cx="592.3" cy="510.3" r="2"/><circle class="H" cx="560.0" cy="545.8" r="2"/><circle class="X" cx="542.9" cy="597.8" r="2"/><circle class="P" cx="577.9" cy="525.4" r="2"/><circle class="A" cx="655.0" cy="459.5" r="2"/><circle class="H" cx="530.6" cy="562.6" r="2"/><circle class="S" cx="467.3" cy="621.4" r="2"/><circle class="N" cx="562.7" cy="512.9" r="2"/><circle class="X" cx="541.5" cy="607.8" r="2"/><circle class="H" cx="547.6" cy="548.2" r="2"/><circle class="P" cx="579.1" cy="528.3" r="2"/><circle class="P" cx="592.1" cy="514.1" r="2"/><circle class="A" cx="649.1" cy="465.2" r="2"/><circle class="A" cx="653.7" cy="457.6" r="2"/><circle class="X" cx="552.7" cy="608.5" r="2"/><circle class="D" cx="509.0" cy="579.7" r="2"/><circle class="N" cx="448.4" cy="625.8" r="2"/><circle class="P" cx="569.1" cy="533.0" r="2"/><circle class="H" cx="542.6" cy="555.3" r="2"/><circle class="N" cx="464.0" cy="623.2" r="2"/><circle class="A" cx="658.2" cy="459.1" r="2"/><circle class="X" cx="540.4" cy="608.9" r="2"/><circle class="S" cx="480.9" cy="608.1" r="2"/><circle class="N" cx="436.4" cy="634.4" r="2"/><circle class="X" cx="563.3" cy="598.6" r="2"/><circle class="P" cx="568.7" cy="533.0" r="2"/><circle class="D" cx="503.8" cy="579.4" r="2"/><circle class="D" cx="500.7" cy="584.8" r="2"/><circle class="H" cx="513.5" cy="570.2" r="2"/><circle class="S" cx="502.8" cy="604.2" r="2"/><circle class="P" cx="588.7" cy="519.0" r="2"/><circle class="N" cx="432.3" cy="647.6" r="2"/><circle class="N" cx="458.6" cy="618.4" r="2"/><circle class="X" cx="562.6" cy="603.7" r="2"/><circle class="A" cx="656.8" cy="456.3" r="2"/><circle class="P" cx="581.4" cy="524.8" r="2"/><circle class="X" cx="542.5" cy="610.6" r="2"/><circle class="S" cx="469.1" cy="622.4" r="2"/><circle class="H" cx="558.1" cy="544.8" r="2"/><circle class="X" cx="562.4" cy="598.0" r="2"/><circle class="A" cx="652.8" cy="461.5" r="2"/><circle class="S" cx="492.7" cy="598.5" r="2"/><circle class="X" cx="570.7" cy="592.2" r="2"/><circle class="P" cx="580.7" cy="513.0" r="2"/><circle class="A" cx="653.6" cy="459.5" r="2"/><circle class="H" cx="522.1" cy="572.5" r="2"/><circle class="N" cx="454.6" cy="625.7" r="2"/><circle class="X" cx="542.1" cy="610.4" r="2"/><circle class="A" cx="654.8" cy="460.8" r="2"/><circle class="N" cx="455.1" cy="627.2" r="2"/><circle class="H" cx="537.0" cy="561.1" r="2"/><circle class="A" cx="650.3" cy="462.3" r="2"/><circle class="D" cx="509.5" cy="577.0" r="2"/><circle class="H" cx="554.6" cy="548.6" r="2"/><circle class="D" cx="504.2" cy="582.4" r="2"/><circle class="S" cx="492.5" cy="599.1" r="2"/><circle class="N" cx="509.0" cy="598.7" r="2"/><circle class="X" cx="566.3" cy="609.0" r="2"/><circle class="H" cx="560.6" cy="543.4" r="2"/><circle class="P" cx="593.5" cy="516.2" r="2"/><circle class="S" cx="468.6" cy="620.6" r="2"/><circle class="D" cx="507.0" cy="581.2" r="2"/><circle class="H" cx="545.8" cy="551.4" r="2"/><circle class="P" cx="583.0" cy="521.8" r="2"/><circle class="H" cx="538.3" cy="555.7" r="2"/><circle class="S" cx="481.7" cy="608.0" r="2"/><circle class="A" cx="646.3" cy="466.3" r="2"/><circle class="H" cx="623.1" cy="501.9" r="2"/><circle class="N" cx="475.3" cy="586.2" r="2"/><circle class="P" cx="602.9" cy="505.7" r="2"/><circle class="A" cx="655.3" cy="462.1" r="2"/><circle class="P" cx="574.1" cy="530.5" r="2"/><circle class="S" cx="480.1" cy="612.5" r="2"/><circle class="D" cx="503.9" cy="580.5" r="2"/><circle class="P" cx="552.4" cy="540.6" r="2"/><circle class="D" cx="508.0" cy="578.4" r="2"/><circle class="N" cx="457.0" cy="620.3" r="2"/><circle class="N" cx="541.5" cy="583.0" r="2"/><circle class="D" cx="503.0" cy="581.1" r="2"/><circle class="X" cx="563.9" cy="586.0" r="2"/><circle class="N" cx="457.4" cy="627.6" r="2"/><circle class="N" cx="428.4" cy="647.2" r="2"/><circle class="X" cx="540.5" cy="609.4" r="2"/><circle class="P" cx="581.9" cy="521.7" r="2"/><circle class="D" cx="508.5" cy="581.7" r="2"/><circle class="D" cx="514.7" cy="573.3" r="2"/><circle class="H" cx="534.9" cy="555.5" r="2"/><circle class="S" cx="468.1" cy="622.9" r="2"/><circle class="D" cx="499.1" cy="584.9" r="2"/><circle class="X" cx="535.2" cy="608.7" r="2"/><circle class="X" cx="571.2" cy="598.9" r="2"/><circle class="H" cx="564.9" cy="543.6" r="2"/><circle class="A" cx="653.1" cy="465.6" r="2"/><circle class="N" cx="460.5" cy="619.1" r="2"/><circle class="H" cx="549.5" cy="550.0" r="2"/><circle class="P" cx="571.4" cy="530.1" r="2"/><circle class="H" cx="536.3" cy="557.5" r="2"/><circle class="D" cx="501.6" cy="583.7" r="2"/><circle class="D" cx="507.5" cy="578.7" r="2"/><circle class="X" cx="571.9" cy="583.5" r="2"/><circle class="P" cx="606.9" cy="486.2" r="2"/><circle class="S" cx="467.7" cy="620.5" r="2"/><circle class="A" cx="653.9" cy="459.1" r="2"/><circle class="D" cx="499.4" cy="585.2" r="2"/><circle class="P" cx="585.6" cy="520.9" r="2"/><circle class="H" cx="541.8" cy="554.0" r="2"/><circle class="N" cx="458.0" cy="614.1" r="2"/><circle class="H" cx="598.9" cy="541.6" r="2"/><circle class="A" cx="657.6" cy="455.2" r="2"/><circle class="P" cx="574.0" cy="528.9" r="2"/><circle class="D" cx="591.4" cy="528.6" r="2"/><circle class="X" cx="552.7" cy="604.8" r="2"/><circle class="S" cx="461.1" cy="628.0" r="2"/><circle class="A" cx="653.3" cy="461.1" r="2"/><circle class="P" cx="596.7" cy="511.4" r="2"/><circle class="X" cx="499.0" cy="601.2" r="2"/><circle class="S" cx="460.8" cy="628.9" r="2"/><circle class="X" cx="547.4" cy="606.0" r="2"/><circle class="P" cx="593.5" cy="516.5" r="2"/><circle class="S" cx="480.2" cy="610.3" r="2"/><circle class="N" cx="436.6" cy="640.6" r="2"/><circle class="D" cx="507.1" cy="578.7" r="2"/><circle class="S" cx="490.3" cy="600.5" r="2"/><circle class="D" cx="512.1" cy="574.7" r="2"/><circle class="X" cx="567.8" cy="594.7" r="2"/><circle class="S" cx="430.6" cy="667.6" r="2"/><circle class="S" cx="457.8" cy="632.9" r="2"/><circle class="D" cx="506.7" cy="576.5" r="2"/><circle class="N" cx="448.4" cy="626.4" r="2"/><circle class="H" cx="554.4" cy="547.3" r="2"/><circle class="P" cx="647.5" cy="484.4" r="2"/><circle class="D" cx="505.1" cy="584.1" r="2"/><circle class="P" cx="591.9" cy="500.7" r="2"/><circle class="D" cx="505.5" cy="583.8" r="2"/><circle class="S" cx="473.2" cy="614.0" r="2"/><circle class="S" cx="460.1" cy="629.3" r="2"/><circle class="H" cx="549.4" cy="550.6" r="2"/><circle class="P" cx="557.5" cy="537.7" r="2"/><circle class="S" cx="426.2" cy="671.5" r="2"/><circle class="N" cx="519.5" cy="591.2" r="2"/><circle class="D" cx="507.6" cy="577.4" r="2"/><circle class="P" cx="581.0" cy="522.8" r="2"/><circle class="S" cx="468.4" cy="620.1" r="2"/><circle class="X" cx="547.7" cy="609.6" r="2"/><circle class="P" cx="571.0" cy="533.5" r="2"/><circle class="D" cx="520.7" cy="570.6" r="2"/><circle class="X" cx="539.3" cy="609.2" r="2"/><circle class="X" cx="539.3" cy="607.5" r="2"/><circle class="H" cx="547.3" cy="550.9" r="2"/><circle class="D" cx="508.2" cy="577.4" r="2"/><circle class="P" cx="586.8" cy="502.8" r="2"/><circle class="S" cx="481.1" cy="611.6" r="2"/><circle class="X" cx="558.9" cy="605.0" r="2"/><circle class="D" cx="511.5" cy="578.8" r="2"/><circle class="X" cx="547.5" cy="608.5" r="2"/><circle class="H" cx="577.2" cy="559.3" r="2"/><circle class="X" cx="565.3" cy="598.5" r="2"/><circle class="A" cx="660.4" cy="458.5" r="2"/><circle class="H" cx="563.1" cy="542.9" r="2"/><circle class="A" cx="659.1" cy="459.5" r="2"/><circle class="N" cx="453.7" cy="624.9" r="2"/><circle class="S" cx="476.6" cy="612.7" r="2"/><circle class="N" cx="450.4" cy="628.6" r="2"/><circle class="N" cx="444.9" cy="618.5" r="2"/><circle class="P" cx="599.8" cy="508.7" r="2"/><circle class="P" cx="591.9" cy="513.6" r="2"/><circle class="X" cx="564.4" cy="595.0" r="2"/><circle class="H" cx="545.5" cy="553.7" r="2"/><circle class="S" cx="467.3" cy="619.6" r="2"/><circle class="S" cx="466.7" cy="624.7" r="2"/><circle class="X" cx="570.0" cy="601.9" r="2"/><circle class="N" cx="461.1" cy="616.0" r="2"/><circle class="P" cx="573.5" cy="530.0" r="2"/><circle class="H" cx="549.7" cy="551.4" r="2"/><circle class="H" cx="545.2" cy="555.1" r="2"/><circle class="D" cx="504.8" cy="570.3" r="2"/><circle class="H" cx="539.4" cy="554.7" r="2"/><circle class="X" cx="562.6" cy="605.8" r="2"/><circle class="P" cx="561.9" cy="530.4" r="2"/><circle class="A" cx="658.2" cy="458.4" r="2"/><circle class="A" cx="651.6" cy="461.6" r="2"/><circle class="D" cx="508.8" cy="588.7" r="2"/><circle class="D" cx="516.2" cy="570.1" r="2"/><circle class="D" cx="497.4" cy="587.1" r="2"/><circle class="S" cx="471.3" cy="621.0" r="2"/><circle class="H" cx="547.5" cy="552.9" r="2"/><circle class="S" cx="481.0" cy="609.9" r="2"/><circle class="X" cx="569.2" cy="607.1" r="2"/><circle class="N" cx="447.3" cy="610.7" r="2"/><circle class="N" cx="550.2" cy="586.2" r="2"/><circle class="A" cx="649.8" cy="465.0" r="2"/><circle class="H" cx="551.9" cy="548.6" r="2"/><circle class="N" cx="442.7" cy="635.2" r="2"/><circle class="X" cx="571.4" cy="583.0" r="2"/><circle class="A" cx="649.8" cy="464.4" r="2"/><circle class="X" cx="544.2" cy="607.9" r="2"/><circle class="X" cx="584.6" cy="570.5" r="2"/><circle class="P" cx="576.7" cy="528.8" r="2"/><circle class="N" cx="466.7" cy="622.2" r="2"/><circle class="A" cx="653.5" cy="461.7" r="2"/><circle class="P" cx="573.7" cy="529.0" r="2"/><circle class="N" cx="429.1" cy="664.9" r="2"/><circle class="S" cx="479.2" cy="613.5" r="2"/><circle class="D" cx="499.7" cy="579.7" r="2"/><circle class="D" cx="514.6" cy="575.9" r="2"/><circle class="A" cx="649.9" cy="463.2" r="2"/><circle class="A" cx="649.4" cy="464.9" r="2"/><circle class="H" cx="559.2" cy="557.9" r="2"/><circle class="X" cx="583.4" cy="569.6" r="2"/><circle class="X" cx="572.7" cy="581.0" r="2"/><circle class="A" cx="653.4" cy="460.2" r="2"/><circle class="P" cx="571.3" cy="532.4" r="2"/><circle class="S" cx="489.5" cy="600.2" r="2"/><circle class="S" cx="491.9" cy="600.1" r="2"/><circle class="D" cx="502.9" cy="581.0" r="2"/><circle class="N" cx="449.4" cy="628.5" r="2"/><circle class="N" cx="449.0" cy="623.3" r="2"/><circle class="P" cx="613.4" cy="490.6" r="2"/><circle class="H" cx="533.0" cy="560.0" r="2"/><circle class="H" cx="540.7" cy="555.7" r="2"/><circle class="X" cx="474.1" cy="617.4" r="2"/><circle class="N" cx="451.8" cy="631.0" r="2"/><circle class="A" cx="652.3" cy="461.0" r="2"/><circle class="N" cx="456.7" cy="619.4" r="2"/><circle class="D" cx="508.4" cy="577.8" r="2"/><circle class="X" cx="535.6" cy="607.3" r="2"/><circle class="H" cx="520.3" cy="565.7" r="2"/><circle class="D" cx="514.4" cy="572.9" r="2"/><circle class="S" cx="469.1" cy="616.9" r="2"/><circle class="X" cx="554.6" cy="605.7" r="2"/><circle class="D" cx="505.9" cy="581.9" r="2"/><circle class="P" cx="584.1" cy="521.1" r="2"/><circle class="H" cx="524.7" cy="565.2" r="2"/><circle class="X" cx="537.7" cy="591.2" r="2"/><circle class="H" cx="563.3" cy="542.7" r="2"/><circle class="H" cx="544.8" cy="554.0" r="2"/><circle class="A" cx="650.8" cy="464.5" r="2"/><circle class="N" cx="458.9" cy="622.2" r="2"/><circle class="N" cx="443.0" cy="635.5" r="2"/><circle class="H" cx="540.4" cy="555.1" r="2"/><circle class="N" cx="431.1" cy="643.4" r="2"/><circle class="N" cx="448.1" cy="626.3" r="2"/><circle class="H" cx="539.8" cy="556.9" r="2"/><circle class="A" cx="654.3" cy="459.7" r="2"/><circle class="N" cx="431.8" cy="644.8" r="2"/><circle class="P" cx="582.6" cy="523.9" r="2"/><circle class="H" cx="547.5" cy="551.6" r="2"/><circle class="S" cx="495.1" cy="596.8" r="2"/><circle class="A" cx="648.9" cy="464.7" r="2"/><circle class="X" cx="545.4" cy="605.5" r="2"/><circle class="A" cx="652.6" cy="461.7" r="2"/><circle class="S" cx="462.3" cy="625.4" r="2"/><circle class="A" cx="653.2" cy="462.8" r="2"/><circle class="S" cx="479.9" cy="609.1" r="2"/><circle class="P" cx="591.2" cy="511.7" r="2"/><circle class="H" cx="550.4" cy="550.0" r="2"/><circle class="D" cx="504.9" cy="583.0" r="2"/><circle class="X" cx="564.7" cy="596.6" r="2"/><circle class="X" cx="544.3" cy="612.2" r="2"/><circle class="S" cx="476.3" cy="612.6" r="2"/><circle class="S" cx="487.6" cy="603.9" r="2"/><circle class="P" cx="566.9" cy="535.6" r="2"/><circle class="N" cx="458.0" cy="617.2" r="2"/><circle class="X" cx="554.9" cy="603.8" r="2"/><circle class="X" cx="568.7" cy="599.2" r="2"/><circle class="D" cx="511.6" cy="577.4" r="2"/><circle class="A" cx="656.3" cy="461.5" r="2"/><circle class="P" cx="585.9" cy="523.0" r="2"/><circle class="X" cx="565.2" cy="607.7" r="2"/><circle class="H" cx="558.5" cy="546.2" r="2"/><circle class="H" cx="535.5" cy="557.9" r="2"/><circle class="A" cx="658.2" cy="456.4" r="2"/><circle class="X" cx="567.4" cy="600.9" r="2"/><circle class="N" cx="450.5" cy="625.0" r="2"/><circle class="D" cx="507.3" cy="583.4" r="2"/><circle class="P" cx="589.6" cy="518.6" r="2"/><circle class="H" cx="562.9" cy="543.4" r="2"/><circle class="H" cx="536.3" cy="557.5" r="2"/><circle class="H" cx="550.4" cy="549.2" r="2"/><circle class="A" cx="651.0" cy="459.1" r="2"/><circle class="X" cx="543.2" cy="610.2" r="2"/><circle class="D" cx="507.0" cy="577.2" r="2"/><circle class="A" cx="649.8" cy="467.3" r="2"/><circle class="X" cx="551.5" cy="609.3" r="2"/><circle class="N" cx="446.8" cy="630.7" r="2"/><circle class="D" cx="507.7" cy="580.5" r="2"/><circle class="S" cx="471.7" cy="624.7" r="2"/><circle class="A" cx="652.1" cy="463.5" r="2"/><circle class="N" cx="458.3" cy="625.2" r="2"/><circle class="H" cx="539.8" cy="553.7" r="2"/><circle class="D" cx="502.3" cy="580.5" r="2"/><circle class="H" cx="555.1" cy="547.8" r="2"/><circle class="N" cx="455.4" cy="607.7" r="2"/><circle class="D" cx="511.1" cy="575.0" r="2"/><circle class="P" cx="588.8" cy="517.0" r="2"/><circle class="X" cx="569.3" cy="597.9" r="2"/><circle class="D" cx="510.4" cy="577.7" r="2"/><circle class="H" cx="542.8" cy="556.0" r="2"/><circle class="N" cx="440.2" cy="635.1" r="2"/><circle class="D" cx="507.3" cy="579.4" r="2"/><circle class="S" cx="480.1" cy="613.0" r="2"/><circle class="A" cx="656.8" cy="458.2" r="2"/><circle class="H" cx="567.6" cy="539.4" r="2"/><circle class="H" cx="562.5" cy="541.9" r="2"/><circle class="P" cx="630.1" cy="470.7" r="2"/><circle class="H" cx="535.8" cy="559.0" r="2"/><circle class="D" cx="508.4" cy="579.3" r="2"/><circle class="D" cx="507.9" cy="577.6" r="2"/><circle class="S" cx="481.0" cy="610.4" r="2"/><circle class="P" cx="599.0" cy="509.1" r="2"/><circle class="N" cx="431.3" cy="647.9" r="2"/><circle class="X" cx="543.3" cy="605.0" r="2"/><circle class="H" cx="558.8" cy="542.2" r="2"/><circle class="H" cx="563.3" cy="541.1" r="2"/><circle class="S" cx="430.4" cy="668.6" r="2"/><circle class="N" cx="463.4" cy="622.7" r="2"/><circle class="N" cx="454.3" cy="618.7" r="2"/><circle class="N" cx="444.1" cy="626.0" r="2"/><circle class="H" cx="545.4" cy="553.6" r="2"/><circle class="P" cx="581.7" cy="525.2" r="2"/><circle class="N" cx="436.1" cy="641.2" r="2"/><circle class="N" cx="458.9" cy="618.5" r="2"/><circle class="A" cx="651.7" cy="463.0" r="2"/><circle class="X" cx="566.1" cy="603.4" r="2"/><circle class="H" cx="548.2" cy="552.2" r="2"/><circle class="H" cx="538.5" cy="563.1" r="2"/><circle class="S" cx="472.9" cy="617.9" r="2"/><circle class="X" cx="569.5" cy="602.3" r="2"/><circle class="P" cx="568.8" cy="533.6" r="2"/><circle class="S" cx="469.1" cy="632.4" r="2"/><circle class="H" cx="561.2" cy="543.2" r="2"/><circle class="S" cx="467.1" cy="622.6" r="2"/><circle class="P" cx="583.7" cy="521.4" r="2"/><circle class="S" cx="485.5" cy="601.7" r="2"/><circle class="X" cx="563.1" cy="598.6" r="2"/><circle class="X" cx="540.1" cy="607.8" r="2"/><circle class="D" cx="518.5" cy="580.3" r="2"/><circle class="P" cx="601.7" cy="506.7" r="2"/><circle class="D" cx="508.0" cy="576.0" r="2"/><circle class="A" cx="653.7" cy="459.1" r="2"/><circle class="X" cx="562.4" cy="601.7" r="2"/><circle class="S" cx="492.4" cy="603.5" r="2"/><circle class="A" cx="656.9" cy="456.5" r="2"/><circle class="H" cx="568.6" cy="538.9" r="2"/><circle class="X" cx="546.7" cy="607.7" r="2"/><circle class="A" cx="654.6" cy="458.2" r="2"/><circle class="S" cx="474.8" cy="612.9" r="2"/><circle class="H" cx="555.2" cy="543.9" r="2"/><circle class="P" cx="595.5" cy="509.5" r="2"/><circle class="A" cx="656.8" cy="457.6" r="2"/><circle class="X" cx="553.9" cy="587.2" r="2"/><circle class="S" cx="471.1" cy="619.0" r="2"/><circle class="N" cx="555.2" cy="542.3" r="2"/><circle class="D" cx="513.3" cy="577.2" r="2"/><circle class="H" cx="517.4" cy="567.2" r="2"/><circle class="H" cx="560.6" cy="546.3" r="2"/><circle class="H" cx="561.8" cy="543.9" r="2"/><circle class="N" cx="449.2" cy="625.3" r="2"/><circle class="A" cx="654.2" cy="460.2" r="2"/><circle class="X" cx="542.1" cy="607.5" r="2"/><circle class="S" cx="432.0" cy="665.6" r="2"/><circle class="D" cx="501.0" cy="576.8" r="2"/><circle class="A" cx="656.1" cy="457.1" r="2"/><circle class="A" cx="656.4" cy="454.7" r="2"/><circle class="H" cx="536.4" cy="557.4" r="2"/><circle class="N" cx="457.0" cy="638.3" r="2"/><circle class="H" cx="554.6" cy="550.5" r="2"/><circle class="S" cx="472.9" cy="615.2" r="2"/><circle class="P" cx="616.8" cy="494.9" r="2"/><circle class="A" cx="654.3" cy="460.3" r="2"/><circle class="S" cx="489.3" cy="599.3" r="2"/><circle class="A" cx="659.1" cy="457.5" r="2"/><circle class="N" cx="424.1" cy="669.1" r="2"/><circle class="P" cx="567.4" cy="536.6" r="2"/><circle class="H" cx="544.3" cy="554.2" r="2"/><circle class="P" cx="596.8" cy="511.9" r="2"/><circle class="S" cx="479.8" cy="610.3" r="2"/><circle class="X" cx="557.7" cy="583.5" r="2"/><circle class="P" cx="587.2" cy="519.7" r="2"/><circle class="H" cx="542.9" cy="551.8" r="2"/><circle class="N" cx="458.3" cy="617.5" r="2"/><circle class="D" cx="508.7" cy="577.1" r="2"/><circle class="A" cx="648.6" cy="466.1" r="2"/><circle class="X" cx="567.0" cy="598.4" r="2"/><circle class="D" cx="509.2" cy="580.0" r="2"/><circle class="S" cx="472.5" cy="617.0" r="2"/><circle class="P" cx="579.4" cy="525.7" r="2"/><circle class="P" cx="599.7" cy="507.8" r="2"/><circle class="S" cx="470.7" cy="619.6" r="2"/><circle class="H" cx="553.8" cy="549.9" r="2"/><circle class="D" cx="510.8" cy="573.1" r="2"/><circle class="H" cx="546.5" cy="553.7" r="2"/><circle class="S" cx="403.5" cy="677.6" r="2"/><circle class="D" cx="507.4" cy="579.3" r="2"/><circle class="H" cx="650.0" cy="477.4" r="2"/><circle class="A" cx="657.9" cy="455.3" r="2"/><circle class="D" cx="505.4" cy="576.6" r="2"/><circle class="X" cx="540.9" cy="609.7" r="2"/><circle class="X" cx="553.6" cy="608.4" r="2"/><circle class="A" cx="647.0" cy="466.0" r="2"/><circle class="N" cx="450.8" cy="624.7" r="2"/><circle class="H" cx="564.4" cy="543.3" r="2"/><circle class="X" cx="538.7" cy="607.7" r="2"/><circle class="N" cx="452.5" cy="625.9" r="2"/><circle class="H" cx="549.6" cy="548.8" r="2"/><circle class="A" cx="652.7" cy="462.7" r="2"/><circle class="D" cx="509.1" cy="579.2" r="2"/><circle class="X" cx="568.3" cy="600.8" r="2"/><circle class="X" cx="565.2" cy="596.6" r="2"/><circle class="H" cx="543.5" cy="553.4" r="2"/><circle class="A" cx="654.1" cy="459.2" r="2"/><circle class="H" cx="551.5" cy="550.4" r="2"/><circle class="X" cx="559.5" cy="604.7" r="2"/><circle class="A" cx="649.2" cy="464.8" r="2"/><circle class="N" cx="453.0" cy="617.5" r="2"/><circle class="H" cx="524.1" cy="568.7" r="2"/><circle class="X" cx="561.9" cy="600.8" r="2"/><circle class="A" cx="661.4" cy="455.7" r="2"/><circle class="N" cx="455.1" cy="622.5" r="2"/><circle class="S" cx="482.2" cy="610.7" r="2"/><circle class="H" cx="652.5" cy="473.7" r="2"/><circle class="A" cx="654.2" cy="461.4" r="2"/><circle class="D" cx="500.1" cy="582.9" r="2"/><circle class="D" cx="525.7" cy="570.8" r="2"/><circle class="S" cx="467.3" cy="618.2" r="2"/><circle class="H" cx="538.8" cy="556.8" r="2"/><circle class="X" cx="544.7" cy="602.8" r="2"/><circle class="P" cx="591.3" cy="517.1" r="2"/><circle class="H" cx="547.9" cy="552.4" r="2"/><circle class="X" cx="545.1" cy="608.9" r="2"/><circle class="P" cx="559.7" cy="532.6" r="2"/><circle class="S" cx="493.9" cy="597.1" r="2"/><circle class="P" cx="578.3" cy="527.1" r="2"/><circle class="A" cx="650.3" cy="463.8" r="2"/><circle class="D" cx="508.6" cy="577.2" r="2"/><circle class="S" cx="468.9" cy="621.4" r="2"/><circle class="N" cx="514.0" cy="592.5" r="2"/><circle class="A" cx="653.9" cy="462.5" r="2"/><circle class="D" cx="499.3" cy="588.5" r="2"/><circle class="D" cx="500.7" cy="584.2" r="2"/><circle class="S" cx="471.5" cy="619.6" r="2"/><circle class="P" cx="577.5" cy="528.3" r="2"/><circle class="N" cx="456.5" cy="621.6" r="2"/><circle class="H" cx="626.3" cy="496.1" r="2"/><circle class="N" cx="442.1" cy="634.6" r="2"/><circle class="S" cx="464.8" cy="628.1" r="2"/><circle class="X" cx="545.2" cy="604.8" r="2"/><circle class="D" cx="502.7" cy="581.9" r="2"/><circle class="X" cx="544.0" cy="608.6" r="2"/><circle class="N" cx="453.4" cy="624.7" r="2"/><circle class="S" cx="464.7" cy="624.8" r="2"/><circle class="A" cx="651.6" cy="462.4" r="2"/><circle class="X" cx="542.6" cy="607.0" r="2"/><circle class="P" cx="597.6" cy="508.2" r="2"/><circle class="D" cx="508.3" cy="579.4" r="2"/><circle class="D" cx="508.0" cy="577.2" r="2"/><circle class="S" cx="482.2" cy="609.1" r="2"/><circle class="H" cx="558.5" cy="551.7" r="2"/><circle class="H" cx="545.0" cy="553.5" r="2"/><circle class="X" cx="563.7" cy="601.0" r="2"/><circle class="A" cx="649.9" cy="465.1" r="2"/><circle class="H" cx="559.3" cy="543.3" r="2"/><circle class="S" cx="464.4" cy="624.6" r="2"/><circle class="X" cx="569.2" cy="599.9" r="2"/><circle class="X" cx="475.3" cy="611.2" r="2"/><circle class="P" cx="592.1" cy="516.4" r="2"/><circle class="H" cx="558.8" cy="542.3" r="2"/><circle class="N" cx="447.1" cy="634.2" r="2"/><circle class="S" cx="486.1" cy="604.4" r="2"/><circle class="P" cx="571.0" cy="534.2" r="2"/><circle class="H" cx="550.4" cy="546.2" r="2"/><circle class="A" cx="652.6" cy="460.2" r="2"/><circle class="S" cx="432.5" cy="667.8" r="2"/><circle class="X" cx="518.4" cy="586.4" r="2"/><circle class="A" cx="656.2" cy="460.1" r="2"/><circle class="X" cx="565.2" cy="600.8" r="2"/><circle class="S" cx="492.3" cy="614.9" r="2"/><circle class="X" cx="569.4" cy="593.5" r="2"/><circle class="A" cx="646.7" cy="465.9" r="2"/><circle class="D" cx="508.5" cy="582.7" r="2"/><circle class="H" cx="544.1" cy="553.1" r="2"/><circle class="P" cx="580.1" cy="523.5" r="2"/><circle class="D" cx="507.3" cy="580.7" r="2"/><circle class="N" cx="459.2" cy="619.3" r="2"/><circle class="N" cx="438.6" cy="637.9" r="2"/><circle class="D" cx="507.2" cy="576.5" r="2"/><circle class="A" cx="651.0" cy="463.6" r="2"/><circle class="S" cx="456.2" cy="627.4" r="2"/><circle class="D" cx="501.0" cy="582.1" r="2"/><circle class="S" cx="482.3" cy="605.8" r="2"/><circle class="N" cx="474.6" cy="598.0" r="2"/><circle class="P" cx="571.2" cy="531.8" r="2"/><circle class="S" cx="464.8" cy="626.0" r="2"/><circle class="X" cx="566.6" cy="589.7" r="2"/><circle class="D" cx="503.4" cy="580.9" r="2"/><circle class="S" cx="426.2" cy="675.2" r="2"/><circle class="P" cx="598.2" cy="507.7" r="2"/><circle class="A" cx="659.5" cy="457.3" r="2"/><circle class="D" cx="510.1" cy="573.1" r="2"/><circle class="D" cx="501.4" cy="582.3" r="2"/><circle class="A" cx="646.7" cy="464.9" r="2"/><circle class="S" cx="484.4" cy="604.4" r="2"/><circle class="D" cx="509.7" cy="571.1" r="2"/><circle class="N" cx="439.6" cy="638.9" r="2"/><circle class="D" cx="502.4" cy="585.8" r="2"/><circle class="S" cx="473.8" cy="619.1" r="2"/><circle class="N" cx="449.7" cy="624.5" r="2"/><circle class="S" cx="506.0" cy="604.2" r="2"/><circle class="P" cx="575.7" cy="527.2" r="2"/><circle class="N" cx="464.8" cy="605.4" r="2"/><circle class="A" cx="647.3" cy="466.1" r="2"/><circle class="H" cx="543.7" cy="554.5" r="2"/><circle class="N" cx="492.8" cy="586.7" r="2"/><circle class="D" cx="499.8" cy="580.5" r="2"/><circle class="S" cx="482.9" cy="610.7" r="2"/><circle class="S" cx="491.6" cy="600.8" r="2"/><circle class="S" cx="484.0" cy="631.2" r="2"/><circle class="N" cx="451.5" cy="628.3" r="2"/><circle class="S" cx="475.8" cy="615.6" r="2"/><circle class="D" cx="503.6" cy="580.0" r="2"/><circle class="D" cx="520.2" cy="558.5" r="2"/><circle class="H" cx="537.7" cy="555.4" r="2"/><circle class="P" cx="577.8" cy="521.7" r="2"/><circle class="A" cx="658.9" cy="457.8" r="2"/><circle class="H" cx="563.4" cy="542.2" r="2"/><circle class="P" cx="572.9" cy="530.6" r="2"/><circle class="P" cx="589.0" cy="515.2" r="2"/><circle class="A" cx="660.6" cy="454.5" r="2"/><circle class="D" cx="504.5" cy="578.8" r="2"/><circle class="P" cx="590.3" cy="515.2" r="2"/><circle class="D" cx="509.1" cy="574.0" r="2"/><circle class="H" cx="545.7" cy="553.9" r="2"/><circle class="H" cx="551.4" cy="545.3" r="2"/><circle class="D" cx="508.4" cy="578.5" r="2"/><circle class="A" cx="650.2" cy="465.3" r="2"/><circle class="N" cx="449.1" cy="627.7" r="2"/><circle class="P" cx="584.9" cy="519.9" r="2"/><circle class="X" cx="565.2" cy="600.5" r="2"/><circle class="A" cx="650.5" cy="458.5" r="2"/><circle class="S" cx="474.5" cy="616.1" r="2"/><circle class="A" cx="647.6" cy="468.1" r="2"/><circle class="X" cx="566.7" cy="598.8" r="2"/><circle class="S" cx="479.5" cy="618.4" r="2"/><circle class="H" cx="566.6" cy="539.2" r="2"/><circle class="S" cx="464.0" cy="624.8" r="2"/><circle class="A" cx="654.4" cy="460.7" r="2"/><circle class="A" cx="655.4" cy="459.2" r="2"/><circle class="P" cx="590.5" cy="513.4" r="2"/><circle class="N" cx="610.9" cy="548.6" r="2"/><circle class="P" cx="602.6" cy="494.1" r="2"/><circle class="X" cx="565.1" cy="593.4" r="2"/><circle class="P" cx="601.4" cy="503.6" r="2"/><circle class="N" cx="449.4" cy="623.9" r="2"/><circle class="A" cx="651.7" cy="462.1" r="2"/><circle class="D" cx="509.1" cy="575.0" r="2"/><circle class="D" cx="506.5" cy="583.9" r="2"/><circle class="X" cx="546.1" cy="603.2" r="2"/><circle class="H" cx="617.1" cy="501.1" r="2"/><circle class="N" cx="449.0" cy="629.9" r="2"/><circle class="D" cx="506.9" cy="580.1" r="2"/><circle class="P" cx="612.8" cy="491.0" r="2"/><circle class="S" cx="461.4" cy="626.1" r="2"/><circle class="N" cx="449.4" cy="626.4" r="2"/><circle class="P" cx="587.3" cy="517.5" r="2"/><circle class="D" cx="509.6" cy="579.8" r="2"/><circle class="N" cx="429.3" cy="644.5" r="2"/><circle class="H" cx="548.4" cy="552.8" r="2"/><circle class="X" cx="540.9" cy="606.3" r="2"/><circle class="A" cx="656.7" cy="459.0" r="2"/><circle class="X" cx="556.1" cy="566.8" r="2"/><circle class="D" cx="503.3" cy="585.6" r="2"/><circle class="N" cx="466.5" cy="625.3" r="2"/><circle class="X" cx="566.3" cy="598.8" r="2"/><circle class="A" cx="650.9" cy="459.5" r="2"/><circle class="A" cx="651.2" cy="461.1" r="2"/><circle class="X" cx="563.1" cy="586.4" r="2"/><circle class="N" cx="461.8" cy="620.8" r="2"/><circle class="D" cx="506.3" cy="576.5" r="2"/><circle class="A" cx="653.5" cy="460.3" r="2"/><circle class="A" cx="658.1" cy="459.8" r="2"/><circle class="S" cx="471.6" cy="619.0" r="2"/><circle class="H" cx="560.3" cy="544.5" r="2"/><circle class="X" cx="568.4" cy="597.2" r="2"/><circle class="D" cx="507.4" cy="580.1" r="2"/><circle class="H" cx="543.4" cy="553.4" r="2"/><circle class="N" cx="443.9" cy="636.0" r="2"/><circle class="D" cx="507.2" cy="583.9" r="2"/><circle class="P" cx="598.3" cy="509.7" r="2"/><circle class="S" cx="461.4" cy="625.8" r="2"/><circle class="H" cx="559.9" cy="543.1" r="2"/><circle class="P" cx="566.5" cy="535.8" r="2"/><circle class="S" cx="456.7" cy="632.7" r="2"/><circle class="N" cx="435.4" cy="640.9" r="2"/><circle class="N" cx="453.4" cy="625.7" r="2"/><circle class="X" cx="554.3" cy="608.1" r="2"/><circle class="X" cx="571.8" cy="582.9" r="2"/><circle class="X" cx="566.4" cy="602.7" r="2"/><circle class="N" cx="475.3" cy="636.7" r="2"/><circle class="D" cx="507.3" cy="583.0" r="2"/><circle class="A" cx="654.3" cy="457.0" r="2"/><circle class="N" cx="455.6" cy="623.0" r="2"/><circle class="D" cx="507.2" cy="578.6" r="2"/><circle class="D" cx="508.3" cy="578.5" r="2"/><circle class="H" cx="542.5" cy="556.1" r="2"/><circle class="H" cx="564.9" cy="543.8" r="2"/><circle class="H" cx="549.8" cy="550.2" r="2"/><circle class="N" cx="445.3" cy="629.7" r="2"/><circle class="N" cx="463.9" cy="610.7" r="2"/><circle class="N" cx="451.2" cy="621.4" r="2"/><circle class="A" cx="656.5" cy="461.4" r="2"/><circle class="P" cx="574.7" cy="527.4" r="2"/><circle class="N" cx="456.6" cy="625.0" r="2"/><circle class="D" cx="502.1" cy="584.3" r="2"/><circle class="P" cx="571.9" cy="531.7" r="2"/><circle class="N" cx="448.2" cy="631.9" r="2"/><circle class="X" cx="583.2" cy="571.5" r="2"/><circle class="S" cx="465.0" cy="624.8" r="2"/><circle class="S" cx="457.7" cy="630.6" r="2"/><circle class="S" cx="494.0" cy="623.7" r="2"/><circle class="H" cx="542.5" cy="553.8" r="2"/><circle class="D" cx="510.4" cy="575.1" r="2"/><circle class="A" cx="655.2" cy="460.2" r="2"/><circle class="N" cx="448.7" cy="622.7" r="2"/><circle class="A" cx="656.6" cy="460.4" r="2"/><circle class="D" cx="506.7" cy="576.8" r="2"/><circle class="S" cx="449.1" cy="649.1" r="2"/><circle class="A" cx="638.8" cy="473.7" r="2"/><circle class="N" cx="538.2" cy="545.6" r="2"/><circle class="X" cx="532.0" cy="605.4" r="2"/><circle class="S" cx="530.2" cy="583.7" r="2"/><circle class="S" cx="493.3" cy="596.8" r="2"/><circle class="P" cx="597.6" cy="512.5" r="2"/><circle class="N" cx="451.2" cy="627.3" r="2"/><circle class="P" cx="585.5" cy="518.3" r="2"/><circle class="D" cx="519.9" cy="570.1" r="2"/><circle class="A" cx="654.5" cy="462.8" r="2"/><circle class="P" cx="595.4" cy="509.4" r="2"/><circle class="H" cx="563.6" cy="542.2" r="2"/><circle class="H" cx="564.6" cy="541.4" r="2"/><circle class="A" cx="654.2" cy="459.2" r="2"/><circle class="H" cx="546.2" cy="552.3" r="2"/><circle class="P" cx="580.8" cy="520.1" r="2"/><circle class="N" cx="450.9" cy="623.7" r="2"/><circle class="D" cx="508.9" cy="578.1" r="2"/><circle class="H" cx="543.8" cy="550.0" r="2"/><circle class="A" cx="659.2" cy="452.8" r="2"/><circle class="N" cx="537.7" cy="536.8" r="2"/><circle class="X" cx="565.1" cy="597.7" r="2"/><circle class="X" cx="572.9" cy="599.3" r="2"/><circle class="P" cx="584.1" cy="521.1" r="2"/><circle class="P" cx="572.0" cy="531.1" r="2"/><circle class="S" cx="487.9" cy="602.4" r="2"/><circle class="A" cx="661.8" cy="455.4" r="2"/><circle class="P" cx="577.4" cy="526.0" r="2"/><circle class="X" cx="546.5" cy="604.1" r="2"/><circle class="X" cx="562.1" cy="603.9" r="2"/><circle class="A" cx="650.0" cy="462.8" r="2"/><circle class="A" cx="651.0" cy="462.3" r="2"/><circle class="H" cx="564.8" cy="541.7" r="2"/><circle class="S" cx="476.6" cy="616.8" r="2"/><circle class="H" cx="553.4" cy="551.5" r="2"/><circle class="N" cx="484.8" cy="579.8" r="2"/><circle class="A" cx="650.6" cy="463.8" r="2"/><circle class="H" cx="518.7" cy="568.3" r="2"/><circle class="P" cx="579.9" cy="524.5" r="2"/><circle class="A" cx="656.7" cy="459.5" r="2"/><circle class="D" cx="504.1" cy="581.1" r="2"/><circle class="N" cx="455.9" cy="627.5" r="2"/><circle class="N" cx="504.0" cy="611.2" r="2"/><circle class="D" cx="510.7" cy="577.1" r="2"/><circle class="D" cx="507.8" cy="576.4" r="2"/><circle class="N" cx="448.8" cy="626.9" r="2"/><circle class="P" cx="609.6" cy="492.4" r="2"/><circle class="D" cx="506.2" cy="583.7" r="2"/><circle class="H" cx="557.1" cy="546.9" r="2"/><circle class="A" cx="648.2" cy="463.7" r="2"/><circle class="A" cx="655.2" cy="460.8" r="2"/><circle class="H" cx="535.9" cy="559.8" r="2"/><circle class="N" cx="427.5" cy="649.5" r="2"/><circle class="P" cx="576.6" cy="528.7" r="2"/><circle class="A" cx="657.5" cy="457.4" r="2"/><circle class="N" cx="434.9" cy="639.9" r="2"/><circle class="H" cx="551.4" cy="553.7" r="2"/><circle class="P" cx="578.8" cy="525.1" r="2"/><circle class="N" cx="455.4" cy="621.4" r="2"/><circle class="A" cx="655.8" cy="457.8" r="2"/><circle class="X" cx="565.5" cy="601.9" r="2"/><circle class="D" cx="506.2" cy="579.1" r="2"/><circle class="P" cx="570.4" cy="534.4" r="2"/><circle class="X" cx="541.8" cy="610.6" r="2"/><circle class="D" cx="520.1" cy="572.5" r="2"/><circle class="N" cx="492.8" cy="587.5" r="2"/><circle class="S" cx="475.6" cy="614.0" r="2"/><circle class="N" cx="434.1" cy="646.3" r="2"/><circle class="D" cx="507.6" cy="576.2" r="2"/><circle class="H" cx="613.1" cy="494.4" r="2"/><circle class="X" cx="540.9" cy="604.5" r="2"/><circle class="D" cx="506.9" cy="579.6" r="2"/><circle class="A" cx="657.3" cy="461.1" r="2"/><circle class="X" cx="561.5" cy="598.6" r="2"/><circle class="P" cx="571.4" cy="531.8" r="2"/><circle class="P" cx="591.5" cy="513.9" r="2"/><circle class="A" cx="649.8" cy="464.9" r="2"/><circle class="H" cx="550.8" cy="548.2" r="2"/><circle class="N" cx="449.0" cy="628.4" r="2"/><circle class="X" cx="535.9" cy="590.8" r="2"/><circle class="H" cx="547.9" cy="553.2" r="2"/><circle class="H" cx="545.7" cy="550.9" r="2"/><circle class="P" cx="586.0" cy="522.2" r="2"/><circle class="S" cx="483.2" cy="605.3" r="2"/><circle class="S" cx="472.3" cy="615.9" r="2"/><circle class="N" cx="434.7" cy="645.1" r="2"/><circle class="H" cx="619.3" cy="509.4" r="2"/><circle class="D" cx="504.8" cy="580.4" r="2"/><circle class="X" cx="568.3" cy="597.5" r="2"/><circle class="N" cx="450.9" cy="626.9" r="2"/><circle class="A" cx="652.1" cy="465.2" r="2"/><circle class="N" cx="453.0" cy="627.3" r="2"/><circle class="P" cx="567.3" cy="534.5" r="2"/><circle class="D" cx="495.1" cy="584.2" r="2"/><circle class="D" cx="506.8" cy="577.4" r="2"/><circle class="N" cx="452.5" cy="624.4" r="2"/><circle class="X" cx="545.8" cy="607.5" r="2"/><circle class="A" cx="656.7" cy="459.4" r="2"/><circle class="S" cx="471.3" cy="615.4" r="2"/><circle class="P" cx="592.8" cy="513.5" r="2"/><circle class="H" cx="563.5" cy="544.5" r="2"/><circle class="A" cx="653.4" cy="460.7" r="2"/><circle class="D" cx="499.0" cy="584.6" r="2"/><circle class="A" cx="655.2" cy="460.7" r="2"/><circle class="N" cx="448.9" cy="620.8" r="2"/><circle class="S" cx="488.9" cy="599.8" r="2"/><circle class="N" cx="452.7" cy="626.0" r="2"/><circle class="A" cx="653.9" cy="456.0" r="2"/><circle class="S" cx="435.0" cy="663.2" r="2"/><circle class="D" cx="506.4" cy="574.9" r="2"/><circle class="S" cx="412.5" cy="677.5" r="2"/><circle class="D" cx="496.6" cy="585.5" r="2"/><circle class="H" cx="561.6" cy="546.1" r="2"/><circle class="X" cx="564.8" cy="597.3" r="2"/><circle class="D" cx="504.8" cy="584.0" r="2"/><circle class="N" cx="453.5" cy="623.8" r="2"/><circle class="H" cx="540.0" cy="555.0" r="2"/><circle class="N" cx="450.5" cy="632.4" r="2"/><circle class="D" cx="506.9" cy="588.2" r="2"/><circle class="S" cx="484.4" cy="606.3" r="2"/><circle class="A" cx="652.3" cy="463.3" r="2"/><circle class="D" cx="498.5" cy="586.0" r="2"/><circle class="S" cx="467.8" cy="619.0" r="2"/><circle class="N" cx="573.9" cy="544.1" r="2"/><circle class="A" cx="653.2" cy="459.5" r="2"/><circle class="N" cx="455.9" cy="619.4" r="2"/><circle class="D" cx="507.7" cy="577.6" r="2"/><circle class="D" cx="495.5" cy="586.0" r="2"/><circle class="D" cx="508.0" cy="578.8" r="2"/><circle class="P" cx="586.7" cy="519.3" r="2"/><circle class="H" cx="612.6" cy="522.3" r="2"/><circle class="H" cx="548.5" cy="551.6" r="2"/><circle class="S" cx="461.4" cy="626.0" r="2"/><circle class="N" cx="455.0" cy="625.1" r="2"/><circle class="H" cx="558.0" cy="547.7" r="2"/><circle class="S" cx="468.6" cy="621.9" r="2"/><circle class="D" cx="507.8" cy="576.5" r="2"/><circle class="S" cx="481.4" cy="607.4" r="2"/><circle class="A" cx="658.1" cy="457.1" r="2"/><circle class="X" cx="560.1" cy="600.5" r="2"/><circle class="H" cx="550.1" cy="549.5" r="2"/><circle class="S" cx="480.1" cy="609.2" r="2"/><circle class="A" cx="653.9" cy="457.9" r="2"/><circle class="S" cx="486.1" cy="605.5" r="2"/><circle class="A" cx="656.3" cy="457.5" r="2"/><circle class="S" cx="434.4" cy="665.2" r="2"/><circle class="H" cx="560.6" cy="538.7" r="2"/><circle class="D" cx="507.4" cy="580.0" r="2"/><circle class="D" cx="506.9" cy="578.9" r="2"/><circle class="N" cx="438.7" cy="640.0" r="2"/><circle class="N" cx="438.2" cy="641.5" r="2"/><circle class="N" cx="440.9" cy="636.2" r="2"/><circle class="D" cx="509.4" cy="572.1" r="2"/><circle class="D" cx="506.2" cy="580.6" r="2"/><circle class="P" cx="581.2" cy="524.3" r="2"/><circle class="A" cx="661.2" cy="453.3" r="2"/><circle class="S" cx="434.9" cy="662.8" r="2"/><circle class="N" cx="453.3" cy="622.5" r="2"/><circle class="P" cx="589.7" cy="512.8" r="2"/><circle class="X" cx="566.5" cy="600.4" r="2"/><circle class="N" cx="440.5" cy="639.0" r="2"/><circle class="D" cx="505.2" cy="578.6" r="2"/><circle class="H" cx="565.3" cy="542.4" r="2"/><circle class="A" cx="652.7" cy="465.2" r="2"/><circle class="P" cx="568.7" cy="535.3" r="2"/><circle class="D" cx="503.9" cy="586.1" r="2"/><circle class="P" cx="581.7" cy="523.5" r="2"/><circle class="A" cx="653.1" cy="463.5" r="2"/><circle class="P" cx="576.0" cy="529.5" r="2"/><circle class="A" cx="657.9" cy="458.9" r="2"/><circle class="P" cx="585.7" cy="519.4" r="2"/><circle class="P" cx="585.5" cy="521.1" r="2"/><circle class="H" cx="557.6" cy="544.6" r="2"/><circle class="N" cx="451.1" cy="629.7" r="2"/><circle class="X" cx="582.5" cy="566.4" r="2"/><circle class="P" cx="570.5" cy="532.0" r="2"/><circle class="N" cx="461.1" cy="624.7" r="2"/><circle class="D" cx="508.6" cy="578.7" r="2"/><circle class="S" cx="441.6" cy="659.7" r="2"/><circle class="H" cx="544.3" cy="556.3" r="2"/><circle class="N" cx="453.1" cy="631.6" r="2"/><circle class="S" cx="422.1" cy="675.0" r="2"/><circle class="N" cx="445.7" cy="628.6" r="2"/><circle class="S" cx="469.0" cy="623.2" r="2"/><circle class="X" cx="563.4" cy="601.7" r="2"/><circle class="P" cx="609.3" cy="493.6" r="2"/><circle class="P" cx="591.4" cy="514.8" r="2"/><circle class="N" cx="457.1" cy="621.7" r="2"/><circle class="H" cx="567.1" cy="542.3" r="2"/><circle class="H" cx="548.0" cy="552.7" r="2"/><circle class="H" cx="561.8" cy="544.1" r="2"/><circle class="X" cx="540.3" cy="587.3" r="2"/><circle class="S" cx="468.4" cy="623.0" r="2"/><circle class="D" cx="510.3" cy="574.3" r="2"/><circle class="N" cx="455.7" cy="629.6" r="2"/><circle class="S" cx="426.1" cy="669.2" r="2"/><circle class="A" cx="649.8" cy="463.7" r="2"/><circle class="D" cx="508.9" cy="578.0" r="2"/><circle class="P" cx="595.6" cy="510.3" r="2"/><circle class="A" cx="656.2" cy="461.4" r="2"/><circle class="P" cx="583.3" cy="521.7" r="2"/><circle class="P" cx="581.8" cy="525.2" r="2"/><circle class="P" cx="581.4" cy="523.1" r="2"/><circle class="D" cx="507.9" cy="580.4" r="2"/><circle class="P" cx="586.0" cy="519.9" r="2"/><circle class="A" cx="651.4" cy="463.9" r="2"/><circle class="A" cx="649.3" cy="465.1" r="2"/><circle class="D" cx="505.4" cy="581.7" r="2"/><circle class="A" cx="652.8" cy="459.2" r="2"/><circle class="S" cx="464.2" cy="624.1" r="2"/><circle class="D" cx="509.8" cy="578.9" r="2"/><circle class="D" cx="504.7" cy="578.5" r="2"/><circle class="H" cx="561.6" cy="545.1" r="2"/><circle class="X" cx="549.8" cy="605.5" r="2"/><circle class="A" cx="649.7" cy="465.3" r="2"/><circle class="N" cx="451.0" cy="624.2" r="2"/><circle class="H" cx="554.6" cy="546.7" r="2"/><circle class="H" cx="566.9" cy="541.4" r="2"/><circle class="P" cx="589.8" cy="513.3" r="2"/><circle class="X" cx="545.8" cy="607.9" r="2"/><circle class="D" cx="503.6" cy="570.4" r="2"/><circle class="X" cx="545.2" cy="544.1" r="2"/><circle class="H" cx="545.9" cy="552.8" r="2"/><circle class="X" cx="549.3" cy="607.4" r="2"/><circle class="H" cx="562.1" cy="544.3" r="2"/><circle class="H" cx="553.0" cy="545.7" r="2"/><circle class="S" cx="489.1" cy="602.6" r="2"/><circle class="P" cx="598.9" cy="510.9" r="2"/><circle class="P" cx="658.8" cy="469.2" r="2"/><circle class="A" cx="652.9" cy="462.3" r="2"/><circle class="A" cx="653.3" cy="460.8" r="2"/><circle class="P" cx="585.6" cy="521.1" r="2"/><circle class="N" cx="456.9" cy="617.3" r="2"/><circle class="A" cx="650.6" cy="464.7" r="2"/><circle class="H" cx="539.4" cy="555.4" r="2"/><circle class="N" cx="460.1" cy="613.6" r="2"/><circle class="X" cx="564.9" cy="601.8" r="2"/><circle class="H" cx="564.7" cy="539.7" r="2"/><circle class="X" cx="582.3" cy="572.1" r="2"/><circle class="D" cx="509.7" cy="575.6" r="2"/><circle class="S" cx="462.2" cy="629.4" r="2"/><circle class="D" cx="505.9" cy="581.7" r="2"/><circle class="H" cx="565.5" cy="539.8" r="2"/><circle class="S" cx="462.3" cy="627.0" r="2"/><circle class="S" cx="463.7" cy="626.6" r="2"/><circle class="P" cx="583.9" cy="521.9" r="2"/><circle class="S" cx="477.1" cy="613.5" r="2"/><circle class="S" cx="461.3" cy="632.3" r="2"/><circle class="D" cx="507.6" cy="577.8" r="2"/><circle class="X" cx="567.8" cy="605.8" r="2"/><circle class="D" cx="510.7" cy="577.1" r="2"/><circle class="P" cx="582.6" cy="523.9" r="2"/><circle class="X" cx="562.7" cy="595.8" r="2"/><circle class="N" cx="453.3" cy="626.2" r="2"/><circle class="A" cx="655.0" cy="458.9" r="2"/><circle class="S" cx="464.2" cy="628.6" r="2"/><circle class="P" cx="568.1" cy="534.4" r="2"/><circle class="S" cx="464.8" cy="627.4" r="2"/><circle class="H" cx="556.6" cy="546.1" r="2"/><circle class="P" cx="595.0" cy="503.3" r="2"/><circle class="D" cx="510.7" cy="574.2" r="2"/><circle class="N" cx="435.1" cy="641.6" r="2"/><circle class="N" cx="531.5" cy="574.8" r="2"/><circle class="H" cx="559.4" cy="545.3" r="2"/><circle class="H" cx="545.5" cy="554.5" r="2"/><circle class="D" cx="508.5" cy="578.9" r="2"/><circle class="S" cx="459.6" cy="631.9" r="2"/><circle class="A" cx="651.5" cy="464.6" r="2"/><circle class="P" cx="592.7" cy="515.2" r="2"/><circle class="H" cx="563.3" cy="543.8" r="2"/><circle class="A" cx="658.7" cy="456.8" r="2"/><circle class="S" cx="459.5" cy="628.8" r="2"/><circle class="X" cx="567.0" cy="606.1" r="2"/><circle class="P" cx="598.9" cy="511.2" r="2"/><circle class="S" cx="467.1" cy="626.4" r="2"/><circle class="A" cx="656.9" cy="464.0" r="2"/><circle class="S" cx="471.7" cy="627.1" r="2"/><circle class="N" cx="452.5" cy="624.7" r="2"/><circle class="H" cx="561.2" cy="545.6" r="2"/><circle class="S" cx="474.5" cy="613.2" r="2"/><circle class="H" cx="561.2" cy="543.4" r="2"/><circle class="P" cx="578.0" cy="523.9" r="2"/><circle class="D" cx="505.0" cy="581.4" r="2"/><circle class="H" cx="562.6" cy="541.9" r="2"/><circle class="N" cx="558.9" cy="527.3" r="2"/><circle class="S" cx="416.1" cy="675.8" r="2"/><circle class="X" cx="564.2" cy="597.3" r="2"/><circle class="S" cx="408.2" cy="675.7" r="2"/><circle class="A" cx="658.6" cy="458.1" r="2"/><circle class="P" cx="569.0" cy="531.7" r="2"/><circle class="D" cx="508.3" cy="580.6" r="2"/><circle class="A" cx="653.3" cy="460.7" r="2"/><circle class="H" cx="551.9" cy="547.3" r="2"/><circle class="N" cx="442.1" cy="636.4" r="2"/><circle class="A" cx="649.7" cy="462.8" r="2"/><circle class="N" cx="452.7" cy="627.4" r="2"/><circle class="P" cx="574.8" cy="526.3" r="2"/><circle class="D" cx="506.5" cy="582.7" r="2"/><circle class="D" cx="511.2" cy="580.6" r="2"/><circle class="X" cx="572.1" cy="594.8" r="2"/><circle class="A" cx="653.8" cy="456.6" r="2"/><circle class="D" cx="508.9" cy="577.4" r="2"/><circle class="S" cx="470.0" cy="620.6" r="2"/><circle class="D" cx="512.2" cy="574.4" r="2"/><circle class="D" cx="508.3" cy="577.3" r="2"/><circle class="X" cx="570.1" cy="605.8" r="2"/><circle class="D" cx="515.7" cy="575.4" r="2"/><circle class="H" cx="554.9" cy="545.9" r="2"/><circle class="A" cx="650.5" cy="461.7" r="2"/><circle class="S" cx="486.0" cy="610.0" r="2"/><circle class="S" cx="484.7" cy="605.1" r="2"/><circle class="H" cx="653.8" cy="467.4" r="2"/><circle class="D" cx="510.2" cy="573.0" r="2"/><circle class="X" cx="549.1" cy="604.9" r="2"/><circle class="S" cx="474.2" cy="614.0" r="2"/><circle class="N" cx="456.9" cy="620.0" r="2"/><circle class="N" cx="496.5" cy="593.7" r="2"/><circle class="D" cx="505.5" cy="577.9" r="2"/><circle class="N" cx="461.0" cy="616.3" r="2"/><circle class="D" cx="508.9" cy="574.9" r="2"/><circle class="N" cx="454.5" cy="622.1" r="2"/><circle class="X" cx="560.6" cy="594.6" r="2"/><circle class="A" cx="654.7" cy="461.9" r="2"/><circle class="H" cx="545.8" cy="552.9" r="2"/><circle class="H" cx="551.6" cy="551.3" r="2"/><circle class="X" cx="543.8" cy="592.6" r="2"/><circle class="S" cx="483.0" cy="607.6" r="2"/><circle class="P" cx="604.0" cy="510.4" r="2"/><circle class="S" cx="425.6" cy="674.0" r="2"/><circle class="S" cx="479.0" cy="624.4" r="2"/><circle class="N" cx="458.7" cy="623.2" r="2"/><circle class="X" cx="552.6" cy="592.6" r="2"/><circle class="H" cx="520.5" cy="567.4" r="2"/><circle class="S" cx="499.0" cy="605.0" r="2"/><circle class="S" cx="439.9" cy="657.5" r="2"/><circle class="N" cx="445.4" cy="627.9" r="2"/><circle class="S" cx="455.4" cy="631.2" r="2"/><circle class="X" cx="547.1" cy="602.1" r="2"/><circle class="A" cx="654.8" cy="458.3" r="2"/><circle class="N" cx="429.5" cy="648.2" r="2"/><circle class="A" cx="658.0" cy="454.2" r="2"/><circle class="X" cx="572.7" cy="580.6" r="2"/><circle class="A" cx="661.8" cy="455.6" r="2"/><circle class="S" cx="486.4" cy="603.7" r="2"/><circle class="X" cx="565.1" cy="600.2" r="2"/><circle class="S" cx="460.1" cy="628.0" r="2"/><circle class="X" cx="544.8" cy="606.3" r="2"/><circle class="P" cx="578.1" cy="528.4" r="2"/><circle class="D" cx="517.4" cy="576.9" r="2"/><circle class="N" cx="452.8" cy="628.5" r="2"/><circle class="N" cx="450.5" cy="626.1" r="2"/><circle class="N" cx="456.5" cy="618.8" r="2"/><circle class="A" cx="648.6" cy="465.4" r="2"/><circle class="X" cx="579.9" cy="571.7" r="2"/><circle class="N" cx="453.8" cy="617.5" r="2"/><circle class="D" cx="515.6" cy="572.7" r="2"/><circle class="N" cx="435.9" cy="641.4" r="2"/><circle class="H" cx="564.7" cy="543.8" r="2"/><circle class="S" cx="468.1" cy="623.2" r="2"/><circle class="X" cx="569.6" cy="602.8" r="2"/><circle class="X" cx="566.1" cy="599.7" r="2"/><circle class="N" cx="455.0" cy="625.5" r="2"/><circle class="H" cx="562.6" cy="545.5" r="2"/><circle class="N" cx="445.9" cy="626.2" r="2"/><circle class="A" cx="637.6" cy="471.2" r="2"/><circle class="A" cx="652.3" cy="462.6" r="2"/><circle class="H" cx="560.9" cy="543.6" r="2"/><circle class="X" cx="562.5" cy="598.8" r="2"/><circle class="N" cx="454.9" cy="620.6" r="2"/><circle class="N" cx="448.6" cy="632.2" r="2"/><circle class="X" cx="542.3" cy="607.2" r="2"/><circle class="P" cx="567.7" cy="532.5" r="2"/><circle class="H" cx="541.5" cy="546.4" r="2"/><circle class="X" cx="569.1" cy="599.2" r="2"/><circle class="S" cx="486.6" cy="601.0" r="2"/><circle class="A" cx="657.9" cy="458.3" r="2"/><circle class="X" cx="564.7" cy="595.2" r="2"/><circle class="H" cx="560.9" cy="544.2" r="2"/><circle class="P" cx="576.7" cy="528.6" r="2"/><circle class="H" cx="552.0" cy="546.7" r="2"/><circle class="S" cx="414.1" cy="676.4" r="2"/><circle class="X" cx="541.1" cy="609.7" r="2"/><circle class="A" cx="658.3" cy="457.2" r="2"/><circle class="P" cx="583.1" cy="523.0" r="2"/><circle class="H" cx="567.5" cy="539.9" r="2"/><circle class="N" cx="565.2" cy="581.2" r="2"/><circle class="N" cx="446.9" cy="627.4" r="2"/><circle class="H" cx="546.6" cy="553.9" r="2"/><circle class="X" cx="544.0" cy="606.7" r="2"/><circle class="N" cx="514.0" cy="589.7" r="2"/><circle class="H" cx="568.1" cy="537.8" r="2"/><circle class="A" cx="656.3" cy="455.9" r="2"/><circle class="N" cx="449.1" cy="626.0" r="2"/><circle class="D" cx="507.2" cy="577.5" r="2"/><circle class="H" cx="522.5" cy="567.4" r="2"/><circle class="S" cx="487.2" cy="608.4" r="2"/><circle class="S" cx="471.7" cy="621.2" r="2"/><circle class="A" cx="656.8" cy="457.5" r="2"/><circle class="P" cx="596.3" cy="509.7" r="2"/><circle class="N" cx="449.0" cy="629.7" r="2"/><circle class="N" cx="542.2" cy="583.5" r="2"/><circle class="H" cx="656.3" cy="473.7" r="2"/><circle class="H" cx="548.0" cy="552.9" r="2"/><circle class="H" cx="543.4" cy="553.8" r="2"/><circle class="A" cx="652.2" cy="462.9" r="2"/><circle class="N" cx="457.8" cy="615.1" r="2"/><circle class="X" cx="540.6" cy="606.5" r="2"/><circle class="S" cx="486.3" cy="602.4" r="2"/><circle class="N" cx="448.5" cy="631.6" r="2"/><circle class="D" cx="511.0" cy="577.9" r="2"/><circle class="H" cx="544.4" cy="553.7" r="2"/><circle class="P" cx="568.6" cy="533.8" r="2"/><circle class="X" cx="565.9" cy="596.1" r="2"/><circle class="X" cx="566.5" cy="592.3" r="2"/><circle class="D" cx="509.7" cy="576.4" r="2"/><circle class="H" cx="563.7" cy="541.2" r="2"/><circle class="X" cx="570.3" cy="599.9" r="2"/><circle class="D" cx="509.1" cy="574.8" r="2"/><circle class="D" cx="504.9" cy="581.9" r="2"/><circle class="N" cx="447.9" cy="619.1" r="2"/><circle class="X" cx="541.6" cy="604.0" r="2"/><circle class="A" cx="650.7" cy="463.2" r="2"/><circle class="N" cx="460.6" cy="621.5" r="2"/><circle class="P" cx="597.5" cy="507.6" r="2"/><circle class="S" cx="481.1" cy="608.6" r="2"/><circle class="P" cx="597.0" cy="497.7" r="2"/><circle class="S" cx="495.1" cy="596.9" r="2"/><circle class="D" cx="506.7" cy="582.3" r="2"/><circle class="D" cx="512.9" cy="577.7" r="2"/><circle class="A" cx="651.6" cy="460.1" r="2"/><circle class="D" cx="512.5" cy="574.9" r="2"/><circle class="H" cx="539.3" cy="553.0" r="2"/><circle class="N" cx="440.2" cy="638.2" r="2"/><circle class="S" cx="494.7" cy="597.2" r="2"/><circle class="P" cx="567.5" cy="533.8" r="2"/><circle class="S" cx="469.9" cy="617.1" r="2"/><circle class="D" cx="511.6" cy="581.2" r="2"/><circle class="X" cx="544.4" cy="605.5" r="2"/><circle class="S" cx="472.1" cy="617.0" r="2"/><circle class="H" cx="547.0" cy="551.0" r="2"/><circle class="D" cx="509.2" cy="576.8" r="2"/><circle class="A" cx="651.2" cy="463.9" r="2"/><circle class="A" cx="657.7" cy="457.7" r="2"/><circle class="N" cx="439.7" cy="635.4" r="2"/><circle class="D" cx="502.2" cy="581.9" r="2"/><circle class="H" cx="548.7" cy="550.0" r="2"/><circle class="X" cx="531.5" cy="600.8" r="2"/><circle class="S" cx="478.8" cy="613.8" r="2"/><circle class="S" cx="460.4" cy="627.6" r="2"/><circle class="H" cx="519.7" cy="567.5" r="2"/><circle class="X" cx="551.4" cy="602.1" r="2"/><circle class="A" cx="654.7" cy="461.7" r="2"/><circle class="X" cx="564.0" cy="599.9" r="2"/><circle class="X" cx="557.9" cy="605.9" r="2"/><circle class="N" cx="461.2" cy="620.0" r="2"/><circle class="A" cx="653.6" cy="456.5" r="2"/><circle class="S" cx="464.7" cy="623.6" r="2"/><circle class="A" cx="650.0" cy="462.1" r="2"/><circle class="X" cx="563.1" cy="601.0" r="2"/><circle class="A" cx="649.5" cy="466.7" r="2"/><circle class="P" cx="570.0" cy="533.2" r="2"/><circle class="X" cx="558.7" cy="587.3" r="2"/><circle class="S" cx="470.9" cy="620.2" r="2"/><circle class="N" cx="460.4" cy="621.0" r="2"/><circle class="X" cx="562.3" cy="596.4" r="2"/><circle class="S" cx="464.1" cy="624.2" r="2"/><circle class="H" cx="545.8" cy="551.9" r="2"/><circle class="D" cx="501.0" cy="582.7" r="2"/><circle class="N" cx="450.2" cy="627.2" r="2"/><circle class="D" cx="510.3" cy="578.7" r="2"/><circle class="N" cx="432.6" cy="643.6" r="2"/><circle class="H" cx="564.0" cy="545.1" r="2"/><circle class="S" cx="481.2" cy="610.4" r="2"/><circle class="H" cx="568.8" cy="539.8" r="2"/><circle class="X" cx="566.8" cy="601.6" r="2"/><circle class="D" cx="500.2" cy="583.6" r="2"/><circle class="S" cx="456.9" cy="627.2" r="2"/><circle class="H" cx="544.7" cy="554.5" r="2"/><circle class="H" cx="540.2" cy="553.7" r="2"/><circle class="D" cx="503.4" cy="579.3" r="2"/><circle class="N" cx="525.2" cy="594.7" r="2"/><circle class="A" cx="661.9" cy="457.2" r="2"/><circle class="D" cx="502.4" cy="584.6" r="2"/><circle class="D" cx="508.9" cy="573.5" r="2"/><circle class="X" cx="569.0" cy="605.6" r="2"/><circle class="S" cx="478.6" cy="624.7" r="2"/><circle class="S" cx="471.6" cy="614.3" r="2"/><circle class="X" cx="544.2" cy="609.8" r="2"/><circle class="N" cx="456.2" cy="620.5" r="2"/><circle class="D" cx="513.4" cy="575.1" r="2"/><circle class="N" cx="450.0" cy="625.4" r="2"/><circle class="H" cx="540.4" cy="553.4" r="2"/><circle class="N" cx="448.7" cy="625.0" r="2"/><circle class="A" cx="655.3" cy="459.6" r="2"/><circle class="P" cx="599.1" cy="507.4" r="2"/><circle class="P" cx="567.0" cy="528.2" r="2"/><circle class="X" cx="563.4" cy="600.0" r="2"/><circle class="X" cx="584.5" cy="571.0" r="2"/><circle class="H" cx="545.3" cy="553.7" r="2"/><circle class="N" cx="453.3" cy="620.6" r="2"/><circle class="S" cx="468.1" cy="618.8" r="2"/><circle class="X" cx="551.4" cy="592.2" r="2"/><circle class="P" cx="575.8" cy="527.6" r="2"/><circle class="A" cx="651.5" cy="462.3" r="2"/><circle class="D" cx="512.2" cy="574.8" r="2"/><circle class="P" cx="586.0" cy="515.5" r="2"/><circle class="X" cx="545.1" cy="607.6" r="2"/><circle class="P" cx="593.6" cy="515.3" r="2"/><circle class="H" cx="560.5" cy="544.2" r="2"/><circle class="N" cx="453.6" cy="627.1" r="2"/><circle class="N" cx="435.2" cy="642.8" r="2"/><circle class="N" cx="529.5" cy="534.8" r="2"/><circle class="X" cx="563.5" cy="598.2" r="2"/><circle class="X" cx="564.7" cy="598.0" r="2"/><circle class="A" cx="654.1" cy="461.4" r="2"/><circle class="D" cx="508.0" cy="576.2" r="2"/><circle class="N" cx="450.8" cy="629.1" r="2"/><circle class="P" cx="556.1" cy="535.5" r="2"/><circle class="H" cx="561.1" cy="542.5" r="2"/><circle class="X" cx="561.0" cy="598.5" r="2"/><circle class="H" cx="549.2" cy="550.5" r="2"/><circle class="S" cx="432.3" cy="667.1" r="2"/><circle class="N" cx="462.4" cy="617.7" r="2"/><circle class="S" cx="463.0" cy="624.6" r="2"/><circle class="S" cx="478.5" cy="610.2" r="2"/><circle class="X" cx="570.7" cy="595.1" r="2"/><circle class="X" cx="559.1" cy="607.4" r="2"/><circle class="D" cx="509.9" cy="576.9" r="2"/><circle class="D" cx="513.3" cy="575.5" r="2"/><circle class="X" cx="542.1" cy="606.0" r="2"/><circle class="S" cx="492.7" cy="597.0" r="2"/><circle class="P" cx="589.8" cy="514.7" r="2"/><circle class="S" cx="408.5" cy="676.4" r="2"/><circle class="D" cx="498.8" cy="582.7" r="2"/><circle class="X" cx="553.9" cy="593.7" r="2"/><circle class="H" cx="551.7" cy="546.2" r="2"/><circle class="X" cx="542.3" cy="606.9" r="2"/><circle class="X" cx="565.1" cy="594.8" r="2"/><circle class="X" cx="569.0" cy="595.5" r="2"/><circle class="A" cx="654.5" cy="458.0" r="2"/><circle class="N" cx="434.9" cy="643.3" r="2"/><circle class="X" cx="547.0" cy="602.5" r="2"/><circle class="A" cx="657.0" cy="459.7" r="2"/><circle class="H" cx="561.8" cy="544.0" r="2"/><circle class="D" cx="504.0" cy="580.7" r="2"/><circle class="P" cx="578.4" cy="529.6" r="2"/><circle class="S" cx="478.6" cy="612.2" r="2"/><circle class="X" cx="539.0" cy="596.2" r="2"/><circle class="D" cx="505.2" cy="576.8" r="2"/><circle class="P" cx="580.5" cy="523.1" r="2"/><circle class="N" cx="461.1" cy="618.7" r="2"/><circle class="D" cx="507.9" cy="572.7" r="2"/><circle class="N" cx="439.5" cy="638.2" r="2"/><circle class="S" cx="484.1" cy="606.7" r="2"/><circle class="H" cx="545.2" cy="553.3" r="2"/><circle class="P" cx="597.3" cy="511.9" r="2"/><circle class="H" cx="543.6" cy="556.0" r="2"/><circle class="X" cx="551.4" cy="548.6" r="2"/><circle class="H" cx="565.5" cy="540.1" r="2"/><circle class="N" cx="496.5" cy="572.8" r="2"/><circle class="A" cx="653.0" cy="461.1" r="2"/><circle class="H" cx="522.4" cy="568.0" r="2"/><circle class="P" cx="581.1" cy="520.7" r="2"/><circle class="D" cx="508.4" cy="575.9" r="2"/><circle class="D" cx="506.1" cy="575.7" r="2"/><circle class="S" cx="440.2" cy="657.4" r="2"/><circle class="N" cx="451.1" cy="626.1" r="2"/><circle class="N" cx="452.0" cy="624.2" r="2"/><circle class="X" cx="541.6" cy="609.1" r="2"/><circle class="D" cx="506.0" cy="583.2" r="2"/><circle class="N" cx="545.7" cy="549.8" r="2"/><circle class="N" cx="516.5" cy="595.0" r="2"/><circle class="D" cx="503.4" cy="578.9" r="2"/><circle class="X" cx="539.8" cy="608.5" r="2"/><circle class="A" cx="657.4" cy="460.4" r="2"/><circle class="H" cx="546.4" cy="551.7" r="2"/><circle class="X" cx="563.9" cy="596.6" r="2"/><circle class="H" cx="642.6" cy="478.7" r="2"/><circle class="D" cx="509.0" cy="574.9" r="2"/><circle class="N" cx="454.8" cy="624.0" r="2"/><circle class="X" cx="567.1" cy="600.6" r="2"/><circle class="D" cx="503.7" cy="585.6" r="2"/><circle class="N" cx="485.3" cy="622.4" r="2"/><circle class="D" cx="510.6" cy="575.8" r="2"/><circle class="X" cx="565.4" cy="596.8" r="2"/><circle class="A" cx="654.6" cy="459.9" r="2"/><circle class="S" cx="491.0" cy="596.3" r="2"/><circle class="A" cx="649.3" cy="464.4" r="2"/><circle class="X" cx="566.7" cy="597.7" r="2"/><circle class="S" cx="477.6" cy="616.6" r="2"/><circle class="D" cx="506.1" cy="578.7" r="2"/><circle class="D" cx="505.4" cy="582.8" r="2"/><circle class="A" cx="653.2" cy="463.6" r="2"/><circle class="D" cx="509.3" cy="580.5" r="2"/><circle class="H" cx="547.1" cy="551.9" r="2"/><circle class="P" cx="583.9" cy="521.4" r="2"/><circle class="S" cx="462.6" cy="625.2" r="2"/><circle class="S" cx="403.8" cy="679.4" r="2"/><circle class="P" cx="592.1" cy="515.9" r="2"/><circle class="S" cx="488.3" cy="600.9" r="2"/><circle class="S" cx="483.3" cy="607.6" r="2"/><circle class="A" cx="654.7" cy="460.2" r="2"/><circle class="X" cx="567.6" cy="596.8" r="2"/><circle class="D" cx="508.2" cy="579.7" r="2"/><circle class="S" cx="467.1" cy="620.9" r="2"/><circle class="N" cx="450.1" cy="627.3" r="2"/><circle class="H" cx="544.3" cy="554.2" r="2"/><circle class="P" cx="584.9" cy="516.7" r="2"/><circle class="N" cx="454.1" cy="626.5" r="2"/><circle class="A" cx="655.4" cy="463.3" r="2"/><circle class="A" cx="653.7" cy="462.4" r="2"/><circle class="H" cx="546.8" cy="550.8" r="2"/><circle class="X" cx="555.1" cy="604.3" r="2"/><circle class="H" cx="544.5" cy="553.7" r="2"/><circle class="A" cx="649.4" cy="462.7" r="2"/><circle class="P" cx="589.7" cy="519.6" r="2"/><circle class="H" cx="544.6" cy="551.7" r="2"/><circle class="X" cx="547.6" cy="607.9" r="2"/><circle class="X" cx="543.2" cy="608.7" r="2"/><circle class="H" cx="545.2" cy="553.1" r="2"/><circle class="S" cx="460.0" cy="625.5" r="2"/><circle class="X" cx="568.8" cy="602.2" r="2"/><circle class="A" cx="648.7" cy="461.9" r="2"/><circle class="X" cx="565.3" cy="603.7" r="2"/><circle class="S" cx="431.2" cy="669.9" r="2"/><circle class="X" cx="565.5" cy="600.2" r="2"/><circle class="N" cx="453.1" cy="629.9" r="2"/><circle class="X" cx="558.9" cy="587.5" r="2"/><circle class="X" cx="568.8" cy="596.7" r="2"/><circle class="H" cx="518.9" cy="570.0" r="2"/><circle class="S" cx="463.2" cy="625.0" r="2"/><circle class="P" cx="590.5" cy="515.6" r="2"/><circle class="A" cx="653.7" cy="458.2" r="2"/><circle class="P" cx="570.8" cy="529.7" r="2"/><circle class="N" cx="449.2" cy="630.0" r="2"/><circle class="H" cx="549.2" cy="552.7" r="2"/><circle class="H" cx="549.2" cy="551.5" r="2"/><circle class="A" cx="650.5" cy="463.3" r="2"/><circle class="X" cx="553.9" cy="602.2" r="2"/><circle class="X" cx="548.2" cy="579.4" r="2"/><circle class="H" cx="537.8" cy="555.8" r="2"/><circle class="A" cx="646.7" cy="468.5" r="2"/><circle class="D" cx="512.0" cy="572.2" r="2"/><circle class="A" cx="649.9" cy="464.9" r="2"/><circle class="D" cx="503.4" cy="581.7" r="2"/><circle class="D" cx="503.1" cy="581.8" r="2"/><circle class="A" cx="652.6" cy="459.2" r="2"/><circle class="N" cx="452.1" cy="623.6" r="2"/><circle class="N" cx="430.8" cy="645.0" r="2"/><circle class="N" cx="442.0" cy="634.1" r="2"/><circle class="D" cx="511.3" cy="574.5" r="2"/><circle class="A" cx="648.6" cy="464.6" r="2"/><circle class="A" cx="652.4" cy="460.5" r="2"/><circle class="S" cx="485.4" cy="605.2" r="2"/><circle class="X" cx="549.5" cy="602.9" r="2"/><circle class="A" cx="650.4" cy="463.4" r="2"/><circle class="A" cx="643.4" cy="470.9" r="2"/><circle class="S" cx="458.0" cy="630.3" r="2"/><circle class="X" cx="559.2" cy="600.2" r="2"/><circle class="H" cx="544.8" cy="553.9" r="2"/><circle class="S" cx="478.2" cy="611.6" r="2"/><circle class="S" cx="495.2" cy="597.9" r="2"/><circle class="P" cx="596.0" cy="511.0" r="2"/><circle class="A" cx="656.8" cy="457.7" r="2"/><circle class="P" cx="577.0" cy="525.7" r="2"/><circle class="X" cx="559.9" cy="599.4" r="2"/><circle class="A" cx="645.5" cy="464.1" r="2"/><circle class="H" cx="563.0" cy="539.1" r="2"/><circle class="A" cx="648.2" cy="466.8" r="2"/><circle class="A" cx="649.2" cy="465.4" r="2"/><circle class="H" cx="643.8" cy="491.6" r="2"/><circle class="N" cx="456.1" cy="618.2" r="2"/><circle class="H" cx="549.1" cy="552.1" r="2"/><circle class="H" cx="563.0" cy="561.3" r="2"/><circle class="N" cx="450.3" cy="641.2" r="2"/><circle class="S" cx="492.2" cy="598.5" r="2"/><circle class="N" cx="517.7" cy="592.2" r="2"/><circle class="D" cx="501.0" cy="585.6" r="2"/><circle class="N" cx="534.7" cy="557.3" r="2"/><circle class="S" cx="470.0" cy="619.8" r="2"/><circle class="H" cx="560.1" cy="544.2" r="2"/><circle class="S" cx="476.7" cy="613.0" r="2"/><circle class="H" cx="614.6" cy="504.9" r="2"/><circle class="N" cx="449.6" cy="626.1" r="2"/><circle class="N" cx="449.0" cy="631.0" r="2"/><circle class="D" cx="508.9" cy="578.3" r="2"/><circle class="P" cx="579.9" cy="525.8" r="2"/><circle class="S" cx="423.6" cy="673.4" r="2"/><circle class="X" cx="544.7" cy="607.5" r="2"/><circle class="X" cx="551.4" cy="591.2" r="2"/><circle class="P" cx="579.2" cy="525.3" r="2"/><circle class="S" cx="487.5" cy="604.0" r="2"/><circle class="S" cx="492.9" cy="599.9" r="2"/><circle class="D" cx="510.0" cy="576.3" r="2"/><circle class="H" cx="543.5" cy="554.6" r="2"/><circle class="S" cx="455.8" cy="628.8" r="2"/><circle class="N" cx="447.9" cy="628.3" r="2"/><circle class="D" cx="506.3" cy="577.6" r="2"/><circle class="D" cx="503.9" cy="580.5" r="2"/><circle class="H" cx="543.9" cy="552.7" r="2"/><circle class="P" cx="578.2" cy="525.7" r="2"/><circle class="A" cx="659.2" cy="456.7" r="2"/><circle class="D" cx="506.4" cy="564.4" r="2"/><circle class="S" cx="477.3" cy="611.9" r="2"/><circle class="H" cx="563.4" cy="543.1" r="2"/><circle class="A" cx="647.2" cy="467.6" r="2"/><circle class="S" cx="490.9" cy="602.1" r="2"/><circle class="S" cx="470.5" cy="620.6" r="2"/><circle class="X" cx="544.0" cy="594.7" r="2"/><circle class="X" cx="570.4" cy="593.5" r="2"/><circle class="S" cx="482.6" cy="606.1" r="2"/><circle class="H" cx="643.8" cy="481.9" r="2"/><circle class="S" cx="467.7" cy="624.5" r="2"/><circle class="S" cx="479.6" cy="610.6" r="2"/><circle class="H" cx="543.9" cy="555.5" r="2"/><circle class="N" cx="462.2" cy="612.6" r="2"/><circle class="P" cx="564.1" cy="526.7" r="2"/><circle class="P" cx="567.7" cy="536.9" r="2"/><circle class="P" cx="582.8" cy="523.7" r="2"/><circle class="X" cx="567.8" cy="599.8" r="2"/><circle class="A" cx="651.5" cy="464.1" r="2"/><circle class="H" cx="541.7" cy="562.4" r="2"/><circle class="S" cx="474.3" cy="614.9" r="2"/><circle class="X" cx="542.2" cy="605.2" r="2"/><circle class="A" cx="651.3" cy="465.3" r="2"/><circle class="P" cx="570.6" cy="531.6" r="2"/><circle class="A" cx="651.4" cy="463.5" r="2"/><circle class="D" cx="501.6" cy="582.0" r="2"/><circle class="P" cx="571.3" cy="532.0" r="2"/><circle class="P" cx="576.0" cy="526.8" r="2"/><circle class="A" cx="649.7" cy="462.5" r="2"/><circle class="N" cx="449.4" cy="614.2" r="2"/><circle class="H" cx="555.3" cy="547.0" r="2"/><circle class="A" cx="650.7" cy="462.6" r="2"/><circle class="A" cx="655.6" cy="455.7" r="2"/><circle class="A" cx="650.3" cy="465.3" r="2"/><circle class="N" cx="459.0" cy="613.8" r="2"/><circle class="S" cx="478.1" cy="608.4" r="2"/><circle class="N" cx="448.3" cy="632.8" r="2"/><circle class="H" cx="565.0" cy="549.1" r="2"/><circle class="A" cx="648.8" cy="465.8" r="2"/><circle class="N" cx="553.9" cy="524.8" r="2"/><circle class="N" cx="459.8" cy="618.5" r="2"/><circle class="X" cx="543.3" cy="602.2" r="2"/><circle class="X" cx="566.7" cy="605.2" r="2"/><circle class="X" cx="563.4" cy="601.0" r="2"/><circle class="N" cx="460.2" cy="623.3" r="2"/><circle class="H" cx="565.8" cy="547.6" r="2"/><circle class="P" cx="588.2" cy="520.9" r="2"/><circle class="D" cx="507.3" cy="574.6" r="2"/><circle class="N" cx="545.2" cy="571.0" r="2"/><circle class="X" cx="568.0" cy="597.9" r="2"/><circle class="D" cx="506.5" cy="580.0" r="2"/><circle class="N" cx="452.6" cy="626.0" r="2"/><circle class="X" cx="537.7" cy="596.1" r="2"/><circle class="X" cx="568.4" cy="606.2" r="2"/><circle class="H" cx="566.1" cy="542.3" r="2"/><circle class="A" cx="655.4" cy="458.1" r="2"/><circle class="N" cx="442.3" cy="627.0" r="2"/><circle class="S" cx="457.2" cy="632.3" r="2"/><circle class="H" cx="547.5" cy="550.6" r="2"/><circle class="D" cx="504.0" cy="577.4" r="2"/><circle class="D" cx="504.6" cy="580.4" r="2"/><circle class="D" cx="509.4" cy="575.6" r="2"/><circle class="P" cx="577.1" cy="530.8" r="2"/><circle class="D" cx="502.6" cy="581.4" r="2"/><circle class="X" cx="541.3" cy="606.4" r="2"/><circle class="A" cx="647.3" cy="468.2" r="2"/><circle class="P" cx="596.9" cy="508.5" r="2"/><circle class="H" cx="545.4" cy="557.1" r="2"/><circle class="A" cx="653.9" cy="461.9" r="2"/><circle class="S" cx="428.8" cy="670.2" r="2"/><circle class="P" cx="580.1" cy="524.4" r="2"/><circle class="N" cx="429.5" cy="648.4" r="2"/><circle class="D" cx="505.3" cy="579.2" r="2"/><circle class="N" cx="430.2" cy="649.6" r="2"/><circle class="H" cx="536.8" cy="557.6" r="2"/><circle class="D" cx="506.4" cy="579.1" r="2"/><circle class="H" cx="658.8" cy="488.1" r="2"/><circle class="X" cx="565.8" cy="598.3" r="2"/><circle class="X" cx="542.2" cy="608.4" r="2"/><circle class="S" cx="468.6" cy="620.5" r="2"/><circle class="X" cx="553.4" cy="606.6" r="2"/><circle class="S" cx="405.8" cy="675.2" r="2"/><circle class="H" cx="539.9" cy="555.0" r="2"/><circle class="X" cx="558.5" cy="607.5" r="2"/><circle class="D" cx="503.1" cy="581.1" r="2"/><circle class="H" cx="516.9" cy="569.4" r="2"/><circle class="X" cx="565.2" cy="599.6" r="2"/><circle class="H" cx="540.5" cy="555.5" r="2"/><circle class="N" cx="453.2" cy="626.4" r="2"/><circle class="D" cx="510.7" cy="575.9" r="2"/><circle class="D" cx="508.5" cy="578.2" r="2"/><circle class="X" cx="472.8" cy="610.0" r="2"/><circle class="S" cx="480.9" cy="606.6" r="2"/><circle class="P" cx="588.8" cy="500.2" r="2"/><circle class="A" cx="653.1" cy="464.2" r="2"/><circle class="N" cx="477.0" cy="593.5" r="2"/><circle class="N" cx="458.1" cy="617.5" r="2"/><circle class="S" cx="459.8" cy="629.7" r="2"/><circle class="P" cx="575.8" cy="528.6" r="2"/><circle class="N" cx="477.8" cy="593.7" r="2"/><circle class="A" cx="647.6" cy="462.7" r="2"/><circle class="S" cx="482.0" cy="606.2" r="2"/><circle class="S" cx="482.3" cy="607.8" r="2"/><circle class="H" cx="557.9" cy="546.4" r="2"/><circle class="X" cx="562.4" cy="598.2" r="2"/><circle class="A" cx="653.8" cy="458.4" r="2"/><circle class="A" cx="655.2" cy="461.1" r="2"/><circle class="P" cx="576.5" cy="528.9" r="2"/><circle class="H" cx="566.6" cy="543.3" r="2"/><circle class="D" cx="510.9" cy="576.7" r="2"/><circle class="D" cx="510.2" cy="577.3" r="2"/><circle class="N" cx="431.9" cy="647.9" r="2"/><circle class="P" cx="578.0" cy="527.6" r="2"/><circle class="A" cx="653.2" cy="463.5" r="2"/><circle class="N" cx="448.6" cy="628.8" r="2"/><circle class="P" cx="588.4" cy="515.6" r="2"/><circle class="N" cx="453.1" cy="629.2" r="2"/><circle class="A" cx="660.5" cy="458.5" r="2"/><circle class="D" cx="505.8" cy="578.0" r="2"/><circle class="P" cx="586.8" cy="520.5" r="2"/><circle class="D" cx="500.4" cy="584.6" r="2"/><circle class="D" cx="505.2" cy="580.0" r="2"/><circle class="H" cx="548.6" cy="555.0" r="2"/><circle class="H" cx="539.9" cy="556.9" r="2"/><circle class="N" cx="458.4" cy="622.1" r="2"/><circle class="X" cx="561.8" cy="600.3" r="2"/><circle class="D" cx="504.6" cy="581.1" r="2"/><circle class="A" cx="655.1" cy="458.8" r="2"/><circle class="A" cx="651.1" cy="462.2" r="2"/><circle class="H" cx="568.6" cy="539.9" r="2"/><circle class="D" cx="538.2" cy="552.3" r="2"/><circle class="S" cx="481.1" cy="610.9" r="2"/><circle class="X" cx="562.8" cy="600.0" r="2"/><circle class="D" cx="504.6" cy="578.2" r="2"/><circle class="N" cx="456.0" cy="626.4" r="2"/><circle class="D" cx="517.0" cy="567.5" r="2"/><circle class="X" cx="554.3" cy="591.7" r="2"/><circle class="S" cx="461.2" cy="629.6" r="2"/><circle class="S" cx="476.5" cy="611.2" r="2"/><circle class="D" cx="506.0" cy="577.8" r="2"/><circle class="X" cx="561.2" cy="597.6" r="2"/><circle class="H" cx="556.2" cy="546.7" r="2"/><circle class="P" cx="568.8" cy="537.4" r="2"/><circle class="A" cx="659.0" cy="459.5" r="2"/><circle class="N" cx="452.8" cy="616.8" r="2"/><circle class="S" cx="489.8" cy="605.8" r="2"/><circle class="A" cx="655.0" cy="460.4" r="2"/><circle class="H" cx="534.7" cy="557.4" r="2"/><circle class="N" cx="457.0" cy="624.9" r="2"/><circle class="P" cx="600.1" cy="494.6" r="2"/><circle class="D" cx="509.2" cy="574.2" r="2"/><circle class="S" cx="465.3" cy="623.5" r="2"/><circle class="P" cx="592.4" cy="513.0" r="2"/><circle class="D" cx="503.2" cy="576.9" r="2"/><circle class="D" cx="508.2" cy="582.4" r="2"/><circle class="P" cx="577.5" cy="527.4" r="2"/><circle class="D" cx="496.0" cy="586.3" r="2"/><circle class="A" cx="654.5" cy="458.9" r="2"/><circle class="S" cx="481.3" cy="609.9" r="2"/><circle class="H" cx="545.3" cy="552.2" r="2"/><circle class="H" cx="545.9" cy="554.7" r="2"/><circle class="N" cx="512.7" cy="612.5" r="2"/><circle class="X" cx="539.0" cy="607.0" r="2"/><circle class="D" cx="508.8" cy="581.0" r="2"/><circle class="D" cx="529.0" cy="563.5" r="2"/><circle class="D" cx="502.7" cy="580.3" r="2"/><circle class="D" cx="506.0" cy="581.9" r="2"/><circle class="N" cx="454.2" cy="628.6" r="2"/><circle class="S" cx="489.9" cy="598.8" r="2"/><circle class="X" cx="557.9" cy="608.0" r="2"/><circle class="P" cx="588.3" cy="503.8" r="2"/><circle class="H" cx="537.1" cy="558.7" r="2"/><circle class="P" cx="567.7" cy="535.4" r="2"/><circle class="N" cx="448.6" cy="625.7" r="2"/><circle class="A" cx="658.7" cy="459.2" r="2"/><circle class="H" cx="560.3" cy="544.8" r="2"/><circle class="H" cx="555.0" cy="545.6" r="2"/><circle class="A" cx="650.4" cy="462.5" r="2"/><circle class="P" cx="576.7" cy="524.0" r="2"/><circle class="N" cx="445.8" cy="628.9" r="2"/><circle class="H" cx="535.7" cy="557.9" r="2"/><circle class="N" cx="431.6" cy="645.9" r="2"/><circle class="N" cx="456.6" cy="622.0" r="2"/><circle class="X" cx="539.4" cy="608.5" r="2"/><circle class="X" cx="565.3" cy="602.3" r="2"/><circle class="D" cx="506.5" cy="578.9" r="2"/><circle class="N" cx="448.6" cy="634.6" r="2"/><circle class="P" cx="569.5" cy="535.9" r="2"/><circle class="D" cx="500.8" cy="581.0" r="2"/><circle class="A" cx="650.0" cy="464.8" r="2"/><circle class="D" cx="503.9" cy="580.2" r="2"/><circle class="D" cx="504.2" cy="579.0" r="2"/><circle class="A" cx="658.7" cy="457.0" r="2"/><circle class="S" cx="487.4" cy="602.9" r="2"/><circle class="X" cx="563.4" cy="602.6" r="2"/><circle class="D" cx="510.1" cy="577.5" r="2"/><circle class="X" cx="570.5" cy="604.0" r="2"/><circle class="H" cx="549.1" cy="550.7" r="2"/><circle class="X" cx="540.2" cy="587.5" r="2"/><circle class="H" cx="554.4" cy="548.6" r="2"/><circle class="H" cx="569.4" cy="539.9" r="2"/><circle class="P" cx="585.4" cy="519.8" r="2"/><circle class="S" cx="484.1" cy="604.5" r="2"/><circle class="D" cx="504.5" cy="581.8" r="2"/><circle class="N" cx="460.5" cy="624.3" r="2"/><circle class="N" cx="445.7" cy="629.4" r="2"/><circle class="A" cx="662.0" cy="455.8" r="2"/><circle class="S" cx="473.2" cy="616.1" r="2"/><circle class="P" cx="571.8" cy="531.6" r="2"/><circle class="D" cx="510.9" cy="580.7" r="2"/><circle class="P" cx="590.4" cy="504.3" r="2"/><circle class="N" cx="450.0" cy="626.0" r="2"/><circle class="P" cx="588.0" cy="521.0" r="2"/><circle class="X" cx="569.4" cy="600.3" r="2"/><circle class="X" cx="559.1" cy="601.7" r="2"/><circle class="S" cx="456.0" cy="631.2" r="2"/><circle class="A" cx="647.4" cy="464.1" r="2"/><circle class="D" cx="503.7" cy="579.9" r="2"/><circle class="P" cx="571.5" cy="534.1" r="2"/><circle class="P" cx="585.5" cy="520.8" r="2"/><circle class="A" cx="646.9" cy="469.2" r="2"/><circle class="P" cx="595.6" cy="511.1" r="2"/><circle class="N" cx="451.7" cy="621.9" r="2"/><circle class="D" cx="515.1" cy="573.6" r="2"/><circle class="S" cx="423.6" cy="673.7" r="2"/><circle class="H" cx="559.3" cy="542.5" r="2"/><circle class="P" cx="564.1" cy="558.1" r="2"/><circle class="X" cx="545.7" cy="606.1" r="2"/><circle class="N" cx="457.1" cy="617.6" r="2"/><circle class="S" cx="489.9" cy="603.5" r="2"/><circle class="D" cx="504.8" cy="578.1" r="2"/><circle class="D" cx="508.2" cy="581.2" r="2"/><circle class="D" cx="505.8" cy="577.2" r="2"/><circle class="X" cx="568.2" cy="599.6" r="2"/><circle class="S" cx="439.8" cy="657.9" r="2"/><circle class="X" cx="544.1" cy="609.2" r="2"/><circle class="N" cx="447.3" cy="631.7" r="2"/><circle class="P" cx="595.7" cy="510.6" r="2"/><circle class="N" cx="461.6" cy="620.8" r="2"/><circle class="A" cx="658.7" cy="456.1" r="2"/><circle class="X" cx="546.6" cy="608.1" r="2"/><circle class="A" cx="656.0" cy="459.4" r="2"/><circle class="H" cx="550.9" cy="550.6" r="2"/><circle class="P" cx="581.2" cy="523.1" r="2"/><circle class="A" cx="658.0" cy="458.6" r="2"/><circle class="N" cx="445.5" cy="634.3" r="2"/><circle class="P" cx="580.7" cy="524.1" r="2"/><circle class="X" cx="545.9" cy="608.0" r="2"/><circle class="A" cx="661.8" cy="454.3" r="2"/><circle class="X" cx="540.3" cy="606.3" r="2"/><circle class="N" cx="452.2" cy="627.2" r="2"/><circle class="N" cx="447.8" cy="616.0" r="2"/><circle class="N" cx="432.5" cy="643.5" r="2"/><circle class="N" cx="447.0" cy="627.5" r="2"/><circle class="N" cx="455.5" cy="626.5" r="2"/><circle class="H" cx="543.4" cy="553.7" r="2"/><circle class="X" cx="566.8" cy="596.2" r="2"/><circle class="P" cx="633.1" cy="475.4" r="2"/><circle class="X" cx="588.4" cy="569.0" r="2"/><circle class="A" cx="653.6" cy="461.0" r="2"/><circle class="X" cx="565.0" cy="602.5" r="2"/><circle class="N" cx="452.2" cy="627.7" r="2"/><circle class="N" cx="469.1" cy="602.5" r="2"/><circle class="S" cx="486.5" cy="604.1" r="2"/><circle class="H" cx="545.5" cy="554.0" r="2"/><circle class="H" cx="539.6" cy="552.3" r="2"/><circle class="H" cx="558.2" cy="545.9" r="2"/><circle class="D" cx="507.5" cy="577.3" r="2"/><circle class="D" cx="504.1" cy="583.5" r="2"/><circle class="D" cx="507.1" cy="575.1" r="2"/><circle class="H" cx="560.0" cy="543.8" r="2"/><circle class="X" cx="582.2" cy="566.2" r="2"/><circle class="X" cx="539.9" cy="606.6" r="2"/><circle class="S" cx="465.9" cy="622.3" r="2"/><circle class="S" cx="477.9" cy="616.5" r="2"/><circle class="D" cx="506.9" cy="581.8" r="2"/><circle class="S" cx="465.2" cy="621.5" r="2"/><circle class="S" cx="456.5" cy="632.8" r="2"/><circle class="X" cx="543.3" cy="609.1" r="2"/><circle class="N" cx="475.3" cy="586.0" r="2"/><circle class="X" cx="541.8" cy="608.9" r="2"/><circle class="H" cx="550.0" cy="550.2" r="2"/><circle class="P" cx="588.0" cy="516.4" r="2"/><circle class="N" cx="457.1" cy="618.4" r="2"/><circle class="A" cx="653.8" cy="460.6" r="2"/><circle class="S" cx="435.1" cy="661.2" r="2"/><circle class="D" cx="509.0" cy="574.6" r="2"/><circle class="D" cx="501.8" cy="581.1" r="2"/><circle class="D" cx="505.7" cy="580.7" r="2"/><circle class="P" cx="596.7" cy="511.2" r="2"/><circle class="S" cx="460.3" cy="628.7" r="2"/><circle class="D" cx="506.0" cy="578.5" r="2"/><circle class="X" cx="538.7" cy="608.1" r="2"/><circle class="H" cx="544.5" cy="553.7" r="2"/><circle class="N" cx="453.6" cy="622.3" r="2"/><circle class="X" cx="556.7" cy="603.6" r="2"/><circle class="P" cx="575.2" cy="528.1" r="2"/><circle class="D" cx="502.8" cy="580.1" r="2"/><circle class="H" cx="558.8" cy="545.6" r="2"/><circle class="D" cx="508.9" cy="580.6" r="2"/><circle class="X" cx="542.1" cy="607.4" r="2"/><circle class="A" cx="652.7" cy="463.2" r="2"/><circle class="D" cx="515.1" cy="576.5" r="2"/><circle class="P" cx="596.8" cy="511.6" r="2"/><circle class="S" cx="479.3" cy="611.2" r="2"/><circle class="S" cx="458.2" cy="629.1" r="2"/><circle class="A" cx="653.2" cy="463.0" r="2"/><circle class="S" cx="490.8" cy="599.0" r="2"/><circle class="D" cx="507.0" cy="578.9" r="2"/><circle class="A" cx="659.1" cy="456.3" r="2"/><circle class="X" cx="554.9" cy="606.0" r="2"/><circle class="H" cx="648.8" cy="472.4" r="2"/><circle class="S" cx="491.6" cy="609.9" r="2"/><circle class="P" cx="577.4" cy="526.8" r="2"/><circle class="N" cx="535.2" cy="579.8" r="2"/><circle class="D" cx="507.2" cy="578.8" r="2"/><circle class="H" cx="540.4" cy="552.6" r="2"/><circle class="N" cx="452.1" cy="626.8" r="2"/><circle class="D" cx="506.8" cy="578.6" r="2"/><circle class="D" cx="516.5" cy="573.9" r="2"/><circle class="S" cx="471.8" cy="620.4" r="2"/><circle class="N" cx="443.5" cy="631.1" r="2"/><circle class="N" cx="458.9" cy="618.8" r="2"/><circle class="S" cx="470.4" cy="617.7" r="2"/><circle class="P" cx="592.2" cy="512.5" r="2"/><circle class="N" cx="448.0" cy="627.5" r="2"/><circle class="X" cx="555.9" cy="567.3" r="2"/><circle class="A" cx="654.0" cy="463.3" r="2"/><circle class="S" cx="480.6" cy="611.9" r="2"/><circle class="N" cx="456.1" cy="610.5" r="2"/><circle class="N" cx="455.6" cy="623.3" r="2"/><circle class="N" cx="438.8" cy="636.0" r="2"/><circle class="N" cx="452.5" cy="624.1" r="2"/><circle class="D" cx="507.5" cy="578.0" r="2"/><circle class="D" cx="512.4" cy="575.9" r="2"/><circle class="N" cx="444.2" cy="629.9" r="2"/><circle class="A" cx="653.5" cy="465.9" r="2"/><circle class="S" cx="473.1" cy="619.7" r="2"/><circle class="S" cx="490.3" cy="622.9" r="2"/><circle class="D" cx="519.3" cy="573.6" r="2"/><circle class="P" cx="568.7" cy="532.3" r="2"/><circle class="P" cx="576.8" cy="525.3" r="2"/><circle class="H" cx="558.2" cy="546.0" r="2"/><circle class="H" cx="541.4" cy="553.3" r="2"/><circle class="X" cx="538.8" cy="609.6" r="2"/><circle class="H" cx="526.5" cy="564.3" r="2"/><circle class="N" cx="455.4" cy="622.9" r="2"/><circle class="H" cx="563.4" cy="541.6" r="2"/><circle class="P" cx="585.3" cy="509.4" r="2"/><circle class="N" cx="463.1" cy="617.2" r="2"/><circle class="P" cx="581.0" cy="523.5" r="2"/><circle class="D" cx="498.6" cy="582.3" r="2"/><circle class="X" cx="566.6" cy="601.2" r="2"/><circle class="H" cx="542.8" cy="552.3" r="2"/><circle class="S" cx="432.7" cy="664.8" r="2"/><circle class="S" cx="486.1" cy="606.9" r="2"/><circle class="H" cx="544.3" cy="553.9" r="2"/><circle class="A" cx="643.7" cy="469.7" r="2"/><circle class="A" cx="655.1" cy="463.5" r="2"/><circle class="N" cx="449.7" cy="626.2" r="2"/><circle class="D" cx="506.2" cy="576.7" r="2"/><circle class="X" cx="567.8" cy="597.0" r="2"/><circle class="X" cx="545.0" cy="604.4" r="2"/><circle class="N" cx="453.5" cy="623.6" r="2"/><circle class="S" cx="438.9" cy="656.6" r="2"/><circle class="S" cx="485.5" cy="604.1" r="2"/><circle class="N" cx="452.9" cy="629.6" r="2"/><circle class="S" cx="455.9" cy="630.5" r="2"/><circle class="S" cx="486.7" cy="603.2" r="2"/><circle class="D" cx="512.7" cy="574.3" r="2"/><circle class="S" cx="483.2" cy="606.5" r="2"/><circle class="P" cx="566.5" cy="534.7" r="2"/><circle class="S" cx="473.9" cy="617.8" r="2"/><circle class="A" cx="657.8" cy="460.2" r="2"/><circle class="D" cx="504.1" cy="583.6" r="2"/><circle class="N" cx="547.7" cy="576.5" r="2"/><circle class="X" cx="550.2" cy="606.4" r="2"/><circle class="A" cx="662.4" cy="452.2" r="2"/><circle class="S" cx="465.2" cy="624.9" r="2"/><circle class="X" cx="569.3" cy="604.6" r="2"/><circle class="X" cx="563.5" cy="604.4" r="2"/><circle class="H" cx="535.1" cy="555.8" r="2"/><circle class="N" cx="449.7" cy="626.8" r="2"/><circle class="S" cx="464.1" cy="629.5" r="2"/><circle class="N" cx="464.8" cy="614.9" r="2"/><circle class="N" cx="457.4" cy="623.7" r="2"/><circle class="D" cx="508.2" cy="575.5" r="2"/><circle class="H" cx="543.1" cy="554.8" r="2"/><circle class="A" cx="653.1" cy="460.0" r="2"/><circle class="P" cx="591.5" cy="514.3" r="2"/><circle class="D" cx="513.1" cy="578.7" r="2"/><circle class="N" cx="452.0" cy="623.5" r="2"/><circle class="P" cx="585.1" cy="521.7" r="2"/><circle class="N" cx="451.0" cy="629.6" r="2"/><circle class="D" cx="509.5" cy="574.7" r="2"/><circle class="A" cx="654.0" cy="461.3" r="2"/><circle class="A" cx="655.4" cy="461.7" r="2"/><circle class="D" cx="508.2" cy="580.9" r="2"/><circle class="N" cx="438.5" cy="638.8" r="2"/><circle class="D" cx="506.4" cy="578.9" r="2"/><circle class="S" cx="490.2" cy="603.0" r="2"/><circle class="P" cx="568.9" cy="537.2" r="2"/><circle class="S" cx="458.4" cy="630.2" r="2"/><circle class="X" cx="565.0" cy="598.7" r="2"/><circle class="D" cx="510.9" cy="580.9" r="2"/><circle class="N" cx="502.8" cy="597.5" r="2"/><circle class="D" cx="505.2" cy="580.7" r="2"/><circle class="A" cx="652.6" cy="464.7" r="2"/><circle class="D" cx="506.9" cy="578.5" r="2"/><circle class="S" cx="490.0" cy="597.7" r="2"/><circle class="P" cx="573.5" cy="529.4" r="2"/><circle class="P" cx="568.3" cy="534.6" r="2"/><circle class="P" cx="574.4" cy="529.9" r="2"/><circle class="X" cx="566.2" cy="598.7" r="2"/><circle class="P" cx="594.6" cy="513.3" r="2"/><circle class="X" cx="570.4" cy="598.3" r="2"/><circle class="N" cx="457.8" cy="622.5" r="2"/><circle class="D" cx="508.8" cy="580.5" r="2"/><circle class="S" cx="465.9" cy="622.3" r="2"/><circle class="N" cx="457.3" cy="621.8" r="2"/><circle class="P" cx="589.7" cy="516.3" r="2"/><circle class="A" cx="653.3" cy="462.9" r="2"/><circle class="P" cx="586.1" cy="520.5" r="2"/><circle class="H" cx="544.0" cy="553.6" r="2"/><circle class="S" cx="481.7" cy="609.4" r="2"/><circle class="D" cx="504.0" cy="580.6" r="2"/><circle class="A" cx="651.0" cy="459.6" r="2"/><circle class="D" cx="503.3" cy="581.5" r="2"/><circle class="N" cx="455.7" cy="621.2" r="2"/><circle class="N" cx="451.8" cy="625.7" r="2"/><circle class="X" cx="567.2" cy="603.9" r="2"/><circle class="N" cx="450.5" cy="619.5" r="2"/><circle class="H" cx="557.1" cy="545.9" r="2"/><circle class="P" cx="581.1" cy="522.9" r="2"/><circle class="H" cx="530.5" cy="563.4" r="2"/><circle class="P" cx="591.7" cy="511.8" r="2"/><circle class="P" cx="577.5" cy="526.7" r="2"/><circle class="H" cx="543.5" cy="554.8" r="2"/><circle class="H" cx="540.4" cy="556.4" r="2"/><circle class="A" cx="652.6" cy="458.7" r="2"/><circle class="N" cx="452.6" cy="628.3" r="2"/><circle class="D" cx="502.9" cy="583.5" r="2"/><circle class="S" cx="493.1" cy="597.6" r="2"/><circle class="P" cx="598.0" cy="510.7" r="2"/><circle class="N" cx="487.3" cy="579.8" r="2"/><circle class="X" cx="560.8" cy="600.3" r="2"/><circle class="A" cx="650.6" cy="464.4" r="2"/><circle class="X" cx="581.6" cy="570.7" r="2"/><circle class="P" cx="598.3" cy="511.6" r="2"/><circle class="S" cx="427.0" cy="673.5" r="2"/><circle class="N" cx="446.6" cy="627.9" r="2"/><circle class="X" cx="567.0" cy="597.1" r="2"/><circle class="P" cx="583.1" cy="518.8" r="2"/><circle class="H" cx="563.3" cy="543.4" r="2"/><circle class="A" cx="645.9" cy="466.2" r="2"/><circle class="X" cx="563.9" cy="582.5" r="2"/><circle class="H" cx="566.0" cy="544.4" r="2"/><circle class="D" cx="511.7" cy="578.6" r="2"/><circle class="X" cx="549.2" cy="606.5" r="2"/>
</g>
<line x1="382.7" y1="439.3" x2="382.7" y2="742.8" stroke="#707070" stroke-width="0.9"/>
<line x1="369.2" y1="729.3" x2="675.8" y2="729.3" stroke="#808080" stroke-width="1.0"/>
<rect x="369.2" y="439.3" width="306.59999999999997" height="303.49999999999994" fill="none" stroke="#444" stroke-width="0.7"/>
<line x1="382.7" y1="742.8" x2="382.7" y2="744.8" stroke="#222" stroke-width="0.6"/>
<text font-size="5.1" text-anchor="middle" fill="#000" transform="translate(382.7 752.0) scale(1 1.18)">0.0</text>
<line x1="446.02" y1="742.8" x2="446.02" y2="744.8" stroke="#222" stroke-width="0.6"/>
<text font-size="5.1" text-anchor="middle" fill="#000" transform="translate(446.0 752.0) scale(1 1.18)">0.2</text>
<line x1="509.34000000000003" y1="742.8" x2="509.34000000000003" y2="744.8" stroke="#222" stroke-width="0.6"/>
<text font-size="5.1" text-anchor="middle" fill="#000" transform="translate(509.3 752.0) scale(1 1.18)">0.4</text>
<line x1="572.66" y1="742.8" x2="572.66" y2="744.8" stroke="#222" stroke-width="0.6"/>
<text font-size="5.1" text-anchor="middle" fill="#000" transform="translate(572.7 752.0) scale(1 1.18)">0.6</text>
<line x1="635.98" y1="742.8" x2="635.98" y2="744.8" stroke="#222" stroke-width="0.6"/>
<text font-size="5.1" text-anchor="middle" fill="#000" transform="translate(636.0 752.0) scale(1 1.18)">0.8</text>
<line x1="367.2" y1="729.3" x2="369.2" y2="729.3" stroke="#222" stroke-width="0.6"/>
<text font-size="5.1" text-anchor="end" fill="#000" transform="translate(365.3 731.5) scale(1 1.18)">0.0</text>
<line x1="367.2" y1="670.3399999999999" x2="369.2" y2="670.3399999999999" stroke="#222" stroke-width="0.6"/>
<text font-size="5.1" text-anchor="end" fill="#000" transform="translate(365.3 672.5) scale(1 1.18)">0.2</text>
<line x1="367.2" y1="611.3799999999999" x2="369.2" y2="611.3799999999999" stroke="#222" stroke-width="0.6"/>
<text font-size="5.1" text-anchor="end" fill="#000" transform="translate(365.3 613.5) scale(1 1.18)">0.4</text>
<line x1="367.2" y1="552.42" x2="369.2" y2="552.42" stroke="#222" stroke-width="0.6"/>
<text font-size="5.1" text-anchor="end" fill="#000" transform="translate(365.3 554.6) scale(1 1.18)">0.6</text>
<line x1="367.2" y1="493.4599999999999" x2="369.2" y2="493.4599999999999" stroke="#222" stroke-width="0.6"/>
<text font-size="5.1" text-anchor="end" fill="#000" transform="translate(365.3 495.6) scale(1 1.18)">0.8</text>
<text x="522.5" y="436.0" font-size="6.6" text-anchor="middle" fill="#000">Predictions vs. labels (test set)</text>
<text x="522.5" y="759.9" font-size="5.4" text-anchor="middle" fill="#000">Arousal</text>
<text x="353.0" y="591.0" font-size="5.4" text-anchor="middle" fill="#000" transform="rotate(-90 353.0 591.0)">Dominance</text>
<text font-size="5.4" text-anchor="start" fill="#000" transform="translate(662.9 458.4) scale(1 1.07)">Angry</text>
<text font-size="5.4" text-anchor="start" fill="#000" transform="translate(586.6 527.6) scale(1 1.07)">Surprised</text>
<text font-size="5.4" text-anchor="start" fill="#000" transform="translate(557.2 553.1) scale(1 1.07)">Happy</text>
<text font-size="5.4" text-anchor="start" fill="#000" transform="translate(511 582) scale(1 1.07)">Disgust</text>
<text font-size="5.4" text-anchor="start" fill="#000" transform="translate(581.5 607) scale(1 1.07)">Anxious</text>
<text font-size="5.4" text-anchor="start" fill="#000" transform="translate(486.1 611.3) scale(1 1.07)">Sad</text>
<text font-size="5.4" text-anchor="start" fill="#000" transform="translate(444 639.8) scale(1 1.07)">Neutral</text>
<text font-size="5.4" text-anchor="middle" fill="#000" transform="translate(650.0 554.1) scale(1 1.07)">Emotions</text>
<circle cx="634.8" cy="563.1" r="2.2" fill="#ff0000"/>
<text font-size="5.4" text-anchor="start" fill="#000" transform="translate(645.0 565.2) scale(1 1.07)">Neutral</text>
<circle cx="634.8" cy="574.2" r="2.2" fill="#ffd000"/>
<text font-size="5.4" text-anchor="start" fill="#000" transform="translate(645.0 576.3) scale(1 1.07)">Happy</text>
<circle cx="634.8" cy="585.3" r="2.2" fill="#4fff00"/>
<text font-size="5.4" text-anchor="start" fill="#000" transform="translate(645.0 587.4) scale(1 1.07)">Sad</text>
<circle cx="634.8" cy="596.4" r="2.2" fill="#00ff86"/>
<text font-size="5.4" text-anchor="start" fill="#000" transform="translate(645.0 598.5) scale(1 1.07)">Angry</text>
<circle cx="634.8" cy="607.5" r="2.2" fill="#0090ff"/>
<text font-size="5.4" text-anchor="start" fill="#000" transform="translate(645.0 609.6) scale(1 1.07)">Anxious</text>
<circle cx="634.8" cy="618.6" r="2.2" fill="#3700ff"/>
<text font-size="5.4" text-anchor="start" fill="#000" transform="translate(645.0 620.7) scale(1 1.07)">Disgust</text>
<circle cx="634.8" cy="629.7" r="2.2" fill="#ff00d8"/>
<text font-size="5.4" text-anchor="start" fill="#000" transform="translate(645.0 631.8) scale(1 1.07)">Surprised</text>
<text x="165.9" y="379.6" font-size="30" text-anchor="middle" fill="#000" style="font-family:'Liberation Serif',serif">(a)</text>
<text x="514.1" y="379.6" font-size="30" text-anchor="middle" fill="#000" style="font-family:'Liberation Serif',serif">(b)</text>
<text x="160.1" y="806.8" font-size="30" text-anchor="middle" fill="#000" style="font-family:'Liberation Serif',serif">(c)</text>
<text x="508.6" y="806.8" font-size="30" text-anchor="middle" fill="#000" style="font-family:'Liberation Serif',serif">(d)</text>
</svg></body></html>
